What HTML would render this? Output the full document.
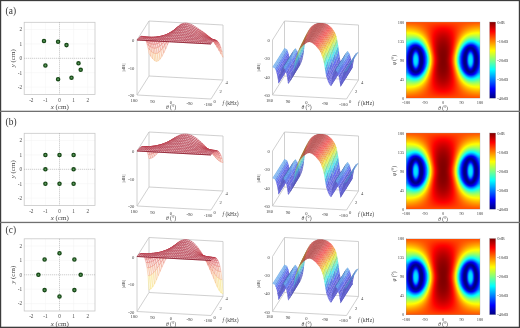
<!DOCTYPE html>
<html><head><meta charset="utf-8"><style>html,body{margin:0;padding:0;background:#fff;overflow:hidden}</style></head><body>
<svg width="520" height="328" viewBox="0 0 520 328" style="display:block;filter:blur(0.3px);font-family:'Liberation Serif',serif" font-size="5.2" fill="#444">
<rect width="520" height="328" fill="#fff"/>
<defs><linearGradient id="h0"><stop offset="0.000" stop-color="#ff5300"/><stop offset="0.027" stop-color="#ff5300"/><stop offset="0.054" stop-color="#ff5300"/><stop offset="0.081" stop-color="#ff5300"/><stop offset="0.108" stop-color="#ff5300"/><stop offset="0.135" stop-color="#ff5300"/><stop offset="0.162" stop-color="#ff5200"/><stop offset="0.189" stop-color="#ff5200"/><stop offset="0.216" stop-color="#ff5200"/><stop offset="0.243" stop-color="#ff5100"/><stop offset="0.270" stop-color="#ff5100"/><stop offset="0.297" stop-color="#ff5100"/><stop offset="0.324" stop-color="#ff5000"/><stop offset="0.351" stop-color="#ff5000"/><stop offset="0.378" stop-color="#ff4f00"/><stop offset="0.405" stop-color="#ff4f00"/><stop offset="0.432" stop-color="#ff4e00"/><stop offset="0.459" stop-color="#ff4d00"/><stop offset="0.486" stop-color="#ff4d00"/><stop offset="0.514" stop-color="#ff4c00"/><stop offset="0.541" stop-color="#ff4c00"/><stop offset="0.568" stop-color="#ff4b00"/><stop offset="0.595" stop-color="#ff4b00"/><stop offset="0.622" stop-color="#ff4a00"/><stop offset="0.649" stop-color="#ff4a00"/><stop offset="0.676" stop-color="#ff4900"/><stop offset="0.703" stop-color="#ff4900"/><stop offset="0.730" stop-color="#ff4800"/><stop offset="0.757" stop-color="#ff4800"/><stop offset="0.784" stop-color="#ff4700"/><stop offset="0.811" stop-color="#ff4700"/><stop offset="0.838" stop-color="#ff4700"/><stop offset="0.865" stop-color="#ff4600"/><stop offset="0.892" stop-color="#ff4600"/><stop offset="0.919" stop-color="#ff4600"/><stop offset="0.946" stop-color="#ff4600"/><stop offset="0.973" stop-color="#ff4600"/><stop offset="1.000" stop-color="#ff4600"/></linearGradient><linearGradient id="h1"><stop offset="0.000" stop-color="#ff6100"/><stop offset="0.027" stop-color="#ff6100"/><stop offset="0.054" stop-color="#ff6100"/><stop offset="0.081" stop-color="#ff6100"/><stop offset="0.108" stop-color="#ff6000"/><stop offset="0.135" stop-color="#ff6000"/><stop offset="0.162" stop-color="#ff5f00"/><stop offset="0.189" stop-color="#ff5e00"/><stop offset="0.216" stop-color="#ff5d00"/><stop offset="0.243" stop-color="#ff5c00"/><stop offset="0.270" stop-color="#ff5b00"/><stop offset="0.297" stop-color="#ff5900"/><stop offset="0.324" stop-color="#ff5800"/><stop offset="0.351" stop-color="#ff5600"/><stop offset="0.378" stop-color="#ff5500"/><stop offset="0.405" stop-color="#ff5300"/><stop offset="0.432" stop-color="#ff5200"/><stop offset="0.459" stop-color="#ff5000"/><stop offset="0.486" stop-color="#ff4e00"/><stop offset="0.514" stop-color="#ff4d00"/><stop offset="0.541" stop-color="#ff4b00"/><stop offset="0.568" stop-color="#ff4900"/><stop offset="0.595" stop-color="#ff4700"/><stop offset="0.622" stop-color="#ff4600"/><stop offset="0.649" stop-color="#ff4400"/><stop offset="0.676" stop-color="#ff4300"/><stop offset="0.703" stop-color="#ff4100"/><stop offset="0.730" stop-color="#ff4000"/><stop offset="0.757" stop-color="#ff3f00"/><stop offset="0.784" stop-color="#ff3e00"/><stop offset="0.811" stop-color="#ff3c00"/><stop offset="0.838" stop-color="#ff3c00"/><stop offset="0.865" stop-color="#ff3b00"/><stop offset="0.892" stop-color="#ff3a00"/><stop offset="0.919" stop-color="#ff3a00"/><stop offset="0.946" stop-color="#ff3900"/><stop offset="0.973" stop-color="#ff3900"/><stop offset="1.000" stop-color="#ff3900"/></linearGradient><linearGradient id="h2"><stop offset="0.000" stop-color="#ff7000"/><stop offset="0.027" stop-color="#ff7000"/><stop offset="0.054" stop-color="#ff6f00"/><stop offset="0.081" stop-color="#ff6f00"/><stop offset="0.108" stop-color="#ff6e00"/><stop offset="0.135" stop-color="#ff6d00"/><stop offset="0.162" stop-color="#ff6c00"/><stop offset="0.189" stop-color="#ff6a00"/><stop offset="0.216" stop-color="#ff6900"/><stop offset="0.243" stop-color="#ff6700"/><stop offset="0.270" stop-color="#ff6500"/><stop offset="0.297" stop-color="#ff6300"/><stop offset="0.324" stop-color="#ff6100"/><stop offset="0.351" stop-color="#ff5e00"/><stop offset="0.378" stop-color="#ff5c00"/><stop offset="0.405" stop-color="#ff5900"/><stop offset="0.432" stop-color="#ff5600"/><stop offset="0.459" stop-color="#ff5300"/><stop offset="0.486" stop-color="#ff5000"/><stop offset="0.514" stop-color="#ff4e00"/><stop offset="0.541" stop-color="#ff4b00"/><stop offset="0.568" stop-color="#ff4800"/><stop offset="0.595" stop-color="#ff4500"/><stop offset="0.622" stop-color="#ff4200"/><stop offset="0.649" stop-color="#ff4000"/><stop offset="0.676" stop-color="#ff3d00"/><stop offset="0.703" stop-color="#ff3b00"/><stop offset="0.730" stop-color="#ff3800"/><stop offset="0.757" stop-color="#ff3600"/><stop offset="0.784" stop-color="#ff3400"/><stop offset="0.811" stop-color="#ff3300"/><stop offset="0.838" stop-color="#ff3100"/><stop offset="0.865" stop-color="#ff3000"/><stop offset="0.892" stop-color="#ff2f00"/><stop offset="0.919" stop-color="#ff2e00"/><stop offset="0.946" stop-color="#ff2d00"/><stop offset="0.973" stop-color="#ff2d00"/><stop offset="1.000" stop-color="#ff2d00"/></linearGradient><linearGradient id="h3"><stop offset="0.000" stop-color="#ff7f00"/><stop offset="0.027" stop-color="#ff7f00"/><stop offset="0.054" stop-color="#ff7e00"/><stop offset="0.081" stop-color="#ff7d00"/><stop offset="0.108" stop-color="#ff7c00"/><stop offset="0.135" stop-color="#ff7b00"/><stop offset="0.162" stop-color="#ff7900"/><stop offset="0.189" stop-color="#ff7800"/><stop offset="0.216" stop-color="#ff7500"/><stop offset="0.243" stop-color="#ff7300"/><stop offset="0.270" stop-color="#ff7000"/><stop offset="0.297" stop-color="#ff6d00"/><stop offset="0.324" stop-color="#ff6a00"/><stop offset="0.351" stop-color="#ff6700"/><stop offset="0.378" stop-color="#ff6300"/><stop offset="0.405" stop-color="#ff5f00"/><stop offset="0.432" stop-color="#ff5c00"/><stop offset="0.459" stop-color="#ff5800"/><stop offset="0.486" stop-color="#ff5400"/><stop offset="0.514" stop-color="#ff4f00"/><stop offset="0.541" stop-color="#ff4b00"/><stop offset="0.568" stop-color="#ff4700"/><stop offset="0.595" stop-color="#ff4300"/><stop offset="0.622" stop-color="#ff3f00"/><stop offset="0.649" stop-color="#ff3c00"/><stop offset="0.676" stop-color="#ff3800"/><stop offset="0.703" stop-color="#ff3500"/><stop offset="0.730" stop-color="#ff3100"/><stop offset="0.757" stop-color="#ff2e00"/><stop offset="0.784" stop-color="#ff2c00"/><stop offset="0.811" stop-color="#ff2900"/><stop offset="0.838" stop-color="#ff2700"/><stop offset="0.865" stop-color="#ff2500"/><stop offset="0.892" stop-color="#ff2400"/><stop offset="0.919" stop-color="#ff2200"/><stop offset="0.946" stop-color="#ff2100"/><stop offset="0.973" stop-color="#ff2100"/><stop offset="1.000" stop-color="#ff2100"/></linearGradient><linearGradient id="h4"><stop offset="0.000" stop-color="#ff8e00"/><stop offset="0.027" stop-color="#ff8e00"/><stop offset="0.054" stop-color="#ff8e00"/><stop offset="0.081" stop-color="#ff8d00"/><stop offset="0.108" stop-color="#ff8b00"/><stop offset="0.135" stop-color="#ff8a00"/><stop offset="0.162" stop-color="#ff8800"/><stop offset="0.189" stop-color="#ff8600"/><stop offset="0.216" stop-color="#ff8300"/><stop offset="0.243" stop-color="#ff8000"/><stop offset="0.270" stop-color="#ff7c00"/><stop offset="0.297" stop-color="#ff7900"/><stop offset="0.324" stop-color="#ff7500"/><stop offset="0.351" stop-color="#ff7000"/><stop offset="0.378" stop-color="#ff6c00"/><stop offset="0.405" stop-color="#ff6700"/><stop offset="0.432" stop-color="#ff6200"/><stop offset="0.459" stop-color="#ff5d00"/><stop offset="0.486" stop-color="#ff5800"/><stop offset="0.514" stop-color="#ff5200"/><stop offset="0.541" stop-color="#ff4d00"/><stop offset="0.568" stop-color="#ff4800"/><stop offset="0.595" stop-color="#ff4200"/><stop offset="0.622" stop-color="#ff3d00"/><stop offset="0.649" stop-color="#ff3800"/><stop offset="0.676" stop-color="#ff3400"/><stop offset="0.703" stop-color="#ff2f00"/><stop offset="0.730" stop-color="#ff2b00"/><stop offset="0.757" stop-color="#ff2700"/><stop offset="0.784" stop-color="#ff2300"/><stop offset="0.811" stop-color="#ff2000"/><stop offset="0.838" stop-color="#ff1d00"/><stop offset="0.865" stop-color="#ff1b00"/><stop offset="0.892" stop-color="#ff1900"/><stop offset="0.919" stop-color="#ff1700"/><stop offset="0.946" stop-color="#ff1600"/><stop offset="0.973" stop-color="#ff1600"/><stop offset="1.000" stop-color="#ff1500"/></linearGradient><linearGradient id="h5"><stop offset="0.000" stop-color="#ff9f00"/><stop offset="0.027" stop-color="#ff9e00"/><stop offset="0.054" stop-color="#ff9e00"/><stop offset="0.081" stop-color="#ff9d00"/><stop offset="0.108" stop-color="#ff9b00"/><stop offset="0.135" stop-color="#ff9900"/><stop offset="0.162" stop-color="#ff9700"/><stop offset="0.189" stop-color="#ff9400"/><stop offset="0.216" stop-color="#ff9100"/><stop offset="0.243" stop-color="#ff8e00"/><stop offset="0.270" stop-color="#ff8a00"/><stop offset="0.297" stop-color="#ff8500"/><stop offset="0.324" stop-color="#ff8000"/><stop offset="0.351" stop-color="#ff7b00"/><stop offset="0.378" stop-color="#ff7500"/><stop offset="0.405" stop-color="#ff6f00"/><stop offset="0.432" stop-color="#ff6900"/><stop offset="0.459" stop-color="#ff6300"/><stop offset="0.486" stop-color="#ff5c00"/><stop offset="0.514" stop-color="#ff5600"/><stop offset="0.541" stop-color="#ff4f00"/><stop offset="0.568" stop-color="#ff4900"/><stop offset="0.595" stop-color="#ff4200"/><stop offset="0.622" stop-color="#ff3c00"/><stop offset="0.649" stop-color="#ff3600"/><stop offset="0.676" stop-color="#ff3000"/><stop offset="0.703" stop-color="#ff2a00"/><stop offset="0.730" stop-color="#ff2500"/><stop offset="0.757" stop-color="#ff2000"/><stop offset="0.784" stop-color="#ff1c00"/><stop offset="0.811" stop-color="#ff1800"/><stop offset="0.838" stop-color="#ff1400"/><stop offset="0.865" stop-color="#ff1100"/><stop offset="0.892" stop-color="#ff0f00"/><stop offset="0.919" stop-color="#ff0d00"/><stop offset="0.946" stop-color="#ff0c00"/><stop offset="0.973" stop-color="#ff0b00"/><stop offset="1.000" stop-color="#ff0b00"/></linearGradient><linearGradient id="h6"><stop offset="0.000" stop-color="#ffaf00"/><stop offset="0.027" stop-color="#ffaf00"/><stop offset="0.054" stop-color="#ffae00"/><stop offset="0.081" stop-color="#ffad00"/><stop offset="0.108" stop-color="#ffac00"/><stop offset="0.135" stop-color="#ffaa00"/><stop offset="0.162" stop-color="#ffa700"/><stop offset="0.189" stop-color="#ffa400"/><stop offset="0.216" stop-color="#ffa100"/><stop offset="0.243" stop-color="#ff9c00"/><stop offset="0.270" stop-color="#ff9800"/><stop offset="0.297" stop-color="#ff9300"/><stop offset="0.324" stop-color="#ff8d00"/><stop offset="0.351" stop-color="#ff8700"/><stop offset="0.378" stop-color="#ff8000"/><stop offset="0.405" stop-color="#ff7900"/><stop offset="0.432" stop-color="#ff7200"/><stop offset="0.459" stop-color="#ff6a00"/><stop offset="0.486" stop-color="#ff6200"/><stop offset="0.514" stop-color="#ff5a00"/><stop offset="0.541" stop-color="#ff5200"/><stop offset="0.568" stop-color="#ff4a00"/><stop offset="0.595" stop-color="#ff4300"/><stop offset="0.622" stop-color="#ff3b00"/><stop offset="0.649" stop-color="#ff3300"/><stop offset="0.676" stop-color="#ff2c00"/><stop offset="0.703" stop-color="#ff2600"/><stop offset="0.730" stop-color="#ff1f00"/><stop offset="0.757" stop-color="#ff1a00"/><stop offset="0.784" stop-color="#ff1400"/><stop offset="0.811" stop-color="#ff1000"/><stop offset="0.838" stop-color="#ff0c00"/><stop offset="0.865" stop-color="#ff0800"/><stop offset="0.892" stop-color="#ff0500"/><stop offset="0.919" stop-color="#ff0300"/><stop offset="0.946" stop-color="#ff0100"/><stop offset="0.973" stop-color="#ff0000"/><stop offset="1.000" stop-color="#ff0000"/></linearGradient><linearGradient id="h7"><stop offset="0.000" stop-color="#ffc100"/><stop offset="0.027" stop-color="#ffc000"/><stop offset="0.054" stop-color="#ffc000"/><stop offset="0.081" stop-color="#ffbf00"/><stop offset="0.108" stop-color="#ffbd00"/><stop offset="0.135" stop-color="#ffbb00"/><stop offset="0.162" stop-color="#ffb800"/><stop offset="0.189" stop-color="#ffb500"/><stop offset="0.216" stop-color="#ffb100"/><stop offset="0.243" stop-color="#ffad00"/><stop offset="0.270" stop-color="#ffa700"/><stop offset="0.297" stop-color="#ffa200"/><stop offset="0.324" stop-color="#ff9b00"/><stop offset="0.351" stop-color="#ff9400"/><stop offset="0.378" stop-color="#ff8c00"/><stop offset="0.405" stop-color="#ff8400"/><stop offset="0.432" stop-color="#ff7b00"/><stop offset="0.459" stop-color="#ff7200"/><stop offset="0.486" stop-color="#ff6900"/><stop offset="0.514" stop-color="#ff6000"/><stop offset="0.541" stop-color="#ff5600"/><stop offset="0.568" stop-color="#ff4d00"/><stop offset="0.595" stop-color="#ff4400"/><stop offset="0.622" stop-color="#ff3b00"/><stop offset="0.649" stop-color="#ff3200"/><stop offset="0.676" stop-color="#ff2a00"/><stop offset="0.703" stop-color="#ff2200"/><stop offset="0.730" stop-color="#ff1a00"/><stop offset="0.757" stop-color="#ff1400"/><stop offset="0.784" stop-color="#ff0e00"/><stop offset="0.811" stop-color="#ff0800"/><stop offset="0.838" stop-color="#ff0400"/><stop offset="0.865" stop-color="#fe0000"/><stop offset="0.892" stop-color="#fb0000"/><stop offset="0.919" stop-color="#f90000"/><stop offset="0.946" stop-color="#f70000"/><stop offset="0.973" stop-color="#f60000"/><stop offset="1.000" stop-color="#f50000"/></linearGradient><linearGradient id="h8"><stop offset="0.000" stop-color="#ffd200"/><stop offset="0.027" stop-color="#ffd200"/><stop offset="0.054" stop-color="#ffd200"/><stop offset="0.081" stop-color="#ffd100"/><stop offset="0.108" stop-color="#ffcf00"/><stop offset="0.135" stop-color="#ffcd00"/><stop offset="0.162" stop-color="#ffca00"/><stop offset="0.189" stop-color="#ffc700"/><stop offset="0.216" stop-color="#ffc300"/><stop offset="0.243" stop-color="#ffbe00"/><stop offset="0.270" stop-color="#ffb800"/><stop offset="0.297" stop-color="#ffb200"/><stop offset="0.324" stop-color="#ffab00"/><stop offset="0.351" stop-color="#ffa200"/><stop offset="0.378" stop-color="#ff9a00"/><stop offset="0.405" stop-color="#ff9000"/><stop offset="0.432" stop-color="#ff8600"/><stop offset="0.459" stop-color="#ff7c00"/><stop offset="0.486" stop-color="#ff7100"/><stop offset="0.514" stop-color="#ff6600"/><stop offset="0.541" stop-color="#ff5b00"/><stop offset="0.568" stop-color="#ff5000"/><stop offset="0.595" stop-color="#ff4500"/><stop offset="0.622" stop-color="#ff3b00"/><stop offset="0.649" stop-color="#ff3100"/><stop offset="0.676" stop-color="#ff2700"/><stop offset="0.703" stop-color="#ff1e00"/><stop offset="0.730" stop-color="#ff1600"/><stop offset="0.757" stop-color="#ff0e00"/><stop offset="0.784" stop-color="#ff0700"/><stop offset="0.811" stop-color="#ff0100"/><stop offset="0.838" stop-color="#fb0000"/><stop offset="0.865" stop-color="#f60000"/><stop offset="0.892" stop-color="#f20000"/><stop offset="0.919" stop-color="#f00000"/><stop offset="0.946" stop-color="#ed0000"/><stop offset="0.973" stop-color="#ec0000"/><stop offset="1.000" stop-color="#ec0000"/></linearGradient><linearGradient id="h9"><stop offset="0.000" stop-color="#ffe500"/><stop offset="0.027" stop-color="#ffe500"/><stop offset="0.054" stop-color="#ffe400"/><stop offset="0.081" stop-color="#ffe300"/><stop offset="0.108" stop-color="#ffe200"/><stop offset="0.135" stop-color="#ffe000"/><stop offset="0.162" stop-color="#ffdd00"/><stop offset="0.189" stop-color="#ffda00"/><stop offset="0.216" stop-color="#ffd600"/><stop offset="0.243" stop-color="#ffd100"/><stop offset="0.270" stop-color="#ffcb00"/><stop offset="0.297" stop-color="#ffc400"/><stop offset="0.324" stop-color="#ffbc00"/><stop offset="0.351" stop-color="#ffb300"/><stop offset="0.378" stop-color="#ffa900"/><stop offset="0.405" stop-color="#ff9e00"/><stop offset="0.432" stop-color="#ff9300"/><stop offset="0.459" stop-color="#ff8700"/><stop offset="0.486" stop-color="#ff7a00"/><stop offset="0.514" stop-color="#ff6e00"/><stop offset="0.541" stop-color="#ff6100"/><stop offset="0.568" stop-color="#ff5400"/><stop offset="0.595" stop-color="#ff4800"/><stop offset="0.622" stop-color="#ff3c00"/><stop offset="0.649" stop-color="#ff3100"/><stop offset="0.676" stop-color="#ff2600"/><stop offset="0.703" stop-color="#ff1b00"/><stop offset="0.730" stop-color="#ff1200"/><stop offset="0.757" stop-color="#ff0900"/><stop offset="0.784" stop-color="#ff0100"/><stop offset="0.811" stop-color="#f90000"/><stop offset="0.838" stop-color="#f30000"/><stop offset="0.865" stop-color="#ee0000"/><stop offset="0.892" stop-color="#ea0000"/><stop offset="0.919" stop-color="#e70000"/><stop offset="0.946" stop-color="#e50000"/><stop offset="0.973" stop-color="#e30000"/><stop offset="1.000" stop-color="#e30000"/></linearGradient><linearGradient id="h10"><stop offset="0.000" stop-color="#fff800"/><stop offset="0.027" stop-color="#fff800"/><stop offset="0.054" stop-color="#fff700"/><stop offset="0.081" stop-color="#fff700"/><stop offset="0.108" stop-color="#fff600"/><stop offset="0.135" stop-color="#fff400"/><stop offset="0.162" stop-color="#fff200"/><stop offset="0.189" stop-color="#ffef00"/><stop offset="0.216" stop-color="#ffeb00"/><stop offset="0.243" stop-color="#ffe500"/><stop offset="0.270" stop-color="#ffdf00"/><stop offset="0.297" stop-color="#ffd700"/><stop offset="0.324" stop-color="#ffcf00"/><stop offset="0.351" stop-color="#ffc500"/><stop offset="0.378" stop-color="#ffb900"/><stop offset="0.405" stop-color="#ffad00"/><stop offset="0.432" stop-color="#ffa000"/><stop offset="0.459" stop-color="#ff9300"/><stop offset="0.486" stop-color="#ff8500"/><stop offset="0.514" stop-color="#ff7600"/><stop offset="0.541" stop-color="#ff6800"/><stop offset="0.568" stop-color="#ff5900"/><stop offset="0.595" stop-color="#ff4b00"/><stop offset="0.622" stop-color="#ff3e00"/><stop offset="0.649" stop-color="#ff3100"/><stop offset="0.676" stop-color="#ff2400"/><stop offset="0.703" stop-color="#ff1900"/><stop offset="0.730" stop-color="#ff0e00"/><stop offset="0.757" stop-color="#ff0400"/><stop offset="0.784" stop-color="#fb0000"/><stop offset="0.811" stop-color="#f30000"/><stop offset="0.838" stop-color="#ed0000"/><stop offset="0.865" stop-color="#e70000"/><stop offset="0.892" stop-color="#e20000"/><stop offset="0.919" stop-color="#df0000"/><stop offset="0.946" stop-color="#dc0000"/><stop offset="0.973" stop-color="#db0000"/><stop offset="1.000" stop-color="#da0000"/></linearGradient><linearGradient id="h11"><stop offset="0.000" stop-color="#f2ff0d"/><stop offset="0.027" stop-color="#f2ff0d"/><stop offset="0.054" stop-color="#f3ff0c"/><stop offset="0.081" stop-color="#f3ff0c"/><stop offset="0.108" stop-color="#f3ff0c"/><stop offset="0.135" stop-color="#f4ff0b"/><stop offset="0.162" stop-color="#f6ff09"/><stop offset="0.189" stop-color="#f9ff06"/><stop offset="0.216" stop-color="#fdff02"/><stop offset="0.243" stop-color="#fffc00"/><stop offset="0.270" stop-color="#fff500"/><stop offset="0.297" stop-color="#ffed00"/><stop offset="0.324" stop-color="#ffe400"/><stop offset="0.351" stop-color="#ffd800"/><stop offset="0.378" stop-color="#ffcc00"/><stop offset="0.405" stop-color="#ffbe00"/><stop offset="0.432" stop-color="#ffb000"/><stop offset="0.459" stop-color="#ffa000"/><stop offset="0.486" stop-color="#ff9000"/><stop offset="0.514" stop-color="#ff8000"/><stop offset="0.541" stop-color="#ff7000"/><stop offset="0.568" stop-color="#ff5f00"/><stop offset="0.595" stop-color="#ff5000"/><stop offset="0.622" stop-color="#ff4000"/><stop offset="0.649" stop-color="#ff3100"/><stop offset="0.676" stop-color="#ff2400"/><stop offset="0.703" stop-color="#ff1700"/><stop offset="0.730" stop-color="#ff0b00"/><stop offset="0.757" stop-color="#ff0000"/><stop offset="0.784" stop-color="#f60000"/><stop offset="0.811" stop-color="#ed0000"/><stop offset="0.838" stop-color="#e60000"/><stop offset="0.865" stop-color="#e00000"/><stop offset="0.892" stop-color="#db0000"/><stop offset="0.919" stop-color="#d70000"/><stop offset="0.946" stop-color="#d40000"/><stop offset="0.973" stop-color="#d30000"/><stop offset="1.000" stop-color="#d20000"/></linearGradient><linearGradient id="h12"><stop offset="0.000" stop-color="#deff21"/><stop offset="0.027" stop-color="#deff21"/><stop offset="0.054" stop-color="#deff21"/><stop offset="0.081" stop-color="#ddff22"/><stop offset="0.108" stop-color="#ddff22"/><stop offset="0.135" stop-color="#deff21"/><stop offset="0.162" stop-color="#dfff20"/><stop offset="0.189" stop-color="#e1ff1e"/><stop offset="0.216" stop-color="#e4ff1b"/><stop offset="0.243" stop-color="#eaff15"/><stop offset="0.270" stop-color="#f0ff0f"/><stop offset="0.297" stop-color="#f9ff06"/><stop offset="0.324" stop-color="#fffb00"/><stop offset="0.351" stop-color="#ffef00"/><stop offset="0.378" stop-color="#ffe100"/><stop offset="0.405" stop-color="#ffd200"/><stop offset="0.432" stop-color="#ffc100"/><stop offset="0.459" stop-color="#ffb000"/><stop offset="0.486" stop-color="#ff9e00"/><stop offset="0.514" stop-color="#ff8b00"/><stop offset="0.541" stop-color="#ff7900"/><stop offset="0.568" stop-color="#ff6600"/><stop offset="0.595" stop-color="#ff5500"/><stop offset="0.622" stop-color="#ff4300"/><stop offset="0.649" stop-color="#ff3300"/><stop offset="0.676" stop-color="#ff2300"/><stop offset="0.703" stop-color="#ff1500"/><stop offset="0.730" stop-color="#ff0800"/><stop offset="0.757" stop-color="#fb0000"/><stop offset="0.784" stop-color="#f10000"/><stop offset="0.811" stop-color="#e80000"/><stop offset="0.838" stop-color="#e00000"/><stop offset="0.865" stop-color="#d90000"/><stop offset="0.892" stop-color="#d40000"/><stop offset="0.919" stop-color="#d00000"/><stop offset="0.946" stop-color="#cd0000"/><stop offset="0.973" stop-color="#cb0000"/><stop offset="1.000" stop-color="#cb0000"/></linearGradient><linearGradient id="h13"><stop offset="0.000" stop-color="#c9ff36"/><stop offset="0.027" stop-color="#c9ff36"/><stop offset="0.054" stop-color="#c8ff37"/><stop offset="0.081" stop-color="#c7ff38"/><stop offset="0.108" stop-color="#c6ff39"/><stop offset="0.135" stop-color="#c6ff39"/><stop offset="0.162" stop-color="#c6ff39"/><stop offset="0.189" stop-color="#c7ff38"/><stop offset="0.216" stop-color="#caff35"/><stop offset="0.243" stop-color="#cfff30"/><stop offset="0.270" stop-color="#d5ff2a"/><stop offset="0.297" stop-color="#deff21"/><stop offset="0.324" stop-color="#eaff15"/><stop offset="0.351" stop-color="#f7ff08"/><stop offset="0.378" stop-color="#fff800"/><stop offset="0.405" stop-color="#ffe700"/><stop offset="0.432" stop-color="#ffd400"/><stop offset="0.459" stop-color="#ffc100"/><stop offset="0.486" stop-color="#ffac00"/><stop offset="0.514" stop-color="#ff9800"/><stop offset="0.541" stop-color="#ff8300"/><stop offset="0.568" stop-color="#ff6e00"/><stop offset="0.595" stop-color="#ff5a00"/><stop offset="0.622" stop-color="#ff4700"/><stop offset="0.649" stop-color="#ff3500"/><stop offset="0.676" stop-color="#ff2400"/><stop offset="0.703" stop-color="#ff1400"/><stop offset="0.730" stop-color="#ff0600"/><stop offset="0.757" stop-color="#f80000"/><stop offset="0.784" stop-color="#ec0000"/><stop offset="0.811" stop-color="#e30000"/><stop offset="0.838" stop-color="#da0000"/><stop offset="0.865" stop-color="#d30000"/><stop offset="0.892" stop-color="#cd0000"/><stop offset="0.919" stop-color="#c90000"/><stop offset="0.946" stop-color="#c60000"/><stop offset="0.973" stop-color="#c40000"/><stop offset="1.000" stop-color="#c40000"/></linearGradient><linearGradient id="h14"><stop offset="0.000" stop-color="#b4ff4b"/><stop offset="0.027" stop-color="#b3ff4c"/><stop offset="0.054" stop-color="#b2ff4d"/><stop offset="0.081" stop-color="#b0ff4f"/><stop offset="0.108" stop-color="#aeff51"/><stop offset="0.135" stop-color="#acff53"/><stop offset="0.162" stop-color="#aaff55"/><stop offset="0.189" stop-color="#abff54"/><stop offset="0.216" stop-color="#adff52"/><stop offset="0.243" stop-color="#b1ff4e"/><stop offset="0.270" stop-color="#b8ff47"/><stop offset="0.297" stop-color="#c1ff3e"/><stop offset="0.324" stop-color="#cdff32"/><stop offset="0.351" stop-color="#dcff23"/><stop offset="0.378" stop-color="#edff12"/><stop offset="0.405" stop-color="#fffe00"/><stop offset="0.432" stop-color="#ffea00"/><stop offset="0.459" stop-color="#ffd400"/><stop offset="0.486" stop-color="#ffbd00"/><stop offset="0.514" stop-color="#ffa600"/><stop offset="0.541" stop-color="#ff8e00"/><stop offset="0.568" stop-color="#ff7800"/><stop offset="0.595" stop-color="#ff6100"/><stop offset="0.622" stop-color="#ff4c00"/><stop offset="0.649" stop-color="#ff3800"/><stop offset="0.676" stop-color="#ff2500"/><stop offset="0.703" stop-color="#ff1300"/><stop offset="0.730" stop-color="#ff0400"/><stop offset="0.757" stop-color="#f50000"/><stop offset="0.784" stop-color="#e80000"/><stop offset="0.811" stop-color="#de0000"/><stop offset="0.838" stop-color="#d50000"/><stop offset="0.865" stop-color="#cd0000"/><stop offset="0.892" stop-color="#c70000"/><stop offset="0.919" stop-color="#c30000"/><stop offset="0.946" stop-color="#bf0000"/><stop offset="0.973" stop-color="#bd0000"/><stop offset="1.000" stop-color="#bd0000"/></linearGradient><linearGradient id="h15"><stop offset="0.000" stop-color="#9eff61"/><stop offset="0.027" stop-color="#9dff62"/><stop offset="0.054" stop-color="#9bff64"/><stop offset="0.081" stop-color="#97ff68"/><stop offset="0.108" stop-color="#94ff6b"/><stop offset="0.135" stop-color="#90ff6f"/><stop offset="0.162" stop-color="#8dff72"/><stop offset="0.189" stop-color="#8cff73"/><stop offset="0.216" stop-color="#8dff72"/><stop offset="0.243" stop-color="#90ff6f"/><stop offset="0.270" stop-color="#97ff68"/><stop offset="0.297" stop-color="#a0ff5f"/><stop offset="0.324" stop-color="#adff52"/><stop offset="0.351" stop-color="#bdff42"/><stop offset="0.378" stop-color="#d0ff2f"/><stop offset="0.405" stop-color="#e5ff1a"/><stop offset="0.432" stop-color="#fdff02"/><stop offset="0.459" stop-color="#ffe900"/><stop offset="0.486" stop-color="#ffcf00"/><stop offset="0.514" stop-color="#ffb500"/><stop offset="0.541" stop-color="#ff9b00"/><stop offset="0.568" stop-color="#ff8200"/><stop offset="0.595" stop-color="#ff6900"/><stop offset="0.622" stop-color="#ff5100"/><stop offset="0.649" stop-color="#ff3b00"/><stop offset="0.676" stop-color="#ff2600"/><stop offset="0.703" stop-color="#ff1300"/><stop offset="0.730" stop-color="#ff0200"/><stop offset="0.757" stop-color="#f20000"/><stop offset="0.784" stop-color="#e50000"/><stop offset="0.811" stop-color="#d90000"/><stop offset="0.838" stop-color="#d00000"/><stop offset="0.865" stop-color="#c80000"/><stop offset="0.892" stop-color="#c10000"/><stop offset="0.919" stop-color="#bd0000"/><stop offset="0.946" stop-color="#b90000"/><stop offset="0.973" stop-color="#b70000"/><stop offset="1.000" stop-color="#b70000"/></linearGradient><linearGradient id="h16"><stop offset="0.000" stop-color="#87ff78"/><stop offset="0.027" stop-color="#86ff79"/><stop offset="0.054" stop-color="#83ff7c"/><stop offset="0.081" stop-color="#7eff81"/><stop offset="0.108" stop-color="#78ff87"/><stop offset="0.135" stop-color="#72ff8d"/><stop offset="0.162" stop-color="#6dff92"/><stop offset="0.189" stop-color="#6aff95"/><stop offset="0.216" stop-color="#69ff96"/><stop offset="0.243" stop-color="#6cff93"/><stop offset="0.270" stop-color="#72ff8d"/><stop offset="0.297" stop-color="#7cff83"/><stop offset="0.324" stop-color="#8aff75"/><stop offset="0.351" stop-color="#9cff63"/><stop offset="0.378" stop-color="#b1ff4e"/><stop offset="0.405" stop-color="#c8ff37"/><stop offset="0.432" stop-color="#e2ff1d"/><stop offset="0.459" stop-color="#feff01"/><stop offset="0.486" stop-color="#ffe400"/><stop offset="0.514" stop-color="#ffc700"/><stop offset="0.541" stop-color="#ffaa00"/><stop offset="0.568" stop-color="#ff8d00"/><stop offset="0.595" stop-color="#ff7200"/><stop offset="0.622" stop-color="#ff5800"/><stop offset="0.649" stop-color="#ff3f00"/><stop offset="0.676" stop-color="#ff2800"/><stop offset="0.703" stop-color="#ff1400"/><stop offset="0.730" stop-color="#ff0100"/><stop offset="0.757" stop-color="#f00000"/><stop offset="0.784" stop-color="#e10000"/><stop offset="0.811" stop-color="#d50000"/><stop offset="0.838" stop-color="#cb0000"/><stop offset="0.865" stop-color="#c20000"/><stop offset="0.892" stop-color="#bc0000"/><stop offset="0.919" stop-color="#b70000"/><stop offset="0.946" stop-color="#b30000"/><stop offset="0.973" stop-color="#b10000"/><stop offset="1.000" stop-color="#b10000"/></linearGradient><linearGradient id="h17"><stop offset="0.000" stop-color="#70ff8f"/><stop offset="0.027" stop-color="#6eff91"/><stop offset="0.054" stop-color="#69ff96"/><stop offset="0.081" stop-color="#62ff9d"/><stop offset="0.108" stop-color="#5affa5"/><stop offset="0.135" stop-color="#51ffae"/><stop offset="0.162" stop-color="#4affb5"/><stop offset="0.189" stop-color="#44ffbb"/><stop offset="0.216" stop-color="#42ffbd"/><stop offset="0.243" stop-color="#43ffbc"/><stop offset="0.270" stop-color="#49ffb6"/><stop offset="0.297" stop-color="#54ffab"/><stop offset="0.324" stop-color="#63ff9c"/><stop offset="0.351" stop-color="#77ff88"/><stop offset="0.378" stop-color="#8eff71"/><stop offset="0.405" stop-color="#a8ff57"/><stop offset="0.432" stop-color="#c5ff3a"/><stop offset="0.459" stop-color="#e4ff1b"/><stop offset="0.486" stop-color="#fffa00"/><stop offset="0.514" stop-color="#ffda00"/><stop offset="0.541" stop-color="#ffba00"/><stop offset="0.568" stop-color="#ff9a00"/><stop offset="0.595" stop-color="#ff7c00"/><stop offset="0.622" stop-color="#ff5f00"/><stop offset="0.649" stop-color="#ff4400"/><stop offset="0.676" stop-color="#ff2b00"/><stop offset="0.703" stop-color="#ff1500"/><stop offset="0.730" stop-color="#ff0100"/><stop offset="0.757" stop-color="#ee0000"/><stop offset="0.784" stop-color="#de0000"/><stop offset="0.811" stop-color="#d10000"/><stop offset="0.838" stop-color="#c70000"/><stop offset="0.865" stop-color="#be0000"/><stop offset="0.892" stop-color="#b70000"/><stop offset="0.919" stop-color="#b20000"/><stop offset="0.946" stop-color="#ae0000"/><stop offset="0.973" stop-color="#ac0000"/><stop offset="1.000" stop-color="#ab0000"/></linearGradient><linearGradient id="h18"><stop offset="0.000" stop-color="#58ffa7"/><stop offset="0.027" stop-color="#55ffaa"/><stop offset="0.054" stop-color="#4fffb0"/><stop offset="0.081" stop-color="#45ffba"/><stop offset="0.108" stop-color="#3affc5"/><stop offset="0.135" stop-color="#2effd1"/><stop offset="0.162" stop-color="#23ffdc"/><stop offset="0.189" stop-color="#1affe5"/><stop offset="0.216" stop-color="#16ffe9"/><stop offset="0.243" stop-color="#16ffe9"/><stop offset="0.270" stop-color="#1cffe3"/><stop offset="0.297" stop-color="#27ffd8"/><stop offset="0.324" stop-color="#38ffc7"/><stop offset="0.351" stop-color="#4effb1"/><stop offset="0.378" stop-color="#68ff97"/><stop offset="0.405" stop-color="#85ff7a"/><stop offset="0.432" stop-color="#a6ff59"/><stop offset="0.459" stop-color="#c8ff37"/><stop offset="0.486" stop-color="#ebff14"/><stop offset="0.514" stop-color="#ffef00"/><stop offset="0.541" stop-color="#ffcb00"/><stop offset="0.568" stop-color="#ffa800"/><stop offset="0.595" stop-color="#ff8700"/><stop offset="0.622" stop-color="#ff6700"/><stop offset="0.649" stop-color="#ff4a00"/><stop offset="0.676" stop-color="#ff2f00"/><stop offset="0.703" stop-color="#ff1600"/><stop offset="0.730" stop-color="#ff0000"/><stop offset="0.757" stop-color="#ec0000"/><stop offset="0.784" stop-color="#dc0000"/><stop offset="0.811" stop-color="#ce0000"/><stop offset="0.838" stop-color="#c20000"/><stop offset="0.865" stop-color="#b90000"/><stop offset="0.892" stop-color="#b20000"/><stop offset="0.919" stop-color="#ad0000"/><stop offset="0.946" stop-color="#a90000"/><stop offset="0.973" stop-color="#a70000"/><stop offset="1.000" stop-color="#a60000"/></linearGradient><linearGradient id="h19"><stop offset="0.000" stop-color="#3fffc0"/><stop offset="0.027" stop-color="#3cffc3"/><stop offset="0.054" stop-color="#34ffcb"/><stop offset="0.081" stop-color="#27ffd8"/><stop offset="0.108" stop-color="#17ffe8"/><stop offset="0.135" stop-color="#07fff8"/><stop offset="0.162" stop-color="#00f6ff"/><stop offset="0.189" stop-color="#00ebff"/><stop offset="0.216" stop-color="#00e4ff"/><stop offset="0.243" stop-color="#00e3ff"/><stop offset="0.270" stop-color="#00e8ff"/><stop offset="0.297" stop-color="#00f4ff"/><stop offset="0.324" stop-color="#08fff7"/><stop offset="0.351" stop-color="#20ffdf"/><stop offset="0.378" stop-color="#3dffc2"/><stop offset="0.405" stop-color="#5effa1"/><stop offset="0.432" stop-color="#83ff7c"/><stop offset="0.459" stop-color="#a9ff56"/><stop offset="0.486" stop-color="#d0ff2f"/><stop offset="0.514" stop-color="#f8ff07"/><stop offset="0.541" stop-color="#ffde00"/><stop offset="0.568" stop-color="#ffb800"/><stop offset="0.595" stop-color="#ff9300"/><stop offset="0.622" stop-color="#ff7100"/><stop offset="0.649" stop-color="#ff5000"/><stop offset="0.676" stop-color="#ff3300"/><stop offset="0.703" stop-color="#ff1800"/><stop offset="0.730" stop-color="#ff0100"/><stop offset="0.757" stop-color="#eb0000"/><stop offset="0.784" stop-color="#da0000"/><stop offset="0.811" stop-color="#cb0000"/><stop offset="0.838" stop-color="#bf0000"/><stop offset="0.865" stop-color="#b50000"/><stop offset="0.892" stop-color="#ae0000"/><stop offset="0.919" stop-color="#a80000"/><stop offset="0.946" stop-color="#a40000"/><stop offset="0.973" stop-color="#a20000"/><stop offset="1.000" stop-color="#a10000"/></linearGradient><linearGradient id="h20"><stop offset="0.000" stop-color="#26ffd9"/><stop offset="0.027" stop-color="#22ffdd"/><stop offset="0.054" stop-color="#17ffe8"/><stop offset="0.081" stop-color="#06fff9"/><stop offset="0.108" stop-color="#00f0ff"/><stop offset="0.135" stop-color="#00daff"/><stop offset="0.162" stop-color="#00c6ff"/><stop offset="0.189" stop-color="#00b6ff"/><stop offset="0.216" stop-color="#00acff"/><stop offset="0.243" stop-color="#00aaff"/><stop offset="0.270" stop-color="#00afff"/><stop offset="0.297" stop-color="#00bdff"/><stop offset="0.324" stop-color="#00d1ff"/><stop offset="0.351" stop-color="#00ecff"/><stop offset="0.378" stop-color="#0efff1"/><stop offset="0.405" stop-color="#34ffcb"/><stop offset="0.432" stop-color="#5cffa3"/><stop offset="0.459" stop-color="#87ff78"/><stop offset="0.486" stop-color="#b3ff4c"/><stop offset="0.514" stop-color="#dfff20"/><stop offset="0.541" stop-color="#fff300"/><stop offset="0.568" stop-color="#ffc900"/><stop offset="0.595" stop-color="#ffa100"/><stop offset="0.622" stop-color="#ff7b00"/><stop offset="0.649" stop-color="#ff5800"/><stop offset="0.676" stop-color="#ff3800"/><stop offset="0.703" stop-color="#ff1b00"/><stop offset="0.730" stop-color="#ff0200"/><stop offset="0.757" stop-color="#eb0000"/><stop offset="0.784" stop-color="#d80000"/><stop offset="0.811" stop-color="#c80000"/><stop offset="0.838" stop-color="#bb0000"/><stop offset="0.865" stop-color="#b10000"/><stop offset="0.892" stop-color="#a90000"/><stop offset="0.919" stop-color="#a40000"/><stop offset="0.946" stop-color="#a00000"/><stop offset="0.973" stop-color="#9e0000"/><stop offset="1.000" stop-color="#9d0000"/></linearGradient><linearGradient id="h21"><stop offset="0.000" stop-color="#0cfff3"/><stop offset="0.027" stop-color="#07fff8"/><stop offset="0.054" stop-color="#00f7ff"/><stop offset="0.081" stop-color="#00e1ff"/><stop offset="0.108" stop-color="#00c6ff"/><stop offset="0.135" stop-color="#00aaff"/><stop offset="0.162" stop-color="#0090ff"/><stop offset="0.189" stop-color="#007bff"/><stop offset="0.216" stop-color="#006eff"/><stop offset="0.243" stop-color="#006aff"/><stop offset="0.270" stop-color="#0070ff"/><stop offset="0.297" stop-color="#007fff"/><stop offset="0.324" stop-color="#0096ff"/><stop offset="0.351" stop-color="#00b5ff"/><stop offset="0.378" stop-color="#00daff"/><stop offset="0.405" stop-color="#05fffa"/><stop offset="0.432" stop-color="#33ffcc"/><stop offset="0.459" stop-color="#62ff9d"/><stop offset="0.486" stop-color="#93ff6c"/><stop offset="0.514" stop-color="#c4ff3b"/><stop offset="0.541" stop-color="#f4ff0b"/><stop offset="0.568" stop-color="#ffdc00"/><stop offset="0.595" stop-color="#ffb000"/><stop offset="0.622" stop-color="#ff8600"/><stop offset="0.649" stop-color="#ff6000"/><stop offset="0.676" stop-color="#ff3e00"/><stop offset="0.703" stop-color="#ff1f00"/><stop offset="0.730" stop-color="#ff0300"/><stop offset="0.757" stop-color="#eb0000"/><stop offset="0.784" stop-color="#d70000"/><stop offset="0.811" stop-color="#c60000"/><stop offset="0.838" stop-color="#b80000"/><stop offset="0.865" stop-color="#ae0000"/><stop offset="0.892" stop-color="#a60000"/><stop offset="0.919" stop-color="#a00000"/><stop offset="0.946" stop-color="#9c0000"/><stop offset="0.973" stop-color="#9a0000"/><stop offset="1.000" stop-color="#990000"/></linearGradient><linearGradient id="h22"><stop offset="0.000" stop-color="#00f0ff"/><stop offset="0.027" stop-color="#00e9ff"/><stop offset="0.054" stop-color="#00d6ff"/><stop offset="0.081" stop-color="#00baff"/><stop offset="0.108" stop-color="#0097ff"/><stop offset="0.135" stop-color="#0073ff"/><stop offset="0.162" stop-color="#0052ff"/><stop offset="0.189" stop-color="#0038ff"/><stop offset="0.216" stop-color="#0028ff"/><stop offset="0.243" stop-color="#0022ff"/><stop offset="0.270" stop-color="#0028ff"/><stop offset="0.297" stop-color="#003aff"/><stop offset="0.324" stop-color="#0055ff"/><stop offset="0.351" stop-color="#0078ff"/><stop offset="0.378" stop-color="#00a2ff"/><stop offset="0.405" stop-color="#00d2ff"/><stop offset="0.432" stop-color="#06fff9"/><stop offset="0.459" stop-color="#3bffc4"/><stop offset="0.486" stop-color="#71ff8e"/><stop offset="0.514" stop-color="#a7ff58"/><stop offset="0.541" stop-color="#dcff23"/><stop offset="0.568" stop-color="#fff000"/><stop offset="0.595" stop-color="#ffc000"/><stop offset="0.622" stop-color="#ff9300"/><stop offset="0.649" stop-color="#ff6a00"/><stop offset="0.676" stop-color="#ff4400"/><stop offset="0.703" stop-color="#ff2300"/><stop offset="0.730" stop-color="#ff0500"/><stop offset="0.757" stop-color="#eb0000"/><stop offset="0.784" stop-color="#d60000"/><stop offset="0.811" stop-color="#c40000"/><stop offset="0.838" stop-color="#b60000"/><stop offset="0.865" stop-color="#ab0000"/><stop offset="0.892" stop-color="#a20000"/><stop offset="0.919" stop-color="#9c0000"/><stop offset="0.946" stop-color="#980000"/><stop offset="0.973" stop-color="#960000"/><stop offset="1.000" stop-color="#950000"/></linearGradient><linearGradient id="h23"><stop offset="0.000" stop-color="#00d5ff"/><stop offset="0.027" stop-color="#00ccff"/><stop offset="0.054" stop-color="#00b4ff"/><stop offset="0.081" stop-color="#008eff"/><stop offset="0.108" stop-color="#0062ff"/><stop offset="0.135" stop-color="#0035ff"/><stop offset="0.162" stop-color="#000cff"/><stop offset="0.189" stop-color="#0000ed"/><stop offset="0.216" stop-color="#0000dd"/><stop offset="0.243" stop-color="#0000d5"/><stop offset="0.270" stop-color="#0000d8"/><stop offset="0.297" stop-color="#0000ec"/><stop offset="0.324" stop-color="#000dff"/><stop offset="0.351" stop-color="#0035ff"/><stop offset="0.378" stop-color="#0065ff"/><stop offset="0.405" stop-color="#009bff"/><stop offset="0.432" stop-color="#00d4ff"/><stop offset="0.459" stop-color="#11ffee"/><stop offset="0.486" stop-color="#4cffb3"/><stop offset="0.514" stop-color="#88ff77"/><stop offset="0.541" stop-color="#c1ff3e"/><stop offset="0.568" stop-color="#f9ff06"/><stop offset="0.595" stop-color="#ffd100"/><stop offset="0.622" stop-color="#ffa100"/><stop offset="0.649" stop-color="#ff7400"/><stop offset="0.676" stop-color="#ff4c00"/><stop offset="0.703" stop-color="#ff2800"/><stop offset="0.730" stop-color="#ff0800"/><stop offset="0.757" stop-color="#ec0000"/><stop offset="0.784" stop-color="#d50000"/><stop offset="0.811" stop-color="#c20000"/><stop offset="0.838" stop-color="#b30000"/><stop offset="0.865" stop-color="#a80000"/><stop offset="0.892" stop-color="#9f0000"/><stop offset="0.919" stop-color="#990000"/><stop offset="0.946" stop-color="#950000"/><stop offset="0.973" stop-color="#930000"/><stop offset="1.000" stop-color="#920000"/></linearGradient><linearGradient id="h24"><stop offset="0.000" stop-color="#00b9ff"/><stop offset="0.027" stop-color="#00aeff"/><stop offset="0.054" stop-color="#008eff"/><stop offset="0.081" stop-color="#005eff"/><stop offset="0.108" stop-color="#0028ff"/><stop offset="0.135" stop-color="#0003ff"/><stop offset="0.162" stop-color="#0000e2"/><stop offset="0.189" stop-color="#0000c9"/><stop offset="0.216" stop-color="#0000b9"/><stop offset="0.243" stop-color="#0000b1"/><stop offset="0.270" stop-color="#0000b1"/><stop offset="0.297" stop-color="#0000ba"/><stop offset="0.324" stop-color="#0000cb"/><stop offset="0.351" stop-color="#0000ec"/><stop offset="0.378" stop-color="#0024ff"/><stop offset="0.405" stop-color="#0061ff"/><stop offset="0.432" stop-color="#00a1ff"/><stop offset="0.459" stop-color="#00e2ff"/><stop offset="0.486" stop-color="#25ffda"/><stop offset="0.514" stop-color="#66ff99"/><stop offset="0.541" stop-color="#a5ff5a"/><stop offset="0.568" stop-color="#e1ff1e"/><stop offset="0.595" stop-color="#ffe400"/><stop offset="0.622" stop-color="#ffb000"/><stop offset="0.649" stop-color="#ff7f00"/><stop offset="0.676" stop-color="#ff5400"/><stop offset="0.703" stop-color="#ff2d00"/><stop offset="0.730" stop-color="#ff0c00"/><stop offset="0.757" stop-color="#ee0000"/><stop offset="0.784" stop-color="#d50000"/><stop offset="0.811" stop-color="#c10000"/><stop offset="0.838" stop-color="#b20000"/><stop offset="0.865" stop-color="#a50000"/><stop offset="0.892" stop-color="#9c0000"/><stop offset="0.919" stop-color="#960000"/><stop offset="0.946" stop-color="#920000"/><stop offset="0.973" stop-color="#900000"/><stop offset="1.000" stop-color="#8f0000"/></linearGradient><linearGradient id="h25"><stop offset="0.000" stop-color="#009cff"/><stop offset="0.027" stop-color="#008eff"/><stop offset="0.054" stop-color="#0066ff"/><stop offset="0.081" stop-color="#0036ff"/><stop offset="0.108" stop-color="#000aff"/><stop offset="0.135" stop-color="#0000e2"/><stop offset="0.162" stop-color="#0000c0"/><stop offset="0.189" stop-color="#0000a6"/><stop offset="0.216" stop-color="#000097"/><stop offset="0.243" stop-color="#000090"/><stop offset="0.270" stop-color="#000091"/><stop offset="0.297" stop-color="#000097"/><stop offset="0.324" stop-color="#0000a8"/><stop offset="0.351" stop-color="#0000c3"/><stop offset="0.378" stop-color="#0000e5"/><stop offset="0.405" stop-color="#0022ff"/><stop offset="0.432" stop-color="#006aff"/><stop offset="0.459" stop-color="#00b3ff"/><stop offset="0.486" stop-color="#00fbff"/><stop offset="0.514" stop-color="#43ffbc"/><stop offset="0.541" stop-color="#88ff77"/><stop offset="0.568" stop-color="#c9ff36"/><stop offset="0.595" stop-color="#fff800"/><stop offset="0.622" stop-color="#ffbf00"/><stop offset="0.649" stop-color="#ff8c00"/><stop offset="0.676" stop-color="#ff5d00"/><stop offset="0.703" stop-color="#ff3400"/><stop offset="0.730" stop-color="#ff1000"/><stop offset="0.757" stop-color="#f00000"/><stop offset="0.784" stop-color="#d60000"/><stop offset="0.811" stop-color="#c10000"/><stop offset="0.838" stop-color="#b00000"/><stop offset="0.865" stop-color="#a30000"/><stop offset="0.892" stop-color="#9a0000"/><stop offset="0.919" stop-color="#930000"/><stop offset="0.946" stop-color="#8f0000"/><stop offset="0.973" stop-color="#8d0000"/><stop offset="1.000" stop-color="#8c0000"/></linearGradient><linearGradient id="h26"><stop offset="0.000" stop-color="#0080ff"/><stop offset="0.027" stop-color="#0080ff"/><stop offset="0.054" stop-color="#004dff"/><stop offset="0.081" stop-color="#001bff"/><stop offset="0.108" stop-color="#0000ec"/><stop offset="0.135" stop-color="#0000c3"/><stop offset="0.162" stop-color="#00009f"/><stop offset="0.189" stop-color="#000085"/><stop offset="0.216" stop-color="#00008a"/><stop offset="0.243" stop-color="#000093"/><stop offset="0.270" stop-color="#000093"/><stop offset="0.297" stop-color="#00008a"/><stop offset="0.324" stop-color="#000087"/><stop offset="0.351" stop-color="#0000a2"/><stop offset="0.378" stop-color="#0000c6"/><stop offset="0.405" stop-color="#0000f0"/><stop offset="0.432" stop-color="#0031ff"/><stop offset="0.459" stop-color="#0081ff"/><stop offset="0.486" stop-color="#00d1ff"/><stop offset="0.514" stop-color="#1fffe0"/><stop offset="0.541" stop-color="#69ff96"/><stop offset="0.568" stop-color="#b0ff4f"/><stop offset="0.595" stop-color="#f1ff0e"/><stop offset="0.622" stop-color="#ffd000"/><stop offset="0.649" stop-color="#ff9900"/><stop offset="0.676" stop-color="#ff6700"/><stop offset="0.703" stop-color="#ff3b00"/><stop offset="0.730" stop-color="#ff1400"/><stop offset="0.757" stop-color="#f30000"/><stop offset="0.784" stop-color="#d70000"/><stop offset="0.811" stop-color="#c10000"/><stop offset="0.838" stop-color="#af0000"/><stop offset="0.865" stop-color="#a10000"/><stop offset="0.892" stop-color="#980000"/><stop offset="0.919" stop-color="#910000"/><stop offset="0.946" stop-color="#8d0000"/><stop offset="0.973" stop-color="#8a0000"/><stop offset="1.000" stop-color="#8a0000"/></linearGradient><linearGradient id="h27"><stop offset="0.000" stop-color="#0080ff"/><stop offset="0.027" stop-color="#006cff"/><stop offset="0.054" stop-color="#0035ff"/><stop offset="0.081" stop-color="#0001ff"/><stop offset="0.108" stop-color="#0000d0"/><stop offset="0.135" stop-color="#0000a4"/><stop offset="0.162" stop-color="#000080"/><stop offset="0.189" stop-color="#000088"/><stop offset="0.216" stop-color="#00009c"/><stop offset="0.243" stop-color="#0000af"/><stop offset="0.270" stop-color="#0000ae"/><stop offset="0.297" stop-color="#00009a"/><stop offset="0.324" stop-color="#000087"/><stop offset="0.351" stop-color="#000082"/><stop offset="0.378" stop-color="#0000a8"/><stop offset="0.405" stop-color="#0000d4"/><stop offset="0.432" stop-color="#0006ff"/><stop offset="0.459" stop-color="#004eff"/><stop offset="0.486" stop-color="#00a5ff"/><stop offset="0.514" stop-color="#00f9ff"/><stop offset="0.541" stop-color="#4affb5"/><stop offset="0.568" stop-color="#95ff6a"/><stop offset="0.595" stop-color="#dcff23"/><stop offset="0.622" stop-color="#ffe200"/><stop offset="0.649" stop-color="#ffa700"/><stop offset="0.676" stop-color="#ff7200"/><stop offset="0.703" stop-color="#ff4300"/><stop offset="0.730" stop-color="#ff1a00"/><stop offset="0.757" stop-color="#f60000"/><stop offset="0.784" stop-color="#d90000"/><stop offset="0.811" stop-color="#c10000"/><stop offset="0.838" stop-color="#ae0000"/><stop offset="0.865" stop-color="#a00000"/><stop offset="0.892" stop-color="#960000"/><stop offset="0.919" stop-color="#8f0000"/><stop offset="0.946" stop-color="#8b0000"/><stop offset="0.973" stop-color="#880000"/><stop offset="1.000" stop-color="#880000"/></linearGradient><linearGradient id="h28"><stop offset="0.000" stop-color="#0080ff"/><stop offset="0.027" stop-color="#0057ff"/><stop offset="0.054" stop-color="#001fff"/><stop offset="0.081" stop-color="#0000e8"/><stop offset="0.108" stop-color="#0000b5"/><stop offset="0.135" stop-color="#000087"/><stop offset="0.162" stop-color="#000083"/><stop offset="0.189" stop-color="#000095"/><stop offset="0.216" stop-color="#0000bc"/><stop offset="0.243" stop-color="#0000db"/><stop offset="0.270" stop-color="#0000da"/><stop offset="0.297" stop-color="#0000b8"/><stop offset="0.324" stop-color="#000093"/><stop offset="0.351" stop-color="#000082"/><stop offset="0.378" stop-color="#00008b"/><stop offset="0.405" stop-color="#0000ba"/><stop offset="0.432" stop-color="#0000ed"/><stop offset="0.459" stop-color="#0024ff"/><stop offset="0.486" stop-color="#0078ff"/><stop offset="0.514" stop-color="#00d3ff"/><stop offset="0.541" stop-color="#2affd5"/><stop offset="0.568" stop-color="#7bff84"/><stop offset="0.595" stop-color="#c5ff3a"/><stop offset="0.622" stop-color="#fff400"/><stop offset="0.649" stop-color="#ffb500"/><stop offset="0.676" stop-color="#ff7d00"/><stop offset="0.703" stop-color="#ff4b00"/><stop offset="0.730" stop-color="#ff2000"/><stop offset="0.757" stop-color="#fa0000"/><stop offset="0.784" stop-color="#db0000"/><stop offset="0.811" stop-color="#c20000"/><stop offset="0.838" stop-color="#ae0000"/><stop offset="0.865" stop-color="#9f0000"/><stop offset="0.892" stop-color="#940000"/><stop offset="0.919" stop-color="#8d0000"/><stop offset="0.946" stop-color="#890000"/><stop offset="0.973" stop-color="#870000"/><stop offset="1.000" stop-color="#860000"/></linearGradient><linearGradient id="h29"><stop offset="0.000" stop-color="#0080ff"/><stop offset="0.027" stop-color="#0044ff"/><stop offset="0.054" stop-color="#000aff"/><stop offset="0.081" stop-color="#0000d1"/><stop offset="0.108" stop-color="#00009c"/><stop offset="0.135" stop-color="#000080"/><stop offset="0.162" stop-color="#000087"/><stop offset="0.189" stop-color="#0000ac"/><stop offset="0.216" stop-color="#0000e9"/><stop offset="0.243" stop-color="#0015ff"/><stop offset="0.270" stop-color="#0013ff"/><stop offset="0.297" stop-color="#0000e4"/><stop offset="0.324" stop-color="#0000a7"/><stop offset="0.351" stop-color="#000086"/><stop offset="0.378" stop-color="#000080"/><stop offset="0.405" stop-color="#0000a1"/><stop offset="0.432" stop-color="#0000d6"/><stop offset="0.459" stop-color="#000fff"/><stop offset="0.486" stop-color="#004cff"/><stop offset="0.514" stop-color="#00adff"/><stop offset="0.541" stop-color="#0afff5"/><stop offset="0.568" stop-color="#60ff9f"/><stop offset="0.595" stop-color="#afff50"/><stop offset="0.622" stop-color="#f8ff07"/><stop offset="0.649" stop-color="#ffc400"/><stop offset="0.676" stop-color="#ff8900"/><stop offset="0.703" stop-color="#ff5400"/><stop offset="0.730" stop-color="#ff2700"/><stop offset="0.757" stop-color="#fe0000"/><stop offset="0.784" stop-color="#de0000"/><stop offset="0.811" stop-color="#c30000"/><stop offset="0.838" stop-color="#ae0000"/><stop offset="0.865" stop-color="#9e0000"/><stop offset="0.892" stop-color="#930000"/><stop offset="0.919" stop-color="#8c0000"/><stop offset="0.946" stop-color="#870000"/><stop offset="0.973" stop-color="#850000"/><stop offset="1.000" stop-color="#840000"/></linearGradient><linearGradient id="h30"><stop offset="0.000" stop-color="#0070ff"/><stop offset="0.027" stop-color="#0033ff"/><stop offset="0.054" stop-color="#0000f6"/><stop offset="0.081" stop-color="#0000bc"/><stop offset="0.108" stop-color="#000085"/><stop offset="0.135" stop-color="#000080"/><stop offset="0.162" stop-color="#000090"/><stop offset="0.189" stop-color="#0000cc"/><stop offset="0.216" stop-color="#001fff"/><stop offset="0.243" stop-color="#0051ff"/><stop offset="0.270" stop-color="#004fff"/><stop offset="0.297" stop-color="#0019ff"/><stop offset="0.324" stop-color="#0000c5"/><stop offset="0.351" stop-color="#00008d"/><stop offset="0.378" stop-color="#000080"/><stop offset="0.405" stop-color="#000089"/><stop offset="0.432" stop-color="#0000c1"/><stop offset="0.459" stop-color="#0000fb"/><stop offset="0.486" stop-color="#0038ff"/><stop offset="0.514" stop-color="#0088ff"/><stop offset="0.541" stop-color="#00eaff"/><stop offset="0.568" stop-color="#46ffb9"/><stop offset="0.595" stop-color="#99ff66"/><stop offset="0.622" stop-color="#e6ff19"/><stop offset="0.649" stop-color="#ffd300"/><stop offset="0.676" stop-color="#ff9400"/><stop offset="0.703" stop-color="#ff5e00"/><stop offset="0.730" stop-color="#ff2e00"/><stop offset="0.757" stop-color="#ff0500"/><stop offset="0.784" stop-color="#e10000"/><stop offset="0.811" stop-color="#c50000"/><stop offset="0.838" stop-color="#af0000"/><stop offset="0.865" stop-color="#9e0000"/><stop offset="0.892" stop-color="#920000"/><stop offset="0.919" stop-color="#8a0000"/><stop offset="0.946" stop-color="#860000"/><stop offset="0.973" stop-color="#840000"/><stop offset="1.000" stop-color="#830000"/></linearGradient><linearGradient id="h31"><stop offset="0.000" stop-color="#0062ff"/><stop offset="0.027" stop-color="#0023ff"/><stop offset="0.054" stop-color="#0000e5"/><stop offset="0.081" stop-color="#0000a9"/><stop offset="0.108" stop-color="#000080"/><stop offset="0.135" stop-color="#000082"/><stop offset="0.162" stop-color="#00009d"/><stop offset="0.189" stop-color="#0000f3"/><stop offset="0.216" stop-color="#0055ff"/><stop offset="0.243" stop-color="#0087ff"/><stop offset="0.270" stop-color="#0084ff"/><stop offset="0.297" stop-color="#004eff"/><stop offset="0.324" stop-color="#0000ea"/><stop offset="0.351" stop-color="#000099"/><stop offset="0.378" stop-color="#000081"/><stop offset="0.405" stop-color="#000080"/><stop offset="0.432" stop-color="#0000ae"/><stop offset="0.459" stop-color="#0000ea"/><stop offset="0.486" stop-color="#0029ff"/><stop offset="0.514" stop-color="#0068ff"/><stop offset="0.541" stop-color="#00ccff"/><stop offset="0.568" stop-color="#2dffd2"/><stop offset="0.595" stop-color="#84ff7b"/><stop offset="0.622" stop-color="#d5ff2a"/><stop offset="0.649" stop-color="#ffe100"/><stop offset="0.676" stop-color="#ffa000"/><stop offset="0.703" stop-color="#ff6700"/><stop offset="0.730" stop-color="#ff3500"/><stop offset="0.757" stop-color="#ff0a00"/><stop offset="0.784" stop-color="#e50000"/><stop offset="0.811" stop-color="#c70000"/><stop offset="0.838" stop-color="#b00000"/><stop offset="0.865" stop-color="#9e0000"/><stop offset="0.892" stop-color="#910000"/><stop offset="0.919" stop-color="#890000"/><stop offset="0.946" stop-color="#850000"/><stop offset="0.973" stop-color="#830000"/><stop offset="1.000" stop-color="#820000"/></linearGradient><linearGradient id="h32"><stop offset="0.000" stop-color="#0056ff"/><stop offset="0.027" stop-color="#0016ff"/><stop offset="0.054" stop-color="#0000d5"/><stop offset="0.081" stop-color="#000098"/><stop offset="0.108" stop-color="#000080"/><stop offset="0.135" stop-color="#000084"/><stop offset="0.162" stop-color="#0000af"/><stop offset="0.189" stop-color="#001dff"/><stop offset="0.216" stop-color="#0083ff"/><stop offset="0.243" stop-color="#00b0ff"/><stop offset="0.270" stop-color="#00aeff"/><stop offset="0.297" stop-color="#007cff"/><stop offset="0.324" stop-color="#0012ff"/><stop offset="0.351" stop-color="#0000a8"/><stop offset="0.378" stop-color="#000083"/><stop offset="0.405" stop-color="#000080"/><stop offset="0.432" stop-color="#00009d"/><stop offset="0.459" stop-color="#0000db"/><stop offset="0.486" stop-color="#001bff"/><stop offset="0.514" stop-color="#005bff"/><stop offset="0.541" stop-color="#00b1ff"/><stop offset="0.568" stop-color="#15ffea"/><stop offset="0.595" stop-color="#71ff8e"/><stop offset="0.622" stop-color="#c4ff3b"/><stop offset="0.649" stop-color="#ffef00"/><stop offset="0.676" stop-color="#ffab00"/><stop offset="0.703" stop-color="#ff7000"/><stop offset="0.730" stop-color="#ff3c00"/><stop offset="0.757" stop-color="#ff0f00"/><stop offset="0.784" stop-color="#e90000"/><stop offset="0.811" stop-color="#ca0000"/><stop offset="0.838" stop-color="#b10000"/><stop offset="0.865" stop-color="#9f0000"/><stop offset="0.892" stop-color="#910000"/><stop offset="0.919" stop-color="#890000"/><stop offset="0.946" stop-color="#840000"/><stop offset="0.973" stop-color="#820000"/><stop offset="1.000" stop-color="#810000"/></linearGradient><linearGradient id="h33"><stop offset="0.000" stop-color="#004bff"/><stop offset="0.027" stop-color="#000aff"/><stop offset="0.054" stop-color="#0000c8"/><stop offset="0.081" stop-color="#000089"/><stop offset="0.108" stop-color="#000080"/><stop offset="0.135" stop-color="#000086"/><stop offset="0.162" stop-color="#0000c2"/><stop offset="0.189" stop-color="#0042ff"/><stop offset="0.216" stop-color="#00a6ff"/><stop offset="0.243" stop-color="#00cbff"/><stop offset="0.270" stop-color="#00caff"/><stop offset="0.297" stop-color="#00a0ff"/><stop offset="0.324" stop-color="#0037ff"/><stop offset="0.351" stop-color="#0000b9"/><stop offset="0.378" stop-color="#000085"/><stop offset="0.405" stop-color="#000080"/><stop offset="0.432" stop-color="#00008e"/><stop offset="0.459" stop-color="#0000ce"/><stop offset="0.486" stop-color="#0010ff"/><stop offset="0.514" stop-color="#0051ff"/><stop offset="0.541" stop-color="#0098ff"/><stop offset="0.568" stop-color="#01fffe"/><stop offset="0.595" stop-color="#5fffa0"/><stop offset="0.622" stop-color="#b6ff49"/><stop offset="0.649" stop-color="#fffb00"/><stop offset="0.676" stop-color="#ffb600"/><stop offset="0.703" stop-color="#ff7800"/><stop offset="0.730" stop-color="#ff4300"/><stop offset="0.757" stop-color="#ff1500"/><stop offset="0.784" stop-color="#ed0000"/><stop offset="0.811" stop-color="#cd0000"/><stop offset="0.838" stop-color="#b30000"/><stop offset="0.865" stop-color="#a00000"/><stop offset="0.892" stop-color="#920000"/><stop offset="0.919" stop-color="#880000"/><stop offset="0.946" stop-color="#830000"/><stop offset="0.973" stop-color="#810000"/><stop offset="1.000" stop-color="#800000"/></linearGradient><linearGradient id="h34"><stop offset="0.000" stop-color="#0043ff"/><stop offset="0.027" stop-color="#0001ff"/><stop offset="0.054" stop-color="#0000be"/><stop offset="0.081" stop-color="#000080"/><stop offset="0.108" stop-color="#000080"/><stop offset="0.135" stop-color="#00008a"/><stop offset="0.162" stop-color="#0000d5"/><stop offset="0.189" stop-color="#0061ff"/><stop offset="0.216" stop-color="#00bfff"/><stop offset="0.243" stop-color="#00dbff"/><stop offset="0.270" stop-color="#00daff"/><stop offset="0.297" stop-color="#00b9ff"/><stop offset="0.324" stop-color="#0056ff"/><stop offset="0.351" stop-color="#0000cb"/><stop offset="0.378" stop-color="#000087"/><stop offset="0.405" stop-color="#000080"/><stop offset="0.432" stop-color="#000082"/><stop offset="0.459" stop-color="#0000c4"/><stop offset="0.486" stop-color="#0006ff"/><stop offset="0.514" stop-color="#0049ff"/><stop offset="0.541" stop-color="#0083ff"/><stop offset="0.568" stop-color="#00eeff"/><stop offset="0.595" stop-color="#51ffae"/><stop offset="0.622" stop-color="#a9ff56"/><stop offset="0.649" stop-color="#f9ff06"/><stop offset="0.676" stop-color="#ffbe00"/><stop offset="0.703" stop-color="#ff8000"/><stop offset="0.730" stop-color="#ff4900"/><stop offset="0.757" stop-color="#ff1a00"/><stop offset="0.784" stop-color="#f10000"/><stop offset="0.811" stop-color="#d00000"/><stop offset="0.838" stop-color="#b60000"/><stop offset="0.865" stop-color="#a10000"/><stop offset="0.892" stop-color="#920000"/><stop offset="0.919" stop-color="#880000"/><stop offset="0.946" stop-color="#830000"/><stop offset="0.973" stop-color="#810000"/><stop offset="1.000" stop-color="#800000"/></linearGradient><linearGradient id="h35"><stop offset="0.000" stop-color="#003cff"/><stop offset="0.027" stop-color="#0000f8"/><stop offset="0.054" stop-color="#0000b6"/><stop offset="0.081" stop-color="#000080"/><stop offset="0.108" stop-color="#000080"/><stop offset="0.135" stop-color="#00008d"/><stop offset="0.162" stop-color="#0000e6"/><stop offset="0.189" stop-color="#0078ff"/><stop offset="0.216" stop-color="#00ceff"/><stop offset="0.243" stop-color="#00e2ff"/><stop offset="0.270" stop-color="#00e2ff"/><stop offset="0.297" stop-color="#00c9ff"/><stop offset="0.324" stop-color="#006dff"/><stop offset="0.351" stop-color="#0000da"/><stop offset="0.378" stop-color="#00008a"/><stop offset="0.405" stop-color="#000080"/><stop offset="0.432" stop-color="#000080"/><stop offset="0.459" stop-color="#0000bc"/><stop offset="0.486" stop-color="#0000fe"/><stop offset="0.514" stop-color="#0042ff"/><stop offset="0.541" stop-color="#0080ff"/><stop offset="0.568" stop-color="#00e0ff"/><stop offset="0.595" stop-color="#45ffba"/><stop offset="0.622" stop-color="#9fff60"/><stop offset="0.649" stop-color="#f0ff0f"/><stop offset="0.676" stop-color="#ffc500"/><stop offset="0.703" stop-color="#ff8600"/><stop offset="0.730" stop-color="#ff4e00"/><stop offset="0.757" stop-color="#ff1e00"/><stop offset="0.784" stop-color="#f40000"/><stop offset="0.811" stop-color="#d30000"/><stop offset="0.838" stop-color="#b80000"/><stop offset="0.865" stop-color="#a30000"/><stop offset="0.892" stop-color="#930000"/><stop offset="0.919" stop-color="#890000"/><stop offset="0.946" stop-color="#830000"/><stop offset="0.973" stop-color="#800000"/><stop offset="1.000" stop-color="#800000"/></linearGradient><linearGradient id="h36"><stop offset="0.000" stop-color="#0038ff"/><stop offset="0.027" stop-color="#0000f3"/><stop offset="0.054" stop-color="#0000b0"/><stop offset="0.081" stop-color="#000080"/><stop offset="0.108" stop-color="#000080"/><stop offset="0.135" stop-color="#000090"/><stop offset="0.162" stop-color="#0000f2"/><stop offset="0.189" stop-color="#0088ff"/><stop offset="0.216" stop-color="#00d6ff"/><stop offset="0.243" stop-color="#00e5ff"/><stop offset="0.270" stop-color="#00e4ff"/><stop offset="0.297" stop-color="#00d2ff"/><stop offset="0.324" stop-color="#007cff"/><stop offset="0.351" stop-color="#0000e5"/><stop offset="0.378" stop-color="#00008c"/><stop offset="0.405" stop-color="#000080"/><stop offset="0.432" stop-color="#000080"/><stop offset="0.459" stop-color="#0000b6"/><stop offset="0.486" stop-color="#0000f9"/><stop offset="0.514" stop-color="#003eff"/><stop offset="0.541" stop-color="#0080ff"/><stop offset="0.568" stop-color="#00d7ff"/><stop offset="0.595" stop-color="#3dffc2"/><stop offset="0.622" stop-color="#98ff67"/><stop offset="0.649" stop-color="#eaff15"/><stop offset="0.676" stop-color="#ffca00"/><stop offset="0.703" stop-color="#ff8a00"/><stop offset="0.730" stop-color="#ff5100"/><stop offset="0.757" stop-color="#ff2100"/><stop offset="0.784" stop-color="#f70000"/><stop offset="0.811" stop-color="#d50000"/><stop offset="0.838" stop-color="#b90000"/><stop offset="0.865" stop-color="#a40000"/><stop offset="0.892" stop-color="#940000"/><stop offset="0.919" stop-color="#890000"/><stop offset="0.946" stop-color="#830000"/><stop offset="0.973" stop-color="#800000"/><stop offset="1.000" stop-color="#800000"/></linearGradient><linearGradient id="h37"><stop offset="0.000" stop-color="#0036ff"/><stop offset="0.027" stop-color="#0000f1"/><stop offset="0.054" stop-color="#0000ad"/><stop offset="0.081" stop-color="#000080"/><stop offset="0.108" stop-color="#000080"/><stop offset="0.135" stop-color="#000091"/><stop offset="0.162" stop-color="#0000f8"/><stop offset="0.189" stop-color="#008fff"/><stop offset="0.216" stop-color="#00d9ff"/><stop offset="0.243" stop-color="#00e5ff"/><stop offset="0.270" stop-color="#00e5ff"/><stop offset="0.297" stop-color="#00d6ff"/><stop offset="0.324" stop-color="#0084ff"/><stop offset="0.351" stop-color="#0000eb"/><stop offset="0.378" stop-color="#00008e"/><stop offset="0.405" stop-color="#000080"/><stop offset="0.432" stop-color="#000080"/><stop offset="0.459" stop-color="#0000b3"/><stop offset="0.486" stop-color="#0000f7"/><stop offset="0.514" stop-color="#003cff"/><stop offset="0.541" stop-color="#007fff"/><stop offset="0.568" stop-color="#00d2ff"/><stop offset="0.595" stop-color="#39ffc6"/><stop offset="0.622" stop-color="#95ff6a"/><stop offset="0.649" stop-color="#e7ff18"/><stop offset="0.676" stop-color="#ffcd00"/><stop offset="0.703" stop-color="#ff8c00"/><stop offset="0.730" stop-color="#ff5300"/><stop offset="0.757" stop-color="#ff2200"/><stop offset="0.784" stop-color="#f80000"/><stop offset="0.811" stop-color="#d60000"/><stop offset="0.838" stop-color="#ba0000"/><stop offset="0.865" stop-color="#a50000"/><stop offset="0.892" stop-color="#950000"/><stop offset="0.919" stop-color="#8a0000"/><stop offset="0.946" stop-color="#830000"/><stop offset="0.973" stop-color="#800000"/><stop offset="1.000" stop-color="#800000"/></linearGradient><linearGradient id="cb" x1="0" y1="0" x2="0" y2="1"><stop offset="0.000" stop-color="#800000"/><stop offset="0.125" stop-color="#ff0000"/><stop offset="0.250" stop-color="#ff8000"/><stop offset="0.375" stop-color="#ffff00"/><stop offset="0.500" stop-color="#80ff80"/><stop offset="0.625" stop-color="#00ffff"/><stop offset="0.750" stop-color="#0080ff"/><stop offset="0.875" stop-color="#0000ff"/><stop offset="1.000" stop-color="#000080"/></linearGradient></defs>
<g transform="translate(0,0)">
<text x="5.6" y="13.8" font-size="9.4" fill="#333">(a)</text>
<line x1="31.3" y1="22.3" x2="31.3" y2="94.5" stroke="#f3f3f3" stroke-width="0.5"/>
<line x1="24.2" y1="87.1" x2="95" y2="87.1" stroke="#f3f3f3" stroke-width="0.5"/>
<line x1="45.4" y1="22.3" x2="45.4" y2="94.5" stroke="#f3f3f3" stroke-width="0.5"/>
<line x1="24.2" y1="72.7" x2="95" y2="72.7" stroke="#f3f3f3" stroke-width="0.5"/>
<line x1="73.6" y1="22.3" x2="73.6" y2="94.5" stroke="#f3f3f3" stroke-width="0.5"/>
<line x1="24.2" y1="43.9" x2="95" y2="43.9" stroke="#f3f3f3" stroke-width="0.5"/>
<line x1="87.7" y1="22.3" x2="87.7" y2="94.5" stroke="#f3f3f3" stroke-width="0.5"/>
<line x1="24.2" y1="29.5" x2="95" y2="29.5" stroke="#f3f3f3" stroke-width="0.5"/>
<rect x="24.2" y="22.3" width="70.8" height="72.2" fill="none" stroke="#c8c8c8" stroke-width="0.8"/>
<line x1="59.5" y1="22.3" x2="59.5" y2="94.5" stroke="#999" stroke-width="0.6" stroke-dasharray="1 1"/>
<line x1="24.2" y1="58.3" x2="95" y2="58.3" stroke="#999" stroke-width="0.6" stroke-dasharray="1 1"/>
<circle cx="44" cy="41" r="1.6" fill="#5c9c5c" stroke="#184818" stroke-width="1.35"/>
<circle cx="58.1" cy="41.7" r="1.6" fill="#5c9c5c" stroke="#184818" stroke-width="1.35"/>
<circle cx="66.5" cy="45.1" r="1.6" fill="#5c9c5c" stroke="#184818" stroke-width="1.35"/>
<circle cx="45.4" cy="65.5" r="1.6" fill="#5c9c5c" stroke="#184818" stroke-width="1.35"/>
<circle cx="78.5" cy="63.3" r="1.6" fill="#5c9c5c" stroke="#184818" stroke-width="1.35"/>
<circle cx="80.7" cy="69.8" r="1.6" fill="#5c9c5c" stroke="#184818" stroke-width="1.35"/>
<circle cx="71.5" cy="77.7" r="1.6" fill="#5c9c5c" stroke="#184818" stroke-width="1.35"/>
<circle cx="58.1" cy="79.2" r="1.6" fill="#5c9c5c" stroke="#184818" stroke-width="1.35"/>
<text x="31.3" y="101.8" text-anchor="middle">-2</text>
<text x="22" y="88.9" text-anchor="end">-2</text>
<text x="45.4" y="101.8" text-anchor="middle">-1</text>
<text x="22" y="74.5" text-anchor="end">-1</text>
<text x="59.5" y="101.8" text-anchor="middle">0</text>
<text x="22" y="60.1" text-anchor="end">0</text>
<text x="73.6" y="101.8" text-anchor="middle">1</text>
<text x="22" y="45.7" text-anchor="end">1</text>
<text x="87.7" y="101.8" text-anchor="middle">2</text>
<text x="22" y="31.3" text-anchor="end">2</text>
<text x="59.7" y="109" text-anchor="middle" font-size="7"><tspan font-style="italic">x</tspan> (cm)</text>
<text transform="translate(15.2,58.3) rotate(-90)" text-anchor="middle" font-size="7"><tspan font-style="italic">y</tspan> (cm)</text>
<g stroke="#c4c4c4" stroke-width="0.8"><line x1="137" y1="95" x2="137" y2="40"/><line x1="137" y1="95" x2="211" y2="99"/><line x1="211" y1="99" x2="223" y2="80"/><line x1="149" y1="76" x2="149" y2="21"/><line x1="149" y1="21" x2="223" y2="25"/><line x1="223" y1="25" x2="223" y2="80"/><line x1="149" y1="76" x2="223" y2="80"/><line x1="137" y1="95" x2="149" y2="76"/><line x1="137" y1="40" x2="149" y2="21"/></g>
<g font-size="4.6" text-anchor="end">
<text x="134.4" y="42.1">0</text>
<text x="134.4" y="69.6">-10</text>
<text x="134.4" y="97.1">-20</text>
</g><g font-size="4.6" text-anchor="middle">
<text x="134" y="101.6">180</text>
<text x="152.5" y="102.6">90</text>
<text x="171" y="103.6">0</text>
<text x="189.5" y="104.6">-90</text>
<text x="208" y="105.6">-180</text>
<text x="214.6" y="102.6">0</text>
<text x="220.6" y="93.1">2</text>
<text x="226.6" y="83.6">4</text>
</g>
<text x="171" y="109" font-size="5.6" text-anchor="middle"><tspan font-style="italic">θ</tspan> (°)</text>
<text x="222.5" y="105.2" font-size="5.6"><tspan font-style="italic">f</tspan> (kHz)</text>
<text transform="translate(124.5,67.5) rotate(-90)" font-size="5" text-anchor="middle">|dB|</text>
<g stroke-width=".4"><path d="M153.6 53 155.4 53.5 156.4 61.4 154.6 60.7z" fill="#fdf1e3" stroke="#f6c17e"/><path d="M151.7 51.8 153.6 53 154.6 60.7 152.7 58.9z" fill="#fdf0e3" stroke="#f5bc7f"/><path d="M155.4 53.5 157.2 53.3 158.2 60.9 156.4 61.4z" fill="#fdf1e3" stroke="#f6c17e"/><path d="M149.8 50 151.7 51.8 152.7 58.9 150.8 56.3z" fill="#fdeee3" stroke="#f5b480"/><path d="M157.2 53.3 159.1 52.1 160.1 59.2 158.2 60.9z" fill="#fdf0e3" stroke="#f5bc7f"/><path d="M148 47.9 149.8 50 150.8 56.3 149 53.3z" fill="#fdece3" stroke="#f4a982"/><path d="M159.1 52.1 160.9 50.2 161.9 56.4 160.1 59.2z" fill="#fdeee3" stroke="#f5b380"/><path d="M160.9 50.2 162.8 47.8 163.8 52.9 161.9 56.4z" fill="#fcebe3" stroke="#f3a580"/><path d="M162.8 47.8 164.7 44.9 165.7 48.9 163.8 52.9z" fill="#fbe8e1" stroke="#ee9579"/><path d="M164.7 44.9 166.5 41.8 167.5 44.7 165.7 48.9z" fill="#fae4e0" stroke="#e88471"/><path d="M166.5 41.8 168.3 38.7 169.3 40.7 167.5 44.7z" fill="#f9e0de" stroke="#e37269"/><path d="M152.6 47.7 154.4 48.1 155.4 53.5 153.6 53z" fill="#fbe9e2" stroke="#ef9a7b"/><path d="M150.7 46.8 152.6 47.7 153.6 53 151.7 51.8z" fill="#fbe8e2" stroke="#ee9679"/><path d="M148.8 45.5 150.7 46.8 151.7 51.8 149.8 50z" fill="#fbe7e1" stroke="#ec9177"/><path d="M154.4 48.1 156.2 47.9 157.2 53.3 155.4 53.5z" fill="#fbe9e2" stroke="#ef9a7b"/><path d="M147 43.9 148.8 45.5 149.8 50 148 47.9z" fill="#fae5e0" stroke="#ea8974"/><path d="M156.2 47.9 158.1 47.1 159.1 52.1 157.2 53.3z" fill="#fbe8e2" stroke="#ee9679"/><path d="M158.1 47.1 159.9 45.8 160.9 50.2 159.1 52.1z" fill="#fbe6e1" stroke="#ec9076"/><path d="M168.3 38.7 170.2 35.7 171.2 36.8 169.3 40.7z" fill="#f8dcdc" stroke="#de6062"/><path d="M159.9 45.8 161.8 44.1 162.8 47.8 160.9 50.2z" fill="#fae4e0" stroke="#e98672"/><path d="M170.2 35.7 172.1 33 173.1 33.4 171.2 36.8z" fill="#f6d9da" stroke="#d45158"/><path d="M220.1 49.5 222 51.9 223 57.3 221.1 54.1z" fill="#fce9e2" stroke="#f09d7c"/><path d="M161.8 44.1 163.7 42 164.7 44.9 162.8 47.8z" fill="#f9e2df" stroke="#e67a6d"/><path d="M218.3 47.1 220.1 49.5 221.1 54.1 219.3 50.9z" fill="#fbe6e1" stroke="#ec8f76"/><path d="M172.1 33 173.9 30.6 174.9 30.4 173.1 33.4z" fill="#f3d6d8" stroke="#c9444f"/><path d="M163.7 42 165.5 39.7 166.5 41.8 164.7 44.9z" fill="#f9dfde" stroke="#e26d68"/><path d="M216.4 44.7 218.3 47.1 219.3 50.9 217.4 47.7z" fill="#fae4e0" stroke="#e88271"/><path d="M173.9 30.6 175.8 28.6 176.8 27.9 174.9 30.4z" fill="#f1d3d6" stroke="#bf3946"/><path d="M214.6 42.5 216.4 44.7 217.4 47.7 215.6 44.8z" fill="#f9e1de" stroke="#e4766b"/><path d="M165.5 39.7 167.3 37.3 168.3 38.7 166.5 41.8z" fill="#f8dcdc" stroke="#de6062"/><path d="M212.8 40.4 214.6 42.5 215.6 44.8 213.8 42.1z" fill="#f8dedd" stroke="#e16a66"/><path d="M175.8 28.6 177.6 27 178.6 26 176.8 27.9z" fill="#efd1d5" stroke="#b7303f"/><path d="M210.9 38.5 212.8 40.4 213.8 42.1 211.9 39.7z" fill="#f8dcdc" stroke="#de6062"/><path d="M149.7 43.2 151.6 43.9 152.6 47.7 150.7 46.8z" fill="#f9e2df" stroke="#e5796d"/><path d="M151.6 43.9 153.4 44.2 154.4 48.1 152.6 47.7z" fill="#fae2df" stroke="#e67b6e"/><path d="M147.8 42.3 149.7 43.2 150.7 46.8 148.8 45.5z" fill="#f9e1de" stroke="#e4756b"/><path d="M146 41.1 147.8 42.3 148.8 45.5 147 43.9z" fill="#f9dfde" stroke="#e27068"/><path d="M153.4 44.2 155.2 44.1 156.2 47.9 154.4 48.1z" fill="#fae2df" stroke="#e67b6e"/><path d="M167.3 37.3 169.2 35 170.2 35.7 168.3 38.7z" fill="#f6d9db" stroke="#d6535a"/><path d="M209.1 36.9 210.9 38.5 211.9 39.7 210.1 37.7z" fill="#f7dadb" stroke="#d9575d"/><path d="M177.6 27 179.4 25.8 180.4 24.5 178.6 26z" fill="#eed0d4" stroke="#b1283a"/><path d="M207.2 35.4 209.1 36.9 210.1 37.7 208.2 35.9z" fill="#f5d8da" stroke="#d35057"/><path d="M155.2 44.1 157.1 43.6 158.1 47.1 156.2 47.9z" fill="#f9e2df" stroke="#e5796d"/><path d="M205.3 34.1 207.2 35.4 208.2 35.9 206.3 34.3z" fill="#f4d7d9" stroke="#ce4a53"/><path d="M179.4 25.8 181.3 25 182.3 23.6 180.4 24.5z" fill="#edcfd3" stroke="#ad2336"/><path d="M203.5 32.9 205.3 34.1 206.3 34.3 204.5 32.9z" fill="#f3d6d8" stroke="#c9444e"/><path d="M157.1 43.6 158.9 42.6 159.9 45.8 158.1 47.1z" fill="#f9e0de" stroke="#e4746b"/><path d="M201.7 31.8 203.5 32.9 204.5 32.9 202.7 31.5z" fill="#f2d5d7" stroke="#c53f4b"/><path d="M169.2 35 171.1 32.9 172.1 33 170.2 35.7z" fill="#f4d7d9" stroke="#cc4851"/><path d="M181.3 25 183.2 24.6 184.2 23.1 182.3 23.6z" fill="#ecced2" stroke="#aa2033"/><path d="M199.8 30.8 201.7 31.8 202.7 31.5 200.8 30.3z" fill="#f1d4d7" stroke="#c03a47"/><path d="M197.9 29.7 199.8 30.8 200.8 30.3 198.9 29.1z" fill="#f0d3d6" stroke="#bd3644"/><path d="M183.2 24.6 185 24.6 186 23 184.2 23.1z" fill="#ecced2" stroke="#a81e32"/><path d="M196.1 28.7 197.9 29.7 198.9 29.1 197.1 27.9z" fill="#f0d2d5" stroke="#b93140"/><path d="M194.2 27.8 196.1 28.7 197.1 27.9 195.2 26.7z" fill="#efd1d4" stroke="#b52d3d"/><path d="M158.9 42.6 160.8 41.4 161.8 44.1 159.9 45.8z" fill="#f9dfde" stroke="#e26d68"/><path d="M185 24.6 186.8 24.8 187.8 23.3 186 23z" fill="#ecced2" stroke="#a81e32"/><path d="M192.4 26.8 194.2 27.8 195.2 26.7 193.4 25.6z" fill="#eed0d4" stroke="#b1293a"/><path d="M190.6 26 192.4 26.8 193.4 25.6 191.6 24.6z" fill="#edcfd3" stroke="#ae2537"/><path d="M186.8 24.8 188.7 25.3 189.7 23.8 187.8 23.3z" fill="#ecced2" stroke="#a92033"/><path d="M188.7 25.3 190.6 26 191.6 24.6 189.7 23.8z" fill="#edced3" stroke="#ab2235"/><path d="M171.1 32.9 172.9 31 173.9 30.6 172.1 33z" fill="#f2d4d7" stroke="#c33d49"/><path d="M160.8 41.4 162.7 39.8 163.7 42 161.8 44.1z" fill="#f8dddd" stroke="#df6564"/><path d="M219.1 46.2 221 47.9 222 51.9 220.1 49.5z" fill="#fae3df" stroke="#e78070"/><path d="M172.9 31 174.8 29.4 175.8 28.6 173.9 30.6z" fill="#f0d2d6" stroke="#bb3443"/><path d="M217.3 44.4 219.1 46.2 220.1 49.5 218.3 47.1z" fill="#f9e1df" stroke="#e4766b"/><path d="M162.7 39.8 164.5 38.1 165.5 39.7 163.7 42z" fill="#f7dbdc" stroke="#dc5b60"/><path d="M215.4 42.5 217.3 44.4 218.3 47.1 216.4 44.7z" fill="#f9dfde" stroke="#e26d67"/><path d="M174.8 29.4 176.6 28.1 177.6 27 175.8 28.6z" fill="#efd1d4" stroke="#b52d3d"/><path d="M213.6 40.8 215.4 42.5 216.4 44.7 214.6 42.5z" fill="#f8dddd" stroke="#df6363"/><path d="M164.5 38.1 166.3 36.4 167.3 37.3 165.5 39.7z" fill="#f6d9da" stroke="#d55259"/><path d="M176.6 28.1 178.4 27.1 179.4 25.8 177.6 27z" fill="#eecfd3" stroke="#b02739"/><path d="M211.8 39.2 213.6 40.8 214.6 42.5 212.8 40.4z" fill="#f7dbdc" stroke="#dc5a5f"/><path d="M209.9 37.7 211.8 39.2 212.8 40.4 210.9 38.5z" fill="#f6d9db" stroke="#d6535a"/><path d="M178.4 27.1 180.3 26.5 181.3 25 179.4 25.8z" fill="#edced3" stroke="#ac2235"/><path d="M208.1 36.4 209.9 37.7 210.9 38.5 209.1 36.9z" fill="#f5d8da" stroke="#d04c55"/><path d="M166.3 36.4 168.2 34.6 169.2 35 167.3 37.3z" fill="#f4d7d9" stroke="#cd4852"/><path d="M206.2 35.2 208.1 36.4 209.1 36.9 207.2 35.4z" fill="#f4d6d9" stroke="#cb4751"/><path d="M180.3 26.5 182.2 26.2 183.2 24.6 181.3 25z" fill="#ecced2" stroke="#a92033"/><path d="M204.3 34.1 206.2 35.2 207.2 35.4 205.3 34.1z" fill="#f3d5d8" stroke="#c7424d"/><path d="M146.8 39.9 148.7 40.6 149.7 43.2 147.8 42.3z" fill="#f8dcdc" stroke="#de5f61"/><path d="M148.7 40.6 150.6 41.1 151.6 43.9 149.7 43.2z" fill="#f8dcdd" stroke="#de6263"/><path d="M202.5 33.2 204.3 34.1 205.3 34.1 203.5 32.9z" fill="#f2d4d7" stroke="#c33d49"/><path d="M145 39 146.8 39.9 147.8 42.3 146 41.1z" fill="#f7dbdc" stroke="#dc5b5f"/><path d="M182.2 26.2 184 26.2 185 24.6 183.2 24.6z" fill="#ecced2" stroke="#a81e32"/><path d="M150.6 41.1 152.4 41.4 153.4 44.2 151.6 43.9z" fill="#f8dddd" stroke="#df6463"/><path d="M200.7 32.3 202.5 33.2 203.5 32.9 201.7 31.8z" fill="#f1d3d6" stroke="#bf3946"/><path d="M198.8 31.4 200.7 32.3 201.7 31.8 199.8 30.8z" fill="#f0d3d6" stroke="#bc3543"/><path d="M196.9 30.5 198.8 31.4 199.8 30.8 197.9 29.7z" fill="#f0d2d5" stroke="#b93241"/><path d="M184 26.2 185.8 26.4 186.8 24.8 185 24.6z" fill="#ecced2" stroke="#a81e32"/><path d="M152.4 41.4 154.2 41.3 155.2 44.1 153.4 44.2z" fill="#f8dddd" stroke="#df6463"/><path d="M195.1 29.7 196.9 30.5 197.9 29.7 196.1 28.7z" fill="#efd1d5" stroke="#b62e3e"/><path d="M168.2 34.6 170.1 33 171.1 32.9 169.2 35z" fill="#f2d5d7" stroke="#c53f4b"/><path d="M193.2 28.9 195.1 29.7 196.1 28.7 194.2 27.8z" fill="#eed0d4" stroke="#b32a3b"/><path d="M185.8 26.4 187.7 26.8 188.7 25.3 186.8 24.8z" fill="#ecced2" stroke="#a91f33"/><path d="M191.4 28.1 193.2 28.9 194.2 27.8 192.4 26.8z" fill="#eecfd3" stroke="#b02739"/><path d="M187.7 26.8 189.6 27.4 190.6 26 188.7 25.3z" fill="#ecced2" stroke="#ab2134"/><path d="M189.6 27.4 191.4 28.1 192.4 26.8 190.6 26z" fill="#edcfd3" stroke="#ad2436"/><path d="M154.2 41.3 156.1 41 157.1 43.6 155.2 44.1z" fill="#f8dcdd" stroke="#de6262"/><path d="M156.1 41 157.9 40.3 158.9 42.6 157.1 43.6z" fill="#f8dcdc" stroke="#dd5f61"/><path d="M170.1 33 171.9 31.5 172.9 31 171.1 32.9z" fill="#f1d3d6" stroke="#be3745"/><path d="M157.9 40.3 159.8 39.4 160.8 41.4 158.9 42.6z" fill="#f7dbdc" stroke="#dc5a5f"/><path d="M171.9 31.5 173.8 30.2 174.8 29.4 172.9 31z" fill="#efd1d5" stroke="#b8303f"/><path d="M159.8 39.4 161.7 38.3 162.7 39.8 160.8 41.4z" fill="#f6d9db" stroke="#d7545a"/><path d="M173.8 30.2 175.6 29.2 176.6 28.1 174.8 29.4z" fill="#eed0d4" stroke="#b22a3b"/><path d="M218.1 43.8 220 45.1 221 47.9 219.1 46.2z" fill="#f8dedd" stroke="#e06966"/><path d="M161.7 38.3 163.5 37.1 164.5 38.1 162.7 39.8z" fill="#f5d8da" stroke="#d14d56"/><path d="M216.3 42.4 218.1 43.8 219.1 46.2 217.3 44.4z" fill="#f8dcdd" stroke="#de6262"/><path d="M175.6 29.2 177.4 28.5 178.4 27.1 176.6 28.1z" fill="#edcfd3" stroke="#ae2537"/><path d="M214.4 41 216.3 42.4 217.3 44.4 215.4 42.5z" fill="#f7dbdc" stroke="#dc5b5f"/><path d="M177.4 28.5 179.3 28 180.3 26.5 178.4 27.1z" fill="#edced2" stroke="#ab2235"/><path d="M163.5 37.1 165.3 35.8 166.3 36.4 164.5 38.1z" fill="#f4d6d9" stroke="#cb4650"/><path d="M212.6 39.6 214.4 41 215.4 42.5 213.6 40.8z" fill="#f6d9db" stroke="#d7545b"/><path d="M210.8 38.4 212.6 39.6 213.6 40.8 211.8 39.2z" fill="#f5d8da" stroke="#d24e56"/><path d="M179.3 28 181.2 27.8 182.2 26.2 180.3 26.5z" fill="#ecced2" stroke="#a91f33"/><path d="M208.9 37.2 210.8 38.4 211.8 39.2 209.9 37.7z" fill="#f4d7d9" stroke="#cd4852"/><path d="M181.2 27.8 183 27.8 184 26.2 182.2 26.2z" fill="#ecced2" stroke="#a81e32"/><path d="M207.1 36.1 208.9 37.2 209.9 37.7 208.1 36.4z" fill="#f3d6d8" stroke="#c8434e"/><path d="M165.3 35.8 167.2 34.5 168.2 34.6 166.3 36.4z" fill="#f2d5d7" stroke="#c53f4b"/><path d="M183 27.8 184.8 27.9 185.8 26.4 184 26.2z" fill="#ecced2" stroke="#a81e32"/><path d="M205.2 35.2 207.1 36.1 208.1 36.4 206.2 35.2z" fill="#f2d5d7" stroke="#c43f4b"/><path d="M203.3 34.3 205.2 35.2 206.2 35.2 204.3 34.1z" fill="#f1d4d7" stroke="#c13b48"/><path d="M184.8 27.9 186.7 28.3 187.7 26.8 185.8 26.4z" fill="#ecced2" stroke="#a91f33"/><path d="M201.5 33.5 203.3 34.3 204.3 34.1 202.5 33.2z" fill="#f1d3d6" stroke="#be3745"/><path d="M199.7 32.8 201.5 33.5 202.5 33.2 200.7 32.3z" fill="#f0d2d6" stroke="#bb3442"/><path d="M186.7 28.3 188.6 28.8 189.6 27.4 187.7 26.8z" fill="#ecced2" stroke="#aa2134"/><path d="M197.8 32.1 199.7 32.8 200.7 32.3 198.8 31.4z" fill="#efd2d5" stroke="#b83140"/><path d="M195.9 31.4 197.8 32.1 198.8 31.4 196.9 30.5z" fill="#efd1d5" stroke="#b62e3e"/><path d="M188.6 28.8 190.4 29.4 191.4 28.1 189.6 27.4z" fill="#edcfd3" stroke="#ac2336"/><path d="M194.1 30.7 195.9 31.4 196.9 30.5 195.1 29.7z" fill="#eed0d4" stroke="#b32b3c"/><path d="M192.2 30 194.1 30.7 195.1 29.7 193.2 28.9z" fill="#eed0d4" stroke="#b1283a"/><path d="M190.4 29.4 192.2 30 193.2 28.9 191.4 28.1z" fill="#edcfd3" stroke="#ae2537"/><path d="M167.2 34.5 169.1 33.2 170.1 33 168.2 34.6z" fill="#f1d3d6" stroke="#bf3846"/><path d="M144 37.6 145.8 38.3 146.8 39.9 145 39z" fill="#f5d8d9" stroke="#d04c54"/><path d="M145.8 38.3 147.7 38.8 148.7 40.6 146.8 39.9z" fill="#f5d8da" stroke="#d24f56"/><path d="M147.7 38.8 149.6 39.2 150.6 41.1 148.7 40.6z" fill="#f5d9da" stroke="#d45158"/><path d="M149.6 39.2 151.4 39.4 152.4 41.4 150.6 41.1z" fill="#f6d9da" stroke="#d55259"/><path d="M151.4 39.4 153.2 39.4 154.2 41.3 152.4 41.4z" fill="#f6d9da" stroke="#d55259"/><path d="M169.1 33.2 170.9 32.1 171.9 31.5 170.1 33z" fill="#f0d2d5" stroke="#b93241"/><path d="M153.2 39.4 155.1 39.2 156.1 41 154.2 41.3z" fill="#f5d9da" stroke="#d45058"/><path d="M170.9 32.1 172.8 31.2 173.8 30.2 171.9 31.5z" fill="#efd1d4" stroke="#b42c3d"/><path d="M155.1 39.2 156.9 38.7 157.9 40.3 156.1 41z" fill="#f5d8da" stroke="#d24e56"/><path d="M156.9 38.7 158.8 38.1 159.8 39.4 157.9 40.3z" fill="#f4d7d9" stroke="#cf4b54"/><path d="M172.8 31.2 174.6 30.4 175.6 29.2 173.8 30.2z" fill="#eed0d3" stroke="#b02739"/><path d="M158.8 38.1 160.7 37.4 161.7 38.3 159.8 39.4z" fill="#f4d6d9" stroke="#cb4751"/><path d="M174.6 30.4 176.4 29.8 177.4 28.5 175.6 29.2z" fill="#edcfd3" stroke="#ad2436"/><path d="M176.4 29.8 178.3 29.5 179.3 28 177.4 28.5z" fill="#ecced2" stroke="#aa2134"/><path d="M160.7 37.4 162.5 36.5 163.5 37.1 161.7 38.3z" fill="#f3d5d8" stroke="#c7424d"/><path d="M178.3 29.5 180.2 29.3 181.2 27.8 179.3 28z" fill="#ecced2" stroke="#a91f33"/><path d="M217.1 42 219 43 220 45.1 218.1 43.8z" fill="#f7dadb" stroke="#d9575c"/><path d="M180.2 29.3 182 29.3 183 27.8 181.2 27.8z" fill="#ecced2" stroke="#a81e32"/><path d="M215.3 41 217.1 42 218.1 43.8 216.3 42.4z" fill="#f6d9da" stroke="#d55259"/><path d="M162.5 36.5 164.3 35.5 165.3 35.8 163.5 37.1z" fill="#f2d4d7" stroke="#c33d49"/><path d="M213.4 39.9 215.3 41 216.3 42.4 214.4 41z" fill="#f5d8da" stroke="#d14d55"/><path d="M182 29.3 183.8 29.5 184.8 27.9 183 27.8z" fill="#ecced2" stroke="#a81e32"/><path d="M211.6 38.9 213.4 39.9 214.4 41 212.6 39.6z" fill="#f4d7d9" stroke="#cc4852"/><path d="M183.8 29.5 185.7 29.8 186.7 28.3 184.8 27.9z" fill="#ecced2" stroke="#a91f33"/><path d="M185.7 29.8 187.6 30.2 188.6 28.8 186.7 28.3z" fill="#ecced2" stroke="#aa2034"/><path d="M209.8 37.9 211.6 38.9 212.6 39.6 210.8 38.4z" fill="#f3d6d8" stroke="#c8434e"/><path d="M187.6 30.2 189.4 30.7 190.4 29.4 188.6 28.8z" fill="#edced3" stroke="#ab2235"/><path d="M207.9 37 209.8 37.9 210.8 38.4 208.9 37.2z" fill="#f2d5d7" stroke="#c53f4b"/><path d="M189.4 30.7 191.2 31.2 192.2 30 190.4 29.4z" fill="#edcfd3" stroke="#ad2436"/><path d="M191.2 31.2 193.1 31.8 194.1 30.7 192.2 30z" fill="#edcfd3" stroke="#af2638"/><path d="M193.1 31.8 194.9 32.3 195.9 31.4 194.1 30.7z" fill="#eed0d4" stroke="#b1283a"/><path d="M206.1 36.1 207.9 37 208.9 37.2 207.1 36.1z" fill="#f1d4d7" stroke="#c13b48"/><path d="M164.3 35.5 166.2 34.6 167.2 34.5 165.3 35.8z" fill="#f1d3d6" stroke="#be3745"/><path d="M194.9 32.3 196.8 32.9 197.8 32.1 195.9 31.4z" fill="#eed0d4" stroke="#b32b3b"/><path d="M196.8 32.9 198.7 33.5 199.7 32.8 197.8 32.1z" fill="#efd1d4" stroke="#b52d3d"/><path d="M204.2 35.4 206.1 36.1 207.1 36.1 205.2 35.2z" fill="#f1d3d6" stroke="#be3845"/><path d="M198.7 33.5 200.5 34.1 201.5 33.5 199.7 32.8z" fill="#efd1d5" stroke="#b72f3f"/><path d="M202.3 34.7 204.2 35.4 205.2 35.2 203.3 34.3z" fill="#f0d3d6" stroke="#bc3543"/><path d="M200.5 34.1 202.3 34.7 203.3 34.3 201.5 33.5z" fill="#f0d2d5" stroke="#b93241"/><path d="M166.2 34.6 168.1 33.7 169.1 33.2 167.2 34.5z" fill="#f0d2d5" stroke="#ba3241"/><path d="M168.1 33.7 169.9 32.9 170.9 32.1 169.1 33.2z" fill="#efd1d4" stroke="#b52d3e"/><path d="M143 36.7 144.8 37.2 145.8 38.3 144 37.6z" fill="#f2d5d7" stroke="#c5404b"/><path d="M144.8 37.2 146.7 37.7 147.7 38.8 145.8 38.3z" fill="#f3d5d8" stroke="#c7424d"/><path d="M146.7 37.7 148.6 38 149.6 39.2 147.7 38.8z" fill="#f3d6d8" stroke="#c8434e"/><path d="M148.6 38 150.4 38.1 151.4 39.4 149.6 39.2z" fill="#f3d6d8" stroke="#c9444e"/><path d="M169.9 32.9 171.8 32.2 172.8 31.2 170.9 32.1z" fill="#eed0d4" stroke="#b2293a"/><path d="M150.4 38.1 152.2 38.1 153.2 39.4 151.4 39.4z" fill="#f3d6d8" stroke="#c9444e"/><path d="M152.2 38.1 154.1 38 155.1 39.2 153.2 39.4z" fill="#f3d6d8" stroke="#c8434e"/><path d="M171.8 32.2 173.6 31.6 174.6 30.4 172.8 31.2z" fill="#edcfd3" stroke="#ae2538"/><path d="M154.1 38 155.9 37.7 156.9 38.7 155.1 39.2z" fill="#f3d5d8" stroke="#c6414c"/><path d="M173.6 31.6 175.4 31.2 176.4 29.8 174.6 30.4z" fill="#edced3" stroke="#ac2235"/><path d="M155.9 37.7 157.8 37.3 158.8 38.1 156.9 38.7z" fill="#f2d5d7" stroke="#c43f4b"/><path d="M175.4 31.2 177.3 31 178.3 29.5 176.4 29.8z" fill="#ecced2" stroke="#aa2034"/><path d="M157.8 37.3 159.7 36.8 160.7 37.4 158.8 38.1z" fill="#f2d4d7" stroke="#c23c48"/><path d="M177.3 31 179.2 30.9 180.2 29.3 178.3 29.5z" fill="#ecced2" stroke="#a91f33"/><path d="M179.2 30.9 181 30.9 182 29.3 180.2 29.3z" fill="#ecced2" stroke="#a81e32"/><path d="M159.7 36.8 161.5 36.2 162.5 36.5 160.7 37.4z" fill="#f1d3d6" stroke="#bf3846"/><path d="M181 30.9 182.8 31.1 183.8 29.5 182 29.3z" fill="#ecced2" stroke="#a81e32"/><path d="M182.8 31.1 184.7 31.3 185.7 29.8 183.8 29.5z" fill="#ecced2" stroke="#a91f33"/><path d="M184.7 31.3 186.6 31.7 187.6 30.2 185.7 29.8z" fill="#ecced2" stroke="#a92033"/><path d="M186.6 31.7 188.4 32.1 189.4 30.7 187.6 30.2z" fill="#ecced2" stroke="#ab2134"/><path d="M161.5 36.2 163.3 35.6 164.3 35.5 162.5 36.5z" fill="#f0d2d6" stroke="#bc3543"/><path d="M188.4 32.1 190.2 32.5 191.2 31.2 189.4 30.7z" fill="#edced3" stroke="#ac2335"/><path d="M190.2 32.5 192.1 32.9 193.1 31.8 191.2 31.2z" fill="#edcfd3" stroke="#ad2437"/><path d="M192.1 32.9 193.9 33.4 194.9 32.3 193.1 31.8z" fill="#edcfd3" stroke="#af2638"/><path d="M216.1 40.9 218 41.6 219 43 217.1 42z" fill="#f4d7d9" stroke="#cd4952"/><path d="M193.9 33.4 195.8 33.8 196.8 32.9 194.9 32.3z" fill="#eed0d4" stroke="#b02839"/><path d="M214.3 40.1 216.1 40.9 217.1 42 215.3 41z" fill="#f3d6d8" stroke="#ca454f"/><path d="M195.8 33.8 197.7 34.3 198.7 33.5 196.8 32.9z" fill="#eed0d4" stroke="#b22a3b"/><path d="M212.4 39.3 214.3 40.1 215.3 41 213.4 39.9z" fill="#f3d5d8" stroke="#c7424d"/><path d="M197.7 34.3 199.5 34.8 200.5 34.1 198.7 33.5z" fill="#eed0d4" stroke="#b42b3c"/><path d="M210.6 38.5 212.4 39.3 213.4 39.9 211.6 38.9z" fill="#f2d5d7" stroke="#c43e4a"/><path d="M199.5 34.8 201.3 35.3 202.3 34.7 200.5 34.1z" fill="#efd1d4" stroke="#b52d3e"/><path d="M208.8 37.7 210.6 38.5 211.6 38.9 209.8 37.9z" fill="#f1d4d7" stroke="#c13b47"/><path d="M201.3 35.3 203.2 35.8 204.2 35.4 202.3 34.7z" fill="#efd1d5" stroke="#b7303f"/><path d="M163.3 35.6 165.2 35 166.2 34.6 164.3 35.5z" fill="#efd2d5" stroke="#b83140"/><path d="M206.9 37 208.8 37.7 209.8 37.9 207.9 37z" fill="#f1d3d6" stroke="#be3745"/><path d="M203.2 35.8 205.1 36.4 206.1 36.1 204.2 35.4z" fill="#f0d2d5" stroke="#b93241"/><path d="M205.1 36.4 206.9 37 207.9 37 206.1 36.1z" fill="#f0d2d6" stroke="#bc3543"/><path d="M165.2 35 167.1 34.3 168.1 33.7 166.2 34.6z" fill="#efd1d4" stroke="#b52d3d"/><path d="M167.1 34.3 168.9 33.8 169.9 32.9 168.1 33.7z" fill="#eed0d4" stroke="#b2293b"/><path d="M168.9 33.8 170.8 33.3 171.8 32.2 169.9 32.9z" fill="#edcfd3" stroke="#af2638"/><path d="M142 36.3 143.8 36.7 144.8 37.2 143 36.7z" fill="#f0d3d6" stroke="#bc3644"/><path d="M143.8 36.7 145.7 37 146.7 37.7 144.8 37.2z" fill="#f1d3d6" stroke="#be3745"/><path d="M170.8 33.3 172.6 32.9 173.6 31.6 171.8 32.2z" fill="#edcfd3" stroke="#ad2336"/><path d="M145.7 37 147.6 37.2 148.6 38 146.7 37.7z" fill="#f1d3d6" stroke="#be3845"/><path d="M147.6 37.2 149.4 37.4 150.4 38.1 148.6 38z" fill="#f1d3d6" stroke="#bf3846"/><path d="M172.6 32.9 174.4 32.7 175.4 31.2 173.6 31.6z" fill="#ecced2" stroke="#ab2134"/><path d="M149.4 37.4 151.2 37.4 152.2 38.1 150.4 38.1z" fill="#f1d3d6" stroke="#bf3846"/><path d="M151.2 37.4 153.1 37.4 154.1 38 152.2 38.1z" fill="#f1d3d6" stroke="#be3845"/><path d="M174.4 32.7 176.3 32.5 177.3 31 175.4 31.2z" fill="#ecced2" stroke="#a92033"/><path d="M153.1 37.4 154.9 37.2 155.9 37.7 154.1 38z" fill="#f1d3d6" stroke="#bd3745"/><path d="M176.3 32.5 178.2 32.4 179.2 30.9 177.3 31z" fill="#ecced2" stroke="#a91f32"/><path d="M178.2 32.4 180 32.5 181 30.9 179.2 30.9z" fill="#ecced2" stroke="#a81e32"/><path d="M154.9 37.2 156.8 37 157.8 37.3 155.9 37.7z" fill="#f0d3d6" stroke="#bc3543"/><path d="M180 32.5 181.8 32.6 182.8 31.1 181 30.9z" fill="#ecced2" stroke="#a81e32"/><path d="M181.8 32.6 183.7 32.9 184.7 31.3 182.8 31.1z" fill="#ecced2" stroke="#a81f32"/><path d="M156.8 37 158.7 36.7 159.7 36.8 157.8 37.3z" fill="#f0d2d5" stroke="#ba3342"/><path d="M183.7 32.9 185.6 33.1 186.6 31.7 184.7 31.3z" fill="#ecced2" stroke="#a91f33"/><path d="M185.6 33.1 187.4 33.4 188.4 32.1 186.6 31.7z" fill="#ecced2" stroke="#aa2034"/><path d="M158.7 36.7 160.5 36.3 161.5 36.2 159.7 36.8z" fill="#efd2d5" stroke="#b83140"/><path d="M187.4 33.4 189.2 33.8 190.2 32.5 188.4 32.1z" fill="#edced2" stroke="#ab2135"/><path d="M189.2 33.8 191.1 34.1 192.1 32.9 190.2 32.5z" fill="#edcfd3" stroke="#ac2336"/><path d="M191.1 34.1 192.9 34.5 193.9 33.4 192.1 32.9z" fill="#edcfd3" stroke="#ad2436"/><path d="M192.9 34.5 194.8 34.8 195.8 33.8 193.9 33.4z" fill="#edcfd3" stroke="#ae2537"/><path d="M160.5 36.3 162.3 35.9 163.3 35.6 161.5 36.2z" fill="#efd1d5" stroke="#b62e3e"/><path d="M194.8 34.8 196.7 35.2 197.7 34.3 195.8 33.8z" fill="#eecfd3" stroke="#b02739"/><path d="M196.7 35.2 198.5 35.6 199.5 34.8 197.7 34.3z" fill="#eed0d4" stroke="#b1283a"/><path d="M198.5 35.6 200.3 36 201.3 35.3 199.5 34.8z" fill="#eed0d4" stroke="#b22a3b"/><path d="M200.3 36 202.2 36.4 203.2 35.8 201.3 35.3z" fill="#eed0d4" stroke="#b32b3c"/><path d="M202.2 36.4 204.1 36.8 205.1 36.4 203.2 35.8z" fill="#efd1d4" stroke="#b52d3d"/><path d="M162.3 35.9 164.2 35.5 165.2 35 163.3 35.6z" fill="#eed0d4" stroke="#b42b3c"/><path d="M204.1 36.8 205.9 37.3 206.9 37 205.1 36.4z" fill="#efd1d5" stroke="#b62f3f"/><path d="M205.9 37.3 207.8 37.8 208.8 37.7 206.9 37z" fill="#efd2d5" stroke="#b83140"/><path d="M207.8 37.8 209.6 38.4 210.6 38.5 208.8 37.7z" fill="#f0d2d5" stroke="#ba3342"/><path d="M209.6 38.4 211.4 39 212.4 39.3 210.6 38.5z" fill="#f0d3d6" stroke="#bc3644"/><path d="M211.4 39 213.3 39.6 214.3 40.1 212.4 39.3z" fill="#f1d3d6" stroke="#bf3846"/><path d="M213.3 39.6 215.1 40.2 216.1 40.9 214.3 40.1z" fill="#f1d4d7" stroke="#c13b48"/><path d="M215.1 40.2 217 40.7 218 41.6 216.1 40.9z" fill="#f2d4d7" stroke="#c33d4a"/><path d="M164.2 35.5 166.1 35.1 167.1 34.3 165.2 35z" fill="#eed0d4" stroke="#b1293a"/><path d="M166.1 35.1 167.9 34.8 168.9 33.8 167.1 34.3z" fill="#edcfd3" stroke="#af2638"/><path d="M167.9 34.8 169.8 34.5 170.8 33.3 168.9 33.8z" fill="#edcfd3" stroke="#ad2436"/><path d="M169.8 34.5 171.6 34.3 172.6 32.9 170.8 33.3z" fill="#edced3" stroke="#ab2235"/><path d="M141 36.3 142.8 36.6 143.8 36.7 142 36.3z" fill="#efd1d4" stroke="#b62e3e"/><path d="M171.6 34.3 173.4 34.1 174.4 32.7 172.6 32.9z" fill="#ecced2" stroke="#aa2034"/><path d="M142.8 36.6 144.7 36.8 145.7 37 143.8 36.7z" fill="#efd1d5" stroke="#b62e3e"/><path d="M144.7 36.8 146.6 37 147.6 37.2 145.7 37z" fill="#efd1d5" stroke="#b72f3f"/><path d="M173.4 34.1 175.3 34 176.3 32.5 174.4 32.7z" fill="#ecced2" stroke="#a91f33"/><path d="M146.6 37 148.4 37.2 149.4 37.4 147.6 37.2z" fill="#efd1d5" stroke="#b72f3f"/><path d="M175.3 34 177.2 34 178.2 32.4 176.3 32.5z" fill="#ecced2" stroke="#a81e32"/><path d="M148.4 37.2 150.2 37.2 151.2 37.4 149.4 37.4z" fill="#efd1d5" stroke="#b72f3f"/><path d="M177.2 34 179 34.1 180 32.5 178.2 32.4z" fill="#ecced2" stroke="#a81e32"/><path d="M150.2 37.2 152.1 37.2 153.1 37.4 151.2 37.4z" fill="#efd1d5" stroke="#b72f3f"/><path d="M179 34.1 180.8 34.2 181.8 32.6 180 32.5z" fill="#ecced2" stroke="#a81e32"/><path d="M152.1 37.2 153.9 37.2 154.9 37.2 153.1 37.4z" fill="#efd1d5" stroke="#b62e3e"/><path d="M180.8 34.2 182.7 34.4 183.7 32.9 181.8 32.6z" fill="#ecced2" stroke="#a81e32"/><path d="M182.7 34.4 184.6 34.6 185.6 33.1 183.7 32.9z" fill="#ecced2" stroke="#a91f33"/><path d="M153.9 37.2 155.8 37.1 156.8 37 154.9 37.2z" fill="#efd1d4" stroke="#b52d3d"/><path d="M184.6 34.6 186.4 34.9 187.4 33.4 185.6 33.1z" fill="#ecced2" stroke="#a92033"/><path d="M186.4 34.9 188.2 35.1 189.2 33.8 187.4 33.4z" fill="#ecced2" stroke="#aa2034"/><path d="M155.8 37.1 157.7 36.9 158.7 36.7 156.8 37z" fill="#efd1d4" stroke="#b42c3c"/><path d="M188.2 35.1 190.1 35.4 191.1 34.1 189.2 33.8z" fill="#ecced2" stroke="#ab2135"/><path d="M190.1 35.4 191.9 35.7 192.9 34.5 191.1 34.1z" fill="#edced3" stroke="#ac2235"/><path d="M157.7 36.9 159.5 36.7 160.5 36.3 158.7 36.7z" fill="#eed0d4" stroke="#b32a3b"/><path d="M191.9 35.7 193.8 36 194.8 34.8 192.9 34.5z" fill="#edcfd3" stroke="#ad2336"/><path d="M193.8 36 195.7 36.2 196.7 35.2 194.8 34.8z" fill="#edcfd3" stroke="#ad2437"/><path d="M195.7 36.2 197.5 36.5 198.5 35.6 196.7 35.2z" fill="#edcfd3" stroke="#ae2537"/><path d="M159.5 36.7 161.3 36.5 162.3 35.9 160.5 36.3z" fill="#eed0d4" stroke="#b1293a"/><path d="M197.5 36.5 199.3 36.8 200.3 36 198.5 35.6z" fill="#edcfd3" stroke="#af2638"/><path d="M199.3 36.8 201.2 37.1 202.2 36.4 200.3 36z" fill="#eed0d3" stroke="#b02739"/><path d="M201.2 37.1 203.1 37.5 204.1 36.8 202.2 36.4z" fill="#eed0d4" stroke="#b1293a"/><path d="M161.3 36.5 163.2 36.3 164.2 35.5 162.3 35.9z" fill="#eecfd3" stroke="#b02739"/><path d="M203.1 37.5 204.9 37.8 205.9 37.3 204.1 36.8z" fill="#eed0d4" stroke="#b22a3b"/><path d="M204.9 37.8 206.8 38.2 207.8 37.8 205.9 37.3z" fill="#eed0d4" stroke="#b42b3c"/><path d="M206.8 38.2 208.6 38.6 209.6 38.4 207.8 37.8z" fill="#efd1d4" stroke="#b52d3d"/><path d="M208.6 38.6 210.4 39.1 211.4 39 209.6 38.4z" fill="#efd1d5" stroke="#b62f3f"/><path d="M163.2 36.3 165.1 36.1 166.1 35.1 164.2 35.5z" fill="#edcfd3" stroke="#ae2537"/><path d="M210.4 39.1 212.3 39.5 213.3 39.6 211.4 39z" fill="#efd2d5" stroke="#b83140"/><path d="M212.3 39.5 214.1 39.9 215.1 40.2 213.3 39.6z" fill="#f0d2d5" stroke="#ba3241"/><path d="M214.1 39.9 216 40.3 217 40.7 215.1 40.2z" fill="#f0d2d6" stroke="#bb3443"/><path d="M165.1 36.1 166.9 35.9 167.9 34.8 166.1 35.1z" fill="#edcfd3" stroke="#ad2336"/><path d="M166.9 35.9 168.8 35.7 169.8 34.5 167.9 34.8z" fill="#edced3" stroke="#ab2235"/><path d="M168.8 35.7 170.6 35.6 171.6 34.3 169.8 34.5z" fill="#ecced2" stroke="#aa2134"/><path d="M170.6 35.6 172.4 35.6 173.4 34.1 171.6 34.3z" fill="#ecced2" stroke="#a92033"/><path d="M172.4 35.6 174.3 35.6 175.3 34 173.4 34.1z" fill="#ecced2" stroke="#a91f33"/><path d="M140 36.7 141.8 36.9 142.8 36.6 141 36.3z" fill="#eed0d3" stroke="#b02739"/><path d="M174.3 35.6 176.2 35.6 177.2 34 175.3 34z" fill="#ecced2" stroke="#a81e32"/><path d="M141.8 36.9 143.7 37.1 144.7 36.8 142.8 36.6z" fill="#eed0d4" stroke="#b12839"/><path d="M143.7 37.1 145.6 37.3 146.6 37 144.7 36.8z" fill="#eed0d4" stroke="#b1283a"/><path d="M176.2 35.6 178 35.7 179 34.1 177.2 34z" fill="#ecced2" stroke="#a81e32"/><path d="M145.6 37.3 147.4 37.4 148.4 37.2 146.6 37z" fill="#eed0d4" stroke="#b1283a"/><path d="M178 35.7 179.8 35.8 180.8 34.2 179 34.1z" fill="#ecced2" stroke="#a81e32"/><path d="M147.4 37.4 149.2 37.4 150.2 37.2 148.4 37.2z" fill="#eed0d4" stroke="#b1283a"/><path d="M179.8 35.8 181.7 35.9 182.7 34.4 180.8 34.2z" fill="#ecced2" stroke="#a81e32"/><path d="M181.7 35.9 183.6 36.1 184.6 34.6 182.7 34.4z" fill="#ecced2" stroke="#a91f32"/><path d="M149.2 37.4 151.1 37.5 152.1 37.2 150.2 37.2z" fill="#eed0d4" stroke="#b1283a"/><path d="M183.6 36.1 185.4 36.3 186.4 34.9 184.6 34.6z" fill="#ecced2" stroke="#a91f33"/><path d="M151.1 37.5 152.9 37.5 153.9 37.2 152.1 37.2z" fill="#eed0d4" stroke="#b02839"/><path d="M185.4 36.3 187.2 36.5 188.2 35.1 186.4 34.9z" fill="#ecced2" stroke="#a92033"/><path d="M187.2 36.5 189.1 36.7 190.1 35.4 188.2 35.1z" fill="#ecced2" stroke="#aa2034"/><path d="M152.9 37.5 154.8 37.5 155.8 37.1 153.9 37.2z" fill="#eed0d3" stroke="#b02739"/><path d="M189.1 36.7 190.9 36.9 191.9 35.7 190.1 35.4z" fill="#ecced2" stroke="#aa2134"/><path d="M154.8 37.5 156.7 37.5 157.7 36.9 155.8 37.1z" fill="#edcfd3" stroke="#af2638"/><path d="M190.9 36.9 192.8 37.1 193.8 36 191.9 35.7z" fill="#edced2" stroke="#ab2135"/><path d="M192.8 37.1 194.7 37.4 195.7 36.2 193.8 36z" fill="#edced3" stroke="#ac2235"/><path d="M156.7 37.5 158.5 37.4 159.5 36.7 157.7 36.9z" fill="#edcfd3" stroke="#ae2538"/><path d="M194.7 37.4 196.5 37.6 197.5 36.5 195.7 36.2z" fill="#edcfd3" stroke="#ac2336"/><path d="M196.5 37.6 198.3 37.8 199.3 36.8 197.5 36.5z" fill="#edcfd3" stroke="#ad2336"/><path d="M158.5 37.4 160.3 37.3 161.3 36.5 159.5 36.7z" fill="#edcfd3" stroke="#ae2437"/><path d="M198.3 37.8 200.2 38 201.2 37.1 199.3 36.8z" fill="#edcfd3" stroke="#ad2437"/><path d="M200.2 38 202.1 38.3 203.1 37.5 201.2 37.1z" fill="#edcfd3" stroke="#ae2537"/><path d="M160.3 37.3 162.2 37.2 163.2 36.3 161.3 36.5z" fill="#edcfd3" stroke="#ad2336"/><path d="M202.1 38.3 203.9 38.6 204.9 37.8 203.1 37.5z" fill="#edcfd3" stroke="#af2638"/><path d="M203.9 38.6 205.8 38.8 206.8 38.2 204.9 37.8z" fill="#eecfd3" stroke="#b02739"/><path d="M162.2 37.2 164.1 37.2 165.1 36.1 163.2 36.3z" fill="#edced3" stroke="#ac2235"/><path d="M205.8 38.8 207.6 39.1 208.6 38.6 206.8 38.2z" fill="#eed0d4" stroke="#b12839"/><path d="M207.6 39.1 209.4 39.4 210.4 39.1 208.6 38.6z" fill="#eed0d4" stroke="#b2293a"/><path d="M164.1 37.2 165.9 37.1 166.9 35.9 165.1 36.1z" fill="#ecced2" stroke="#ab2134"/><path d="M209.4 39.4 211.3 39.8 212.3 39.5 210.4 39.1z" fill="#eed0d4" stroke="#b32a3b"/><path d="M211.3 39.8 213.1 40.1 214.1 39.9 212.3 39.5z" fill="#eed0d4" stroke="#b42b3c"/><path d="M213.1 40.1 215 40.3 216 40.3 214.1 39.9z" fill="#efd1d4" stroke="#b52d3d"/><path d="M165.9 37.1 167.8 37.1 168.8 35.7 166.9 35.9z" fill="#ecced2" stroke="#aa2034"/><path d="M167.8 37.1 169.6 37.1 170.6 35.6 168.8 35.7z" fill="#ecced2" stroke="#a92033"/><path d="M169.6 37.1 171.4 37.1 172.4 35.6 170.6 35.6z" fill="#ecced2" stroke="#a91f33"/><path d="M171.4 37.1 173.3 37.1 174.3 35.6 172.4 35.6z" fill="#ecced2" stroke="#a81e32"/><path d="M173.3 37.1 175.2 37.2 176.2 35.6 174.3 35.6z" fill="#ecced2" stroke="#a81e32"/><path d="M139 37.5 140.8 37.6 141.8 36.9 140 36.7z" fill="#edcfd3" stroke="#ac2336"/><path d="M175.2 37.2 177 37.2 178 35.7 176.2 35.6z" fill="#ecced2" stroke="#a81e32"/><path d="M140.8 37.6 142.7 37.8 143.7 37.1 141.8 36.9z" fill="#edcfd3" stroke="#ac2336"/><path d="M177 37.2 178.8 37.4 179.8 35.8 178 35.7z" fill="#ecced2" stroke="#a81e32"/><path d="M142.7 37.8 144.6 37.9 145.6 37.3 143.7 37.1z" fill="#edcfd3" stroke="#ad2336"/><path d="M178.8 37.4 180.7 37.5 181.7 35.9 179.8 35.8z" fill="#ecced2" stroke="#a81e32"/><path d="M144.6 37.9 146.4 38 147.4 37.4 145.6 37.3z" fill="#edcfd3" stroke="#ad2336"/><path d="M180.7 37.5 182.6 37.6 183.6 36.1 181.7 35.9z" fill="#ecced2" stroke="#a81e32"/><path d="M146.4 38 148.2 38.1 149.2 37.4 147.4 37.4z" fill="#edcfd3" stroke="#ad2336"/><path d="M182.6 37.6 184.4 37.8 185.4 36.3 183.6 36.1z" fill="#ecced2" stroke="#a91f32"/><path d="M184.4 37.8 186.2 37.9 187.2 36.5 185.4 36.3z" fill="#ecced2" stroke="#a91f33"/><path d="M148.2 38.1 150.1 38.2 151.1 37.5 149.2 37.4z" fill="#edcfd3" stroke="#ad2336"/><path d="M186.2 37.9 188.1 38.1 189.1 36.7 187.2 36.5z" fill="#ecced2" stroke="#a91f33"/><path d="M150.1 38.2 151.9 38.2 152.9 37.5 151.1 37.5z" fill="#edcfd3" stroke="#ac2336"/><path d="M188.1 38.1 189.9 38.3 190.9 36.9 189.1 36.7z" fill="#ecced2" stroke="#aa2033"/><path d="M151.9 38.2 153.8 38.3 154.8 37.5 152.9 37.5z" fill="#edcfd3" stroke="#ac2336"/><path d="M189.9 38.3 191.8 38.4 192.8 37.1 190.9 36.9z" fill="#ecced2" stroke="#aa2034"/><path d="M153.8 38.3 155.7 38.3 156.7 37.5 154.8 37.5z" fill="#edced3" stroke="#ac2235"/><path d="M191.8 38.4 193.7 38.6 194.7 37.4 192.8 37.1z" fill="#ecced2" stroke="#aa2134"/><path d="M193.7 38.6 195.5 38.8 196.5 37.6 194.7 37.4z" fill="#ecced2" stroke="#ab2134"/><path d="M155.7 38.3 157.5 38.3 158.5 37.4 156.7 37.5z" fill="#edced3" stroke="#ab2235"/><path d="M195.5 38.8 197.3 38.9 198.3 37.8 196.5 37.6z" fill="#ecced2" stroke="#ab2134"/><path d="M157.5 38.3 159.3 38.4 160.3 37.3 158.5 37.4z" fill="#ecced2" stroke="#ab2134"/><path d="M197.3 38.9 199.2 39.1 200.2 38 198.3 37.8z" fill="#edced3" stroke="#ab2235"/><path d="M199.2 39.1 201.1 39.3 202.1 38.3 200.2 38z" fill="#edced3" stroke="#ac2235"/><path d="M159.3 38.4 161.2 38.4 162.2 37.2 160.3 37.3z" fill="#ecced2" stroke="#aa2134"/><path d="M201.1 39.3 202.9 39.5 203.9 38.6 202.1 38.3z" fill="#edcfd3" stroke="#ac2336"/><path d="M161.2 38.4 163.1 38.4 164.1 37.2 162.2 37.2z" fill="#ecced2" stroke="#aa2034"/><path d="M202.9 39.5 204.8 39.7 205.8 38.8 203.9 38.6z" fill="#edcfd3" stroke="#ad2336"/><path d="M204.8 39.7 206.6 39.9 207.6 39.1 205.8 38.8z" fill="#edcfd3" stroke="#ad2437"/><path d="M163.1 38.4 164.9 38.4 165.9 37.1 164.1 37.2z" fill="#ecced2" stroke="#a92033"/><path d="M206.6 39.9 208.4 40.1 209.4 39.4 207.6 39.1z" fill="#edcfd3" stroke="#ae2537"/><path d="M164.9 38.4 166.8 38.5 167.8 37.1 165.9 37.1z" fill="#ecced2" stroke="#a91f33"/><path d="M208.4 40.1 210.3 40.3 211.3 39.8 209.4 39.4z" fill="#edcfd3" stroke="#ae2538"/><path d="M210.3 40.3 212.1 40.5 213.1 40.1 211.3 39.8z" fill="#edcfd3" stroke="#af2638"/><path d="M166.8 38.5 168.6 38.5 169.6 37.1 167.8 37.1z" fill="#ecced2" stroke="#a91f33"/><path d="M212.1 40.5 214 40.7 215 40.3 213.1 40.1z" fill="#eecfd3" stroke="#b02739"/><path d="M168.6 38.5 170.4 38.6 171.4 37.1 169.6 37.1z" fill="#ecced2" stroke="#a81f32"/><path d="M170.4 38.6 172.3 38.7 173.3 37.1 171.4 37.1z" fill="#ecced2" stroke="#a81e32"/><path d="M172.3 38.7 174.2 38.7 175.2 37.2 173.3 37.1z" fill="#ecced2" stroke="#a81e32"/><path d="M174.2 38.7 176 38.8 177 37.2 175.2 37.2z" fill="#ecced2" stroke="#a81e32"/><path d="M138 38.6 139.8 38.7 140.8 37.6 139 37.5z" fill="#ecced2" stroke="#aa2033"/><path d="M176 38.8 177.8 38.9 178.8 37.4 177 37.2z" fill="#ecced2" stroke="#a81e32"/><path d="M139.8 38.7 141.7 38.8 142.7 37.8 140.8 37.6z" fill="#ecced2" stroke="#aa2033"/><path d="M177.8 38.9 179.7 39.1 180.7 37.5 178.8 37.4z" fill="#ecced2" stroke="#a81e32"/><path d="M141.7 38.8 143.6 38.9 144.6 37.9 142.7 37.8z" fill="#ecced2" stroke="#aa2034"/><path d="M179.7 39.1 181.6 39.2 182.6 37.6 180.7 37.5z" fill="#ecced2" stroke="#a81e32"/><path d="M143.6 38.9 145.4 39 146.4 38 144.6 37.9z" fill="#ecced2" stroke="#aa2034"/><path d="M181.6 39.2 183.4 39.3 184.4 37.8 182.6 37.6z" fill="#ecced2" stroke="#a81e32"/><path d="M183.4 39.3 185.2 39.4 186.2 37.9 184.4 37.8z" fill="#ecced2" stroke="#a81f32"/><path d="M145.4 39 147.2 39.1 148.2 38.1 146.4 38z" fill="#ecced2" stroke="#aa2034"/><path d="M185.2 39.4 187.1 39.5 188.1 38.1 186.2 37.9z" fill="#ecced2" stroke="#a91f33"/><path d="M147.2 39.1 149.1 39.2 150.1 38.2 148.2 38.1z" fill="#ecced2" stroke="#aa2034"/><path d="M187.1 39.5 188.9 39.7 189.9 38.3 188.1 38.1z" fill="#ecced2" stroke="#a91f33"/><path d="M149.1 39.2 150.9 39.3 151.9 38.2 150.1 38.2z" fill="#ecced2" stroke="#aa2033"/><path d="M188.9 39.7 190.8 39.8 191.8 38.4 189.9 38.3z" fill="#ecced2" stroke="#a91f33"/><path d="M150.9 39.3 152.8 39.4 153.8 38.3 151.9 38.2z" fill="#ecced2" stroke="#aa2033"/><path d="M190.8 39.8 192.7 39.9 193.7 38.6 191.8 38.4z" fill="#ecced2" stroke="#a91f33"/><path d="M152.8 39.4 154.7 39.5 155.7 38.3 153.8 38.3z" fill="#ecced2" stroke="#a92033"/><path d="M192.7 39.9 194.5 40.1 195.5 38.8 193.7 38.6z" fill="#ecced2" stroke="#a92033"/><path d="M154.7 39.5 156.5 39.5 157.5 38.3 155.7 38.3z" fill="#ecced2" stroke="#a91f33"/><path d="M194.5 40.1 196.3 40.2 197.3 38.9 195.5 38.8z" fill="#ecced2" stroke="#a92033"/><path d="M156.5 39.5 158.3 39.6 159.3 38.4 157.5 38.3z" fill="#ecced2" stroke="#a91f33"/><path d="M196.3 40.2 198.2 40.3 199.2 39.1 197.3 38.9z" fill="#ecced2" stroke="#aa2033"/><path d="M158.3 39.6 160.2 39.7 161.2 38.4 159.3 38.4z" fill="#ecced2" stroke="#a91f33"/><path d="M198.2 40.3 200.1 40.5 201.1 39.3 199.2 39.1z" fill="#ecced2" stroke="#aa2034"/><path d="M200.1 40.5 201.9 40.6 202.9 39.5 201.1 39.3z" fill="#ecced2" stroke="#aa2034"/><path d="M160.2 39.7 162.1 39.8 163.1 38.4 161.2 38.4z" fill="#ecced2" stroke="#a91f33"/><path d="M201.9 40.6 203.8 40.7 204.8 39.7 202.9 39.5z" fill="#ecced2" stroke="#aa2134"/><path d="M162.1 39.8 163.9 39.9 164.9 38.4 163.1 38.4z" fill="#ecced2" stroke="#a91f32"/><path d="M203.8 40.7 205.6 40.9 206.6 39.9 204.8 39.7z" fill="#ecced2" stroke="#ab2134"/><path d="M163.9 39.9 165.8 40 166.8 38.5 164.9 38.4z" fill="#ecced2" stroke="#a81e32"/><path d="M205.6 40.9 207.4 41 208.4 40.1 206.6 39.9z" fill="#edced2" stroke="#ab2135"/><path d="M165.8 40 167.6 40 168.6 38.5 166.8 38.5z" fill="#ecced2" stroke="#a81e32"/><path d="M207.4 41 209.3 41.2 210.3 40.3 208.4 40.1z" fill="#edced3" stroke="#ab2235"/><path d="M209.3 41.2 211.1 41.3 212.1 40.5 210.3 40.3z" fill="#edced3" stroke="#ac2235"/><path d="M167.6 40 169.4 40.1 170.4 38.6 168.6 38.5z" fill="#ecced2" stroke="#a81e32"/><path d="M211.1 41.3 213 41.5 214 40.7 212.1 40.5z" fill="#edced3" stroke="#ac2335"/><path d="M169.4 40.1 171.3 40.2 172.3 38.7 170.4 38.6z" fill="#ecced2" stroke="#a81e32"/><path d="M171.3 40.2 173.2 40.3 174.2 38.7 172.3 38.7z" fill="#ecced2" stroke="#a81e32"/><path d="M173.2 40.3 175 40.4 176 38.8 174.2 38.7z" fill="#ecced2" stroke="#a81e32"/><path d="M175 40.4 176.8 40.5 177.8 38.9 176 38.8z" fill="#ecced2" stroke="#a81e32"/><path d="M137 40 138.8 40.1 139.8 38.7 138 38.6z" fill="#ecced2" stroke="#a81e32"/><path d="M176.8 40.5 178.7 40.6 179.7 39.1 177.8 38.9z" fill="#ecced2" stroke="#a81e32"/><path d="M138.8 40.1 140.7 40.2 141.7 38.8 139.8 38.7z" fill="#ecced2" stroke="#a81e32"/><path d="M178.7 40.6 180.6 40.7 181.6 39.2 179.7 39.1z" fill="#ecced2" stroke="#a81e32"/><path d="M140.7 40.2 142.6 40.3 143.6 38.9 141.7 38.8z" fill="#ecced2" stroke="#a81e32"/><path d="M180.6 40.7 182.4 40.8 183.4 39.3 181.6 39.2z" fill="#ecced2" stroke="#a81e32"/><path d="M142.6 40.3 144.4 40.4 145.4 39 143.6 38.9z" fill="#ecced2" stroke="#a81e32"/><path d="M182.4 40.8 184.2 40.9 185.2 39.4 183.4 39.3z" fill="#ecced2" stroke="#a81e32"/><path d="M144.4 40.4 146.2 40.5 147.2 39.1 145.4 39z" fill="#ecced2" stroke="#a81e32"/><path d="M184.2 40.9 186.1 41 187.1 39.5 185.2 39.4z" fill="#ecced2" stroke="#a81e32"/><path d="M146.2 40.5 148.1 40.6 149.1 39.2 147.2 39.1z" fill="#ecced2" stroke="#a81e32"/><path d="M186.1 41 187.9 41.2 188.9 39.7 187.1 39.5z" fill="#ecced2" stroke="#a81e32"/><path d="M148.1 40.6 149.9 40.7 150.9 39.3 149.1 39.2z" fill="#ecced2" stroke="#a81e32"/><path d="M187.9 41.2 189.8 41.3 190.8 39.8 188.9 39.7z" fill="#ecced2" stroke="#a81e32"/><path d="M149.9 40.7 151.8 40.8 152.8 39.4 150.9 39.3z" fill="#ecced2" stroke="#a81e32"/><path d="M189.8 41.3 191.7 41.4 192.7 39.9 190.8 39.8z" fill="#ecced2" stroke="#a81f32"/><path d="M151.8 40.8 153.7 40.9 154.7 39.5 152.8 39.4z" fill="#ecced2" stroke="#a81e32"/><path d="M191.7 41.4 193.5 41.5 194.5 40.1 192.7 39.9z" fill="#ecced2" stroke="#a91f32"/><path d="M153.7 40.9 155.5 41 156.5 39.5 154.7 39.5z" fill="#ecced2" stroke="#a81e32"/><path d="M193.5 41.5 195.3 41.6 196.3 40.2 194.5 40.1z" fill="#ecced2" stroke="#a91f32"/><path d="M155.5 41 157.3 41.1 158.3 39.6 156.5 39.5z" fill="#ecced2" stroke="#a81e32"/><path d="M195.3 41.6 197.2 41.7 198.2 40.3 196.3 40.2z" fill="#ecced2" stroke="#a91f33"/><path d="M157.3 41.1 159.2 41.2 160.2 39.7 158.3 39.6z" fill="#ecced2" stroke="#a81e32"/><path d="M197.2 41.7 199.1 41.8 200.1 40.5 198.2 40.3z" fill="#ecced2" stroke="#a91f33"/><path d="M159.2 41.2 161.1 41.3 162.1 39.8 160.2 39.7z" fill="#ecced2" stroke="#a81e32"/><path d="M199.1 41.8 200.9 41.9 201.9 40.6 200.1 40.5z" fill="#ecced2" stroke="#a91f33"/><path d="M161.1 41.3 162.9 41.4 163.9 39.9 162.1 39.8z" fill="#ecced2" stroke="#a81e32"/><path d="M200.9 41.9 202.8 42 203.8 40.7 201.9 40.6z" fill="#ecced2" stroke="#a91f33"/><path d="M162.9 41.4 164.8 41.5 165.8 40 163.9 39.9z" fill="#ecced2" stroke="#a81e32"/><path d="M202.8 42 204.6 42.1 205.6 40.9 203.8 40.7z" fill="#ecced2" stroke="#a91f33"/><path d="M204.6 42.1 206.4 42.2 207.4 41 205.6 40.9z" fill="#ecced2" stroke="#a91f33"/><path d="M164.8 41.5 166.6 41.6 167.6 40 165.8 40z" fill="#ecced2" stroke="#a81e32"/><path d="M206.4 42.2 208.3 42.4 209.3 41.2 207.4 41z" fill="#ecced2" stroke="#a91f33"/><path d="M166.6 41.6 168.4 41.7 169.4 40.1 167.6 40z" fill="#ecced2" stroke="#a81e32"/><path d="M208.3 42.4 210.1 42.5 211.1 41.3 209.3 41.2z" fill="#ecced2" stroke="#a92033"/><path d="M168.4 41.7 170.3 41.8 171.3 40.2 169.4 40.1z" fill="#ecced2" stroke="#a81e32"/><path d="M210.1 42.5 212 42.6 213 41.5 211.1 41.3z" fill="#ecced2" stroke="#a92033"/><path d="M170.3 41.8 172.2 41.9 173.2 40.3 171.3 40.2z" fill="#ecced2" stroke="#a81e32"/><path d="M172.2 41.9 174 42 175 40.4 173.2 40.3z" fill="#ecced2" stroke="#a81e32"/><path d="M174 42 175.8 42.1 176.8 40.5 175 40.4z" fill="#ecced2" stroke="#a81e32"/><path d="M175.8 42.1 177.7 42.2 178.7 40.6 176.8 40.5z" fill="#ecced2" stroke="#a81e32"/><path d="M177.7 42.2 179.6 42.3 180.6 40.7 178.7 40.6z" fill="#ecced2" stroke="#a81e32"/><path d="M179.6 42.3 181.4 42.4 182.4 40.8 180.6 40.7z" fill="#ecced2" stroke="#a81e32"/><path d="M181.4 42.4 183.2 42.5 184.2 40.9 182.4 40.8z" fill="#ecced2" stroke="#a81e32"/><path d="M183.2 42.5 185.1 42.6 186.1 41 184.2 40.9z" fill="#ecced2" stroke="#a81e32"/><path d="M185.1 42.6 186.9 42.7 187.9 41.2 186.1 41z" fill="#ecced2" stroke="#a81e32"/><path d="M186.9 42.7 188.8 42.8 189.8 41.3 187.9 41.2z" fill="#ecced2" stroke="#a81e32"/><path d="M188.8 42.8 190.7 42.9 191.7 41.4 189.8 41.3z" fill="#ecced2" stroke="#a81e32"/><path d="M190.7 42.9 192.5 43 193.5 41.5 191.7 41.4z" fill="#ecced2" stroke="#a81e32"/><path d="M192.5 43 194.3 43.1 195.3 41.6 193.5 41.5z" fill="#ecced2" stroke="#a81e32"/><path d="M194.3 43.1 196.2 43.2 197.2 41.7 195.3 41.6z" fill="#ecced2" stroke="#a81e32"/><path d="M196.2 43.2 198.1 43.3 199.1 41.8 197.2 41.7z" fill="#ecced2" stroke="#a81e32"/><path d="M198.1 43.3 199.9 43.4 200.9 41.9 199.1 41.8z" fill="#ecced2" stroke="#a81e32"/><path d="M199.9 43.4 201.8 43.5 202.8 42 200.9 41.9z" fill="#ecced2" stroke="#a81e32"/><path d="M201.8 43.5 203.6 43.6 204.6 42.1 202.8 42z" fill="#ecced2" stroke="#a81e32"/><path d="M203.6 43.6 205.4 43.7 206.4 42.2 204.6 42.1z" fill="#ecced2" stroke="#a81e32"/><path d="M205.4 43.7 207.3 43.8 208.3 42.4 206.4 42.2z" fill="#ecced2" stroke="#a81e32"/><path d="M207.3 43.8 209.1 43.9 210.1 42.5 208.3 42.4z" fill="#ecced2" stroke="#a81e32"/><path d="M209.1 43.9 211 44 212 42.6 210.1 42.5z" fill="#ecced2" stroke="#a81e32"/></g>
<line x1="137" y1="40" x2="211" y2="44" stroke="#8a1a2c" stroke-width="1.1" stroke-opacity=".8"/>
<g stroke="#c4c4c4" stroke-width="0.8"><line x1="272.5" y1="95" x2="272.5" y2="40"/><line x1="272.5" y1="95" x2="346.5" y2="99"/><line x1="346.5" y1="99" x2="358.5" y2="80"/><line x1="284.5" y1="76" x2="284.5" y2="21"/><line x1="284.5" y1="21" x2="358.5" y2="25"/><line x1="358.5" y1="25" x2="358.5" y2="80"/><line x1="284.5" y1="76" x2="358.5" y2="80"/><line x1="272.5" y1="95" x2="284.5" y2="76"/><line x1="272.5" y1="40" x2="284.5" y2="21"/></g>
<g font-size="4.6" text-anchor="end">
<text x="269.9" y="42.1">0</text>
<text x="269.9" y="60.4">-20</text>
<text x="269.9" y="78.8">-40</text>
<text x="269.9" y="97.1">-60</text>
</g><g font-size="4.6" text-anchor="middle">
<text x="269.5" y="101.6">180</text>
<text x="288" y="102.6">90</text>
<text x="306.5" y="103.6">0</text>
<text x="325" y="104.6">-90</text>
<text x="343.5" y="105.6">-180</text>
<text x="350.1" y="102.6">0</text>
<text x="356.1" y="93.1">2</text>
<text x="362.1" y="83.6">4</text>
</g>
<text x="306.5" y="109" font-size="5.6" text-anchor="middle"><tspan font-style="italic">θ</tspan> (°)</text>
<text x="358" y="105.2" font-size="5.6"><tspan font-style="italic">f</tspan> (kHz)</text>
<text transform="translate(260,67.5) rotate(-90)" font-size="5" text-anchor="middle">|dB|</text>
<g stroke="#000" stroke-opacity=".07" stroke-width=".3"><path d="M287.5 69.2 287.7 68 290.7 63.2 290.5 64.4z" fill="#5f5fc6"/><path d="M287.1 66.5 287.5 69.2 290.5 64.4 290.1 61.8z" fill="#6e6ee5"/><path d="M287.7 68 288.3 64.5 291.3 59.7 290.7 63.2z" fill="#6767d7"/><path d="M297.1 69.7 297.5 69 300.5 64.2 300.1 64.9z" fill="#5757b6"/><path d="M296.9 68.3 297.1 69.7 300.1 64.9 299.9 63.5z" fill="#6d6de5"/><path d="M286.4 62.6 287.1 66.5 290.1 61.8 289.4 57.8z" fill="#6565d3"/><path d="M297.5 69 298.1 67.9 301.1 63 300.5 64.2z" fill="#5f5fc6"/><path d="M298.1 67.9 298.8 66.4 301.8 61.3 301.1 63z" fill="#5a5abd"/><path d="M296.3 64.1 296.9 68.3 299.9 63.5 299.3 59.4z" fill="#6565d2"/><path d="M288.3 64.5 288.9 61 291.9 56.2 291.3 59.7z" fill="#5f5fc6"/><path d="M285.8 59.3 286.4 62.6 289.4 57.8 288.8 54.5z" fill="#6e6ee6"/><path d="M298.8 66.4 299.4 64.7 302.4 59.2 301.8 61.3z" fill="#6363d0"/><path d="M288.9 61 289.5 58.7 292.5 53.9 291.9 56.2z" fill="#6565d3"/><path d="M285.2 57.4 285.8 59.3 288.8 54.5 288.2 52.7z" fill="#6666e2"/><path d="M295.7 60.6 296.3 64.1 299.3 59.4 298.7 55.8z" fill="#6e6ee6"/><path d="M299.4 64.7 300 62.3 303 56.7 302.4 59.2z" fill="#5d5dc2"/><path d="M284.6 55.6 285.2 57.4 288.2 52.7 287.6 50.8z" fill="#6c83f8"/><path d="M289.5 58.7 290.1 56.3 293.1 51.6 292.5 53.9z" fill="#5a64cd"/><path d="M295.1 58.2 295.7 60.6 298.7 55.8 298.1 53.4z" fill="#6666d9"/><path d="M284 54.2 284.6 55.6 287.6 50.8 287 49.4z" fill="#6590e8"/><path d="M283.4 53.8 284 54.2 287 49.4 286.4 49.1z" fill="#7ab3ff"/><path d="M300 62.3 300.6 60 303.6 53.3 303 56.7z" fill="#6565d4"/><path d="M282.7 53.5 283.4 53.8 286.4 49.1 285.7 48.7z" fill="#71aaf0"/><path d="M282.1 53.1 282.7 53.5 285.7 48.7 285.1 48.4z" fill="#79bbff"/><path d="M281.5 52.8 282.1 53.1 285.1 48.4 284.5 48z" fill="#70b2f0"/><path d="M290.1 56.3 290.8 55 293.8 50.3 293.1 51.6z" fill="#5b7dd6"/><path d="M294.4 55.8 295.1 58.2 298.1 53.4 297.4 51z" fill="#6b83f6"/><path d="M290.8 55 291.4 54.2 294.4 49.5 293.8 50.3z" fill="#4f7bbe"/><path d="M293.8 54.9 294.4 55.8 297.4 51 296.8 50.2z" fill="#6e99ed"/><path d="M291.4 54.2 292 53.5 295 48.7 294.4 49.5z" fill="#558fce"/><path d="M293.2 54.1 293.8 54.9 296.8 50.2 296.2 49.3z" fill="#75b0ff"/><path d="M292.6 53.2 293.2 54.1 296.2 49.3 295.6 48.5z" fill="#6caeed"/><path d="M300.6 60 301.2 55.5 304.2 48.2 303.6 53.3z" fill="#5a77d2"/><path d="M292 53.5 292.4 52.9 295.4 48.2 295 48.7z" fill="#4d8bbe"/><path d="M339.5 71.2 339.9 72 342.9 67.2 342.5 66.4z" fill="#7878f0"/><path d="M292.4 52.9 292.6 53.2 295.6 48.5 295.4 48.2z" fill="#73c3ff"/><path d="M339.9 72 340.1 70.6 343.1 65.9 342.9 67.2z" fill="#5f5fc7"/><path d="M338.9 70.1 339.5 71.2 342.5 66.4 341.9 65.2z" fill="#6f6fde"/><path d="M338.2 68.6 338.9 70.1 341.9 65.2 341.2 63.4z" fill="#7171ec"/><path d="M340.1 70.6 340.7 66.5 343.7 61.8 343.1 65.9z" fill="#6767d8"/><path d="M349.3 71.3 349.5 72.5 352.5 67.8 352.3 66.6z" fill="#6e6ee6"/><path d="M337.6 66.8 338.2 68.6 341.2 63.4 340.6 61.3z" fill="#6767d8"/><path d="M349.5 72.5 349.9 69.9 352.9 65.2 352.5 67.8z" fill="#5f5fc6"/><path d="M301.2 55.5 301.9 50.9 304.9 43.6 304.2 48.2z" fill="#5abfe4"/><path d="M337 64.3 337.6 66.8 340.6 61.3 340 58.7z" fill="#6f6fe9"/><path d="M348.7 67.8 349.3 71.3 352.3 66.6 351.7 63z" fill="#6565d3"/><path d="M340.7 66.5 341.3 63 344.3 58.3 343.7 61.8z" fill="#5f5fc6"/><path d="M349.9 69.9 350.6 66 353.6 61.3 352.9 65.2z" fill="#6767d8"/><path d="M336.4 61.9 337 64.3 340 58.7 339.4 55.2z" fill="#6666d5"/><path d="M348.1 64.2 348.7 67.8 351.7 63 351.1 59.4z" fill="#6e6ee6"/><path d="M301.9 50.9 302.5 47.1 305.5 40.1 304.9 43.6z" fill="#62d0ba"/><path d="M341.3 63 341.9 60.7 344.9 56 344.3 58.3z" fill="#6464d6"/><path d="M350.6 66 351.2 62.8 354.2 58.1 353.6 61.3z" fill="#5e5ec5"/><path d="M335.8 57.4 336.4 61.9 339.4 55.2 338.8 50.1z" fill="#6889f2"/><path d="M347.5 61.8 348.1 64.2 351.1 59.4 350.5 57z" fill="#6666d6"/><path d="M302.5 47.1 303.1 43.7 306.1 36.9 305.5 40.1z" fill="#9be192"/><path d="M341.9 60.7 342.6 58.4 345.6 53.6 344.9 56z" fill="#596dcd"/><path d="M346.9 59.4 347.5 61.8 350.5 57 349.9 54.7z" fill="#6c78f6"/><path d="M351.2 62.8 351.8 61 354.8 56.3 354.2 58.1z" fill="#6262d9"/><path d="M342.6 58.4 343.2 57.6 346.2 52.8 345.6 53.6z" fill="#577fce"/><path d="M346.2 58 346.9 59.4 349.9 54.7 349.2 53.3z" fill="#668ae8"/><path d="M343.2 57.6 343.8 56.8 346.8 52 346.2 52.8z" fill="#4f7ebe"/><path d="M303.1 43.7 303.7 41.1 306.7 34.6 306.1 36.9z" fill="#b5cc59"/><path d="M335.1 52.7 335.8 57.4 338.8 50.1 338.1 45.4z" fill="#58bbdf"/><path d="M351.8 61 352.4 59.2 355.4 54.5 354.8 56.3z" fill="#576bca"/><path d="M345.6 57.2 346.2 58 349.2 53.3 348.6 52.4z" fill="#76acff"/><path d="M343.8 56.8 344.4 56 347.4 51.3 346.8 52z" fill="#5492ce"/><path d="M345 56.3 345.6 57.2 348.6 52.4 348 51.6z" fill="#6caaed"/><path d="M344.6 55.7 345 56.3 348 51.6 347.6 51z" fill="#73c1ff"/><path d="M344.4 56 344.6 55.7 347.6 51 347.4 51.3z" fill="#4d8dbe"/><path d="M352.4 59.2 353 57.9 356 53.2 355.4 54.5z" fill="#5a83d5"/><path d="M303.7 41.1 304.3 39 307.3 32.8 306.7 34.6z" fill="#dcd242"/><path d="M353 57.9 353.6 57.6 356.6 52.9 356 53.2z" fill="#588cd4"/><path d="M353.6 57.6 354.3 57.4 357.3 52.6 356.6 52.9z" fill="#5f9ce6"/><path d="M334.5 48.8 335.1 52.7 338.1 45.4 337.5 41.8z" fill="#73f4da"/><path d="M354.3 57.4 354.9 57.1 357.9 52.3 357.3 52.6z" fill="#5793d4"/><path d="M304.3 39 304.9 37.4 307.9 31.5 307.3 32.8z" fill="#c5a339"/><path d="M354.9 57.1 355.5 56.8 358.5 52 357.9 52.3z" fill="#5ea4e6"/><path d="M284.5 73.9 284.7 72.7 287.7 68 287.5 69.2z" fill="#5f5fc6"/><path d="M284.1 71.3 284.5 73.9 287.5 69.2 287.1 66.5z" fill="#6e6ee5"/><path d="M304.9 37.4 305.6 36.1 308.6 30.3 307.9 31.5z" fill="#d3983b"/><path d="M305.6 36.1 306.2 35 309.2 29.4 308.6 30.3z" fill="#bd7733"/><path d="M333.9 45.4 334.5 48.8 337.5 41.8 336.9 38.6z" fill="#9be192"/><path d="M284.7 72.7 285.3 69.2 288.3 64.5 287.7 68z" fill="#6767d7"/><path d="M294.1 74.4 294.5 73.8 297.5 69 297.1 69.7z" fill="#5656b4"/><path d="M306.2 35 306.8 34.2 309.8 28.6 309.2 29.4z" fill="#ce7236"/><path d="M293.9 73 294.1 74.4 297.1 69.7 296.9 68.3z" fill="#6d6de5"/><path d="M283.4 67.3 284.1 71.3 287.1 66.5 286.4 62.6z" fill="#6565d3"/><path d="M294.5 73.8 295.1 72.9 298.1 67.9 297.5 69z" fill="#5e5ec4"/><path d="M306.8 34.2 307.4 33.4 310.4 27.8 309.8 28.6z" fill="#bf5d31"/><path d="M333.3 42.7 333.9 45.4 336.9 38.6 336.3 36.2z" fill="#daf76b"/><path d="M307.4 33.4 308 32.7 311 27.2 310.4 27.8z" fill="#d25935"/><path d="M295.1 72.9 295.8 71.5 298.8 66.4 298.1 67.9z" fill="#5959bb"/><path d="M293.3 68.9 293.9 73 296.9 68.3 296.3 64.1z" fill="#6565d2"/><path d="M308 32.7 308.6 32 311.6 26.5 311 27.2z" fill="#c44730"/><path d="M285.3 69.2 285.9 65.7 288.9 61 288.3 64.5z" fill="#5f5fc6"/><path d="M332.7 40.5 333.3 42.7 336.3 36.2 335.7 34.4z" fill="#e5db45"/><path d="M282.8 64 283.4 67.3 286.4 62.6 285.8 59.3z" fill="#6e6ee6"/><path d="M308.6 32 309.2 31.4 312.2 25.9 311.6 26.5z" fill="#d64133"/><path d="M295.8 71.5 296.4 70.1 299.4 64.7 298.8 66.4z" fill="#6262cd"/><path d="M309.2 31.4 309.9 30.7 312.9 25.5 312.2 25.9z" fill="#c8322f"/><path d="M332.1 38.9 332.7 40.5 335.7 34.4 335.1 33z" fill="#fcd14d"/><path d="M309.9 30.7 310.5 30.3 313.5 25 312.9 25.5z" fill="#d93434"/><path d="M310.5 30.3 311.1 29.9 314.1 24.6 313.5 25z" fill="#c02f2f"/><path d="M296.4 70.1 297 68 300 62.3 299.4 64.7z" fill="#5c5cc1"/><path d="M285.9 65.7 286.5 63.4 289.5 58.7 288.9 61z" fill="#6565d3"/><path d="M282.2 62.2 282.8 64 285.8 59.3 285.2 57.4z" fill="#6666e2"/><path d="M292.7 65.3 293.3 68.9 296.3 64.1 295.7 60.6z" fill="#6e6ee6"/><path d="M331.4 37.5 332.1 38.9 335.1 33 334.4 31.7z" fill="#eaac49"/><path d="M311.1 29.9 311.7 29.5 314.7 24.3 314.1 24.6z" fill="#cb3333"/><path d="M311.7 29.5 312.3 29.1 315.3 24 314.7 24.3z" fill="#b62f2f"/><path d="M330.8 36.4 331.4 37.5 334.4 31.7 333.8 30.8z" fill="#ffa751"/><path d="M281.6 60.3 282.2 62.2 285.2 57.4 284.6 55.6z" fill="#6c83f8"/><path d="M312.3 29.1 312.9 28.8 315.9 23.7 315.3 24z" fill="#c13333"/><path d="M330.2 35.5 330.8 36.4 333.8 30.8 333.2 29.9z" fill="#ef8e4e"/><path d="M312.9 28.8 313.6 28.5 316.6 23.4 315.9 23.7z" fill="#ad2e2e"/><path d="M297 68 297.6 65.9 300.6 60 300 62.3z" fill="#6464d2"/><path d="M286.5 63.4 287.1 61.1 290.1 56.3 289.5 58.7z" fill="#5a64cd"/><path d="M329.6 34.6 330.2 35.5 333.2 29.9 332.6 29z" fill="#ff8953"/><path d="M313.6 28.5 314.2 28.2 317.2 23.2 316.6 23.4z" fill="#b83232"/><path d="M292.1 62.9 292.7 65.3 295.7 60.6 295.1 58.2z" fill="#6666d9"/><path d="M281 58.9 281.6 60.3 284.6 55.6 284 54.2z" fill="#6590e8"/><path d="M329 33.8 329.6 34.6 332.6 29 332 28.3z" fill="#f0734e"/><path d="M314.2 28.2 314.8 28 317.8 23.1 317.2 23.2z" fill="#aa2f2f"/><path d="M314.8 28 315.4 27.9 318.4 23.1 317.8 23.1z" fill="#bb3434"/><path d="M280.4 58.6 281 58.9 284 54.2 283.4 53.8z" fill="#7ab3ff"/><path d="M328.4 33.1 329 33.8 332 28.3 331.4 27.6z" fill="#ff6e53"/><path d="M279.7 58.2 280.4 58.6 283.4 53.8 282.7 53.5z" fill="#71aaf0"/><path d="M315.4 27.9 316 27.9 319 23.1 318.4 23.1z" fill="#ac3030"/><path d="M279.1 57.9 279.7 58.2 282.7 53.5 282.1 53.1z" fill="#79bbff"/><path d="M278.5 57.5 279.1 57.9 282.1 53.1 281.5 52.8z" fill="#70b2f0"/><path d="M316 27.9 316.6 27.8 319.6 23 319 23.1z" fill="#bc3535"/><path d="M327.8 32.4 328.4 33.1 331.4 27.6 330.8 26.9z" fill="#f15b4e"/><path d="M316.6 27.8 317.3 27.8 320.3 23 319.6 23z" fill="#ad3030"/><path d="M327.1 31.7 327.8 32.4 330.8 26.9 330.1 26.4z" fill="#ff5653"/><path d="M287.1 61.1 287.8 59.8 290.8 55 290.1 56.3z" fill="#5b7dd6"/><path d="M317.3 27.8 317.9 27.8 320.9 23 320.3 23z" fill="#bd3535"/><path d="M326.5 31.2 327.1 31.7 330.1 26.4 329.5 25.9z" fill="#ec4e4e"/><path d="M317.9 27.8 318.5 27.8 321.5 23 320.9 23z" fill="#ae3131"/><path d="M291.4 60.5 292.1 62.9 295.1 58.2 294.4 55.8z" fill="#6b83f6"/><path d="M318.5 27.8 319.1 27.8 322.1 23.1 321.5 23z" fill="#c13838"/><path d="M325.9 30.7 326.5 31.2 329.5 25.9 328.9 25.4z" fill="#f55252"/><path d="M319.1 27.8 319.7 27.9 322.7 23.1 322.1 23.1z" fill="#b33636"/><path d="M325.3 30.2 325.9 30.7 328.9 25.4 328.3 25z" fill="#dd4d4d"/><path d="M319.7 27.9 320.4 28 323.4 23.2 322.7 23.1z" fill="#c33c3c"/><path d="M324.7 29.8 325.3 30.2 328.3 25 327.7 24.6z" fill="#e65050"/><path d="M320.4 28 321 28.1 324 23.3 323.4 23.2z" fill="#b53939"/><path d="M324.1 29.4 324.7 29.8 327.7 24.6 327.1 24.3z" fill="#cf4a4a"/><path d="M321 28.1 321.6 28.2 324.6 23.4 324 23.3z" fill="#c43e3e"/><path d="M297.6 65.9 298.2 62.9 301.2 55.5 300.6 60z" fill="#5c60d1"/><path d="M323.4 29 324.1 29.4 327.1 24.3 326.4 23.9z" fill="#d84e4e"/><path d="M321.6 28.2 322.2 28.4 325.2 23.5 324.6 23.4z" fill="#b63b3b"/><path d="M322.8 28.7 323.4 29 326.4 23.9 325.8 23.7z" fill="#c34848"/><path d="M322.2 28.4 322.8 28.7 325.8 23.7 325.2 23.5z" fill="#ca4545"/><path d="M287.8 59.8 288.4 59 291.4 54.2 290.8 55z" fill="#4f7bbe"/><path d="M290.8 59.7 291.4 60.5 294.4 55.8 293.8 54.9z" fill="#6e99ed"/><path d="M288.4 59 289 58.2 292 53.5 291.4 54.2z" fill="#558fce"/><path d="M290.2 58.8 290.8 59.7 293.8 54.9 293.2 54.1z" fill="#75b0ff"/><path d="M289.6 58 290.2 58.8 293.2 54.1 292.6 53.2z" fill="#6caeed"/><path d="M289 58.2 289.4 57.7 292.4 52.9 292 53.5z" fill="#4d8bbe"/><path d="M336.5 76.1 336.9 76.7 339.9 72 339.5 71.2z" fill="#7a7af1"/><path d="M289.4 57.7 289.6 58 292.6 53.2 292.4 52.9z" fill="#73c3ff"/><path d="M336.9 76.7 337.1 75.4 340.1 70.6 339.9 72z" fill="#5f5fc7"/><path d="M335.9 75.1 336.5 76.1 339.5 71.2 338.9 70.1z" fill="#7272df"/><path d="M335.2 73.7 335.9 75.1 338.9 70.1 338.2 68.6z" fill="#7474ee"/><path d="M298.2 62.9 298.9 58.5 301.9 50.9 301.2 55.5z" fill="#5e9ce4"/><path d="M334.6 72.2 335.2 73.7 338.2 68.6 337.6 66.8z" fill="#6969da"/><path d="M337.1 75.4 337.7 71.3 340.7 66.5 340.1 70.6z" fill="#6767d8"/><path d="M346.3 76.1 346.5 77.3 349.5 72.5 349.3 71.3z" fill="#6e6ee6"/><path d="M346.5 77.3 346.9 74.7 349.9 69.9 349.5 72.5z" fill="#5f5fc6"/><path d="M334 70 334.6 72.2 337.6 66.8 337 64.3z" fill="#7070ea"/><path d="M345.7 72.5 346.3 76.1 349.3 71.3 348.7 67.8z" fill="#6565d3"/><path d="M298.9 58.5 299.5 54.2 302.5 47.1 301.9 50.9z" fill="#50c5d1"/><path d="M333.4 67.8 334 70 337 64.3 336.4 61.9z" fill="#6767d7"/><path d="M337.7 71.3 338.3 67.8 341.3 63 340.7 66.5z" fill="#5f5fc6"/><path d="M346.9 74.7 347.6 70.8 350.6 66 349.9 69.9z" fill="#6767d8"/><path d="M345.1 68.9 345.7 72.5 348.7 67.8 348.1 64.2z" fill="#6e6ee6"/><path d="M332.8 64.7 333.4 67.8 336.4 61.9 335.8 57.4z" fill="#6c70f3"/><path d="M338.3 67.8 338.9 65.5 341.9 60.7 341.3 63z" fill="#6464d6"/><path d="M299.5 54.2 300.1 51 303.1 43.7 302.5 47.1z" fill="#7ae1b7"/><path d="M347.6 70.8 348.2 67.6 351.2 62.8 350.6 66z" fill="#5e5ec5"/><path d="M344.5 66.5 345.1 68.9 348.1 64.2 347.5 61.8z" fill="#6666d6"/><path d="M338.9 65.5 339.6 63.1 342.6 58.4 341.9 60.7z" fill="#596dcd"/><path d="M332.1 60.3 332.8 64.7 335.8 57.4 335.1 52.7z" fill="#5c98df"/><path d="M300.1 51 300.7 47.9 303.7 41.1 303.1 43.7z" fill="#99ce7a"/><path d="M343.9 64.2 344.5 66.5 347.5 61.8 346.9 59.4z" fill="#6c78f6"/><path d="M348.2 67.6 348.8 65.8 351.8 61 351.2 62.8z" fill="#6262d9"/><path d="M339.6 63.1 340.2 62.3 343.2 57.6 342.6 58.4z" fill="#577fce"/><path d="M343.2 62.8 343.9 64.2 346.9 59.4 346.2 58z" fill="#668ae8"/><path d="M340.2 62.3 340.8 61.5 343.8 56.8 343.2 57.6z" fill="#4f7ebe"/><path d="M348.8 65.8 349.4 64 352.4 59.2 351.8 61z" fill="#576bca"/><path d="M342.6 61.9 343.2 62.8 346.2 58 345.6 57.2z" fill="#76acff"/><path d="M300.7 47.9 301.3 45.6 304.3 39 303.7 41.1z" fill="#cbdd57"/><path d="M340.8 61.5 341.4 60.8 344.4 56 343.8 56.8z" fill="#5492ce"/><path d="M342 61.1 342.6 61.9 345.6 57.2 345 56.3z" fill="#6caaed"/><path d="M341.6 60.5 342 61.1 345 56.3 344.6 55.7z" fill="#73c1ff"/><path d="M341.4 60.8 341.6 60.5 344.6 55.7 344.4 56z" fill="#4d8dbe"/><path d="M331.5 55.9 332.1 60.3 335.1 52.7 334.5 48.8z" fill="#5de5f3"/><path d="M349.4 64 350 62.7 353 57.9 352.4 59.2z" fill="#5a83d5"/><path d="M301.3 45.6 301.9 43.6 304.9 37.4 304.3 39z" fill="#c8bb3c"/><path d="M350 62.7 350.6 62.4 353.6 57.6 353 57.9z" fill="#588cd4"/><path d="M350.6 62.4 351.3 62.1 354.3 57.4 353.6 57.6z" fill="#5f9ce6"/><path d="M351.3 62.1 351.9 61.8 354.9 57.1 354.3 57.4z" fill="#5793d4"/><path d="M301.9 43.6 302.6 42.2 305.6 36.1 304.9 37.4z" fill="#d5ad3d"/><path d="M351.9 61.8 352.5 61.5 355.5 56.8 354.9 57.1z" fill="#5ea4e6"/><path d="M330.9 52.7 331.5 55.9 334.5 48.8 333.9 45.4z" fill="#7ae1b7"/><path d="M281.5 78.7 281.7 77.5 284.7 72.7 284.5 73.9z" fill="#5f5fc6"/><path d="M281.1 76 281.5 78.7 284.5 73.9 284.1 71.3z" fill="#6e6ee5"/><path d="M302.6 42.2 303.2 40.9 306.2 35 305.6 36.1z" fill="#c18a35"/><path d="M303.2 40.9 303.8 39.9 306.8 34.2 306.2 35z" fill="#cd8137"/><path d="M281.7 77.5 282.3 74 285.3 69.2 284.7 72.7z" fill="#6767d7"/><path d="M330.3 49.5 330.9 52.7 333.9 45.4 333.3 42.7z" fill="#b6f691"/><path d="M291.1 79.2 291.5 78.6 294.5 73.8 294.1 74.4z" fill="#5555b2"/><path d="M290.9 77.8 291.1 79.2 294.1 74.4 293.9 73z" fill="#6d6de5"/><path d="M303.8 39.9 304.4 39.1 307.4 33.4 306.8 34.2z" fill="#bf6a32"/><path d="M280.4 72.1 281.1 76 284.1 71.3 283.4 67.3z" fill="#6565d3"/><path d="M291.5 78.6 292.1 77.8 295.1 72.9 294.5 73.8z" fill="#5d5dc2"/><path d="M304.4 39.1 305 38.3 308 32.7 307.4 33.4z" fill="#d16636"/><path d="M329.7 47.2 330.3 49.5 333.3 42.7 332.7 40.5z" fill="#d1e45a"/><path d="M292.1 77.8 292.8 76.7 295.8 71.5 295.1 72.9z" fill="#5858b8"/><path d="M305 38.3 305.6 37.6 308.6 32 308 32.7z" fill="#c25331"/><path d="M290.3 73.6 290.9 77.8 293.9 73 293.3 68.9z" fill="#6565d2"/><path d="M282.3 74 282.9 70.5 285.9 65.7 285.3 69.2z" fill="#5f5fc6"/><path d="M305.6 37.6 306.2 36.9 309.2 31.4 308.6 32z" fill="#d54f35"/><path d="M292.8 76.7 293.4 75.4 296.4 70.1 295.8 71.5z" fill="#6161ca"/><path d="M329.1 45.1 329.7 47.2 332.7 40.5 332.1 38.9z" fill="#faea4b"/><path d="M279.8 68.8 280.4 72.1 283.4 67.3 282.8 64z" fill="#6e6ee6"/><path d="M306.2 36.9 306.9 36.3 309.9 30.7 309.2 31.4z" fill="#c53d30"/><path d="M306.9 36.3 307.5 35.7 310.5 30.3 309.9 30.7z" fill="#da3934"/><path d="M328.4 43.6 329.1 45.1 332.1 38.9 331.4 37.5z" fill="#eac049"/><path d="M293.4 75.4 294 73.8 297 68 296.4 70.1z" fill="#5b5bbf"/><path d="M307.5 35.7 308.1 35.2 311.1 29.9 310.5 30.3z" fill="#c83030"/><path d="M282.9 70.5 283.5 68.2 286.5 63.4 285.9 65.7z" fill="#6565d3"/><path d="M279.2 66.9 279.8 68.8 282.8 64 282.2 62.2z" fill="#6666e2"/><path d="M308.1 35.2 308.7 34.8 311.7 29.5 311.1 29.9z" fill="#d23333"/><path d="M289.7 70.1 290.3 73.6 293.3 68.9 292.7 65.3z" fill="#6e6ee6"/><path d="M327.8 42.3 328.4 43.6 331.4 37.5 330.8 36.4z" fill="#ffba50"/><path d="M308.7 34.8 309.3 34.3 312.3 29.1 311.7 29.5z" fill="#bb2f2f"/><path d="M327.2 41.1 327.8 42.3 330.8 36.4 330.2 35.5z" fill="#ed9c4d"/><path d="M309.3 34.3 309.9 33.9 312.9 28.8 312.3 29.1z" fill="#c63333"/><path d="M294 73.8 294.6 71.8 297.6 65.9 297 68z" fill="#6464d1"/><path d="M278.6 65.1 279.2 66.9 282.2 62.2 281.6 60.3z" fill="#6c83f8"/><path d="M326.6 40.3 327.2 41.1 330.2 35.5 329.6 34.6z" fill="#ff9a54"/><path d="M309.9 33.9 310.6 33.6 313.6 28.5 312.9 28.8z" fill="#b22f2f"/><path d="M326 39.4 326.6 40.3 329.6 34.6 329 33.8z" fill="#ef814f"/><path d="M310.6 33.6 311.2 33.3 314.2 28.2 313.6 28.5z" fill="#bb3232"/><path d="M283.5 68.2 284.1 65.8 287.1 61.1 286.5 63.4z" fill="#5a64cd"/><path d="M289.1 67.7 289.7 70.1 292.7 65.3 292.1 62.9z" fill="#6666d9"/><path d="M325.4 38.6 326 39.4 329 33.8 328.4 33.1z" fill="#ff7d54"/><path d="M311.2 33.3 311.8 33 314.8 28 314.2 28.2z" fill="#a92e2e"/><path d="M278 63.7 278.6 65.1 281.6 60.3 281 58.9z" fill="#6590e8"/><path d="M324.8 37.9 325.4 38.6 328.4 33.1 327.8 32.4z" fill="#f1694f"/><path d="M311.8 33 312.4 32.8 315.4 27.9 314.8 28z" fill="#b83333"/><path d="M277.4 63.3 278 63.7 281 58.9 280.4 58.6z" fill="#7ab3ff"/><path d="M276.7 63 277.4 63.3 280.4 58.6 279.7 58.2z" fill="#71aaf0"/><path d="M312.4 32.8 313 32.7 316 27.9 315.4 27.9z" fill="#ac3030"/><path d="M324.1 37.2 324.8 37.9 327.8 32.4 327.1 31.7z" fill="#ff6353"/><path d="M276.1 62.6 276.7 63 279.7 58.2 279.1 57.9z" fill="#79bbff"/><path d="M294.6 71.8 295.2 69.8 298.2 62.9 297.6 65.9z" fill="#5d5dc2"/><path d="M275.5 62.3 276.1 62.6 279.1 57.9 278.5 57.5z" fill="#70b2f0"/><path d="M313 32.7 313.6 32.6 316.6 27.8 316 27.9z" fill="#bb3434"/><path d="M323.5 36.5 324.1 37.2 327.1 31.7 326.5 31.2z" fill="#f1544f"/><path d="M313.6 32.6 314.3 32.6 317.3 27.8 316.6 27.8z" fill="#ac3030"/><path d="M322.9 36 323.5 36.5 326.5 31.2 325.9 30.7z" fill="#ff5353"/><path d="M284.1 65.8 284.8 64.5 287.8 59.8 287.1 61.1z" fill="#5b7dd6"/><path d="M314.3 32.6 314.9 32.5 317.9 27.8 317.3 27.8z" fill="#bc3535"/><path d="M322.3 35.5 322.9 36 325.9 30.7 325.3 30.2z" fill="#e54e4e"/><path d="M314.9 32.5 315.5 32.5 318.5 27.8 317.9 27.8z" fill="#ae3131"/><path d="M288.4 65.3 289.1 67.7 292.1 62.9 291.4 60.5z" fill="#6b83f6"/><path d="M321.7 35 322.3 35.5 325.3 30.2 324.7 29.8z" fill="#ef5151"/><path d="M315.5 32.5 316.1 32.6 319.1 27.8 318.5 27.8z" fill="#c23a3a"/><path d="M316.1 32.6 316.7 32.7 319.7 27.9 319.1 27.8z" fill="#b43838"/><path d="M321.1 34.5 321.7 35 324.7 29.8 324.1 29.4z" fill="#d64c4c"/><path d="M316.7 32.7 317.4 32.8 320.4 28 319.7 27.9z" fill="#c43e3e"/><path d="M320.4 34.1 321.1 34.5 324.1 29.4 323.4 29z" fill="#df4f4f"/><path d="M317.4 32.8 318 33 321 28.1 320.4 28z" fill="#b63a3a"/><path d="M319.8 33.8 320.4 34.1 323.4 29 322.8 28.7z" fill="#c94a4a"/><path d="M318 33 318.6 33.1 321.6 28.2 321 28.1z" fill="#c53f3f"/><path d="M319.2 33.4 319.8 33.8 322.8 28.7 322.2 28.4z" fill="#d24c4c"/><path d="M318.6 33.1 319.2 33.4 322.2 28.4 321.6 28.2z" fill="#bb4242"/><path d="M284.8 64.5 285.4 63.7 288.4 59 287.8 59.8z" fill="#4f7bbe"/><path d="M287.8 64.4 288.4 65.3 291.4 60.5 290.8 59.7z" fill="#6e99ed"/><path d="M285.4 63.7 286 63 289 58.2 288.4 59z" fill="#558fce"/><path d="M287.2 63.6 287.8 64.4 290.8 59.7 290.2 58.8z" fill="#75b0ff"/><path d="M295.2 69.8 295.9 66.3 298.9 58.5 298.2 62.9z" fill="#627ae3"/><path d="M286.6 62.7 287.2 63.6 290.2 58.8 289.6 58z" fill="#6caeed"/><path d="M286 63 286.4 62.4 289.4 57.7 289 58.2z" fill="#4d8bbe"/><path d="M333.5 80.9 333.9 81.5 336.9 76.7 336.5 76.1z" fill="#7c7cf2"/><path d="M286.4 62.4 286.6 62.7 289.6 58 289.4 57.7z" fill="#73c3ff"/><path d="M333.9 81.5 334.1 80.1 337.1 75.4 336.9 76.7z" fill="#5f5fc7"/><path d="M332.9 80 333.5 80.9 336.5 76.1 335.9 75.1z" fill="#7373e0"/><path d="M332.2 78.8 332.9 80 335.9 75.1 335.2 73.7z" fill="#7777f0"/><path d="M331.6 77.5 332.2 78.8 335.2 73.7 334.6 72.2z" fill="#6c6cdc"/><path d="M334.1 80.1 334.7 76 337.7 71.3 337.1 75.4z" fill="#6767d8"/><path d="M343.3 80.8 343.5 82 346.5 77.3 346.3 76.1z" fill="#6e6ee6"/><path d="M295.9 66.3 296.5 62.2 299.5 54.2 298.9 58.5z" fill="#54a0d1"/><path d="M331 75.8 331.6 77.5 334.6 72.2 334 70z" fill="#7070eb"/><path d="M343.5 82 343.9 79.4 346.9 74.7 346.5 77.3z" fill="#5f5fc6"/><path d="M342.7 77.3 343.3 80.8 346.3 76.1 345.7 72.5z" fill="#6565d3"/><path d="M330.4 73.7 331 75.8 334 70 333.4 67.8z" fill="#6767d8"/><path d="M334.7 76 335.3 72.5 338.3 67.8 337.7 71.3z" fill="#5f5fc6"/><path d="M343.9 79.4 344.6 75.5 347.6 70.8 346.9 74.7z" fill="#6767d8"/><path d="M296.5 62.2 297.1 58.4 300.1 51 299.5 54.2z" fill="#56e2e0"/><path d="M329.8 71.7 330.4 73.7 333.4 67.8 332.8 64.7z" fill="#6f6fe9"/><path d="M342.1 73.7 342.7 77.3 345.7 72.5 345.1 68.9z" fill="#6e6ee6"/><path d="M335.3 72.5 335.9 70.2 338.9 65.5 338.3 67.8z" fill="#6464d6"/><path d="M329.1 68.1 329.8 71.7 332.8 64.7 332.1 60.3z" fill="#6178e0"/><path d="M297.1 58.4 297.7 55.5 300.7 47.9 300.1 51z" fill="#78ce9f"/><path d="M344.6 75.5 345.2 72.3 348.2 67.6 347.6 70.8z" fill="#5e5ec5"/><path d="M341.5 71.3 342.1 73.7 345.1 68.9 344.5 66.5z" fill="#6666d6"/><path d="M335.9 70.2 336.6 67.9 339.6 63.1 338.9 65.5z" fill="#596dcd"/><path d="M340.9 68.9 341.5 71.3 344.5 66.5 343.9 64.2z" fill="#6c78f6"/><path d="M345.2 72.3 345.8 70.5 348.8 65.8 348.2 67.6z" fill="#6262d9"/><path d="M297.7 55.5 298.3 52.6 301.3 45.6 300.7 47.9z" fill="#aadf7e"/><path d="M328.5 64 329.1 68.1 332.1 60.3 331.5 55.9z" fill="#62baf3"/><path d="M336.6 67.9 337.2 67.1 340.2 62.3 339.6 63.1z" fill="#577fce"/><path d="M340.2 67.5 340.9 68.9 343.9 64.2 343.2 62.8z" fill="#668ae8"/><path d="M337.2 67.1 337.8 66.3 340.8 61.5 340.2 62.3z" fill="#4f7ebe"/><path d="M345.8 70.5 346.4 68.7 349.4 64 348.8 65.8z" fill="#576bca"/><path d="M339.6 66.7 340.2 67.5 343.2 62.8 342.6 61.9z" fill="#76acff"/><path d="M337.8 66.3 338.4 65.5 341.4 60.8 340.8 61.5z" fill="#5492ce"/><path d="M298.3 52.6 298.9 50.5 301.9 43.6 301.3 45.6z" fill="#bbca4e"/><path d="M339 65.8 339.6 66.7 342.6 61.9 342 61.1z" fill="#6caaed"/><path d="M338.6 65.2 339 65.8 342 61.1 341.6 60.5z" fill="#73c1ff"/><path d="M338.4 65.5 338.6 65.2 341.6 60.5 341.4 60.8z" fill="#4d8dbe"/><path d="M346.4 68.7 347 67.4 350 62.7 349.4 64z" fill="#5a83d5"/><path d="M327.9 60.1 328.5 64 331.5 55.9 330.9 52.7z" fill="#56e1e0"/><path d="M298.9 50.5 299.6 48.5 302.6 42.2 301.9 43.6z" fill="#d8cb41"/><path d="M347 67.4 347.6 67.1 350.6 62.4 350 62.7z" fill="#588cd4"/><path d="M347.6 67.1 348.3 66.9 351.3 62.1 350.6 62.4z" fill="#5f9ce6"/><path d="M348.3 66.9 348.9 66.6 351.9 61.8 351.3 62.1z" fill="#5793d4"/><path d="M348.9 66.6 349.5 66.3 352.5 61.5 351.9 61.8z" fill="#5ea4e6"/><path d="M299.6 48.5 300.2 47.1 303.2 40.9 302.6 42.2z" fill="#c3a038"/><path d="M278.5 83.4 278.7 82.2 281.7 77.5 281.5 78.7z" fill="#5f5fc6"/><path d="M327.3 57.1 327.9 60.1 330.9 52.7 330.3 49.5z" fill="#8ef6bd"/><path d="M278.1 80.8 278.5 83.4 281.5 78.7 281.1 76z" fill="#6e6ee5"/><path d="M300.2 47.1 300.8 46 303.8 39.9 303.2 40.9z" fill="#d0973a"/><path d="M300.8 46 301.4 44.8 304.4 39.1 303.8 39.9z" fill="#bc7933"/><path d="M278.7 82.2 279.3 78.7 282.3 74 281.7 77.5z" fill="#6767d7"/><path d="M288.1 83.9 288.5 83.4 291.5 78.6 291.1 79.2z" fill="#5656b3"/><path d="M326.7 54.1 327.3 57.1 330.3 49.5 329.7 47.2z" fill="#ade381"/><path d="M287.9 82.5 288.1 83.9 291.1 79.2 290.9 77.8z" fill="#6d6de5"/><path d="M301.4 44.8 302 44.1 305 38.3 304.4 39.1z" fill="#d17737"/><path d="M277.4 76.8 278.1 80.8 281.1 76 280.4 72.1z" fill="#6565d3"/><path d="M288.5 83.4 289.1 82.7 292.1 77.8 291.5 78.6z" fill="#5d5dc3"/><path d="M302 44.1 302.6 43.3 305.6 37.6 305 38.3z" fill="#c06132"/><path d="M289.1 82.7 289.8 81.8 292.8 76.7 292.1 77.8z" fill="#5656b4"/><path d="M326.1 51.9 326.7 54.1 329.7 47.2 329.1 45.1z" fill="#e7f960"/><path d="M302.6 43.3 303.2 42.6 306.2 36.9 305.6 37.6z" fill="#d35d35"/><path d="M287.3 78.4 287.9 82.5 290.9 77.8 290.3 73.6z" fill="#6565d2"/><path d="M279.3 78.7 279.9 75.2 282.9 70.5 282.3 74z" fill="#5f5fc6"/><path d="M289.8 81.8 290.4 80.6 293.4 75.4 292.8 76.7z" fill="#6060c8"/><path d="M303.2 42.6 303.9 41.9 306.9 36.3 306.2 36.9z" fill="#c44b31"/><path d="M325.4 49.9 326.1 51.9 329.1 45.1 328.4 43.6z" fill="#e7d947"/><path d="M276.8 73.5 277.4 76.8 280.4 72.1 279.8 68.8z" fill="#6e6ee6"/><path d="M303.9 41.9 304.5 41.3 307.5 35.7 306.9 36.3z" fill="#d64634"/><path d="M290.4 80.6 291 79.5 294 73.8 293.4 75.4z" fill="#5959ba"/><path d="M304.5 41.3 305.1 40.7 308.1 35.2 307.5 35.7z" fill="#c83730"/><path d="M324.8 48.4 325.4 49.9 328.4 43.6 327.8 42.3z" fill="#fed250"/><path d="M305.1 40.7 305.7 40.1 308.7 34.8 308.1 35.2z" fill="#da3434"/><path d="M324.2 47.2 324.8 48.4 327.8 42.3 327.2 41.1z" fill="#ecaf4c"/><path d="M279.9 75.2 280.5 72.9 283.5 68.2 282.9 70.5z" fill="#6565d3"/><path d="M276.2 71.7 276.8 73.5 279.8 68.8 279.2 66.9z" fill="#6666e2"/><path d="M286.7 74.8 287.3 78.4 290.3 73.6 289.7 70.1z" fill="#6e6ee6"/><path d="M305.7 40.1 306.3 39.7 309.3 34.3 308.7 34.8z" fill="#c32f2f"/><path d="M291 79.5 291.6 77.7 294.6 71.8 294 73.8z" fill="#6363cf"/><path d="M323.6 46 324.2 47.2 327.2 41.1 326.6 40.3z" fill="#ffab53"/><path d="M306.3 39.7 306.9 39.2 309.9 33.9 309.3 34.3z" fill="#cd3333"/><path d="M323 45.2 323.6 46 326.6 40.3 326 39.4z" fill="#f09250"/><path d="M306.9 39.2 307.6 38.8 310.6 33.6 309.9 33.9z" fill="#b72f2f"/><path d="M275.6 69.8 276.2 71.7 279.2 66.9 278.6 65.1z" fill="#6c83f8"/><path d="M322.4 44.4 323 45.2 326 39.4 325.4 38.6z" fill="#ff8e55"/><path d="M307.6 38.8 308.2 38.5 311.2 33.3 310.6 33.6z" fill="#c23333"/><path d="M291.6 77.7 292.2 75.9 295.2 69.8 294.6 71.8z" fill="#5b5bbe"/><path d="M321.8 43.6 322.4 44.4 325.4 38.6 324.8 37.9z" fill="#f07850"/><path d="M280.5 72.9 281.1 70.6 284.1 65.8 283.5 68.2z" fill="#5a64cd"/><path d="M308.2 38.5 308.8 38.1 311.8 33 311.2 33.3z" fill="#ac2e2e"/><path d="M286.1 72.4 286.7 74.8 289.7 70.1 289.1 67.7z" fill="#6666d9"/><path d="M321.1 42.8 321.8 43.6 324.8 37.9 324.1 37.2z" fill="#ff7454"/><path d="M275 68.4 275.6 69.8 278.6 65.1 278 63.7z" fill="#6590e8"/><path d="M308.8 38.1 309.4 37.8 312.4 32.8 311.8 33z" fill="#b73232"/><path d="M320.5 42.2 321.1 42.8 324.1 37.2 323.5 36.5z" fill="#f1614f"/><path d="M309.4 37.8 310 37.5 313 32.7 312.4 32.8z" fill="#a92f2f"/><path d="M274.4 68.1 275 68.4 278 63.7 277.4 63.3z" fill="#7ab3ff"/><path d="M273.7 67.7 274.4 68.1 277.4 63.3 276.7 63z" fill="#71aaf0"/><path d="M273.1 67.4 273.7 67.7 276.7 63 276.1 62.6z" fill="#79bbff"/><path d="M319.9 41.5 320.5 42.2 323.5 36.5 322.9 36z" fill="#ff5c54"/><path d="M272.5 67 273.1 67.4 276.1 62.6 275.5 62.3z" fill="#70b2f0"/><path d="M310 37.5 310.6 37.5 313.6 32.6 313 32.7z" fill="#ba3434"/><path d="M319.3 40.9 319.9 41.5 322.9 36 322.3 35.5z" fill="#f04f4f"/><path d="M310.6 37.5 311.3 37.4 314.3 32.6 313.6 32.6z" fill="#ac3030"/><path d="M318.7 40.4 319.3 40.9 322.3 35.5 321.7 35z" fill="#f95353"/><path d="M311.3 37.4 311.9 37.3 314.9 32.5 314.3 32.6z" fill="#bb3434"/><path d="M281.1 70.6 281.8 69.3 284.8 64.5 284.1 65.8z" fill="#5b7dd6"/><path d="M318.1 39.8 318.7 40.4 321.7 35 321.1 34.5z" fill="#e04e4e"/><path d="M311.9 37.3 312.5 37.2 315.5 32.5 314.9 32.5z" fill="#ad3030"/><path d="M317.4 39.3 318.1 39.8 321.1 34.5 320.4 34.1z" fill="#e85151"/><path d="M292.2 75.9 292.9 74.1 295.9 66.3 295.2 69.8z" fill="#6464d7"/><path d="M285.4 70 286.1 72.4 289.1 67.7 288.4 65.3z" fill="#6b83f6"/><path d="M312.5 37.2 313.1 37.4 316.1 32.6 315.5 32.5z" fill="#c33d3d"/><path d="M316.8 38.9 317.4 39.3 320.4 34.1 319.8 33.8z" fill="#d14b4b"/><path d="M313.1 37.4 313.7 37.5 316.7 32.7 316.1 32.6z" fill="#b63b3b"/><path d="M316.2 38.5 316.8 38.9 319.8 33.8 319.2 33.4z" fill="#da4f4f"/><path d="M313.7 37.5 314.4 37.7 317.4 32.8 316.7 32.7z" fill="#c54040"/><path d="M314.4 37.7 315 37.8 318 33 317.4 32.8z" fill="#b73c3c"/><path d="M315.6 38.1 316.2 38.5 319.2 33.4 318.6 33.1z" fill="#c44949"/><path d="M315 37.8 315.6 38.1 318.6 33.1 318 33z" fill="#cb4747"/><path d="M281.8 69.3 282.4 68.5 285.4 63.7 284.8 64.5z" fill="#4f7bbe"/><path d="M284.8 69.2 285.4 70 288.4 65.3 287.8 64.4z" fill="#6e99ed"/><path d="M282.4 68.5 283 67.7 286 63 285.4 63.7z" fill="#558fce"/><path d="M284.2 68.3 284.8 69.2 287.8 64.4 287.2 63.6z" fill="#75b0ff"/><path d="M283.6 67.5 284.2 68.3 287.2 63.6 286.6 62.7z" fill="#6caeed"/><path d="M283 67.7 283.4 67.2 286.4 62.4 286 63z" fill="#4d8bbe"/><path d="M330.5 85.7 330.9 86.2 333.9 81.5 333.5 80.9z" fill="#7e7ef3"/><path d="M283.4 67.2 283.6 67.5 286.6 62.7 286.4 62.4z" fill="#73c3ff"/><path d="M330.9 86.2 331.1 84.9 334.1 80.1 333.9 81.5z" fill="#5f5fc7"/><path d="M329.9 84.9 330.5 85.7 333.5 80.9 332.9 80z" fill="#7575e2"/><path d="M292.9 74.1 293.5 70.4 296.5 62.2 295.9 66.3z" fill="#597ad0"/><path d="M329.2 83.9 329.9 84.9 332.9 80 332.2 78.8z" fill="#7b7bf2"/><path d="M328.6 82.7 329.2 83.9 332.2 78.8 331.6 77.5z" fill="#6e6edd"/><path d="M328 81.5 328.6 82.7 331.6 77.5 331 75.8z" fill="#7575ef"/><path d="M331.1 84.9 331.7 80.8 334.7 76 334.1 80.1z" fill="#6767d8"/><path d="M340.3 85.6 340.5 86.8 343.5 82 343.3 80.8z" fill="#6e6ee6"/><path d="M340.5 86.8 340.9 84.2 343.9 79.4 343.5 82z" fill="#5f5fc6"/><path d="M293.5 70.4 294.1 66.7 297.1 58.4 296.5 62.2z" fill="#5ab6e2"/><path d="M327.4 79.6 328 81.5 331 75.8 330.4 73.7z" fill="#6868d9"/><path d="M339.7 82 340.3 85.6 343.3 80.8 342.7 77.3z" fill="#6565d3"/><path d="M326.8 77.8 327.4 79.6 330.4 73.7 329.8 71.7z" fill="#7171ec"/><path d="M331.7 80.8 332.3 77.3 335.3 72.5 334.7 76z" fill="#5f5fc6"/><path d="M340.9 84.2 341.6 80.3 344.6 75.5 343.9 79.4z" fill="#6767d8"/><path d="M294.1 66.7 294.7 63.2 297.7 55.5 297.1 58.4z" fill="#52cfc9"/><path d="M326.1 75.9 326.8 77.8 329.8 71.7 329.1 68.1z" fill="#6666da"/><path d="M339.1 78.4 339.7 82 342.7 77.3 342.1 73.7z" fill="#6e6ee6"/><path d="M332.3 77.3 332.9 75 335.9 70.2 335.3 72.5z" fill="#6464d6"/><path d="M341.6 80.3 342.2 77.1 345.2 72.3 344.6 75.5z" fill="#5e5ec5"/><path d="M325.5 72.1 326.1 75.9 329.1 68.1 328.5 64z" fill="#688ef4"/><path d="M294.7 63.2 295.3 60.5 298.3 52.6 297.7 55.5z" fill="#82dfab"/><path d="M338.5 76 339.1 78.4 342.1 73.7 341.5 71.3z" fill="#6666d6"/><path d="M332.9 75 333.6 72.6 336.6 67.9 335.9 70.2z" fill="#596dcd"/><path d="M337.9 73.7 338.5 76 341.5 71.3 340.9 68.9z" fill="#6c78f6"/><path d="M342.2 77.1 342.8 75.3 345.8 70.5 345.2 72.3z" fill="#6262d9"/><path d="M295.3 60.5 295.9 57.8 298.9 50.5 298.3 52.6z" fill="#9acc75"/><path d="M333.6 72.6 334.2 71.8 337.2 67.1 336.6 67.9z" fill="#577fce"/><path d="M324.9 68.4 325.5 72.1 328.5 64 327.9 60.1z" fill="#59b5e1"/><path d="M337.2 72.3 337.9 73.7 340.9 68.9 340.2 67.5z" fill="#668ae8"/><path d="M334.2 71.8 334.8 71 337.8 66.3 337.2 67.1z" fill="#4f7ebe"/><path d="M342.8 75.3 343.4 73.5 346.4 68.7 345.8 70.5z" fill="#576bca"/><path d="M336.6 71.4 337.2 72.3 340.2 67.5 339.6 66.7z" fill="#76acff"/><path d="M295.9 57.8 296.6 55.7 299.6 48.5 298.9 50.5z" fill="#c7db59"/><path d="M334.8 71 335.4 70.3 338.4 65.5 337.8 66.3z" fill="#5492ce"/><path d="M336 70.6 336.6 71.4 339.6 66.7 339 65.8z" fill="#6caaed"/><path d="M335.6 70 336 70.6 339 65.8 338.6 65.2z" fill="#73c1ff"/><path d="M335.4 70.3 335.6 70 338.6 65.2 338.4 65.5z" fill="#4d8dbe"/><path d="M343.4 73.5 344 72.2 347 67.4 346.4 68.7z" fill="#5a83d5"/><path d="M324.3 64.8 324.9 68.4 327.9 60.1 327.3 57.1z" fill="#62f5ef"/><path d="M296.6 55.7 297.2 53.8 300.2 47.1 299.6 48.5z" fill="#c6be3c"/><path d="M344 72.2 344.6 71.9 347.6 67.1 347 67.4z" fill="#588cd4"/><path d="M344.6 71.9 345.3 71.6 348.3 66.9 347.6 67.1z" fill="#5f9ce6"/><path d="M345.3 71.6 345.9 71.3 348.9 66.6 348.3 66.9z" fill="#5793d4"/><path d="M297.2 53.8 297.8 52.3 300.8 46 300.2 47.1z" fill="#d4b33e"/><path d="M345.9 71.3 346.5 71 349.5 66.3 348.9 66.6z" fill="#5ea4e6"/><path d="M323.7 62 324.3 64.8 327.3 57.1 326.7 54.1z" fill="#84e3ae"/><path d="M297.8 52.3 298.4 51.2 301.4 44.8 300.8 46z" fill="#bf8f36"/><path d="M298.4 51.2 299 50.1 302 44.1 301.4 44.8z" fill="#cc8838"/><path d="M323.1 59.2 323.7 62 326.7 54.1 326.1 51.9z" fill="#bbf88f"/><path d="M299 50.1 299.6 49.2 302.6 43.3 302 44.1z" fill="#bf7133"/><path d="M299.6 49.2 300.2 48.5 303.2 42.6 302.6 43.3z" fill="#d26f37"/><path d="M322.4 57.1 323.1 59.2 326.1 51.9 325.4 49.9z" fill="#d1e65d"/><path d="M300.2 48.5 300.9 47.7 303.9 41.9 303.2 42.6z" fill="#c35b32"/><path d="M300.9 47.7 301.5 47 304.5 41.3 303.9 41.9z" fill="#d55735"/><path d="M321.8 55.2 322.4 57.1 325.4 49.9 324.8 48.4z" fill="#fcf24f"/><path d="M301.5 47 302.1 46.4 305.1 40.7 304.5 41.3z" fill="#c54530"/><path d="M321.2 53.5 321.8 55.2 324.8 48.4 324.2 47.2z" fill="#eac74a"/><path d="M302.1 46.4 302.7 45.8 305.7 40.1 305.1 40.7z" fill="#d84034"/><path d="M320.6 52.4 321.2 53.5 324.2 47.2 323.6 46z" fill="#ffc353"/><path d="M302.7 45.8 303.3 45.1 306.3 39.7 305.7 40.1z" fill="#c8312f"/><path d="M303.3 45.1 303.9 44.7 306.9 39.2 306.3 39.7z" fill="#d73434"/><path d="M320 51.2 320.6 52.4 323.6 46 323 45.2z" fill="#eea550"/><path d="M303.9 44.7 304.6 44.2 307.6 38.8 306.9 39.2z" fill="#be2f2f"/><path d="M319.4 50.3 320 51.2 323 45.2 322.4 44.4z" fill="#ffa356"/><path d="M318.8 49.5 319.4 50.3 322.4 44.4 321.8 43.6z" fill="#f08b51"/><path d="M304.6 44.2 305.2 43.8 308.2 38.5 307.6 38.8z" fill="#c83333"/><path d="M318.1 48.7 318.8 49.5 321.8 43.6 321.1 42.8z" fill="#ff8756"/><path d="M305.2 43.8 305.8 43.4 308.8 38.1 308.2 38.5z" fill="#b22e2e"/><path d="M317.5 47.9 318.1 48.7 321.1 42.8 320.5 42.2z" fill="#f17250"/><path d="M305.8 43.4 306.4 43 309.4 37.8 308.8 38.1z" fill="#bb3232"/><path d="M316.9 47.2 317.5 47.9 320.5 42.2 319.9 41.5z" fill="#ff6d54"/><path d="M306.4 43 307 42.6 310 37.5 309.4 37.8z" fill="#a72e2e"/><path d="M316.3 46.5 316.9 47.2 319.9 41.5 319.3 40.9z" fill="#f15c50"/><path d="M315.7 45.8 316.3 46.5 319.3 40.9 318.7 40.4z" fill="#ff5653"/><path d="M307 42.6 307.6 42.3 310.6 37.5 310 37.5z" fill="#b63333"/><path d="M315.1 45.3 315.7 45.8 318.7 40.4 318.1 39.8z" fill="#eb4f4f"/><path d="M307.6 42.3 308.3 42.2 311.3 37.4 310.6 37.5z" fill="#ab3030"/><path d="M314.4 44.8 315.1 45.3 318.1 39.8 317.4 39.3z" fill="#f45252"/><path d="M308.3 42.2 308.9 42.1 311.9 37.3 311.3 37.4z" fill="#ba3434"/><path d="M313.8 44.2 314.4 44.8 317.4 39.3 316.8 38.9z" fill="#db4d4d"/><path d="M313.2 43.8 313.8 44.2 316.8 38.9 316.2 38.5z" fill="#e35050"/><path d="M308.9 42.1 309.5 42 312.5 37.2 311.9 37.3z" fill="#ab3030"/><path d="M312.6 43.3 313.2 43.8 316.2 38.5 315.6 38.1z" fill="#cc4b4b"/><path d="M309.5 42 310.1 42.2 313.1 37.4 312.5 37.2z" fill="#c64040"/><path d="M310.1 42.2 310.7 42.3 313.7 37.5 313.1 37.4z" fill="#b73d3d"/><path d="M312 42.9 312.6 43.3 315.6 38.1 315 37.8z" fill="#d44e4e"/><path d="M310.7 42.3 311.4 42.5 314.4 37.7 313.7 37.5z" fill="#c64242"/><path d="M311.4 42.5 312 42.9 315 37.8 314.4 37.7z" fill="#bd4545"/></g>
<g shape-rendering="crispEdges">
<g><rect x="406.3" y="22.00" width="37.15" height="1.80" fill="url(#h0)"/><rect x="406.3" y="23.00" width="37.15" height="1.80" fill="url(#h1)"/><rect x="406.3" y="24.01" width="37.15" height="1.80" fill="url(#h2)"/><rect x="406.3" y="25.01" width="37.15" height="1.80" fill="url(#h3)"/><rect x="406.3" y="26.01" width="37.15" height="1.80" fill="url(#h4)"/><rect x="406.3" y="27.01" width="37.15" height="1.80" fill="url(#h5)"/><rect x="406.3" y="28.02" width="37.15" height="1.80" fill="url(#h6)"/><rect x="406.3" y="29.02" width="37.15" height="1.80" fill="url(#h7)"/><rect x="406.3" y="30.02" width="37.15" height="1.80" fill="url(#h8)"/><rect x="406.3" y="31.02" width="37.15" height="1.80" fill="url(#h9)"/><rect x="406.3" y="32.03" width="37.15" height="1.80" fill="url(#h10)"/><rect x="406.3" y="33.03" width="37.15" height="1.80" fill="url(#h11)"/><rect x="406.3" y="34.03" width="37.15" height="1.80" fill="url(#h12)"/><rect x="406.3" y="35.03" width="37.15" height="1.80" fill="url(#h13)"/><rect x="406.3" y="36.04" width="37.15" height="1.80" fill="url(#h14)"/><rect x="406.3" y="37.04" width="37.15" height="1.80" fill="url(#h15)"/><rect x="406.3" y="38.04" width="37.15" height="1.80" fill="url(#h16)"/><rect x="406.3" y="39.04" width="37.15" height="1.80" fill="url(#h17)"/><rect x="406.3" y="40.05" width="37.15" height="1.80" fill="url(#h18)"/><rect x="406.3" y="41.05" width="37.15" height="1.80" fill="url(#h19)"/><rect x="406.3" y="42.05" width="37.15" height="1.80" fill="url(#h20)"/><rect x="406.3" y="43.06" width="37.15" height="1.80" fill="url(#h21)"/><rect x="406.3" y="44.06" width="37.15" height="1.80" fill="url(#h22)"/><rect x="406.3" y="45.06" width="37.15" height="1.80" fill="url(#h23)"/><rect x="406.3" y="46.06" width="37.15" height="1.80" fill="url(#h24)"/><rect x="406.3" y="47.07" width="37.15" height="1.80" fill="url(#h25)"/><rect x="406.3" y="48.07" width="37.15" height="1.80" fill="url(#h26)"/><rect x="406.3" y="49.07" width="37.15" height="1.80" fill="url(#h27)"/><rect x="406.3" y="50.07" width="37.15" height="1.80" fill="url(#h28)"/><rect x="406.3" y="51.08" width="37.15" height="1.80" fill="url(#h29)"/><rect x="406.3" y="52.08" width="37.15" height="1.80" fill="url(#h30)"/><rect x="406.3" y="53.08" width="37.15" height="1.80" fill="url(#h31)"/><rect x="406.3" y="54.08" width="37.15" height="1.80" fill="url(#h32)"/><rect x="406.3" y="55.09" width="37.15" height="1.80" fill="url(#h33)"/><rect x="406.3" y="56.09" width="37.15" height="1.80" fill="url(#h34)"/><rect x="406.3" y="57.09" width="37.15" height="1.80" fill="url(#h35)"/><rect x="406.3" y="58.09" width="37.15" height="1.80" fill="url(#h36)"/><rect x="406.3" y="59.10" width="37.15" height="1.02" fill="url(#h37)"/></g>
<g transform="translate(886.30,0) scale(-1,1)"><rect x="406.3" y="22.00" width="37.15" height="1.80" fill="url(#h0)"/><rect x="406.3" y="23.00" width="37.15" height="1.80" fill="url(#h1)"/><rect x="406.3" y="24.01" width="37.15" height="1.80" fill="url(#h2)"/><rect x="406.3" y="25.01" width="37.15" height="1.80" fill="url(#h3)"/><rect x="406.3" y="26.01" width="37.15" height="1.80" fill="url(#h4)"/><rect x="406.3" y="27.01" width="37.15" height="1.80" fill="url(#h5)"/><rect x="406.3" y="28.02" width="37.15" height="1.80" fill="url(#h6)"/><rect x="406.3" y="29.02" width="37.15" height="1.80" fill="url(#h7)"/><rect x="406.3" y="30.02" width="37.15" height="1.80" fill="url(#h8)"/><rect x="406.3" y="31.02" width="37.15" height="1.80" fill="url(#h9)"/><rect x="406.3" y="32.03" width="37.15" height="1.80" fill="url(#h10)"/><rect x="406.3" y="33.03" width="37.15" height="1.80" fill="url(#h11)"/><rect x="406.3" y="34.03" width="37.15" height="1.80" fill="url(#h12)"/><rect x="406.3" y="35.03" width="37.15" height="1.80" fill="url(#h13)"/><rect x="406.3" y="36.04" width="37.15" height="1.80" fill="url(#h14)"/><rect x="406.3" y="37.04" width="37.15" height="1.80" fill="url(#h15)"/><rect x="406.3" y="38.04" width="37.15" height="1.80" fill="url(#h16)"/><rect x="406.3" y="39.04" width="37.15" height="1.80" fill="url(#h17)"/><rect x="406.3" y="40.05" width="37.15" height="1.80" fill="url(#h18)"/><rect x="406.3" y="41.05" width="37.15" height="1.80" fill="url(#h19)"/><rect x="406.3" y="42.05" width="37.15" height="1.80" fill="url(#h20)"/><rect x="406.3" y="43.06" width="37.15" height="1.80" fill="url(#h21)"/><rect x="406.3" y="44.06" width="37.15" height="1.80" fill="url(#h22)"/><rect x="406.3" y="45.06" width="37.15" height="1.80" fill="url(#h23)"/><rect x="406.3" y="46.06" width="37.15" height="1.80" fill="url(#h24)"/><rect x="406.3" y="47.07" width="37.15" height="1.80" fill="url(#h25)"/><rect x="406.3" y="48.07" width="37.15" height="1.80" fill="url(#h26)"/><rect x="406.3" y="49.07" width="37.15" height="1.80" fill="url(#h27)"/><rect x="406.3" y="50.07" width="37.15" height="1.80" fill="url(#h28)"/><rect x="406.3" y="51.08" width="37.15" height="1.80" fill="url(#h29)"/><rect x="406.3" y="52.08" width="37.15" height="1.80" fill="url(#h30)"/><rect x="406.3" y="53.08" width="37.15" height="1.80" fill="url(#h31)"/><rect x="406.3" y="54.08" width="37.15" height="1.80" fill="url(#h32)"/><rect x="406.3" y="55.09" width="37.15" height="1.80" fill="url(#h33)"/><rect x="406.3" y="56.09" width="37.15" height="1.80" fill="url(#h34)"/><rect x="406.3" y="57.09" width="37.15" height="1.80" fill="url(#h35)"/><rect x="406.3" y="58.09" width="37.15" height="1.80" fill="url(#h36)"/><rect x="406.3" y="59.10" width="37.15" height="1.02" fill="url(#h37)"/></g>
<g transform="translate(0,120.20) scale(1,-1)"><rect x="406.3" y="22.00" width="37.15" height="1.80" fill="url(#h0)"/><rect x="406.3" y="23.00" width="37.15" height="1.80" fill="url(#h1)"/><rect x="406.3" y="24.01" width="37.15" height="1.80" fill="url(#h2)"/><rect x="406.3" y="25.01" width="37.15" height="1.80" fill="url(#h3)"/><rect x="406.3" y="26.01" width="37.15" height="1.80" fill="url(#h4)"/><rect x="406.3" y="27.01" width="37.15" height="1.80" fill="url(#h5)"/><rect x="406.3" y="28.02" width="37.15" height="1.80" fill="url(#h6)"/><rect x="406.3" y="29.02" width="37.15" height="1.80" fill="url(#h7)"/><rect x="406.3" y="30.02" width="37.15" height="1.80" fill="url(#h8)"/><rect x="406.3" y="31.02" width="37.15" height="1.80" fill="url(#h9)"/><rect x="406.3" y="32.03" width="37.15" height="1.80" fill="url(#h10)"/><rect x="406.3" y="33.03" width="37.15" height="1.80" fill="url(#h11)"/><rect x="406.3" y="34.03" width="37.15" height="1.80" fill="url(#h12)"/><rect x="406.3" y="35.03" width="37.15" height="1.80" fill="url(#h13)"/><rect x="406.3" y="36.04" width="37.15" height="1.80" fill="url(#h14)"/><rect x="406.3" y="37.04" width="37.15" height="1.80" fill="url(#h15)"/><rect x="406.3" y="38.04" width="37.15" height="1.80" fill="url(#h16)"/><rect x="406.3" y="39.04" width="37.15" height="1.80" fill="url(#h17)"/><rect x="406.3" y="40.05" width="37.15" height="1.80" fill="url(#h18)"/><rect x="406.3" y="41.05" width="37.15" height="1.80" fill="url(#h19)"/><rect x="406.3" y="42.05" width="37.15" height="1.80" fill="url(#h20)"/><rect x="406.3" y="43.06" width="37.15" height="1.80" fill="url(#h21)"/><rect x="406.3" y="44.06" width="37.15" height="1.80" fill="url(#h22)"/><rect x="406.3" y="45.06" width="37.15" height="1.80" fill="url(#h23)"/><rect x="406.3" y="46.06" width="37.15" height="1.80" fill="url(#h24)"/><rect x="406.3" y="47.07" width="37.15" height="1.80" fill="url(#h25)"/><rect x="406.3" y="48.07" width="37.15" height="1.80" fill="url(#h26)"/><rect x="406.3" y="49.07" width="37.15" height="1.80" fill="url(#h27)"/><rect x="406.3" y="50.07" width="37.15" height="1.80" fill="url(#h28)"/><rect x="406.3" y="51.08" width="37.15" height="1.80" fill="url(#h29)"/><rect x="406.3" y="52.08" width="37.15" height="1.80" fill="url(#h30)"/><rect x="406.3" y="53.08" width="37.15" height="1.80" fill="url(#h31)"/><rect x="406.3" y="54.08" width="37.15" height="1.80" fill="url(#h32)"/><rect x="406.3" y="55.09" width="37.15" height="1.80" fill="url(#h33)"/><rect x="406.3" y="56.09" width="37.15" height="1.80" fill="url(#h34)"/><rect x="406.3" y="57.09" width="37.15" height="1.80" fill="url(#h35)"/><rect x="406.3" y="58.09" width="37.15" height="1.80" fill="url(#h36)"/><rect x="406.3" y="59.10" width="37.15" height="1.02" fill="url(#h37)"/></g>
<g transform="translate(886.30,120.20) scale(-1,-1)"><rect x="406.3" y="22.00" width="37.15" height="1.80" fill="url(#h0)"/><rect x="406.3" y="23.00" width="37.15" height="1.80" fill="url(#h1)"/><rect x="406.3" y="24.01" width="37.15" height="1.80" fill="url(#h2)"/><rect x="406.3" y="25.01" width="37.15" height="1.80" fill="url(#h3)"/><rect x="406.3" y="26.01" width="37.15" height="1.80" fill="url(#h4)"/><rect x="406.3" y="27.01" width="37.15" height="1.80" fill="url(#h5)"/><rect x="406.3" y="28.02" width="37.15" height="1.80" fill="url(#h6)"/><rect x="406.3" y="29.02" width="37.15" height="1.80" fill="url(#h7)"/><rect x="406.3" y="30.02" width="37.15" height="1.80" fill="url(#h8)"/><rect x="406.3" y="31.02" width="37.15" height="1.80" fill="url(#h9)"/><rect x="406.3" y="32.03" width="37.15" height="1.80" fill="url(#h10)"/><rect x="406.3" y="33.03" width="37.15" height="1.80" fill="url(#h11)"/><rect x="406.3" y="34.03" width="37.15" height="1.80" fill="url(#h12)"/><rect x="406.3" y="35.03" width="37.15" height="1.80" fill="url(#h13)"/><rect x="406.3" y="36.04" width="37.15" height="1.80" fill="url(#h14)"/><rect x="406.3" y="37.04" width="37.15" height="1.80" fill="url(#h15)"/><rect x="406.3" y="38.04" width="37.15" height="1.80" fill="url(#h16)"/><rect x="406.3" y="39.04" width="37.15" height="1.80" fill="url(#h17)"/><rect x="406.3" y="40.05" width="37.15" height="1.80" fill="url(#h18)"/><rect x="406.3" y="41.05" width="37.15" height="1.80" fill="url(#h19)"/><rect x="406.3" y="42.05" width="37.15" height="1.80" fill="url(#h20)"/><rect x="406.3" y="43.06" width="37.15" height="1.80" fill="url(#h21)"/><rect x="406.3" y="44.06" width="37.15" height="1.80" fill="url(#h22)"/><rect x="406.3" y="45.06" width="37.15" height="1.80" fill="url(#h23)"/><rect x="406.3" y="46.06" width="37.15" height="1.80" fill="url(#h24)"/><rect x="406.3" y="47.07" width="37.15" height="1.80" fill="url(#h25)"/><rect x="406.3" y="48.07" width="37.15" height="1.80" fill="url(#h26)"/><rect x="406.3" y="49.07" width="37.15" height="1.80" fill="url(#h27)"/><rect x="406.3" y="50.07" width="37.15" height="1.80" fill="url(#h28)"/><rect x="406.3" y="51.08" width="37.15" height="1.80" fill="url(#h29)"/><rect x="406.3" y="52.08" width="37.15" height="1.80" fill="url(#h30)"/><rect x="406.3" y="53.08" width="37.15" height="1.80" fill="url(#h31)"/><rect x="406.3" y="54.08" width="37.15" height="1.80" fill="url(#h32)"/><rect x="406.3" y="55.09" width="37.15" height="1.80" fill="url(#h33)"/><rect x="406.3" y="56.09" width="37.15" height="1.80" fill="url(#h34)"/><rect x="406.3" y="57.09" width="37.15" height="1.80" fill="url(#h35)"/><rect x="406.3" y="58.09" width="37.15" height="1.80" fill="url(#h36)"/><rect x="406.3" y="59.10" width="37.15" height="1.02" fill="url(#h37)"/></g>
</g>
<rect x="489.6" y="22" width="6.1" height="76.2" fill="url(#cb)"/>
<rect x="489.6" y="22" width="6.1" height="76.2" fill="none" stroke="#999" stroke-width="0.3"/>
<rect x="406.3" y="22" width="73.7" height="76.2" fill="none" stroke="#999" stroke-width="0.3"/>
<g font-size="4.4">
<text x="404.3" y="23.6" text-anchor="end">180</text>
<text x="404.3" y="42.6" text-anchor="end">135</text>
<text x="404.3" y="61.7" text-anchor="end">90</text>
<text x="404.3" y="80.8" text-anchor="end">45</text>
<text x="404.3" y="99.8" text-anchor="end">0</text>
<text x="406.3" y="104" text-anchor="middle">-180</text>
<text x="424.7" y="104" text-anchor="middle">-90</text>
<text x="443.1" y="104" text-anchor="middle">0</text>
<text x="461.6" y="104" text-anchor="middle">90</text>
<text x="480.0" y="104" text-anchor="middle">180</text>
<text x="497.3" y="23.6">0dB</text>
<text x="497.3" y="42.6">-10dB</text>
<text x="497.3" y="61.7">-20dB</text>
<text x="497.3" y="80.8">-30dB</text>
<text x="497.3" y="99.8">-40dB</text>
</g>
<text x="443" y="109.5" font-size="5.4" text-anchor="middle"><tspan font-style="italic">θ</tspan> (°)</text>
<text transform="translate(395.6,60) rotate(-90)" font-size="5.4" text-anchor="middle"><tspan font-style="italic">φ</tspan> (°)</text>
</g>
<g transform="translate(0,111)">
<text x="5.6" y="14.1" font-size="9.4" fill="#333">(b)</text>
<line x1="31.3" y1="22.3" x2="31.3" y2="94.5" stroke="#f3f3f3" stroke-width="0.5"/>
<line x1="24.2" y1="87.1" x2="95" y2="87.1" stroke="#f3f3f3" stroke-width="0.5"/>
<line x1="45.4" y1="22.3" x2="45.4" y2="94.5" stroke="#f3f3f3" stroke-width="0.5"/>
<line x1="24.2" y1="72.7" x2="95" y2="72.7" stroke="#f3f3f3" stroke-width="0.5"/>
<line x1="73.6" y1="22.3" x2="73.6" y2="94.5" stroke="#f3f3f3" stroke-width="0.5"/>
<line x1="24.2" y1="43.9" x2="95" y2="43.9" stroke="#f3f3f3" stroke-width="0.5"/>
<line x1="87.7" y1="22.3" x2="87.7" y2="94.5" stroke="#f3f3f3" stroke-width="0.5"/>
<line x1="24.2" y1="29.5" x2="95" y2="29.5" stroke="#f3f3f3" stroke-width="0.5"/>
<rect x="24.2" y="22.3" width="70.8" height="72.2" fill="none" stroke="#c8c8c8" stroke-width="0.8"/>
<line x1="59.5" y1="22.3" x2="59.5" y2="94.5" stroke="#999" stroke-width="0.6" stroke-dasharray="1 1"/>
<line x1="24.2" y1="58.3" x2="95" y2="58.3" stroke="#999" stroke-width="0.6" stroke-dasharray="1 1"/>
<circle cx="45.4" cy="43.9" r="1.6" fill="#5c9c5c" stroke="#184818" stroke-width="1.35"/>
<circle cx="59.5" cy="43.9" r="1.6" fill="#5c9c5c" stroke="#184818" stroke-width="1.35"/>
<circle cx="73.6" cy="43.9" r="1.6" fill="#5c9c5c" stroke="#184818" stroke-width="1.35"/>
<circle cx="45.4" cy="58.3" r="1.6" fill="#5c9c5c" stroke="#184818" stroke-width="1.35"/>
<circle cx="73.6" cy="58.3" r="1.6" fill="#5c9c5c" stroke="#184818" stroke-width="1.35"/>
<circle cx="45.4" cy="72.7" r="1.6" fill="#5c9c5c" stroke="#184818" stroke-width="1.35"/>
<circle cx="59.5" cy="72.7" r="1.6" fill="#5c9c5c" stroke="#184818" stroke-width="1.35"/>
<circle cx="73.6" cy="72.7" r="1.6" fill="#5c9c5c" stroke="#184818" stroke-width="1.35"/>
<text x="31.3" y="101.8" text-anchor="middle">-2</text>
<text x="22" y="88.9" text-anchor="end">-2</text>
<text x="45.4" y="101.8" text-anchor="middle">-1</text>
<text x="22" y="74.5" text-anchor="end">-1</text>
<text x="59.5" y="101.8" text-anchor="middle">0</text>
<text x="22" y="60.1" text-anchor="end">0</text>
<text x="73.6" y="101.8" text-anchor="middle">1</text>
<text x="22" y="45.7" text-anchor="end">1</text>
<text x="87.7" y="101.8" text-anchor="middle">2</text>
<text x="22" y="31.3" text-anchor="end">2</text>
<text x="59.7" y="109" text-anchor="middle" font-size="7"><tspan font-style="italic">x</tspan> (cm)</text>
<text transform="translate(15.2,58.3) rotate(-90)" text-anchor="middle" font-size="7"><tspan font-style="italic">y</tspan> (cm)</text>
<g stroke="#c4c4c4" stroke-width="0.8"><line x1="137" y1="95" x2="137" y2="40"/><line x1="137" y1="95" x2="211" y2="99"/><line x1="211" y1="99" x2="223" y2="80"/><line x1="149" y1="76" x2="149" y2="21"/><line x1="149" y1="21" x2="223" y2="25"/><line x1="223" y1="25" x2="223" y2="80"/><line x1="149" y1="76" x2="223" y2="80"/><line x1="137" y1="95" x2="149" y2="76"/><line x1="137" y1="40" x2="149" y2="21"/></g>
<g font-size="4.6" text-anchor="end">
<text x="134.4" y="42.1">0</text>
<text x="134.4" y="69.6">-10</text>
<text x="134.4" y="97.1">-20</text>
</g><g font-size="4.6" text-anchor="middle">
<text x="134" y="101.6">180</text>
<text x="152.5" y="102.6">90</text>
<text x="171" y="103.6">0</text>
<text x="189.5" y="104.6">-90</text>
<text x="208" y="105.6">-180</text>
<text x="214.6" y="102.6">0</text>
<text x="220.6" y="93.1">2</text>
<text x="226.6" y="83.6">4</text>
</g>
<text x="171" y="109" font-size="5.6" text-anchor="middle"><tspan font-style="italic">θ</tspan> (°)</text>
<text x="222.5" y="105.2" font-size="5.6"><tspan font-style="italic">f</tspan> (kHz)</text>
<text transform="translate(124.5,67.5) rotate(-90)" font-size="5" text-anchor="middle">|dB|</text>
<g stroke-width=".4"><path d="M148 43.4 149.8 43.2 150.8 47.3 149 47.6z" fill="#fae5e0" stroke="#ea8974"/><path d="M149.8 43.2 151.7 42.7 152.7 46.5 150.8 47.3z" fill="#fae5e0" stroke="#e98773"/><path d="M151.7 42.7 153.6 41.8 154.6 45.1 152.7 46.5z" fill="#fae3e0" stroke="#e88270"/><path d="M153.6 41.8 155.4 40.6 156.4 43.4 154.6 45.1z" fill="#f9e2df" stroke="#e67b6d"/><path d="M155.4 40.6 157.2 39.2 158.2 41.5 156.4 43.4z" fill="#f9e0de" stroke="#e4736a"/><path d="M157.2 39.2 159.1 37.8 160.1 39.6 158.2 41.5z" fill="#f8dedd" stroke="#e16b66"/><path d="M159.1 37.8 160.9 36.4 161.9 37.7 160.1 39.6z" fill="#f8dcdd" stroke="#de6263"/><path d="M160.9 36.4 162.8 35 163.8 35.8 161.9 37.7z" fill="#f7dbdc" stroke="#dc5a5f"/><path d="M162.8 35 164.7 33.5 165.7 34.1 163.8 35.8z" fill="#f6d9db" stroke="#d55259"/><path d="M147 40.4 148.8 40.3 149.8 43.2 148 43.4z" fill="#f9e0de" stroke="#e37169"/><path d="M164.7 33.5 166.5 32.2 167.5 32.4 165.7 34.1z" fill="#f4d7d9" stroke="#cf4b54"/><path d="M148.8 40.3 150.7 40 151.7 42.7 149.8 43.2z" fill="#f9dfde" stroke="#e26f68"/><path d="M150.7 40 152.6 39.4 153.6 41.8 151.7 42.7z" fill="#f8dfdd" stroke="#e16b67"/><path d="M166.5 32.2 168.3 30.9 169.3 30.7 167.5 32.4z" fill="#f3d6d8" stroke="#c9444e"/><path d="M152.6 39.4 154.4 38.6 155.4 40.6 153.6 41.8z" fill="#f8dddd" stroke="#e06764"/><path d="M168.3 30.9 170.2 29.6 171.2 29.2 169.3 30.7z" fill="#f2d4d7" stroke="#c33d49"/><path d="M154.4 38.6 156.2 37.6 157.2 39.2 155.4 40.6z" fill="#f8dcdc" stroke="#de6162"/><path d="M218.3 46.3 220.1 47 221.1 51.1 219.3 50.1z" fill="#fae5e0" stroke="#e98773"/><path d="M220.1 47 222 47.4 223 51.6 221.1 51.1z" fill="#fae5e0" stroke="#ea8974"/><path d="M216.4 45.2 218.3 46.3 219.3 50.1 217.4 48.5z" fill="#fae3e0" stroke="#e88270"/><path d="M170.2 29.6 172.1 28.5 173.1 27.8 171.2 29.2z" fill="#f1d3d6" stroke="#be3745"/><path d="M214.6 43.8 216.4 45.2 217.4 48.5 215.6 46.6z" fill="#f9e2df" stroke="#e67b6d"/><path d="M156.2 37.6 158.1 36.6 159.1 37.8 157.2 39.2z" fill="#f7dbdc" stroke="#dc5b5f"/><path d="M212.8 42.2 214.6 43.8 215.6 46.6 213.8 44.5z" fill="#f9e0de" stroke="#e4736a"/><path d="M172.1 28.5 173.9 27.4 174.9 26.5 173.1 27.8z" fill="#f0d2d5" stroke="#b93140"/><path d="M210.9 40.6 212.8 42.2 213.8 44.5 211.9 42.4z" fill="#f8dedd" stroke="#e16b66"/><path d="M158.1 36.6 159.9 35.5 160.9 36.4 159.1 37.8z" fill="#f6dadb" stroke="#d7555b"/><path d="M209.1 39 210.9 40.6 211.9 42.4 210.1 40.3z" fill="#f8dcdd" stroke="#de6263"/><path d="M173.9 27.4 175.8 26.5 176.8 25.4 174.9 26.5z" fill="#efd1d4" stroke="#b42c3d"/><path d="M159.9 35.5 161.8 34.4 162.8 35 160.9 36.4z" fill="#f5d8da" stroke="#d24f57"/><path d="M207.2 37.4 209.1 39 210.1 40.3 208.2 38.2z" fill="#f7dbdc" stroke="#dc5a5f"/><path d="M175.8 26.5 177.6 25.8 178.6 24.5 176.8 25.4z" fill="#eed0d3" stroke="#b02839"/><path d="M205.3 35.7 207.2 37.4 208.2 38.2 206.3 36.3z" fill="#f6d9db" stroke="#d55259"/><path d="M161.8 34.4 163.7 33.3 164.7 33.5 162.8 35z" fill="#f4d7d9" stroke="#cd4952"/><path d="M203.5 34.2 205.3 35.7 206.3 36.3 204.5 34.4z" fill="#f4d7d9" stroke="#cf4b54"/><path d="M177.6 25.8 179.4 25.2 180.4 23.8 178.6 24.5z" fill="#edcfd3" stroke="#ad2436"/><path d="M201.7 32.7 203.5 34.2 204.5 34.4 202.7 32.5z" fill="#f3d6d8" stroke="#c9444e"/><path d="M179.4 25.2 181.3 24.8 182.3 23.3 180.4 23.8z" fill="#ecced2" stroke="#ab2134"/><path d="M163.7 33.3 165.5 32.2 166.5 32.2 164.7 33.5z" fill="#f3d6d8" stroke="#c8434e"/><path d="M199.8 31.2 201.7 32.7 202.7 32.5 200.8 30.8z" fill="#f2d4d7" stroke="#c33d49"/><path d="M181.3 24.8 183.2 24.6 184.2 23 182.3 23.3z" fill="#ecced2" stroke="#a91f33"/><path d="M197.9 29.9 199.8 31.2 200.8 30.8 198.9 29.2z" fill="#f1d3d6" stroke="#be3745"/><path d="M146 38.3 147.8 38.3 148.8 40.3 147 40.4z" fill="#f7dbdc" stroke="#dd5d60"/><path d="M183.2 24.6 185 24.6 186 23 184.2 23z" fill="#ecced2" stroke="#a81e32"/><path d="M196.1 28.6 197.9 29.9 198.9 29.2 197.1 27.7z" fill="#f0d2d5" stroke="#b93140"/><path d="M165.5 32.2 167.3 31.1 168.3 30.9 166.5 32.2z" fill="#f2d4d7" stroke="#c33d49"/><path d="M147.8 38.3 149.7 38.1 150.7 40 148.8 40.3z" fill="#f7dbdc" stroke="#dc5c60"/><path d="M194.2 27.5 196.1 28.6 197.1 27.7 195.2 26.4z" fill="#efd1d4" stroke="#b42c3d"/><path d="M185 24.6 186.8 24.8 187.8 23.2 186 23z" fill="#ecced2" stroke="#a81e32"/><path d="M192.4 26.6 194.2 27.5 195.2 26.4 193.4 25.3z" fill="#eed0d3" stroke="#b02839"/><path d="M186.8 24.8 188.7 25.2 189.7 23.7 187.8 23.2z" fill="#ecced2" stroke="#a91f33"/><path d="M190.6 25.8 192.4 26.6 193.4 25.3 191.6 24.4z" fill="#edcfd3" stroke="#ad2436"/><path d="M188.7 25.2 190.6 25.8 191.6 24.4 189.7 23.7z" fill="#ecced2" stroke="#ab2134"/><path d="M149.7 38.1 151.6 37.7 152.6 39.4 150.7 40z" fill="#f7dbdc" stroke="#db595e"/><path d="M167.3 31.1 169.2 30.2 170.2 29.6 168.3 30.9z" fill="#f1d3d6" stroke="#be3845"/><path d="M151.6 37.7 153.4 37.1 154.4 38.6 152.6 39.4z" fill="#f7dadb" stroke="#d9565c"/><path d="M169.2 30.2 171.1 29.2 172.1 28.5 170.2 29.6z" fill="#f0d2d5" stroke="#ba3342"/><path d="M153.4 37.1 155.2 36.4 156.2 37.6 154.4 38.6z" fill="#f6d9db" stroke="#d55259"/><path d="M171.1 29.2 172.9 28.4 173.9 27.4 172.1 28.5z" fill="#efd1d5" stroke="#b62e3e"/><path d="M155.2 36.4 157.1 35.7 158.1 36.6 156.2 37.6z" fill="#f5d8da" stroke="#d24e56"/><path d="M217.3 43.6 219.1 44.1 220.1 47 218.3 46.3z" fill="#f9dfde" stroke="#e26f68"/><path d="M215.4 42.8 217.3 43.6 218.3 46.3 216.4 45.2z" fill="#f8dfdd" stroke="#e16b67"/><path d="M219.1 44.1 221 44.4 222 47.4 220.1 47z" fill="#f9e0de" stroke="#e37169"/><path d="M172.9 28.4 174.8 27.7 175.8 26.5 173.9 27.4z" fill="#eed0d4" stroke="#b22a3b"/><path d="M213.6 41.8 215.4 42.8 216.4 45.2 214.6 43.8z" fill="#f8dddd" stroke="#e06764"/><path d="M157.1 35.7 158.9 34.9 159.9 35.5 158.1 36.6z" fill="#f4d7d9" stroke="#ce4a53"/><path d="M211.8 40.6 213.6 41.8 214.6 43.8 212.8 42.2z" fill="#f8dcdc" stroke="#de6162"/><path d="M209.9 39.4 211.8 40.6 212.8 42.2 210.9 40.6z" fill="#f7dbdc" stroke="#dc5b5f"/><path d="M174.8 27.7 176.6 27.1 177.6 25.8 175.8 26.5z" fill="#edcfd3" stroke="#af2638"/><path d="M208.1 38.1 209.9 39.4 210.9 40.6 209.1 39z" fill="#f6dadb" stroke="#d7555b"/><path d="M158.9 34.9 160.8 34 161.8 34.4 159.9 35.5z" fill="#f3d6d8" stroke="#ca454f"/><path d="M206.2 36.8 208.1 38.1 209.1 39 207.2 37.4z" fill="#f5d8da" stroke="#d24f57"/><path d="M176.6 27.1 178.4 26.6 179.4 25.2 177.6 25.8z" fill="#edcfd3" stroke="#ac2336"/><path d="M204.3 35.5 206.2 36.8 207.2 37.4 205.3 35.7z" fill="#f4d7d9" stroke="#cd4952"/><path d="M160.8 34 162.7 33.2 163.7 33.3 161.8 34.4z" fill="#f2d5d8" stroke="#c6414c"/><path d="M178.4 26.6 180.3 26.3 181.3 24.8 179.4 25.2z" fill="#ecced2" stroke="#aa2134"/><path d="M202.5 34.2 204.3 35.5 205.3 35.7 203.5 34.2z" fill="#f3d6d8" stroke="#c8434e"/><path d="M200.7 32.9 202.5 34.2 203.5 34.2 201.7 32.7z" fill="#f2d4d7" stroke="#c33d49"/><path d="M180.3 26.3 182.2 26.1 183.2 24.6 181.3 24.8z" fill="#ecced2" stroke="#a91f33"/><path d="M198.8 31.8 200.7 32.9 201.7 32.7 199.8 31.2z" fill="#f1d3d6" stroke="#be3845"/><path d="M162.7 33.2 164.5 32.4 165.5 32.2 163.7 33.3z" fill="#f2d4d7" stroke="#c23c48"/><path d="M182.2 26.1 184 26.2 185 24.6 183.2 24.6z" fill="#ecced2" stroke="#a81e32"/><path d="M196.9 30.6 198.8 31.8 199.8 31.2 197.9 29.9z" fill="#f0d2d5" stroke="#ba3342"/><path d="M184 26.2 185.8 26.3 186.8 24.8 185 24.6z" fill="#ecced2" stroke="#a81e32"/><path d="M195.1 29.6 196.9 30.6 197.9 29.9 196.1 28.6z" fill="#efd1d5" stroke="#b62e3e"/><path d="M185.8 26.3 187.7 26.7 188.7 25.2 186.8 24.8z" fill="#ecced2" stroke="#a91f33"/><path d="M193.2 28.7 195.1 29.6 196.1 28.6 194.2 27.5z" fill="#eed0d4" stroke="#b22a3b"/><path d="M187.7 26.7 189.6 27.2 190.6 25.8 188.7 25.2z" fill="#ecced2" stroke="#aa2134"/><path d="M191.4 27.9 193.2 28.7 194.2 27.5 192.4 26.6z" fill="#edcfd3" stroke="#af2638"/><path d="M189.6 27.2 191.4 27.9 192.4 26.6 190.6 25.8z" fill="#edcfd3" stroke="#ac2336"/><path d="M164.5 32.4 166.3 31.6 167.3 31.1 165.5 32.2z" fill="#f1d3d6" stroke="#be3745"/><path d="M145 36.9 146.8 36.9 147.8 38.3 146 38.3z" fill="#f5d8da" stroke="#d24e56"/><path d="M166.3 31.6 168.2 30.8 169.2 30.2 167.3 31.1z" fill="#f0d2d5" stroke="#ba3342"/><path d="M146.8 36.9 148.7 36.8 149.7 38.1 147.8 38.3z" fill="#f5d8da" stroke="#d14d55"/><path d="M148.7 36.8 150.6 36.5 151.6 37.7 149.7 38.1z" fill="#f5d8d9" stroke="#d04c54"/><path d="M168.2 30.8 170.1 30.1 171.1 29.2 169.2 30.2z" fill="#efd1d5" stroke="#b72f3f"/><path d="M150.6 36.5 152.4 36.2 153.4 37.1 151.6 37.7z" fill="#f4d7d9" stroke="#ce4a53"/><path d="M170.1 30.1 171.9 29.4 172.9 28.4 171.1 29.2z" fill="#eed0d4" stroke="#b32b3c"/><path d="M152.4 36.2 154.2 35.7 155.2 36.4 153.4 37.1z" fill="#f4d6d9" stroke="#cb4751"/><path d="M171.9 29.4 173.8 28.9 174.8 27.7 172.9 28.4z" fill="#eed0d3" stroke="#b02739"/><path d="M154.2 35.7 156.1 35.2 157.1 35.7 155.2 36.4z" fill="#f3d6d8" stroke="#c9444e"/><path d="M173.8 28.9 175.6 28.4 176.6 27.1 174.8 27.7z" fill="#edcfd3" stroke="#ae2437"/><path d="M156.1 35.2 157.9 34.6 158.9 34.9 157.1 35.7z" fill="#f2d5d8" stroke="#c6404c"/><path d="M175.6 28.4 177.4 28 178.4 26.6 176.6 27.1z" fill="#edced3" stroke="#ab2235"/><path d="M214.4 41.1 216.3 41.7 217.3 43.6 215.4 42.8z" fill="#f7dbdc" stroke="#db595e"/><path d="M212.6 40.3 214.4 41.1 215.4 42.8 213.6 41.8z" fill="#f7dadb" stroke="#d9565c"/><path d="M216.3 41.7 218.1 42.1 219.1 44.1 217.3 43.6z" fill="#f7dbdc" stroke="#dc5c60"/><path d="M210.8 39.4 212.6 40.3 213.6 41.8 211.8 40.6z" fill="#f6d9db" stroke="#d55259"/><path d="M218.1 42.1 220 42.3 221 44.4 219.1 44.1z" fill="#f7dbdc" stroke="#dd5d60"/><path d="M157.9 34.6 159.8 34 160.8 34 158.9 34.9z" fill="#f2d4d7" stroke="#c33d49"/><path d="M177.4 28 179.3 27.8 180.3 26.3 178.4 26.6z" fill="#ecced2" stroke="#aa2034"/><path d="M208.9 38.5 210.8 39.4 211.8 40.6 209.9 39.4z" fill="#f5d8da" stroke="#d24e56"/><path d="M207.1 37.5 208.9 38.5 209.9 39.4 208.1 38.1z" fill="#f4d7d9" stroke="#ce4a53"/><path d="M205.2 36.4 207.1 37.5 208.1 38.1 206.2 36.8z" fill="#f3d6d8" stroke="#ca454f"/><path d="M179.3 27.8 181.2 27.7 182.2 26.1 180.3 26.3z" fill="#ecced2" stroke="#a91f33"/><path d="M203.3 35.4 205.2 36.4 206.2 36.8 204.3 35.5z" fill="#f2d5d8" stroke="#c6414c"/><path d="M159.8 34 161.7 33.4 162.7 33.2 160.8 34z" fill="#f1d4d6" stroke="#c03946"/><path d="M181.2 27.7 183 27.8 184 26.2 182.2 26.1z" fill="#ecced2" stroke="#a81e32"/><path d="M201.5 34.4 203.3 35.4 204.3 35.5 202.5 34.2z" fill="#f2d4d7" stroke="#c23c48"/><path d="M199.7 33.4 201.5 34.4 202.5 34.2 200.7 32.9z" fill="#f1d3d6" stroke="#be3745"/><path d="M183 27.8 184.8 27.9 185.8 26.3 184 26.2z" fill="#ecced2" stroke="#a81e32"/><path d="M197.8 32.4 199.7 33.4 200.7 32.9 198.8 31.8z" fill="#f0d2d5" stroke="#ba3342"/><path d="M184.8 27.9 186.7 28.2 187.7 26.7 185.8 26.3z" fill="#ecced2" stroke="#a91f33"/><path d="M195.9 31.5 197.8 32.4 198.8 31.8 196.9 30.6z" fill="#efd1d5" stroke="#b72f3f"/><path d="M161.7 33.4 163.5 32.7 164.5 32.4 162.7 33.2z" fill="#f0d3d6" stroke="#bd3644"/><path d="M186.7 28.2 188.6 28.6 189.6 27.2 187.7 26.7z" fill="#ecced2" stroke="#aa2034"/><path d="M194.1 30.6 195.9 31.5 196.9 30.6 195.1 29.6z" fill="#eed0d4" stroke="#b32b3c"/><path d="M192.2 29.9 194.1 30.6 195.1 29.6 193.2 28.7z" fill="#eed0d3" stroke="#b02739"/><path d="M188.6 28.6 190.4 29.2 191.4 27.9 189.6 27.2z" fill="#edced3" stroke="#ab2235"/><path d="M190.4 29.2 192.2 29.9 193.2 28.7 191.4 27.9z" fill="#edcfd3" stroke="#ae2437"/><path d="M163.5 32.7 165.3 32.1 166.3 31.6 164.5 32.4z" fill="#f0d2d5" stroke="#b93241"/><path d="M165.3 32.1 167.2 31.6 168.2 30.8 166.3 31.6z" fill="#efd1d5" stroke="#b62f3f"/><path d="M167.2 31.6 169.1 31 170.1 30.1 168.2 30.8z" fill="#eed0d4" stroke="#b42b3c"/><path d="M144 36 145.8 36.1 146.8 36.9 145 36.9z" fill="#f3d5d8" stroke="#c7424d"/><path d="M145.8 36.1 147.7 36 148.7 36.8 146.8 36.9z" fill="#f3d5d8" stroke="#c7424d"/><path d="M169.1 31 170.9 30.5 171.9 29.4 170.1 30.1z" fill="#eed0d4" stroke="#b1283a"/><path d="M147.7 36 149.6 35.9 150.6 36.5 148.7 36.8z" fill="#f2d5d8" stroke="#c6414c"/><path d="M170.9 30.5 172.8 30.1 173.8 28.9 171.9 29.4z" fill="#edcfd3" stroke="#af2638"/><path d="M149.6 35.9 151.4 35.6 152.4 36.2 150.6 36.5z" fill="#f2d5d7" stroke="#c53f4b"/><path d="M172.8 30.1 174.6 29.8 175.6 28.4 173.8 28.9z" fill="#edcfd3" stroke="#ac2336"/><path d="M151.4 35.6 153.2 35.3 154.2 35.7 152.4 36.2z" fill="#f2d4d7" stroke="#c33d49"/><path d="M174.6 29.8 176.4 29.5 177.4 28 175.6 28.4z" fill="#ecced2" stroke="#ab2134"/><path d="M153.2 35.3 155.1 35 156.1 35.2 154.2 35.7z" fill="#f1d4d7" stroke="#c13b48"/><path d="M176.4 29.5 178.3 29.3 179.3 27.8 177.4 28z" fill="#ecced2" stroke="#a92033"/><path d="M155.1 35 156.9 34.6 157.9 34.6 156.1 35.2z" fill="#f1d3d6" stroke="#bf3846"/><path d="M178.3 29.3 180.2 29.3 181.2 27.7 179.3 27.8z" fill="#ecced2" stroke="#a91f32"/><path d="M156.9 34.6 158.8 34.1 159.8 34 157.9 34.6z" fill="#f0d3d6" stroke="#bd3644"/><path d="M180.2 29.3 182 29.3 183 27.8 181.2 27.7z" fill="#ecced2" stroke="#a81e32"/><path d="M182 29.3 183.8 29.5 184.8 27.9 183 27.8z" fill="#ecced2" stroke="#a81e32"/><path d="M209.8 38.7 211.6 39.4 212.6 40.3 210.8 39.4z" fill="#f4d6d9" stroke="#cb4751"/><path d="M211.6 39.4 213.4 39.9 214.4 41.1 212.6 40.3z" fill="#f4d7d9" stroke="#ce4a53"/><path d="M207.9 38 209.8 38.7 210.8 39.4 208.9 38.5z" fill="#f3d6d8" stroke="#c9444e"/><path d="M213.4 39.9 215.3 40.4 216.3 41.7 214.4 41.1z" fill="#f5d8d9" stroke="#d04c54"/><path d="M206.1 37.2 207.9 38 208.9 38.5 207.1 37.5z" fill="#f2d5d8" stroke="#c6404c"/><path d="M215.3 40.4 217.1 40.7 218.1 42.1 216.3 41.7z" fill="#f5d8da" stroke="#d14d55"/><path d="M204.2 36.4 206.1 37.2 207.1 37.5 205.2 36.4z" fill="#f2d4d7" stroke="#c33d49"/><path d="M183.8 29.5 185.7 29.7 186.7 28.2 184.8 27.9z" fill="#ecced2" stroke="#a91f32"/><path d="M158.8 34.1 160.7 33.7 161.7 33.4 159.8 34z" fill="#f0d2d5" stroke="#ba3342"/><path d="M202.3 35.6 204.2 36.4 205.2 36.4 203.3 35.4z" fill="#f1d4d6" stroke="#c03946"/><path d="M200.5 34.7 202.3 35.6 203.3 35.4 201.5 34.4z" fill="#f0d3d6" stroke="#bd3644"/><path d="M217.1 40.7 219 40.9 220 42.3 218.1 42.1z" fill="#f5d8da" stroke="#d24e56"/><path d="M185.7 29.7 187.6 30.1 188.6 28.6 186.7 28.2z" fill="#ecced2" stroke="#a92033"/><path d="M198.7 33.9 200.5 34.7 201.5 34.4 199.7 33.4z" fill="#f0d2d5" stroke="#b93241"/><path d="M187.6 30.1 189.4 30.6 190.4 29.2 188.6 28.6z" fill="#ecced2" stroke="#ab2134"/><path d="M196.8 33.2 198.7 33.9 199.7 33.4 197.8 32.4z" fill="#efd1d5" stroke="#b62f3f"/><path d="M194.9 32.4 196.8 33.2 197.8 32.4 195.9 31.5z" fill="#eed0d4" stroke="#b42b3c"/><path d="M189.4 30.6 191.2 31.1 192.2 29.9 190.4 29.2z" fill="#edcfd3" stroke="#ac2336"/><path d="M193.1 31.7 194.9 32.4 195.9 31.5 194.1 30.6z" fill="#eed0d4" stroke="#b1283a"/><path d="M191.2 31.1 193.1 31.7 194.1 30.6 192.2 29.9z" fill="#edcfd3" stroke="#af2638"/><path d="M160.7 33.7 162.5 33.3 163.5 32.7 161.7 33.4z" fill="#efd2d5" stroke="#b83040"/><path d="M162.5 33.3 164.3 32.8 165.3 32.1 163.5 32.7z" fill="#efd1d4" stroke="#b62e3e"/><path d="M164.3 32.8 166.2 32.4 167.2 31.6 165.3 32.1z" fill="#eed0d4" stroke="#b32b3c"/><path d="M166.2 32.4 168.1 32 169.1 31 167.2 31.6z" fill="#eed0d4" stroke="#b1283a"/><path d="M168.1 32 169.9 31.7 170.9 30.5 169.1 31z" fill="#edcfd3" stroke="#af2638"/><path d="M143 35.6 144.8 35.7 145.8 36.1 144 36z" fill="#f1d3d6" stroke="#bf3946"/><path d="M169.9 31.7 171.8 31.4 172.8 30.1 170.9 30.5z" fill="#edcfd3" stroke="#ad2436"/><path d="M144.8 35.7 146.7 35.7 147.7 36 145.8 36.1z" fill="#f1d3d6" stroke="#bf3846"/><path d="M146.7 35.7 148.6 35.6 149.6 35.9 147.7 36z" fill="#f1d3d6" stroke="#be3745"/><path d="M171.8 31.4 173.6 31.1 174.6 29.8 172.8 30.1z" fill="#edced3" stroke="#ab2235"/><path d="M148.6 35.6 150.4 35.5 151.4 35.6 149.6 35.9z" fill="#f1d3d6" stroke="#bd3644"/><path d="M173.6 31.1 175.4 31 176.4 29.5 174.6 29.8z" fill="#ecced2" stroke="#aa2034"/><path d="M150.4 35.5 152.2 35.3 153.2 35.3 151.4 35.6z" fill="#f0d3d6" stroke="#bc3543"/><path d="M175.4 31 177.3 30.9 178.3 29.3 176.4 29.5z" fill="#ecced2" stroke="#a91f33"/><path d="M152.2 35.3 154.1 35.1 155.1 35 153.2 35.3z" fill="#f0d2d5" stroke="#bb3342"/><path d="M177.3 30.9 179.2 30.9 180.2 29.3 178.3 29.3z" fill="#ecced2" stroke="#a81f32"/><path d="M179.2 30.9 181 30.9 182 29.3 180.2 29.3z" fill="#ecced2" stroke="#a81e32"/><path d="M154.1 35.1 155.9 34.8 156.9 34.6 155.1 35z" fill="#f0d2d5" stroke="#b93241"/><path d="M181 30.9 182.8 31.1 183.8 29.5 182 29.3z" fill="#ecced2" stroke="#a81e32"/><path d="M182.8 31.1 184.7 31.3 185.7 29.7 183.8 29.5z" fill="#ecced2" stroke="#a81f32"/><path d="M155.9 34.8 157.8 34.5 158.8 34.1 156.9 34.6z" fill="#efd1d5" stroke="#b7303f"/><path d="M184.7 31.3 186.6 31.6 187.6 30.1 185.7 29.7z" fill="#ecced2" stroke="#a91f33"/><path d="M186.6 31.6 188.4 31.9 189.4 30.6 187.6 30.1z" fill="#ecced2" stroke="#aa2034"/><path d="M188.4 31.9 190.2 32.4 191.2 31.1 189.4 30.6z" fill="#edced3" stroke="#ab2235"/><path d="M157.8 34.5 159.7 34.2 160.7 33.7 158.8 34.1z" fill="#efd1d4" stroke="#b62e3e"/><path d="M190.2 32.4 192.1 32.9 193.1 31.7 191.2 31.1z" fill="#edcfd3" stroke="#ad2436"/><path d="M192.1 32.9 193.9 33.4 194.9 32.4 193.1 31.7z" fill="#edcfd3" stroke="#af2638"/><path d="M193.9 33.4 195.8 34 196.8 33.2 194.9 32.4z" fill="#eed0d4" stroke="#b1283a"/><path d="M195.8 34 197.7 34.6 198.7 33.9 196.8 33.2z" fill="#eed0d4" stroke="#b32b3c"/><path d="M201.3 35.9 203.2 36.5 204.2 36.4 202.3 35.6z" fill="#f0d2d5" stroke="#ba3342"/><path d="M203.2 36.5 205.1 37.2 206.1 37.2 204.2 36.4z" fill="#f0d3d6" stroke="#bd3644"/><path d="M199.5 35.3 201.3 35.9 202.3 35.6 200.5 34.7z" fill="#efd2d5" stroke="#b83040"/><path d="M197.7 34.6 199.5 35.3 200.5 34.7 198.7 33.9z" fill="#efd1d4" stroke="#b62e3e"/><path d="M205.1 37.2 206.9 37.8 207.9 38 206.1 37.2z" fill="#f1d3d6" stroke="#bf3846"/><path d="M206.9 37.8 208.8 38.3 209.8 38.7 207.9 38z" fill="#f1d4d7" stroke="#c13b48"/><path d="M208.8 38.3 210.6 38.8 211.6 39.4 209.8 38.7z" fill="#f2d4d7" stroke="#c33d49"/><path d="M210.6 38.8 212.4 39.3 213.4 39.9 211.6 39.4z" fill="#f2d5d7" stroke="#c53f4b"/><path d="M212.4 39.3 214.3 39.6 215.3 40.4 213.4 39.9z" fill="#f2d5d8" stroke="#c6414c"/><path d="M159.7 34.2 161.5 33.9 162.5 33.3 160.7 33.7z" fill="#eed1d4" stroke="#b42c3c"/><path d="M214.3 39.6 216.1 39.9 217.1 40.7 215.3 40.4z" fill="#f3d5d8" stroke="#c7424d"/><path d="M216.1 39.9 218 40 219 40.9 217.1 40.7z" fill="#f3d5d8" stroke="#c7424d"/><path d="M161.5 33.9 163.3 33.7 164.3 32.8 162.5 33.3z" fill="#eed0d4" stroke="#b22a3b"/><path d="M163.3 33.7 165.2 33.4 166.2 32.4 164.3 32.8z" fill="#eed0d3" stroke="#b02839"/><path d="M165.2 33.4 167.1 33.1 168.1 32 166.2 32.4z" fill="#edcfd3" stroke="#af2638"/><path d="M167.1 33.1 168.9 32.9 169.9 31.7 168.1 32z" fill="#edcfd3" stroke="#ad2437"/><path d="M168.9 32.9 170.8 32.7 171.8 31.4 169.9 31.7z" fill="#edced3" stroke="#ac2235"/><path d="M142 35.6 143.8 35.6 144.8 35.7 143 35.6z" fill="#efd2d5" stroke="#b83140"/><path d="M170.8 32.7 172.6 32.6 173.6 31.1 171.8 31.4z" fill="#ecced2" stroke="#ab2134"/><path d="M143.8 35.6 145.7 35.7 146.7 35.7 144.8 35.7z" fill="#efd2d5" stroke="#b83040"/><path d="M172.6 32.6 174.4 32.5 175.4 31 173.6 31.1z" fill="#ecced2" stroke="#aa2033"/><path d="M145.7 35.7 147.6 35.7 148.6 35.6 146.7 35.7z" fill="#efd1d5" stroke="#b8303f"/><path d="M174.4 32.5 176.3 32.4 177.3 30.9 175.4 31z" fill="#ecced2" stroke="#a91f33"/><path d="M147.6 35.7 149.4 35.6 150.4 35.5 148.6 35.6z" fill="#efd1d5" stroke="#b72f3f"/><path d="M176.3 32.4 178.2 32.4 179.2 30.9 177.3 30.9z" fill="#ecced2" stroke="#a81e32"/><path d="M149.4 35.6 151.2 35.5 152.2 35.3 150.4 35.5z" fill="#efd1d5" stroke="#b62e3e"/><path d="M178.2 32.4 180 32.5 181 30.9 179.2 30.9z" fill="#ecced2" stroke="#a81e32"/><path d="M180 32.5 181.8 32.6 182.8 31.1 181 30.9z" fill="#ecced2" stroke="#a81e32"/><path d="M151.2 35.5 153.1 35.4 154.1 35.1 152.2 35.3z" fill="#efd1d4" stroke="#b52d3d"/><path d="M181.8 32.6 183.7 32.8 184.7 31.3 182.8 31.1z" fill="#ecced2" stroke="#a81e32"/><path d="M153.1 35.4 154.9 35.3 155.9 34.8 154.1 35.1z" fill="#efd1d4" stroke="#b42c3c"/><path d="M183.7 32.8 185.6 33.1 186.6 31.6 184.7 31.3z" fill="#ecced2" stroke="#a91f33"/><path d="M185.6 33.1 187.4 33.4 188.4 31.9 186.6 31.6z" fill="#ecced2" stroke="#aa2033"/><path d="M187.4 33.4 189.2 33.7 190.2 32.4 188.4 31.9z" fill="#ecced2" stroke="#ab2134"/><path d="M154.9 35.3 156.8 35.1 157.8 34.5 155.9 34.8z" fill="#eed0d4" stroke="#b32b3b"/><path d="M189.2 33.7 191.1 34.1 192.1 32.9 190.2 32.4z" fill="#edced3" stroke="#ac2235"/><path d="M191.1 34.1 192.9 34.5 193.9 33.4 192.1 32.9z" fill="#edcfd3" stroke="#ad2437"/><path d="M192.9 34.5 194.8 35 195.8 34 193.9 33.4z" fill="#edcfd3" stroke="#af2638"/><path d="M194.8 35 196.7 35.5 197.7 34.6 195.8 34z" fill="#eed0d3" stroke="#b02839"/><path d="M156.8 35.1 158.7 34.9 159.7 34.2 157.8 34.5z" fill="#eed0d4" stroke="#b2293a"/><path d="M196.7 35.5 198.5 35.9 199.5 35.3 197.7 34.6z" fill="#eed0d4" stroke="#b22a3b"/><path d="M198.5 35.9 200.3 36.4 201.3 35.9 199.5 35.3z" fill="#eed1d4" stroke="#b42c3c"/><path d="M200.3 36.4 202.2 36.9 203.2 36.5 201.3 35.9z" fill="#efd1d4" stroke="#b62e3e"/><path d="M202.2 36.9 204.1 37.4 205.1 37.2 203.2 36.5z" fill="#efd1d5" stroke="#b7303f"/><path d="M204.1 37.4 205.9 37.9 206.9 37.8 205.1 37.2z" fill="#f0d2d5" stroke="#b93241"/><path d="M158.7 34.9 160.5 34.8 161.5 33.9 159.7 34.2z" fill="#eed0d4" stroke="#b02839"/><path d="M205.9 37.9 207.8 38.3 208.8 38.3 206.9 37.8z" fill="#f0d2d5" stroke="#bb3342"/><path d="M207.8 38.3 209.6 38.7 210.6 38.8 208.8 38.3z" fill="#f0d3d6" stroke="#bc3543"/><path d="M209.6 38.7 211.4 39 212.4 39.3 210.6 38.8z" fill="#f1d3d6" stroke="#bd3644"/><path d="M160.5 34.8 162.3 34.6 163.3 33.7 161.5 33.9z" fill="#edcfd3" stroke="#af2638"/><path d="M211.4 39 213.3 39.3 214.3 39.6 212.4 39.3z" fill="#f1d3d6" stroke="#be3745"/><path d="M213.3 39.3 215.1 39.5 216.1 39.9 214.3 39.6z" fill="#f1d3d6" stroke="#bf3846"/><path d="M162.3 34.6 164.2 34.4 165.2 33.4 163.3 33.7z" fill="#edcfd3" stroke="#ae2537"/><path d="M215.1 39.5 217 39.6 218 40 216.1 39.9z" fill="#f1d3d6" stroke="#bf3946"/><path d="M164.2 34.4 166.1 34.3 167.1 33.1 165.2 33.4z" fill="#edcfd3" stroke="#ad2436"/><path d="M166.1 34.3 167.9 34.2 168.9 32.9 167.1 33.1z" fill="#edced3" stroke="#ac2235"/><path d="M167.9 34.2 169.8 34.1 170.8 32.7 168.9 32.9z" fill="#ecced2" stroke="#ab2134"/><path d="M169.8 34.1 171.6 34 172.6 32.6 170.8 32.7z" fill="#ecced2" stroke="#aa2034"/><path d="M171.6 34 173.4 34 174.4 32.5 172.6 32.6z" fill="#ecced2" stroke="#a91f33"/><path d="M141 35.9 142.8 35.9 143.8 35.6 142 35.6z" fill="#eed0d4" stroke="#b32a3b"/><path d="M173.4 34 175.3 34 176.3 32.4 174.4 32.5z" fill="#ecced2" stroke="#a91f33"/><path d="M142.8 35.9 144.7 36 145.7 35.7 143.8 35.6z" fill="#eed0d4" stroke="#b32a3b"/><path d="M175.3 34 177.2 34 178.2 32.4 176.3 32.4z" fill="#ecced2" stroke="#a81e32"/><path d="M144.7 36 146.6 36 147.6 35.7 145.7 35.7z" fill="#eed0d4" stroke="#b22a3b"/><path d="M177.2 34 179 34.1 180 32.5 178.2 32.4z" fill="#ecced2" stroke="#a81e32"/><path d="M146.6 36 148.4 36 149.4 35.6 147.6 35.7z" fill="#eed0d4" stroke="#b2293b"/><path d="M179 34.1 180.8 34.2 181.8 32.6 180 32.5z" fill="#ecced2" stroke="#a81e32"/><path d="M148.4 36 150.2 36 151.2 35.5 149.4 35.6z" fill="#eed0d4" stroke="#b1293a"/><path d="M180.8 34.2 182.7 34.4 183.7 32.8 181.8 32.6z" fill="#ecced2" stroke="#a81e32"/><path d="M182.7 34.4 184.6 34.6 185.6 33.1 183.7 32.8z" fill="#ecced2" stroke="#a91f33"/><path d="M150.2 36 152.1 36 153.1 35.4 151.2 35.5z" fill="#eed0d4" stroke="#b1283a"/><path d="M184.6 34.6 186.4 34.8 187.4 33.4 185.6 33.1z" fill="#ecced2" stroke="#a91f33"/><path d="M152.1 36 153.9 35.9 154.9 35.3 153.1 35.4z" fill="#eed0d3" stroke="#b02739"/><path d="M186.4 34.8 188.2 35.1 189.2 33.7 187.4 33.4z" fill="#ecced2" stroke="#aa2034"/><path d="M188.2 35.1 190.1 35.4 191.1 34.1 189.2 33.7z" fill="#ecced2" stroke="#ab2134"/><path d="M190.1 35.4 191.9 35.7 192.9 34.5 191.1 34.1z" fill="#edced3" stroke="#ac2235"/><path d="M153.9 35.9 155.8 35.9 156.8 35.1 154.9 35.3z" fill="#edcfd3" stroke="#af2638"/><path d="M191.9 35.7 193.8 36 194.8 35 192.9 34.5z" fill="#edcfd3" stroke="#ad2436"/><path d="M193.8 36 195.7 36.4 196.7 35.5 194.8 35z" fill="#edcfd3" stroke="#ae2537"/><path d="M155.8 35.9 157.7 35.8 158.7 34.9 156.8 35.1z" fill="#edcfd3" stroke="#ae2538"/><path d="M195.7 36.4 197.5 36.8 198.5 35.9 196.7 35.5z" fill="#edcfd3" stroke="#af2638"/><path d="M197.5 36.8 199.3 37.1 200.3 36.4 198.5 35.9z" fill="#eed0d4" stroke="#b02839"/><path d="M199.3 37.1 201.2 37.5 202.2 36.9 200.3 36.4z" fill="#eed0d4" stroke="#b2293a"/><path d="M157.7 35.8 159.5 35.7 160.5 34.8 158.7 34.9z" fill="#edcfd3" stroke="#ae2537"/><path d="M201.2 37.5 203.1 37.9 204.1 37.4 202.2 36.9z" fill="#eed0d4" stroke="#b32b3b"/><path d="M203.1 37.9 204.9 38.2 205.9 37.9 204.1 37.4z" fill="#efd1d4" stroke="#b42c3c"/><path d="M204.9 38.2 206.8 38.5 207.8 38.3 205.9 37.9z" fill="#efd1d4" stroke="#b52d3d"/><path d="M159.5 35.7 161.3 35.7 162.3 34.6 160.5 34.8z" fill="#edcfd3" stroke="#ad2436"/><path d="M206.8 38.5 208.6 38.8 209.6 38.7 207.8 38.3z" fill="#efd1d5" stroke="#b62e3e"/><path d="M208.6 38.8 210.4 39.1 211.4 39 209.6 38.7z" fill="#efd1d5" stroke="#b72f3f"/><path d="M161.3 35.7 163.2 35.6 164.2 34.4 162.3 34.6z" fill="#edcfd3" stroke="#ac2335"/><path d="M210.4 39.1 212.3 39.3 213.3 39.3 211.4 39z" fill="#efd1d5" stroke="#b8303f"/><path d="M163.2 35.6 165.1 35.6 166.1 34.3 164.2 34.4z" fill="#edced3" stroke="#ab2235"/><path d="M212.3 39.3 214.1 39.4 215.1 39.5 213.3 39.3z" fill="#efd2d5" stroke="#b83040"/><path d="M214.1 39.4 216 39.6 217 39.6 215.1 39.5z" fill="#efd2d5" stroke="#b83140"/><path d="M165.1 35.6 166.9 35.5 167.9 34.2 166.1 34.3z" fill="#ecced2" stroke="#aa2134"/><path d="M166.9 35.5 168.8 35.5 169.8 34.1 167.9 34.2z" fill="#ecced2" stroke="#aa2034"/><path d="M168.8 35.5 170.6 35.5 171.6 34 169.8 34.1z" fill="#ecced2" stroke="#a91f33"/><path d="M170.6 35.5 172.4 35.5 173.4 34 171.6 34z" fill="#ecced2" stroke="#a91f33"/><path d="M172.4 35.5 174.3 35.5 175.3 34 173.4 34z" fill="#ecced2" stroke="#a81e32"/><path d="M140 36.5 141.8 36.6 142.8 35.9 141 35.9z" fill="#edcfd3" stroke="#ae2538"/><path d="M174.3 35.5 176.2 35.6 177.2 34 175.3 34z" fill="#ecced2" stroke="#a81e32"/><path d="M141.8 36.6 143.7 36.6 144.7 36 142.8 35.9z" fill="#edcfd3" stroke="#ae2537"/><path d="M176.2 35.6 178 35.7 179 34.1 177.2 34z" fill="#ecced2" stroke="#a81e32"/><path d="M143.7 36.6 145.6 36.7 146.6 36 144.7 36z" fill="#edcfd3" stroke="#ae2537"/><path d="M178 35.7 179.8 35.8 180.8 34.2 179 34.1z" fill="#ecced2" stroke="#a81e32"/><path d="M179.8 35.8 181.7 35.9 182.7 34.4 180.8 34.2z" fill="#ecced2" stroke="#a81e32"/><path d="M145.6 36.7 147.4 36.7 148.4 36 146.6 36z" fill="#edcfd3" stroke="#ae2537"/><path d="M181.7 35.9 183.6 36.1 184.6 34.6 182.7 34.4z" fill="#ecced2" stroke="#a81e32"/><path d="M147.4 36.7 149.2 36.8 150.2 36 148.4 36z" fill="#edcfd3" stroke="#ae2537"/><path d="M183.6 36.1 185.4 36.3 186.4 34.8 184.6 34.6z" fill="#ecced2" stroke="#a91f33"/><path d="M149.2 36.8 151.1 36.8 152.1 36 150.2 36z" fill="#edcfd3" stroke="#ad2437"/><path d="M185.4 36.3 187.2 36.5 188.2 35.1 186.4 34.8z" fill="#ecced2" stroke="#a91f33"/><path d="M187.2 36.5 189.1 36.7 190.1 35.4 188.2 35.1z" fill="#ecced2" stroke="#aa2034"/><path d="M151.1 36.8 152.9 36.8 153.9 35.9 152.1 36z" fill="#edcfd3" stroke="#ad2436"/><path d="M189.1 36.7 190.9 37 191.9 35.7 190.1 35.4z" fill="#ecced2" stroke="#aa2134"/><path d="M190.9 37 192.8 37.2 193.8 36 191.9 35.7z" fill="#edced3" stroke="#ab2235"/><path d="M152.9 36.8 154.8 36.8 155.8 35.9 153.9 35.9z" fill="#edcfd3" stroke="#ac2336"/><path d="M192.8 37.2 194.7 37.5 195.7 36.4 193.8 36z" fill="#edcfd3" stroke="#ac2335"/><path d="M154.8 36.8 156.7 36.8 157.7 35.8 155.8 35.9z" fill="#edced3" stroke="#ac2335"/><path d="M194.7 37.5 196.5 37.7 197.5 36.8 195.7 36.4z" fill="#edcfd3" stroke="#ad2436"/><path d="M196.5 37.7 198.3 38 199.3 37.1 197.5 36.8z" fill="#edcfd3" stroke="#ae2537"/><path d="M156.7 36.8 158.5 36.9 159.5 35.7 157.7 35.8z" fill="#edced3" stroke="#ab2235"/><path d="M198.3 38 200.2 38.3 201.2 37.5 199.3 37.1z" fill="#edcfd3" stroke="#ae2538"/><path d="M200.2 38.3 202.1 38.5 203.1 37.9 201.2 37.5z" fill="#edcfd3" stroke="#af2638"/><path d="M158.5 36.9 160.3 36.9 161.3 35.7 159.5 35.7z" fill="#edced2" stroke="#ab2135"/><path d="M202.1 38.5 203.9 38.8 204.9 38.2 203.1 37.9z" fill="#eed0d3" stroke="#b02739"/><path d="M203.9 38.8 205.8 39 206.8 38.5 204.9 38.2z" fill="#eed0d4" stroke="#b1283a"/><path d="M160.3 36.9 162.2 36.9 163.2 35.6 161.3 35.7z" fill="#ecced2" stroke="#aa2134"/><path d="M205.8 39 207.6 39.2 208.6 38.8 206.8 38.5z" fill="#eed0d4" stroke="#b1293a"/><path d="M162.2 36.9 164.1 36.9 165.1 35.6 163.2 35.6z" fill="#ecced2" stroke="#aa2034"/><path d="M207.6 39.2 209.4 39.4 210.4 39.1 208.6 38.8z" fill="#eed0d4" stroke="#b2293b"/><path d="M209.4 39.4 211.3 39.6 212.3 39.3 210.4 39.1z" fill="#eed0d4" stroke="#b22a3b"/><path d="M164.1 36.9 165.9 36.9 166.9 35.5 165.1 35.6z" fill="#ecced2" stroke="#aa2033"/><path d="M211.3 39.6 213.1 39.7 214.1 39.4 212.3 39.3z" fill="#eed0d4" stroke="#b32a3b"/><path d="M165.9 36.9 167.8 36.9 168.8 35.5 166.9 35.5z" fill="#ecced2" stroke="#a91f33"/><path d="M213.1 39.7 215 39.9 216 39.6 214.1 39.4z" fill="#eed0d4" stroke="#b32a3b"/><path d="M167.8 36.9 169.6 37 170.6 35.5 168.8 35.5z" fill="#ecced2" stroke="#a91f33"/><path d="M169.6 37 171.4 37 172.4 35.5 170.6 35.5z" fill="#ecced2" stroke="#a81f32"/><path d="M171.4 37 173.3 37.1 174.3 35.5 172.4 35.5z" fill="#ecced2" stroke="#a81e32"/><path d="M173.3 37.1 175.2 37.2 176.2 35.6 174.3 35.5z" fill="#ecced2" stroke="#a81e32"/><path d="M175.2 37.2 177 37.2 178 35.7 176.2 35.6z" fill="#ecced2" stroke="#a81e32"/><path d="M139 37.4 140.8 37.5 141.8 36.6 140 36.5z" fill="#edced3" stroke="#ab2235"/><path d="M177 37.2 178.8 37.4 179.8 35.8 178 35.7z" fill="#ecced2" stroke="#a81e32"/><path d="M140.8 37.5 142.7 37.6 143.7 36.6 141.8 36.6z" fill="#edced3" stroke="#ab2235"/><path d="M178.8 37.4 180.7 37.5 181.7 35.9 179.8 35.8z" fill="#ecced2" stroke="#a81e32"/><path d="M142.7 37.6 144.6 37.6 145.6 36.7 143.7 36.6z" fill="#edced3" stroke="#ab2235"/><path d="M180.7 37.5 182.6 37.6 183.6 36.1 181.7 35.9z" fill="#ecced2" stroke="#a81e32"/><path d="M144.6 37.6 146.4 37.7 147.4 36.7 145.6 36.7z" fill="#edced2" stroke="#ab2235"/><path d="M182.6 37.6 184.4 37.8 185.4 36.3 183.6 36.1z" fill="#ecced2" stroke="#a81f32"/><path d="M146.4 37.7 148.2 37.8 149.2 36.8 147.4 36.7z" fill="#edced2" stroke="#ab2135"/><path d="M184.4 37.8 186.2 37.9 187.2 36.5 185.4 36.3z" fill="#ecced2" stroke="#a91f33"/><path d="M148.2 37.8 150.1 37.9 151.1 36.8 149.2 36.8z" fill="#ecced2" stroke="#ab2134"/><path d="M186.2 37.9 188.1 38.1 189.1 36.7 187.2 36.5z" fill="#ecced2" stroke="#a91f33"/><path d="M188.1 38.1 189.9 38.3 190.9 37 189.1 36.7z" fill="#ecced2" stroke="#aa2033"/><path d="M150.1 37.9 151.9 37.9 152.9 36.8 151.1 36.8z" fill="#ecced2" stroke="#ab2134"/><path d="M189.9 38.3 191.8 38.5 192.8 37.2 190.9 37z" fill="#ecced2" stroke="#aa2034"/><path d="M151.9 37.9 153.8 38 154.8 36.8 152.9 36.8z" fill="#ecced2" stroke="#aa2134"/><path d="M191.8 38.5 193.7 38.7 194.7 37.5 192.8 37.2z" fill="#ecced2" stroke="#aa2134"/><path d="M153.8 38 155.7 38 156.7 36.8 154.8 36.8z" fill="#ecced2" stroke="#aa2034"/><path d="M193.7 38.7 195.5 38.9 196.5 37.7 194.7 37.5z" fill="#edced2" stroke="#ab2135"/><path d="M195.5 38.9 197.3 39 198.3 38 196.5 37.7z" fill="#edced3" stroke="#ab2235"/><path d="M155.7 38 157.5 38.1 158.5 36.9 156.7 36.8z" fill="#ecced2" stroke="#aa2034"/><path d="M197.3 39 199.2 39.2 200.2 38.3 198.3 38z" fill="#edced3" stroke="#ac2335"/><path d="M157.5 38.1 159.3 38.2 160.3 36.9 158.5 36.9z" fill="#ecced2" stroke="#aa2033"/><path d="M199.2 39.2 201.1 39.4 202.1 38.5 200.2 38.3z" fill="#edcfd3" stroke="#ac2336"/><path d="M201.1 39.4 202.9 39.6 203.9 38.8 202.1 38.5z" fill="#edcfd3" stroke="#ad2436"/><path d="M159.3 38.2 161.2 38.2 162.2 36.9 160.3 36.9z" fill="#ecced2" stroke="#a91f33"/><path d="M202.9 39.6 204.8 39.8 205.8 39 203.9 38.8z" fill="#edcfd3" stroke="#ad2437"/><path d="M161.2 38.2 163.1 38.3 164.1 36.9 162.2 36.9z" fill="#ecced2" stroke="#a91f33"/><path d="M204.8 39.8 206.6 39.9 207.6 39.2 205.8 39z" fill="#edcfd3" stroke="#ae2537"/><path d="M163.1 38.3 164.9 38.3 165.9 36.9 164.1 36.9z" fill="#ecced2" stroke="#a91f33"/><path d="M206.6 39.9 208.4 40.1 209.4 39.4 207.6 39.2z" fill="#edcfd3" stroke="#ae2537"/><path d="M164.9 38.3 166.8 38.4 167.8 36.9 165.9 36.9z" fill="#ecced2" stroke="#a91f33"/><path d="M208.4 40.1 210.3 40.2 211.3 39.6 209.4 39.4z" fill="#edcfd3" stroke="#ae2537"/><path d="M210.3 40.2 212.1 40.4 213.1 39.7 211.3 39.6z" fill="#edcfd3" stroke="#ae2537"/><path d="M166.8 38.4 168.6 38.5 169.6 37 167.8 36.9z" fill="#ecced2" stroke="#a81e32"/><path d="M212.1 40.4 214 40.5 215 39.9 213.1 39.7z" fill="#edcfd3" stroke="#ae2538"/><path d="M168.6 38.5 170.4 38.6 171.4 37 169.6 37z" fill="#ecced2" stroke="#a81e32"/><path d="M170.4 38.6 172.3 38.6 173.3 37.1 171.4 37z" fill="#ecced2" stroke="#a81e32"/><path d="M172.3 38.6 174.2 38.7 175.2 37.2 173.3 37.1z" fill="#ecced2" stroke="#a81e32"/><path d="M174.2 38.7 176 38.8 177 37.2 175.2 37.2z" fill="#ecced2" stroke="#a81e32"/><path d="M176 38.8 177.8 38.9 178.8 37.4 177 37.2z" fill="#ecced2" stroke="#a81e32"/><path d="M138 38.6 139.8 38.6 140.8 37.5 139 37.4z" fill="#ecced2" stroke="#a91f33"/><path d="M177.8 38.9 179.7 39 180.7 37.5 178.8 37.4z" fill="#ecced2" stroke="#a81e32"/><path d="M139.8 38.6 141.7 38.7 142.7 37.6 140.8 37.5z" fill="#ecced2" stroke="#a91f33"/><path d="M179.7 39 181.6 39.2 182.6 37.6 180.7 37.5z" fill="#ecced2" stroke="#a81e32"/><path d="M141.7 38.7 143.6 38.8 144.6 37.6 142.7 37.6z" fill="#ecced2" stroke="#a91f33"/><path d="M181.6 39.2 183.4 39.3 184.4 37.8 182.6 37.6z" fill="#ecced2" stroke="#a81e32"/><path d="M143.6 38.8 145.4 38.9 146.4 37.7 144.6 37.6z" fill="#ecced2" stroke="#a91f33"/><path d="M183.4 39.3 185.2 39.4 186.2 37.9 184.4 37.8z" fill="#ecced2" stroke="#a81e32"/><path d="M145.4 38.9 147.2 39 148.2 37.8 146.4 37.7z" fill="#ecced2" stroke="#a91f33"/><path d="M185.2 39.4 187.1 39.5 188.1 38.1 186.2 37.9z" fill="#ecced2" stroke="#a91f33"/><path d="M147.2 39 149.1 39.1 150.1 37.9 148.2 37.8z" fill="#ecced2" stroke="#a91f33"/><path d="M187.1 39.5 188.9 39.7 189.9 38.3 188.1 38.1z" fill="#ecced2" stroke="#a91f33"/><path d="M149.1 39.1 150.9 39.2 151.9 37.9 150.1 37.9z" fill="#ecced2" stroke="#a91f33"/><path d="M188.9 39.7 190.8 39.8 191.8 38.5 189.9 38.3z" fill="#ecced2" stroke="#a91f33"/><path d="M150.9 39.2 152.8 39.3 153.8 38 151.9 37.9z" fill="#ecced2" stroke="#a91f33"/><path d="M190.8 39.8 192.7 40 193.7 38.7 191.8 38.5z" fill="#ecced2" stroke="#a91f33"/><path d="M152.8 39.3 154.7 39.4 155.7 38 153.8 38z" fill="#ecced2" stroke="#a91f33"/><path d="M192.7 40 194.5 40.1 195.5 38.9 193.7 38.7z" fill="#ecced2" stroke="#aa2033"/><path d="M194.5 40.1 196.3 40.2 197.3 39 195.5 38.9z" fill="#ecced2" stroke="#aa2034"/><path d="M154.7 39.4 156.5 39.5 157.5 38.1 155.7 38z" fill="#ecced2" stroke="#a91f33"/><path d="M196.3 40.2 198.2 40.4 199.2 39.2 197.3 39z" fill="#ecced2" stroke="#aa2034"/><path d="M156.5 39.5 158.3 39.6 159.3 38.2 157.5 38.1z" fill="#ecced2" stroke="#a91f33"/><path d="M198.2 40.4 200.1 40.5 201.1 39.4 199.2 39.2z" fill="#ecced2" stroke="#aa2134"/><path d="M158.3 39.6 160.2 39.7 161.2 38.2 159.3 38.2z" fill="#ecced2" stroke="#a81f32"/><path d="M200.1 40.5 201.9 40.7 202.9 39.6 201.1 39.4z" fill="#ecced2" stroke="#ab2134"/><path d="M160.2 39.7 162.1 39.8 163.1 38.3 161.2 38.2z" fill="#ecced2" stroke="#a81e32"/><path d="M201.9 40.7 203.8 40.8 204.8 39.8 202.9 39.6z" fill="#ecced2" stroke="#ab2134"/><path d="M162.1 39.8 163.9 39.8 164.9 38.3 163.1 38.3z" fill="#ecced2" stroke="#a81e32"/><path d="M203.8 40.8 205.6 40.9 206.6 39.9 204.8 39.8z" fill="#edced2" stroke="#ab2135"/><path d="M163.9 39.8 165.8 39.9 166.8 38.4 164.9 38.3z" fill="#ecced2" stroke="#a81e32"/><path d="M205.6 40.9 207.4 41 208.4 40.1 206.6 39.9z" fill="#edced2" stroke="#ab2235"/><path d="M165.8 39.9 167.6 40 168.6 38.5 166.8 38.4z" fill="#ecced2" stroke="#a81e32"/><path d="M207.4 41 209.3 41.2 210.3 40.2 208.4 40.1z" fill="#edced3" stroke="#ab2235"/><path d="M167.6 40 169.4 40.1 170.4 38.6 168.6 38.5z" fill="#ecced2" stroke="#a81e32"/><path d="M209.3 41.2 211.1 41.3 212.1 40.4 210.3 40.2z" fill="#edced3" stroke="#ab2235"/><path d="M169.4 40.1 171.3 40.2 172.3 38.6 170.4 38.6z" fill="#ecced2" stroke="#a81e32"/><path d="M211.1 41.3 213 41.4 214 40.5 212.1 40.4z" fill="#edced3" stroke="#ab2235"/><path d="M171.3 40.2 173.2 40.3 174.2 38.7 172.3 38.6z" fill="#ecced2" stroke="#a81e32"/><path d="M173.2 40.3 175 40.4 176 38.8 174.2 38.7z" fill="#ecced2" stroke="#a81e32"/><path d="M175 40.4 176.8 40.5 177.8 38.9 176 38.8z" fill="#ecced2" stroke="#a81e32"/><path d="M137 40 138.8 40.1 139.8 38.6 138 38.6z" fill="#ecced2" stroke="#a81e32"/><path d="M176.8 40.5 178.7 40.6 179.7 39 177.8 38.9z" fill="#ecced2" stroke="#a81e32"/><path d="M138.8 40.1 140.7 40.2 141.7 38.7 139.8 38.6z" fill="#ecced2" stroke="#a81e32"/><path d="M178.7 40.6 180.6 40.7 181.6 39.2 179.7 39z" fill="#ecced2" stroke="#a81e32"/><path d="M140.7 40.2 142.6 40.3 143.6 38.8 141.7 38.7z" fill="#ecced2" stroke="#a81e32"/><path d="M180.6 40.7 182.4 40.8 183.4 39.3 181.6 39.2z" fill="#ecced2" stroke="#a81e32"/><path d="M142.6 40.3 144.4 40.4 145.4 38.9 143.6 38.8z" fill="#ecced2" stroke="#a81e32"/><path d="M182.4 40.8 184.2 40.9 185.2 39.4 183.4 39.3z" fill="#ecced2" stroke="#a81e32"/><path d="M144.4 40.4 146.2 40.5 147.2 39 145.4 38.9z" fill="#ecced2" stroke="#a81e32"/><path d="M184.2 40.9 186.1 41 187.1 39.5 185.2 39.4z" fill="#ecced2" stroke="#a81e32"/><path d="M146.2 40.5 148.1 40.6 149.1 39.1 147.2 39z" fill="#ecced2" stroke="#a81e32"/><path d="M186.1 41 187.9 41.2 188.9 39.7 187.1 39.5z" fill="#ecced2" stroke="#a81e32"/><path d="M148.1 40.6 149.9 40.7 150.9 39.2 149.1 39.1z" fill="#ecced2" stroke="#a81e32"/><path d="M187.9 41.2 189.8 41.3 190.8 39.8 188.9 39.7z" fill="#ecced2" stroke="#a81e32"/><path d="M149.9 40.7 151.8 40.8 152.8 39.3 150.9 39.2z" fill="#ecced2" stroke="#a81e32"/><path d="M189.8 41.3 191.7 41.4 192.7 40 190.8 39.8z" fill="#ecced2" stroke="#a81f32"/><path d="M151.8 40.8 153.7 40.9 154.7 39.4 152.8 39.3z" fill="#ecced2" stroke="#a81e32"/><path d="M191.7 41.4 193.5 41.5 194.5 40.1 192.7 40z" fill="#ecced2" stroke="#a91f33"/><path d="M153.7 40.9 155.5 41 156.5 39.5 154.7 39.4z" fill="#ecced2" stroke="#a81e32"/><path d="M193.5 41.5 195.3 41.6 196.3 40.2 194.5 40.1z" fill="#ecced2" stroke="#a91f33"/><path d="M155.5 41 157.3 41.1 158.3 39.6 156.5 39.5z" fill="#ecced2" stroke="#a81e32"/><path d="M195.3 41.6 197.2 41.7 198.2 40.4 196.3 40.2z" fill="#ecced2" stroke="#a91f33"/><path d="M157.3 41.1 159.2 41.2 160.2 39.7 158.3 39.6z" fill="#ecced2" stroke="#a81e32"/><path d="M197.2 41.7 199.1 41.8 200.1 40.5 198.2 40.4z" fill="#ecced2" stroke="#a91f33"/><path d="M159.2 41.2 161.1 41.3 162.1 39.8 160.2 39.7z" fill="#ecced2" stroke="#a81e32"/><path d="M199.1 41.8 200.9 41.9 201.9 40.7 200.1 40.5z" fill="#ecced2" stroke="#a91f33"/><path d="M161.1 41.3 162.9 41.4 163.9 39.8 162.1 39.8z" fill="#ecced2" stroke="#a81e32"/><path d="M200.9 41.9 202.8 42 203.8 40.8 201.9 40.7z" fill="#ecced2" stroke="#a91f33"/><path d="M202.8 42 204.6 42.1 205.6 40.9 203.8 40.8z" fill="#ecced2" stroke="#a91f33"/><path d="M162.9 41.4 164.8 41.5 165.8 39.9 163.9 39.8z" fill="#ecced2" stroke="#a81e32"/><path d="M204.6 42.1 206.4 42.2 207.4 41 205.6 40.9z" fill="#ecced2" stroke="#a91f33"/><path d="M164.8 41.5 166.6 41.6 167.6 40 165.8 39.9z" fill="#ecced2" stroke="#a81e32"/><path d="M206.4 42.2 208.3 42.3 209.3 41.2 207.4 41z" fill="#ecced2" stroke="#a91f33"/><path d="M166.6 41.6 168.4 41.7 169.4 40.1 167.6 40z" fill="#ecced2" stroke="#a81e32"/><path d="M208.3 42.3 210.1 42.4 211.1 41.3 209.3 41.2z" fill="#ecced2" stroke="#a91f33"/><path d="M168.4 41.7 170.3 41.8 171.3 40.2 169.4 40.1z" fill="#ecced2" stroke="#a81e32"/><path d="M210.1 42.4 212 42.6 213 41.4 211.1 41.3z" fill="#ecced2" stroke="#a91f33"/><path d="M170.3 41.8 172.2 41.9 173.2 40.3 171.3 40.2z" fill="#ecced2" stroke="#a81e32"/><path d="M172.2 41.9 174 42 175 40.4 173.2 40.3z" fill="#ecced2" stroke="#a81e32"/><path d="M174 42 175.8 42.1 176.8 40.5 175 40.4z" fill="#ecced2" stroke="#a81e32"/><path d="M175.8 42.1 177.7 42.2 178.7 40.6 176.8 40.5z" fill="#ecced2" stroke="#a81e32"/><path d="M177.7 42.2 179.6 42.3 180.6 40.7 178.7 40.6z" fill="#ecced2" stroke="#a81e32"/><path d="M179.6 42.3 181.4 42.4 182.4 40.8 180.6 40.7z" fill="#ecced2" stroke="#a81e32"/><path d="M181.4 42.4 183.2 42.5 184.2 40.9 182.4 40.8z" fill="#ecced2" stroke="#a81e32"/><path d="M183.2 42.5 185.1 42.6 186.1 41 184.2 40.9z" fill="#ecced2" stroke="#a81e32"/><path d="M185.1 42.6 186.9 42.7 187.9 41.2 186.1 41z" fill="#ecced2" stroke="#a81e32"/><path d="M186.9 42.7 188.8 42.8 189.8 41.3 187.9 41.2z" fill="#ecced2" stroke="#a81e32"/><path d="M188.8 42.8 190.7 42.9 191.7 41.4 189.8 41.3z" fill="#ecced2" stroke="#a81e32"/><path d="M190.7 42.9 192.5 43 193.5 41.5 191.7 41.4z" fill="#ecced2" stroke="#a81e32"/><path d="M192.5 43 194.3 43.1 195.3 41.6 193.5 41.5z" fill="#ecced2" stroke="#a81e32"/><path d="M194.3 43.1 196.2 43.2 197.2 41.7 195.3 41.6z" fill="#ecced2" stroke="#a81e32"/><path d="M196.2 43.2 198.1 43.3 199.1 41.8 197.2 41.7z" fill="#ecced2" stroke="#a81e32"/><path d="M198.1 43.3 199.9 43.4 200.9 41.9 199.1 41.8z" fill="#ecced2" stroke="#a81e32"/><path d="M199.9 43.4 201.8 43.5 202.8 42 200.9 41.9z" fill="#ecced2" stroke="#a81e32"/><path d="M201.8 43.5 203.6 43.6 204.6 42.1 202.8 42z" fill="#ecced2" stroke="#a81e32"/><path d="M203.6 43.6 205.4 43.7 206.4 42.2 204.6 42.1z" fill="#ecced2" stroke="#a81e32"/><path d="M205.4 43.7 207.3 43.8 208.3 42.3 206.4 42.2z" fill="#ecced2" stroke="#a81e32"/><path d="M207.3 43.8 209.1 43.9 210.1 42.4 208.3 42.3z" fill="#ecced2" stroke="#a81e32"/><path d="M209.1 43.9 211 44 212 42.6 210.1 42.4z" fill="#ecced2" stroke="#a81e32"/></g>
<line x1="137" y1="40" x2="211" y2="44" stroke="#8a1a2c" stroke-width="1.1" stroke-opacity=".8"/>
<g stroke="#c4c4c4" stroke-width="0.8"><line x1="272.5" y1="95" x2="272.5" y2="40"/><line x1="272.5" y1="95" x2="346.5" y2="99"/><line x1="346.5" y1="99" x2="358.5" y2="80"/><line x1="284.5" y1="76" x2="284.5" y2="21"/><line x1="284.5" y1="21" x2="358.5" y2="25"/><line x1="358.5" y1="25" x2="358.5" y2="80"/><line x1="284.5" y1="76" x2="358.5" y2="80"/><line x1="272.5" y1="95" x2="284.5" y2="76"/><line x1="272.5" y1="40" x2="284.5" y2="21"/></g>
<g font-size="4.6" text-anchor="end">
<text x="269.9" y="42.1">0</text>
<text x="269.9" y="60.4">-20</text>
<text x="269.9" y="78.8">-40</text>
<text x="269.9" y="97.1">-60</text>
</g><g font-size="4.6" text-anchor="middle">
<text x="269.5" y="101.6">180</text>
<text x="288" y="102.6">90</text>
<text x="306.5" y="103.6">0</text>
<text x="325" y="104.6">-90</text>
<text x="343.5" y="105.6">-180</text>
<text x="350.1" y="102.6">0</text>
<text x="356.1" y="93.1">2</text>
<text x="362.1" y="83.6">4</text>
</g>
<text x="306.5" y="109" font-size="5.6" text-anchor="middle"><tspan font-style="italic">θ</tspan> (°)</text>
<text x="358" y="105.2" font-size="5.6"><tspan font-style="italic">f</tspan> (kHz)</text>
<text transform="translate(260,67.5) rotate(-90)" font-size="5" text-anchor="middle">|dB|</text>
<g stroke="#000" stroke-opacity=".07" stroke-width=".3"><path d="M287.5 69.2 287.7 68 290.7 63.2 290.5 64.4z" fill="#5f5fc6"/><path d="M287.1 66.5 287.5 69.2 290.5 64.4 290.1 61.8z" fill="#6e6ee5"/><path d="M287.7 68 288.3 64.5 291.3 59.7 290.7 63.2z" fill="#6767d7"/><path d="M297.1 69.7 297.5 69 300.5 64.2 300.1 64.9z" fill="#5757b6"/><path d="M296.9 68.3 297.1 69.7 300.1 64.9 299.9 63.5z" fill="#6d6de5"/><path d="M286.4 62.6 287.1 66.5 290.1 61.8 289.4 57.8z" fill="#6565d3"/><path d="M297.5 69 298.1 67.9 301.1 63 300.5 64.2z" fill="#5f5fc6"/><path d="M298.1 67.9 298.8 66.4 301.8 61.3 301.1 63z" fill="#5a5abd"/><path d="M296.3 64.1 296.9 68.3 299.9 63.5 299.3 59.4z" fill="#6565d2"/><path d="M288.3 64.5 288.9 61 291.9 56.2 291.3 59.7z" fill="#5f5fc6"/><path d="M285.8 59.3 286.4 62.6 289.4 57.8 288.8 54.5z" fill="#6e6ee6"/><path d="M298.8 66.4 299.4 64.7 302.4 59.2 301.8 61.3z" fill="#6363d0"/><path d="M288.9 61 289.5 58.7 292.5 53.9 291.9 56.2z" fill="#6565d3"/><path d="M285.2 57.4 285.8 59.3 288.8 54.5 288.2 52.7z" fill="#6666e2"/><path d="M295.7 60.6 296.3 64.1 299.3 59.4 298.7 55.8z" fill="#6e6ee6"/><path d="M299.4 64.7 300 62.3 303 56.7 302.4 59.2z" fill="#5d5dc2"/><path d="M284.6 55.6 285.2 57.4 288.2 52.7 287.6 50.8z" fill="#6c83f8"/><path d="M289.5 58.7 290.1 56.3 293.1 51.6 292.5 53.9z" fill="#5a64cd"/><path d="M295.1 58.2 295.7 60.6 298.7 55.8 298.1 53.4z" fill="#6666d9"/><path d="M284 54.2 284.6 55.6 287.6 50.8 287 49.4z" fill="#6590e8"/><path d="M283.4 53.8 284 54.2 287 49.4 286.4 49.1z" fill="#7ab3ff"/><path d="M300 62.3 300.6 60 303.6 53.3 303 56.7z" fill="#6565d4"/><path d="M282.7 53.5 283.4 53.8 286.4 49.1 285.7 48.7z" fill="#71aaf0"/><path d="M282.1 53.1 282.7 53.5 285.7 48.7 285.1 48.4z" fill="#79bbff"/><path d="M281.5 52.8 282.1 53.1 285.1 48.4 284.5 48z" fill="#70b2f0"/><path d="M290.1 56.3 290.8 55 293.8 50.3 293.1 51.6z" fill="#5b7dd6"/><path d="M294.4 55.8 295.1 58.2 298.1 53.4 297.4 51z" fill="#6b83f6"/><path d="M290.8 55 291.4 54.2 294.4 49.5 293.8 50.3z" fill="#4f7bbe"/><path d="M293.8 54.9 294.4 55.8 297.4 51 296.8 50.2z" fill="#6e99ed"/><path d="M291.4 54.2 292 53.5 295 48.7 294.4 49.5z" fill="#558fce"/><path d="M293.2 54.1 293.8 54.9 296.8 50.2 296.2 49.3z" fill="#75b0ff"/><path d="M292.6 53.2 293.2 54.1 296.2 49.3 295.6 48.5z" fill="#6caeed"/><path d="M300.6 60 301.2 55.5 304.2 48.2 303.6 53.3z" fill="#5a77d2"/><path d="M292 53.5 292.4 52.9 295.4 48.2 295 48.7z" fill="#4d8bbe"/><path d="M339.5 71.2 339.9 72 342.9 67.2 342.5 66.4z" fill="#7878f0"/><path d="M292.4 52.9 292.6 53.2 295.6 48.5 295.4 48.2z" fill="#73c3ff"/><path d="M339.9 72 340.1 70.6 343.1 65.9 342.9 67.2z" fill="#5f5fc7"/><path d="M338.9 70.1 339.5 71.2 342.5 66.4 341.9 65.2z" fill="#6f6fde"/><path d="M338.2 68.6 338.9 70.1 341.9 65.2 341.2 63.4z" fill="#7171ec"/><path d="M340.1 70.6 340.7 66.5 343.7 61.8 343.1 65.9z" fill="#6767d8"/><path d="M349.3 71.3 349.5 72.5 352.5 67.8 352.3 66.6z" fill="#6e6ee6"/><path d="M337.6 66.8 338.2 68.6 341.2 63.4 340.6 61.3z" fill="#6767d8"/><path d="M349.5 72.5 349.9 69.9 352.9 65.2 352.5 67.8z" fill="#5f5fc6"/><path d="M301.2 55.5 301.9 50.9 304.9 43.6 304.2 48.2z" fill="#5abfe4"/><path d="M337 64.3 337.6 66.8 340.6 61.3 340 58.7z" fill="#6f6fe9"/><path d="M348.7 67.8 349.3 71.3 352.3 66.6 351.7 63z" fill="#6565d3"/><path d="M340.7 66.5 341.3 63 344.3 58.3 343.7 61.8z" fill="#5f5fc6"/><path d="M349.9 69.9 350.6 66 353.6 61.3 352.9 65.2z" fill="#6767d8"/><path d="M336.4 61.9 337 64.3 340 58.7 339.4 55.2z" fill="#6666d5"/><path d="M348.1 64.2 348.7 67.8 351.7 63 351.1 59.4z" fill="#6e6ee6"/><path d="M301.9 50.9 302.5 47.1 305.5 40.1 304.9 43.6z" fill="#62d0ba"/><path d="M341.3 63 341.9 60.7 344.9 56 344.3 58.3z" fill="#6464d6"/><path d="M350.6 66 351.2 62.8 354.2 58.1 353.6 61.3z" fill="#5e5ec5"/><path d="M335.8 57.4 336.4 61.9 339.4 55.2 338.8 50.1z" fill="#6889f2"/><path d="M347.5 61.8 348.1 64.2 351.1 59.4 350.5 57z" fill="#6666d6"/><path d="M302.5 47.1 303.1 43.7 306.1 36.9 305.5 40.1z" fill="#9be192"/><path d="M341.9 60.7 342.6 58.4 345.6 53.6 344.9 56z" fill="#596dcd"/><path d="M346.9 59.4 347.5 61.8 350.5 57 349.9 54.7z" fill="#6c78f6"/><path d="M351.2 62.8 351.8 61 354.8 56.3 354.2 58.1z" fill="#6262d9"/><path d="M342.6 58.4 343.2 57.6 346.2 52.8 345.6 53.6z" fill="#577fce"/><path d="M346.2 58 346.9 59.4 349.9 54.7 349.2 53.3z" fill="#668ae8"/><path d="M343.2 57.6 343.8 56.8 346.8 52 346.2 52.8z" fill="#4f7ebe"/><path d="M303.1 43.7 303.7 41.1 306.7 34.6 306.1 36.9z" fill="#b5cc59"/><path d="M335.1 52.7 335.8 57.4 338.8 50.1 338.1 45.4z" fill="#58bbdf"/><path d="M351.8 61 352.4 59.2 355.4 54.5 354.8 56.3z" fill="#576bca"/><path d="M345.6 57.2 346.2 58 349.2 53.3 348.6 52.4z" fill="#76acff"/><path d="M343.8 56.8 344.4 56 347.4 51.3 346.8 52z" fill="#5492ce"/><path d="M345 56.3 345.6 57.2 348.6 52.4 348 51.6z" fill="#6caaed"/><path d="M344.6 55.7 345 56.3 348 51.6 347.6 51z" fill="#73c1ff"/><path d="M344.4 56 344.6 55.7 347.6 51 347.4 51.3z" fill="#4d8dbe"/><path d="M352.4 59.2 353 57.9 356 53.2 355.4 54.5z" fill="#5a83d5"/><path d="M303.7 41.1 304.3 39 307.3 32.8 306.7 34.6z" fill="#dcd242"/><path d="M353 57.9 353.6 57.6 356.6 52.9 356 53.2z" fill="#588cd4"/><path d="M353.6 57.6 354.3 57.4 357.3 52.6 356.6 52.9z" fill="#5f9ce6"/><path d="M334.5 48.8 335.1 52.7 338.1 45.4 337.5 41.8z" fill="#73f4da"/><path d="M354.3 57.4 354.9 57.1 357.9 52.3 357.3 52.6z" fill="#5793d4"/><path d="M304.3 39 304.9 37.4 307.9 31.5 307.3 32.8z" fill="#c5a339"/><path d="M354.9 57.1 355.5 56.8 358.5 52 357.9 52.3z" fill="#5ea4e6"/><path d="M284.5 73.9 284.7 72.7 287.7 68 287.5 69.2z" fill="#5f5fc6"/><path d="M284.1 71.3 284.5 73.9 287.5 69.2 287.1 66.5z" fill="#6e6ee5"/><path d="M304.9 37.4 305.6 36.1 308.6 30.3 307.9 31.5z" fill="#d3983b"/><path d="M305.6 36.1 306.2 35 309.2 29.4 308.6 30.3z" fill="#bd7733"/><path d="M333.9 45.4 334.5 48.8 337.5 41.8 336.9 38.6z" fill="#9be192"/><path d="M284.7 72.7 285.3 69.2 288.3 64.5 287.7 68z" fill="#6767d7"/><path d="M294.1 74.4 294.5 73.8 297.5 69 297.1 69.7z" fill="#5656b4"/><path d="M306.2 35 306.8 34.2 309.8 28.6 309.2 29.4z" fill="#ce7236"/><path d="M293.9 73 294.1 74.4 297.1 69.7 296.9 68.3z" fill="#6d6de5"/><path d="M283.4 67.3 284.1 71.3 287.1 66.5 286.4 62.6z" fill="#6565d3"/><path d="M294.5 73.8 295.1 72.9 298.1 67.9 297.5 69z" fill="#5e5ec4"/><path d="M306.8 34.2 307.4 33.4 310.4 27.8 309.8 28.6z" fill="#bf5d31"/><path d="M333.3 42.7 333.9 45.4 336.9 38.6 336.3 36.2z" fill="#daf76b"/><path d="M307.4 33.4 308 32.7 311 27.2 310.4 27.8z" fill="#d25935"/><path d="M295.1 72.9 295.8 71.5 298.8 66.4 298.1 67.9z" fill="#5959bb"/><path d="M293.3 68.9 293.9 73 296.9 68.3 296.3 64.1z" fill="#6565d2"/><path d="M308 32.7 308.6 32 311.6 26.5 311 27.2z" fill="#c44730"/><path d="M285.3 69.2 285.9 65.7 288.9 61 288.3 64.5z" fill="#5f5fc6"/><path d="M332.7 40.5 333.3 42.7 336.3 36.2 335.7 34.4z" fill="#e5db45"/><path d="M282.8 64 283.4 67.3 286.4 62.6 285.8 59.3z" fill="#6e6ee6"/><path d="M308.6 32 309.2 31.4 312.2 25.9 311.6 26.5z" fill="#d64133"/><path d="M295.8 71.5 296.4 70.1 299.4 64.7 298.8 66.4z" fill="#6262cd"/><path d="M309.2 31.4 309.9 30.7 312.9 25.5 312.2 25.9z" fill="#c8322f"/><path d="M332.1 38.9 332.7 40.5 335.7 34.4 335.1 33z" fill="#fcd14d"/><path d="M309.9 30.7 310.5 30.3 313.5 25 312.9 25.5z" fill="#d93434"/><path d="M310.5 30.3 311.1 29.9 314.1 24.6 313.5 25z" fill="#c02f2f"/><path d="M296.4 70.1 297 68 300 62.3 299.4 64.7z" fill="#5c5cc1"/><path d="M285.9 65.7 286.5 63.4 289.5 58.7 288.9 61z" fill="#6565d3"/><path d="M282.2 62.2 282.8 64 285.8 59.3 285.2 57.4z" fill="#6666e2"/><path d="M292.7 65.3 293.3 68.9 296.3 64.1 295.7 60.6z" fill="#6e6ee6"/><path d="M331.4 37.5 332.1 38.9 335.1 33 334.4 31.7z" fill="#eaac49"/><path d="M311.1 29.9 311.7 29.5 314.7 24.3 314.1 24.6z" fill="#cb3333"/><path d="M311.7 29.5 312.3 29.1 315.3 24 314.7 24.3z" fill="#b62f2f"/><path d="M330.8 36.4 331.4 37.5 334.4 31.7 333.8 30.8z" fill="#ffa751"/><path d="M281.6 60.3 282.2 62.2 285.2 57.4 284.6 55.6z" fill="#6c83f8"/><path d="M312.3 29.1 312.9 28.8 315.9 23.7 315.3 24z" fill="#c13333"/><path d="M330.2 35.5 330.8 36.4 333.8 30.8 333.2 29.9z" fill="#ef8e4e"/><path d="M312.9 28.8 313.6 28.5 316.6 23.4 315.9 23.7z" fill="#ad2e2e"/><path d="M297 68 297.6 65.9 300.6 60 300 62.3z" fill="#6464d2"/><path d="M286.5 63.4 287.1 61.1 290.1 56.3 289.5 58.7z" fill="#5a64cd"/><path d="M329.6 34.6 330.2 35.5 333.2 29.9 332.6 29z" fill="#ff8953"/><path d="M313.6 28.5 314.2 28.2 317.2 23.2 316.6 23.4z" fill="#b83232"/><path d="M292.1 62.9 292.7 65.3 295.7 60.6 295.1 58.2z" fill="#6666d9"/><path d="M281 58.9 281.6 60.3 284.6 55.6 284 54.2z" fill="#6590e8"/><path d="M329 33.8 329.6 34.6 332.6 29 332 28.3z" fill="#f0734e"/><path d="M314.2 28.2 314.8 28 317.8 23.1 317.2 23.2z" fill="#aa2f2f"/><path d="M314.8 28 315.4 27.9 318.4 23.1 317.8 23.1z" fill="#bb3434"/><path d="M280.4 58.6 281 58.9 284 54.2 283.4 53.8z" fill="#7ab3ff"/><path d="M328.4 33.1 329 33.8 332 28.3 331.4 27.6z" fill="#ff6e53"/><path d="M279.7 58.2 280.4 58.6 283.4 53.8 282.7 53.5z" fill="#71aaf0"/><path d="M315.4 27.9 316 27.9 319 23.1 318.4 23.1z" fill="#ac3030"/><path d="M279.1 57.9 279.7 58.2 282.7 53.5 282.1 53.1z" fill="#79bbff"/><path d="M278.5 57.5 279.1 57.9 282.1 53.1 281.5 52.8z" fill="#70b2f0"/><path d="M316 27.9 316.6 27.8 319.6 23 319 23.1z" fill="#bc3535"/><path d="M327.8 32.4 328.4 33.1 331.4 27.6 330.8 26.9z" fill="#f15b4e"/><path d="M316.6 27.8 317.3 27.8 320.3 23 319.6 23z" fill="#ad3030"/><path d="M327.1 31.7 327.8 32.4 330.8 26.9 330.1 26.4z" fill="#ff5653"/><path d="M287.1 61.1 287.8 59.8 290.8 55 290.1 56.3z" fill="#5b7dd6"/><path d="M317.3 27.8 317.9 27.8 320.9 23 320.3 23z" fill="#bd3535"/><path d="M326.5 31.2 327.1 31.7 330.1 26.4 329.5 25.9z" fill="#ec4e4e"/><path d="M317.9 27.8 318.5 27.8 321.5 23 320.9 23z" fill="#ae3131"/><path d="M291.4 60.5 292.1 62.9 295.1 58.2 294.4 55.8z" fill="#6b83f6"/><path d="M318.5 27.8 319.1 27.8 322.1 23.1 321.5 23z" fill="#c13838"/><path d="M325.9 30.7 326.5 31.2 329.5 25.9 328.9 25.4z" fill="#f55252"/><path d="M319.1 27.8 319.7 27.9 322.7 23.1 322.1 23.1z" fill="#b33636"/><path d="M325.3 30.2 325.9 30.7 328.9 25.4 328.3 25z" fill="#dd4d4d"/><path d="M319.7 27.9 320.4 28 323.4 23.2 322.7 23.1z" fill="#c33c3c"/><path d="M324.7 29.8 325.3 30.2 328.3 25 327.7 24.6z" fill="#e65050"/><path d="M320.4 28 321 28.1 324 23.3 323.4 23.2z" fill="#b53939"/><path d="M324.1 29.4 324.7 29.8 327.7 24.6 327.1 24.3z" fill="#cf4a4a"/><path d="M321 28.1 321.6 28.2 324.6 23.4 324 23.3z" fill="#c43e3e"/><path d="M297.6 65.9 298.2 62.9 301.2 55.5 300.6 60z" fill="#5c60d1"/><path d="M323.4 29 324.1 29.4 327.1 24.3 326.4 23.9z" fill="#d84e4e"/><path d="M321.6 28.2 322.2 28.4 325.2 23.5 324.6 23.4z" fill="#b63b3b"/><path d="M322.8 28.7 323.4 29 326.4 23.9 325.8 23.7z" fill="#c34848"/><path d="M322.2 28.4 322.8 28.7 325.8 23.7 325.2 23.5z" fill="#ca4545"/><path d="M287.8 59.8 288.4 59 291.4 54.2 290.8 55z" fill="#4f7bbe"/><path d="M290.8 59.7 291.4 60.5 294.4 55.8 293.8 54.9z" fill="#6e99ed"/><path d="M288.4 59 289 58.2 292 53.5 291.4 54.2z" fill="#558fce"/><path d="M290.2 58.8 290.8 59.7 293.8 54.9 293.2 54.1z" fill="#75b0ff"/><path d="M289.6 58 290.2 58.8 293.2 54.1 292.6 53.2z" fill="#6caeed"/><path d="M289 58.2 289.4 57.7 292.4 52.9 292 53.5z" fill="#4d8bbe"/><path d="M336.5 76.1 336.9 76.7 339.9 72 339.5 71.2z" fill="#7a7af1"/><path d="M289.4 57.7 289.6 58 292.6 53.2 292.4 52.9z" fill="#73c3ff"/><path d="M336.9 76.7 337.1 75.4 340.1 70.6 339.9 72z" fill="#5f5fc7"/><path d="M335.9 75.1 336.5 76.1 339.5 71.2 338.9 70.1z" fill="#7272df"/><path d="M335.2 73.7 335.9 75.1 338.9 70.1 338.2 68.6z" fill="#7474ee"/><path d="M298.2 62.9 298.9 58.5 301.9 50.9 301.2 55.5z" fill="#5e9ce4"/><path d="M334.6 72.2 335.2 73.7 338.2 68.6 337.6 66.8z" fill="#6969da"/><path d="M337.1 75.4 337.7 71.3 340.7 66.5 340.1 70.6z" fill="#6767d8"/><path d="M346.3 76.1 346.5 77.3 349.5 72.5 349.3 71.3z" fill="#6e6ee6"/><path d="M346.5 77.3 346.9 74.7 349.9 69.9 349.5 72.5z" fill="#5f5fc6"/><path d="M334 70 334.6 72.2 337.6 66.8 337 64.3z" fill="#7070ea"/><path d="M345.7 72.5 346.3 76.1 349.3 71.3 348.7 67.8z" fill="#6565d3"/><path d="M298.9 58.5 299.5 54.2 302.5 47.1 301.9 50.9z" fill="#50c5d1"/><path d="M333.4 67.8 334 70 337 64.3 336.4 61.9z" fill="#6767d7"/><path d="M337.7 71.3 338.3 67.8 341.3 63 340.7 66.5z" fill="#5f5fc6"/><path d="M346.9 74.7 347.6 70.8 350.6 66 349.9 69.9z" fill="#6767d8"/><path d="M345.1 68.9 345.7 72.5 348.7 67.8 348.1 64.2z" fill="#6e6ee6"/><path d="M332.8 64.7 333.4 67.8 336.4 61.9 335.8 57.4z" fill="#6c70f3"/><path d="M338.3 67.8 338.9 65.5 341.9 60.7 341.3 63z" fill="#6464d6"/><path d="M299.5 54.2 300.1 51 303.1 43.7 302.5 47.1z" fill="#7ae1b7"/><path d="M347.6 70.8 348.2 67.6 351.2 62.8 350.6 66z" fill="#5e5ec5"/><path d="M344.5 66.5 345.1 68.9 348.1 64.2 347.5 61.8z" fill="#6666d6"/><path d="M338.9 65.5 339.6 63.1 342.6 58.4 341.9 60.7z" fill="#596dcd"/><path d="M332.1 60.3 332.8 64.7 335.8 57.4 335.1 52.7z" fill="#5c98df"/><path d="M300.1 51 300.7 47.9 303.7 41.1 303.1 43.7z" fill="#99ce7a"/><path d="M343.9 64.2 344.5 66.5 347.5 61.8 346.9 59.4z" fill="#6c78f6"/><path d="M348.2 67.6 348.8 65.8 351.8 61 351.2 62.8z" fill="#6262d9"/><path d="M339.6 63.1 340.2 62.3 343.2 57.6 342.6 58.4z" fill="#577fce"/><path d="M343.2 62.8 343.9 64.2 346.9 59.4 346.2 58z" fill="#668ae8"/><path d="M340.2 62.3 340.8 61.5 343.8 56.8 343.2 57.6z" fill="#4f7ebe"/><path d="M348.8 65.8 349.4 64 352.4 59.2 351.8 61z" fill="#576bca"/><path d="M342.6 61.9 343.2 62.8 346.2 58 345.6 57.2z" fill="#76acff"/><path d="M300.7 47.9 301.3 45.6 304.3 39 303.7 41.1z" fill="#cbdd57"/><path d="M340.8 61.5 341.4 60.8 344.4 56 343.8 56.8z" fill="#5492ce"/><path d="M342 61.1 342.6 61.9 345.6 57.2 345 56.3z" fill="#6caaed"/><path d="M341.6 60.5 342 61.1 345 56.3 344.6 55.7z" fill="#73c1ff"/><path d="M341.4 60.8 341.6 60.5 344.6 55.7 344.4 56z" fill="#4d8dbe"/><path d="M331.5 55.9 332.1 60.3 335.1 52.7 334.5 48.8z" fill="#5de5f3"/><path d="M349.4 64 350 62.7 353 57.9 352.4 59.2z" fill="#5a83d5"/><path d="M301.3 45.6 301.9 43.6 304.9 37.4 304.3 39z" fill="#c8bb3c"/><path d="M350 62.7 350.6 62.4 353.6 57.6 353 57.9z" fill="#588cd4"/><path d="M350.6 62.4 351.3 62.1 354.3 57.4 353.6 57.6z" fill="#5f9ce6"/><path d="M351.3 62.1 351.9 61.8 354.9 57.1 354.3 57.4z" fill="#5793d4"/><path d="M301.9 43.6 302.6 42.2 305.6 36.1 304.9 37.4z" fill="#d5ad3d"/><path d="M351.9 61.8 352.5 61.5 355.5 56.8 354.9 57.1z" fill="#5ea4e6"/><path d="M330.9 52.7 331.5 55.9 334.5 48.8 333.9 45.4z" fill="#7ae1b7"/><path d="M281.5 78.7 281.7 77.5 284.7 72.7 284.5 73.9z" fill="#5f5fc6"/><path d="M281.1 76 281.5 78.7 284.5 73.9 284.1 71.3z" fill="#6e6ee5"/><path d="M302.6 42.2 303.2 40.9 306.2 35 305.6 36.1z" fill="#c18a35"/><path d="M303.2 40.9 303.8 39.9 306.8 34.2 306.2 35z" fill="#cd8137"/><path d="M281.7 77.5 282.3 74 285.3 69.2 284.7 72.7z" fill="#6767d7"/><path d="M330.3 49.5 330.9 52.7 333.9 45.4 333.3 42.7z" fill="#b6f691"/><path d="M291.1 79.2 291.5 78.6 294.5 73.8 294.1 74.4z" fill="#5555b2"/><path d="M290.9 77.8 291.1 79.2 294.1 74.4 293.9 73z" fill="#6d6de5"/><path d="M303.8 39.9 304.4 39.1 307.4 33.4 306.8 34.2z" fill="#bf6a32"/><path d="M280.4 72.1 281.1 76 284.1 71.3 283.4 67.3z" fill="#6565d3"/><path d="M291.5 78.6 292.1 77.8 295.1 72.9 294.5 73.8z" fill="#5d5dc2"/><path d="M304.4 39.1 305 38.3 308 32.7 307.4 33.4z" fill="#d16636"/><path d="M329.7 47.2 330.3 49.5 333.3 42.7 332.7 40.5z" fill="#d1e45a"/><path d="M292.1 77.8 292.8 76.7 295.8 71.5 295.1 72.9z" fill="#5858b8"/><path d="M305 38.3 305.6 37.6 308.6 32 308 32.7z" fill="#c25331"/><path d="M290.3 73.6 290.9 77.8 293.9 73 293.3 68.9z" fill="#6565d2"/><path d="M282.3 74 282.9 70.5 285.9 65.7 285.3 69.2z" fill="#5f5fc6"/><path d="M305.6 37.6 306.2 36.9 309.2 31.4 308.6 32z" fill="#d54f35"/><path d="M292.8 76.7 293.4 75.4 296.4 70.1 295.8 71.5z" fill="#6161ca"/><path d="M329.1 45.1 329.7 47.2 332.7 40.5 332.1 38.9z" fill="#faea4b"/><path d="M279.8 68.8 280.4 72.1 283.4 67.3 282.8 64z" fill="#6e6ee6"/><path d="M306.2 36.9 306.9 36.3 309.9 30.7 309.2 31.4z" fill="#c53d30"/><path d="M306.9 36.3 307.5 35.7 310.5 30.3 309.9 30.7z" fill="#da3934"/><path d="M328.4 43.6 329.1 45.1 332.1 38.9 331.4 37.5z" fill="#eac049"/><path d="M293.4 75.4 294 73.8 297 68 296.4 70.1z" fill="#5b5bbf"/><path d="M307.5 35.7 308.1 35.2 311.1 29.9 310.5 30.3z" fill="#c83030"/><path d="M282.9 70.5 283.5 68.2 286.5 63.4 285.9 65.7z" fill="#6565d3"/><path d="M279.2 66.9 279.8 68.8 282.8 64 282.2 62.2z" fill="#6666e2"/><path d="M308.1 35.2 308.7 34.8 311.7 29.5 311.1 29.9z" fill="#d23333"/><path d="M289.7 70.1 290.3 73.6 293.3 68.9 292.7 65.3z" fill="#6e6ee6"/><path d="M327.8 42.3 328.4 43.6 331.4 37.5 330.8 36.4z" fill="#ffba50"/><path d="M308.7 34.8 309.3 34.3 312.3 29.1 311.7 29.5z" fill="#bb2f2f"/><path d="M327.2 41.1 327.8 42.3 330.8 36.4 330.2 35.5z" fill="#ed9c4d"/><path d="M309.3 34.3 309.9 33.9 312.9 28.8 312.3 29.1z" fill="#c63333"/><path d="M294 73.8 294.6 71.8 297.6 65.9 297 68z" fill="#6464d1"/><path d="M278.6 65.1 279.2 66.9 282.2 62.2 281.6 60.3z" fill="#6c83f8"/><path d="M326.6 40.3 327.2 41.1 330.2 35.5 329.6 34.6z" fill="#ff9a54"/><path d="M309.9 33.9 310.6 33.6 313.6 28.5 312.9 28.8z" fill="#b22f2f"/><path d="M326 39.4 326.6 40.3 329.6 34.6 329 33.8z" fill="#ef814f"/><path d="M310.6 33.6 311.2 33.3 314.2 28.2 313.6 28.5z" fill="#bb3232"/><path d="M283.5 68.2 284.1 65.8 287.1 61.1 286.5 63.4z" fill="#5a64cd"/><path d="M289.1 67.7 289.7 70.1 292.7 65.3 292.1 62.9z" fill="#6666d9"/><path d="M325.4 38.6 326 39.4 329 33.8 328.4 33.1z" fill="#ff7d54"/><path d="M311.2 33.3 311.8 33 314.8 28 314.2 28.2z" fill="#a92e2e"/><path d="M278 63.7 278.6 65.1 281.6 60.3 281 58.9z" fill="#6590e8"/><path d="M324.8 37.9 325.4 38.6 328.4 33.1 327.8 32.4z" fill="#f1694f"/><path d="M311.8 33 312.4 32.8 315.4 27.9 314.8 28z" fill="#b83333"/><path d="M277.4 63.3 278 63.7 281 58.9 280.4 58.6z" fill="#7ab3ff"/><path d="M276.7 63 277.4 63.3 280.4 58.6 279.7 58.2z" fill="#71aaf0"/><path d="M312.4 32.8 313 32.7 316 27.9 315.4 27.9z" fill="#ac3030"/><path d="M324.1 37.2 324.8 37.9 327.8 32.4 327.1 31.7z" fill="#ff6353"/><path d="M276.1 62.6 276.7 63 279.7 58.2 279.1 57.9z" fill="#79bbff"/><path d="M294.6 71.8 295.2 69.8 298.2 62.9 297.6 65.9z" fill="#5d5dc2"/><path d="M275.5 62.3 276.1 62.6 279.1 57.9 278.5 57.5z" fill="#70b2f0"/><path d="M313 32.7 313.6 32.6 316.6 27.8 316 27.9z" fill="#bb3434"/><path d="M323.5 36.5 324.1 37.2 327.1 31.7 326.5 31.2z" fill="#f1544f"/><path d="M313.6 32.6 314.3 32.6 317.3 27.8 316.6 27.8z" fill="#ac3030"/><path d="M322.9 36 323.5 36.5 326.5 31.2 325.9 30.7z" fill="#ff5353"/><path d="M284.1 65.8 284.8 64.5 287.8 59.8 287.1 61.1z" fill="#5b7dd6"/><path d="M314.3 32.6 314.9 32.5 317.9 27.8 317.3 27.8z" fill="#bc3535"/><path d="M322.3 35.5 322.9 36 325.9 30.7 325.3 30.2z" fill="#e54e4e"/><path d="M314.9 32.5 315.5 32.5 318.5 27.8 317.9 27.8z" fill="#ae3131"/><path d="M288.4 65.3 289.1 67.7 292.1 62.9 291.4 60.5z" fill="#6b83f6"/><path d="M321.7 35 322.3 35.5 325.3 30.2 324.7 29.8z" fill="#ef5151"/><path d="M315.5 32.5 316.1 32.6 319.1 27.8 318.5 27.8z" fill="#c23a3a"/><path d="M316.1 32.6 316.7 32.7 319.7 27.9 319.1 27.8z" fill="#b43838"/><path d="M321.1 34.5 321.7 35 324.7 29.8 324.1 29.4z" fill="#d64c4c"/><path d="M316.7 32.7 317.4 32.8 320.4 28 319.7 27.9z" fill="#c43e3e"/><path d="M320.4 34.1 321.1 34.5 324.1 29.4 323.4 29z" fill="#df4f4f"/><path d="M317.4 32.8 318 33 321 28.1 320.4 28z" fill="#b63a3a"/><path d="M319.8 33.8 320.4 34.1 323.4 29 322.8 28.7z" fill="#c94a4a"/><path d="M318 33 318.6 33.1 321.6 28.2 321 28.1z" fill="#c53f3f"/><path d="M319.2 33.4 319.8 33.8 322.8 28.7 322.2 28.4z" fill="#d24c4c"/><path d="M318.6 33.1 319.2 33.4 322.2 28.4 321.6 28.2z" fill="#bb4242"/><path d="M284.8 64.5 285.4 63.7 288.4 59 287.8 59.8z" fill="#4f7bbe"/><path d="M287.8 64.4 288.4 65.3 291.4 60.5 290.8 59.7z" fill="#6e99ed"/><path d="M285.4 63.7 286 63 289 58.2 288.4 59z" fill="#558fce"/><path d="M287.2 63.6 287.8 64.4 290.8 59.7 290.2 58.8z" fill="#75b0ff"/><path d="M295.2 69.8 295.9 66.3 298.9 58.5 298.2 62.9z" fill="#627ae3"/><path d="M286.6 62.7 287.2 63.6 290.2 58.8 289.6 58z" fill="#6caeed"/><path d="M286 63 286.4 62.4 289.4 57.7 289 58.2z" fill="#4d8bbe"/><path d="M333.5 80.9 333.9 81.5 336.9 76.7 336.5 76.1z" fill="#7c7cf2"/><path d="M286.4 62.4 286.6 62.7 289.6 58 289.4 57.7z" fill="#73c3ff"/><path d="M333.9 81.5 334.1 80.1 337.1 75.4 336.9 76.7z" fill="#5f5fc7"/><path d="M332.9 80 333.5 80.9 336.5 76.1 335.9 75.1z" fill="#7373e0"/><path d="M332.2 78.8 332.9 80 335.9 75.1 335.2 73.7z" fill="#7777f0"/><path d="M331.6 77.5 332.2 78.8 335.2 73.7 334.6 72.2z" fill="#6c6cdc"/><path d="M334.1 80.1 334.7 76 337.7 71.3 337.1 75.4z" fill="#6767d8"/><path d="M343.3 80.8 343.5 82 346.5 77.3 346.3 76.1z" fill="#6e6ee6"/><path d="M295.9 66.3 296.5 62.2 299.5 54.2 298.9 58.5z" fill="#54a0d1"/><path d="M331 75.8 331.6 77.5 334.6 72.2 334 70z" fill="#7070eb"/><path d="M343.5 82 343.9 79.4 346.9 74.7 346.5 77.3z" fill="#5f5fc6"/><path d="M342.7 77.3 343.3 80.8 346.3 76.1 345.7 72.5z" fill="#6565d3"/><path d="M330.4 73.7 331 75.8 334 70 333.4 67.8z" fill="#6767d8"/><path d="M334.7 76 335.3 72.5 338.3 67.8 337.7 71.3z" fill="#5f5fc6"/><path d="M343.9 79.4 344.6 75.5 347.6 70.8 346.9 74.7z" fill="#6767d8"/><path d="M296.5 62.2 297.1 58.4 300.1 51 299.5 54.2z" fill="#56e2e0"/><path d="M329.8 71.7 330.4 73.7 333.4 67.8 332.8 64.7z" fill="#6f6fe9"/><path d="M342.1 73.7 342.7 77.3 345.7 72.5 345.1 68.9z" fill="#6e6ee6"/><path d="M335.3 72.5 335.9 70.2 338.9 65.5 338.3 67.8z" fill="#6464d6"/><path d="M329.1 68.1 329.8 71.7 332.8 64.7 332.1 60.3z" fill="#6178e0"/><path d="M297.1 58.4 297.7 55.5 300.7 47.9 300.1 51z" fill="#78ce9f"/><path d="M344.6 75.5 345.2 72.3 348.2 67.6 347.6 70.8z" fill="#5e5ec5"/><path d="M341.5 71.3 342.1 73.7 345.1 68.9 344.5 66.5z" fill="#6666d6"/><path d="M335.9 70.2 336.6 67.9 339.6 63.1 338.9 65.5z" fill="#596dcd"/><path d="M340.9 68.9 341.5 71.3 344.5 66.5 343.9 64.2z" fill="#6c78f6"/><path d="M345.2 72.3 345.8 70.5 348.8 65.8 348.2 67.6z" fill="#6262d9"/><path d="M297.7 55.5 298.3 52.6 301.3 45.6 300.7 47.9z" fill="#aadf7e"/><path d="M328.5 64 329.1 68.1 332.1 60.3 331.5 55.9z" fill="#62baf3"/><path d="M336.6 67.9 337.2 67.1 340.2 62.3 339.6 63.1z" fill="#577fce"/><path d="M340.2 67.5 340.9 68.9 343.9 64.2 343.2 62.8z" fill="#668ae8"/><path d="M337.2 67.1 337.8 66.3 340.8 61.5 340.2 62.3z" fill="#4f7ebe"/><path d="M345.8 70.5 346.4 68.7 349.4 64 348.8 65.8z" fill="#576bca"/><path d="M339.6 66.7 340.2 67.5 343.2 62.8 342.6 61.9z" fill="#76acff"/><path d="M337.8 66.3 338.4 65.5 341.4 60.8 340.8 61.5z" fill="#5492ce"/><path d="M298.3 52.6 298.9 50.5 301.9 43.6 301.3 45.6z" fill="#bbca4e"/><path d="M339 65.8 339.6 66.7 342.6 61.9 342 61.1z" fill="#6caaed"/><path d="M338.6 65.2 339 65.8 342 61.1 341.6 60.5z" fill="#73c1ff"/><path d="M338.4 65.5 338.6 65.2 341.6 60.5 341.4 60.8z" fill="#4d8dbe"/><path d="M346.4 68.7 347 67.4 350 62.7 349.4 64z" fill="#5a83d5"/><path d="M327.9 60.1 328.5 64 331.5 55.9 330.9 52.7z" fill="#56e1e0"/><path d="M298.9 50.5 299.6 48.5 302.6 42.2 301.9 43.6z" fill="#d8cb41"/><path d="M347 67.4 347.6 67.1 350.6 62.4 350 62.7z" fill="#588cd4"/><path d="M347.6 67.1 348.3 66.9 351.3 62.1 350.6 62.4z" fill="#5f9ce6"/><path d="M348.3 66.9 348.9 66.6 351.9 61.8 351.3 62.1z" fill="#5793d4"/><path d="M348.9 66.6 349.5 66.3 352.5 61.5 351.9 61.8z" fill="#5ea4e6"/><path d="M299.6 48.5 300.2 47.1 303.2 40.9 302.6 42.2z" fill="#c3a038"/><path d="M278.5 83.4 278.7 82.2 281.7 77.5 281.5 78.7z" fill="#5f5fc6"/><path d="M327.3 57.1 327.9 60.1 330.9 52.7 330.3 49.5z" fill="#8ef6bd"/><path d="M278.1 80.8 278.5 83.4 281.5 78.7 281.1 76z" fill="#6e6ee5"/><path d="M300.2 47.1 300.8 46 303.8 39.9 303.2 40.9z" fill="#d0973a"/><path d="M300.8 46 301.4 44.8 304.4 39.1 303.8 39.9z" fill="#bc7933"/><path d="M278.7 82.2 279.3 78.7 282.3 74 281.7 77.5z" fill="#6767d7"/><path d="M288.1 83.9 288.5 83.4 291.5 78.6 291.1 79.2z" fill="#5656b3"/><path d="M326.7 54.1 327.3 57.1 330.3 49.5 329.7 47.2z" fill="#ade381"/><path d="M287.9 82.5 288.1 83.9 291.1 79.2 290.9 77.8z" fill="#6d6de5"/><path d="M301.4 44.8 302 44.1 305 38.3 304.4 39.1z" fill="#d17737"/><path d="M277.4 76.8 278.1 80.8 281.1 76 280.4 72.1z" fill="#6565d3"/><path d="M288.5 83.4 289.1 82.7 292.1 77.8 291.5 78.6z" fill="#5d5dc3"/><path d="M302 44.1 302.6 43.3 305.6 37.6 305 38.3z" fill="#c06132"/><path d="M289.1 82.7 289.8 81.8 292.8 76.7 292.1 77.8z" fill="#5656b4"/><path d="M326.1 51.9 326.7 54.1 329.7 47.2 329.1 45.1z" fill="#e7f960"/><path d="M302.6 43.3 303.2 42.6 306.2 36.9 305.6 37.6z" fill="#d35d35"/><path d="M287.3 78.4 287.9 82.5 290.9 77.8 290.3 73.6z" fill="#6565d2"/><path d="M279.3 78.7 279.9 75.2 282.9 70.5 282.3 74z" fill="#5f5fc6"/><path d="M289.8 81.8 290.4 80.6 293.4 75.4 292.8 76.7z" fill="#6060c8"/><path d="M303.2 42.6 303.9 41.9 306.9 36.3 306.2 36.9z" fill="#c44b31"/><path d="M325.4 49.9 326.1 51.9 329.1 45.1 328.4 43.6z" fill="#e7d947"/><path d="M276.8 73.5 277.4 76.8 280.4 72.1 279.8 68.8z" fill="#6e6ee6"/><path d="M303.9 41.9 304.5 41.3 307.5 35.7 306.9 36.3z" fill="#d64634"/><path d="M290.4 80.6 291 79.5 294 73.8 293.4 75.4z" fill="#5959ba"/><path d="M304.5 41.3 305.1 40.7 308.1 35.2 307.5 35.7z" fill="#c83730"/><path d="M324.8 48.4 325.4 49.9 328.4 43.6 327.8 42.3z" fill="#fed250"/><path d="M305.1 40.7 305.7 40.1 308.7 34.8 308.1 35.2z" fill="#da3434"/><path d="M324.2 47.2 324.8 48.4 327.8 42.3 327.2 41.1z" fill="#ecaf4c"/><path d="M279.9 75.2 280.5 72.9 283.5 68.2 282.9 70.5z" fill="#6565d3"/><path d="M276.2 71.7 276.8 73.5 279.8 68.8 279.2 66.9z" fill="#6666e2"/><path d="M286.7 74.8 287.3 78.4 290.3 73.6 289.7 70.1z" fill="#6e6ee6"/><path d="M305.7 40.1 306.3 39.7 309.3 34.3 308.7 34.8z" fill="#c32f2f"/><path d="M291 79.5 291.6 77.7 294.6 71.8 294 73.8z" fill="#6363cf"/><path d="M323.6 46 324.2 47.2 327.2 41.1 326.6 40.3z" fill="#ffab53"/><path d="M306.3 39.7 306.9 39.2 309.9 33.9 309.3 34.3z" fill="#cd3333"/><path d="M323 45.2 323.6 46 326.6 40.3 326 39.4z" fill="#f09250"/><path d="M306.9 39.2 307.6 38.8 310.6 33.6 309.9 33.9z" fill="#b72f2f"/><path d="M275.6 69.8 276.2 71.7 279.2 66.9 278.6 65.1z" fill="#6c83f8"/><path d="M322.4 44.4 323 45.2 326 39.4 325.4 38.6z" fill="#ff8e55"/><path d="M307.6 38.8 308.2 38.5 311.2 33.3 310.6 33.6z" fill="#c23333"/><path d="M291.6 77.7 292.2 75.9 295.2 69.8 294.6 71.8z" fill="#5b5bbe"/><path d="M321.8 43.6 322.4 44.4 325.4 38.6 324.8 37.9z" fill="#f07850"/><path d="M280.5 72.9 281.1 70.6 284.1 65.8 283.5 68.2z" fill="#5a64cd"/><path d="M308.2 38.5 308.8 38.1 311.8 33 311.2 33.3z" fill="#ac2e2e"/><path d="M286.1 72.4 286.7 74.8 289.7 70.1 289.1 67.7z" fill="#6666d9"/><path d="M321.1 42.8 321.8 43.6 324.8 37.9 324.1 37.2z" fill="#ff7454"/><path d="M275 68.4 275.6 69.8 278.6 65.1 278 63.7z" fill="#6590e8"/><path d="M308.8 38.1 309.4 37.8 312.4 32.8 311.8 33z" fill="#b73232"/><path d="M320.5 42.2 321.1 42.8 324.1 37.2 323.5 36.5z" fill="#f1614f"/><path d="M309.4 37.8 310 37.5 313 32.7 312.4 32.8z" fill="#a92f2f"/><path d="M274.4 68.1 275 68.4 278 63.7 277.4 63.3z" fill="#7ab3ff"/><path d="M273.7 67.7 274.4 68.1 277.4 63.3 276.7 63z" fill="#71aaf0"/><path d="M273.1 67.4 273.7 67.7 276.7 63 276.1 62.6z" fill="#79bbff"/><path d="M319.9 41.5 320.5 42.2 323.5 36.5 322.9 36z" fill="#ff5c54"/><path d="M272.5 67 273.1 67.4 276.1 62.6 275.5 62.3z" fill="#70b2f0"/><path d="M310 37.5 310.6 37.5 313.6 32.6 313 32.7z" fill="#ba3434"/><path d="M319.3 40.9 319.9 41.5 322.9 36 322.3 35.5z" fill="#f04f4f"/><path d="M310.6 37.5 311.3 37.4 314.3 32.6 313.6 32.6z" fill="#ac3030"/><path d="M318.7 40.4 319.3 40.9 322.3 35.5 321.7 35z" fill="#f95353"/><path d="M311.3 37.4 311.9 37.3 314.9 32.5 314.3 32.6z" fill="#bb3434"/><path d="M281.1 70.6 281.8 69.3 284.8 64.5 284.1 65.8z" fill="#5b7dd6"/><path d="M318.1 39.8 318.7 40.4 321.7 35 321.1 34.5z" fill="#e04e4e"/><path d="M311.9 37.3 312.5 37.2 315.5 32.5 314.9 32.5z" fill="#ad3030"/><path d="M317.4 39.3 318.1 39.8 321.1 34.5 320.4 34.1z" fill="#e85151"/><path d="M292.2 75.9 292.9 74.1 295.9 66.3 295.2 69.8z" fill="#6464d7"/><path d="M285.4 70 286.1 72.4 289.1 67.7 288.4 65.3z" fill="#6b83f6"/><path d="M312.5 37.2 313.1 37.4 316.1 32.6 315.5 32.5z" fill="#c33d3d"/><path d="M316.8 38.9 317.4 39.3 320.4 34.1 319.8 33.8z" fill="#d14b4b"/><path d="M313.1 37.4 313.7 37.5 316.7 32.7 316.1 32.6z" fill="#b63b3b"/><path d="M316.2 38.5 316.8 38.9 319.8 33.8 319.2 33.4z" fill="#da4f4f"/><path d="M313.7 37.5 314.4 37.7 317.4 32.8 316.7 32.7z" fill="#c54040"/><path d="M314.4 37.7 315 37.8 318 33 317.4 32.8z" fill="#b73c3c"/><path d="M315.6 38.1 316.2 38.5 319.2 33.4 318.6 33.1z" fill="#c44949"/><path d="M315 37.8 315.6 38.1 318.6 33.1 318 33z" fill="#cb4747"/><path d="M281.8 69.3 282.4 68.5 285.4 63.7 284.8 64.5z" fill="#4f7bbe"/><path d="M284.8 69.2 285.4 70 288.4 65.3 287.8 64.4z" fill="#6e99ed"/><path d="M282.4 68.5 283 67.7 286 63 285.4 63.7z" fill="#558fce"/><path d="M284.2 68.3 284.8 69.2 287.8 64.4 287.2 63.6z" fill="#75b0ff"/><path d="M283.6 67.5 284.2 68.3 287.2 63.6 286.6 62.7z" fill="#6caeed"/><path d="M283 67.7 283.4 67.2 286.4 62.4 286 63z" fill="#4d8bbe"/><path d="M330.5 85.7 330.9 86.2 333.9 81.5 333.5 80.9z" fill="#7e7ef3"/><path d="M283.4 67.2 283.6 67.5 286.6 62.7 286.4 62.4z" fill="#73c3ff"/><path d="M330.9 86.2 331.1 84.9 334.1 80.1 333.9 81.5z" fill="#5f5fc7"/><path d="M329.9 84.9 330.5 85.7 333.5 80.9 332.9 80z" fill="#7575e2"/><path d="M292.9 74.1 293.5 70.4 296.5 62.2 295.9 66.3z" fill="#597ad0"/><path d="M329.2 83.9 329.9 84.9 332.9 80 332.2 78.8z" fill="#7b7bf2"/><path d="M328.6 82.7 329.2 83.9 332.2 78.8 331.6 77.5z" fill="#6e6edd"/><path d="M328 81.5 328.6 82.7 331.6 77.5 331 75.8z" fill="#7575ef"/><path d="M331.1 84.9 331.7 80.8 334.7 76 334.1 80.1z" fill="#6767d8"/><path d="M340.3 85.6 340.5 86.8 343.5 82 343.3 80.8z" fill="#6e6ee6"/><path d="M340.5 86.8 340.9 84.2 343.9 79.4 343.5 82z" fill="#5f5fc6"/><path d="M293.5 70.4 294.1 66.7 297.1 58.4 296.5 62.2z" fill="#5ab6e2"/><path d="M327.4 79.6 328 81.5 331 75.8 330.4 73.7z" fill="#6868d9"/><path d="M339.7 82 340.3 85.6 343.3 80.8 342.7 77.3z" fill="#6565d3"/><path d="M326.8 77.8 327.4 79.6 330.4 73.7 329.8 71.7z" fill="#7171ec"/><path d="M331.7 80.8 332.3 77.3 335.3 72.5 334.7 76z" fill="#5f5fc6"/><path d="M340.9 84.2 341.6 80.3 344.6 75.5 343.9 79.4z" fill="#6767d8"/><path d="M294.1 66.7 294.7 63.2 297.7 55.5 297.1 58.4z" fill="#52cfc9"/><path d="M326.1 75.9 326.8 77.8 329.8 71.7 329.1 68.1z" fill="#6666da"/><path d="M339.1 78.4 339.7 82 342.7 77.3 342.1 73.7z" fill="#6e6ee6"/><path d="M332.3 77.3 332.9 75 335.9 70.2 335.3 72.5z" fill="#6464d6"/><path d="M341.6 80.3 342.2 77.1 345.2 72.3 344.6 75.5z" fill="#5e5ec5"/><path d="M325.5 72.1 326.1 75.9 329.1 68.1 328.5 64z" fill="#688ef4"/><path d="M294.7 63.2 295.3 60.5 298.3 52.6 297.7 55.5z" fill="#82dfab"/><path d="M338.5 76 339.1 78.4 342.1 73.7 341.5 71.3z" fill="#6666d6"/><path d="M332.9 75 333.6 72.6 336.6 67.9 335.9 70.2z" fill="#596dcd"/><path d="M337.9 73.7 338.5 76 341.5 71.3 340.9 68.9z" fill="#6c78f6"/><path d="M342.2 77.1 342.8 75.3 345.8 70.5 345.2 72.3z" fill="#6262d9"/><path d="M295.3 60.5 295.9 57.8 298.9 50.5 298.3 52.6z" fill="#9acc75"/><path d="M333.6 72.6 334.2 71.8 337.2 67.1 336.6 67.9z" fill="#577fce"/><path d="M324.9 68.4 325.5 72.1 328.5 64 327.9 60.1z" fill="#59b5e1"/><path d="M337.2 72.3 337.9 73.7 340.9 68.9 340.2 67.5z" fill="#668ae8"/><path d="M334.2 71.8 334.8 71 337.8 66.3 337.2 67.1z" fill="#4f7ebe"/><path d="M342.8 75.3 343.4 73.5 346.4 68.7 345.8 70.5z" fill="#576bca"/><path d="M336.6 71.4 337.2 72.3 340.2 67.5 339.6 66.7z" fill="#76acff"/><path d="M295.9 57.8 296.6 55.7 299.6 48.5 298.9 50.5z" fill="#c7db59"/><path d="M334.8 71 335.4 70.3 338.4 65.5 337.8 66.3z" fill="#5492ce"/><path d="M336 70.6 336.6 71.4 339.6 66.7 339 65.8z" fill="#6caaed"/><path d="M335.6 70 336 70.6 339 65.8 338.6 65.2z" fill="#73c1ff"/><path d="M335.4 70.3 335.6 70 338.6 65.2 338.4 65.5z" fill="#4d8dbe"/><path d="M343.4 73.5 344 72.2 347 67.4 346.4 68.7z" fill="#5a83d5"/><path d="M324.3 64.8 324.9 68.4 327.9 60.1 327.3 57.1z" fill="#62f5ef"/><path d="M296.6 55.7 297.2 53.8 300.2 47.1 299.6 48.5z" fill="#c6be3c"/><path d="M344 72.2 344.6 71.9 347.6 67.1 347 67.4z" fill="#588cd4"/><path d="M344.6 71.9 345.3 71.6 348.3 66.9 347.6 67.1z" fill="#5f9ce6"/><path d="M345.3 71.6 345.9 71.3 348.9 66.6 348.3 66.9z" fill="#5793d4"/><path d="M297.2 53.8 297.8 52.3 300.8 46 300.2 47.1z" fill="#d4b33e"/><path d="M345.9 71.3 346.5 71 349.5 66.3 348.9 66.6z" fill="#5ea4e6"/><path d="M323.7 62 324.3 64.8 327.3 57.1 326.7 54.1z" fill="#84e3ae"/><path d="M297.8 52.3 298.4 51.2 301.4 44.8 300.8 46z" fill="#bf8f36"/><path d="M298.4 51.2 299 50.1 302 44.1 301.4 44.8z" fill="#cc8838"/><path d="M323.1 59.2 323.7 62 326.7 54.1 326.1 51.9z" fill="#bbf88f"/><path d="M299 50.1 299.6 49.2 302.6 43.3 302 44.1z" fill="#bf7133"/><path d="M299.6 49.2 300.2 48.5 303.2 42.6 302.6 43.3z" fill="#d26f37"/><path d="M322.4 57.1 323.1 59.2 326.1 51.9 325.4 49.9z" fill="#d1e65d"/><path d="M300.2 48.5 300.9 47.7 303.9 41.9 303.2 42.6z" fill="#c35b32"/><path d="M300.9 47.7 301.5 47 304.5 41.3 303.9 41.9z" fill="#d55735"/><path d="M321.8 55.2 322.4 57.1 325.4 49.9 324.8 48.4z" fill="#fcf24f"/><path d="M301.5 47 302.1 46.4 305.1 40.7 304.5 41.3z" fill="#c54530"/><path d="M321.2 53.5 321.8 55.2 324.8 48.4 324.2 47.2z" fill="#eac74a"/><path d="M302.1 46.4 302.7 45.8 305.7 40.1 305.1 40.7z" fill="#d84034"/><path d="M320.6 52.4 321.2 53.5 324.2 47.2 323.6 46z" fill="#ffc353"/><path d="M302.7 45.8 303.3 45.1 306.3 39.7 305.7 40.1z" fill="#c8312f"/><path d="M303.3 45.1 303.9 44.7 306.9 39.2 306.3 39.7z" fill="#d73434"/><path d="M320 51.2 320.6 52.4 323.6 46 323 45.2z" fill="#eea550"/><path d="M303.9 44.7 304.6 44.2 307.6 38.8 306.9 39.2z" fill="#be2f2f"/><path d="M319.4 50.3 320 51.2 323 45.2 322.4 44.4z" fill="#ffa356"/><path d="M318.8 49.5 319.4 50.3 322.4 44.4 321.8 43.6z" fill="#f08b51"/><path d="M304.6 44.2 305.2 43.8 308.2 38.5 307.6 38.8z" fill="#c83333"/><path d="M318.1 48.7 318.8 49.5 321.8 43.6 321.1 42.8z" fill="#ff8756"/><path d="M305.2 43.8 305.8 43.4 308.8 38.1 308.2 38.5z" fill="#b22e2e"/><path d="M317.5 47.9 318.1 48.7 321.1 42.8 320.5 42.2z" fill="#f17250"/><path d="M305.8 43.4 306.4 43 309.4 37.8 308.8 38.1z" fill="#bb3232"/><path d="M316.9 47.2 317.5 47.9 320.5 42.2 319.9 41.5z" fill="#ff6d54"/><path d="M306.4 43 307 42.6 310 37.5 309.4 37.8z" fill="#a72e2e"/><path d="M316.3 46.5 316.9 47.2 319.9 41.5 319.3 40.9z" fill="#f15c50"/><path d="M315.7 45.8 316.3 46.5 319.3 40.9 318.7 40.4z" fill="#ff5653"/><path d="M307 42.6 307.6 42.3 310.6 37.5 310 37.5z" fill="#b63333"/><path d="M315.1 45.3 315.7 45.8 318.7 40.4 318.1 39.8z" fill="#eb4f4f"/><path d="M307.6 42.3 308.3 42.2 311.3 37.4 310.6 37.5z" fill="#ab3030"/><path d="M314.4 44.8 315.1 45.3 318.1 39.8 317.4 39.3z" fill="#f45252"/><path d="M308.3 42.2 308.9 42.1 311.9 37.3 311.3 37.4z" fill="#ba3434"/><path d="M313.8 44.2 314.4 44.8 317.4 39.3 316.8 38.9z" fill="#db4d4d"/><path d="M313.2 43.8 313.8 44.2 316.8 38.9 316.2 38.5z" fill="#e35050"/><path d="M308.9 42.1 309.5 42 312.5 37.2 311.9 37.3z" fill="#ab3030"/><path d="M312.6 43.3 313.2 43.8 316.2 38.5 315.6 38.1z" fill="#cc4b4b"/><path d="M309.5 42 310.1 42.2 313.1 37.4 312.5 37.2z" fill="#c64040"/><path d="M310.1 42.2 310.7 42.3 313.7 37.5 313.1 37.4z" fill="#b73d3d"/><path d="M312 42.9 312.6 43.3 315.6 38.1 315 37.8z" fill="#d44e4e"/><path d="M310.7 42.3 311.4 42.5 314.4 37.7 313.7 37.5z" fill="#c64242"/><path d="M311.4 42.5 312 42.9 315 37.8 314.4 37.7z" fill="#bd4545"/></g>
<g shape-rendering="crispEdges">
<g><rect x="406.3" y="22.00" width="37.15" height="1.80" fill="url(#h0)"/><rect x="406.3" y="23.00" width="37.15" height="1.80" fill="url(#h1)"/><rect x="406.3" y="24.01" width="37.15" height="1.80" fill="url(#h2)"/><rect x="406.3" y="25.01" width="37.15" height="1.80" fill="url(#h3)"/><rect x="406.3" y="26.01" width="37.15" height="1.80" fill="url(#h4)"/><rect x="406.3" y="27.01" width="37.15" height="1.80" fill="url(#h5)"/><rect x="406.3" y="28.02" width="37.15" height="1.80" fill="url(#h6)"/><rect x="406.3" y="29.02" width="37.15" height="1.80" fill="url(#h7)"/><rect x="406.3" y="30.02" width="37.15" height="1.80" fill="url(#h8)"/><rect x="406.3" y="31.02" width="37.15" height="1.80" fill="url(#h9)"/><rect x="406.3" y="32.03" width="37.15" height="1.80" fill="url(#h10)"/><rect x="406.3" y="33.03" width="37.15" height="1.80" fill="url(#h11)"/><rect x="406.3" y="34.03" width="37.15" height="1.80" fill="url(#h12)"/><rect x="406.3" y="35.03" width="37.15" height="1.80" fill="url(#h13)"/><rect x="406.3" y="36.04" width="37.15" height="1.80" fill="url(#h14)"/><rect x="406.3" y="37.04" width="37.15" height="1.80" fill="url(#h15)"/><rect x="406.3" y="38.04" width="37.15" height="1.80" fill="url(#h16)"/><rect x="406.3" y="39.04" width="37.15" height="1.80" fill="url(#h17)"/><rect x="406.3" y="40.05" width="37.15" height="1.80" fill="url(#h18)"/><rect x="406.3" y="41.05" width="37.15" height="1.80" fill="url(#h19)"/><rect x="406.3" y="42.05" width="37.15" height="1.80" fill="url(#h20)"/><rect x="406.3" y="43.06" width="37.15" height="1.80" fill="url(#h21)"/><rect x="406.3" y="44.06" width="37.15" height="1.80" fill="url(#h22)"/><rect x="406.3" y="45.06" width="37.15" height="1.80" fill="url(#h23)"/><rect x="406.3" y="46.06" width="37.15" height="1.80" fill="url(#h24)"/><rect x="406.3" y="47.07" width="37.15" height="1.80" fill="url(#h25)"/><rect x="406.3" y="48.07" width="37.15" height="1.80" fill="url(#h26)"/><rect x="406.3" y="49.07" width="37.15" height="1.80" fill="url(#h27)"/><rect x="406.3" y="50.07" width="37.15" height="1.80" fill="url(#h28)"/><rect x="406.3" y="51.08" width="37.15" height="1.80" fill="url(#h29)"/><rect x="406.3" y="52.08" width="37.15" height="1.80" fill="url(#h30)"/><rect x="406.3" y="53.08" width="37.15" height="1.80" fill="url(#h31)"/><rect x="406.3" y="54.08" width="37.15" height="1.80" fill="url(#h32)"/><rect x="406.3" y="55.09" width="37.15" height="1.80" fill="url(#h33)"/><rect x="406.3" y="56.09" width="37.15" height="1.80" fill="url(#h34)"/><rect x="406.3" y="57.09" width="37.15" height="1.80" fill="url(#h35)"/><rect x="406.3" y="58.09" width="37.15" height="1.80" fill="url(#h36)"/><rect x="406.3" y="59.10" width="37.15" height="1.02" fill="url(#h37)"/></g>
<g transform="translate(886.30,0) scale(-1,1)"><rect x="406.3" y="22.00" width="37.15" height="1.80" fill="url(#h0)"/><rect x="406.3" y="23.00" width="37.15" height="1.80" fill="url(#h1)"/><rect x="406.3" y="24.01" width="37.15" height="1.80" fill="url(#h2)"/><rect x="406.3" y="25.01" width="37.15" height="1.80" fill="url(#h3)"/><rect x="406.3" y="26.01" width="37.15" height="1.80" fill="url(#h4)"/><rect x="406.3" y="27.01" width="37.15" height="1.80" fill="url(#h5)"/><rect x="406.3" y="28.02" width="37.15" height="1.80" fill="url(#h6)"/><rect x="406.3" y="29.02" width="37.15" height="1.80" fill="url(#h7)"/><rect x="406.3" y="30.02" width="37.15" height="1.80" fill="url(#h8)"/><rect x="406.3" y="31.02" width="37.15" height="1.80" fill="url(#h9)"/><rect x="406.3" y="32.03" width="37.15" height="1.80" fill="url(#h10)"/><rect x="406.3" y="33.03" width="37.15" height="1.80" fill="url(#h11)"/><rect x="406.3" y="34.03" width="37.15" height="1.80" fill="url(#h12)"/><rect x="406.3" y="35.03" width="37.15" height="1.80" fill="url(#h13)"/><rect x="406.3" y="36.04" width="37.15" height="1.80" fill="url(#h14)"/><rect x="406.3" y="37.04" width="37.15" height="1.80" fill="url(#h15)"/><rect x="406.3" y="38.04" width="37.15" height="1.80" fill="url(#h16)"/><rect x="406.3" y="39.04" width="37.15" height="1.80" fill="url(#h17)"/><rect x="406.3" y="40.05" width="37.15" height="1.80" fill="url(#h18)"/><rect x="406.3" y="41.05" width="37.15" height="1.80" fill="url(#h19)"/><rect x="406.3" y="42.05" width="37.15" height="1.80" fill="url(#h20)"/><rect x="406.3" y="43.06" width="37.15" height="1.80" fill="url(#h21)"/><rect x="406.3" y="44.06" width="37.15" height="1.80" fill="url(#h22)"/><rect x="406.3" y="45.06" width="37.15" height="1.80" fill="url(#h23)"/><rect x="406.3" y="46.06" width="37.15" height="1.80" fill="url(#h24)"/><rect x="406.3" y="47.07" width="37.15" height="1.80" fill="url(#h25)"/><rect x="406.3" y="48.07" width="37.15" height="1.80" fill="url(#h26)"/><rect x="406.3" y="49.07" width="37.15" height="1.80" fill="url(#h27)"/><rect x="406.3" y="50.07" width="37.15" height="1.80" fill="url(#h28)"/><rect x="406.3" y="51.08" width="37.15" height="1.80" fill="url(#h29)"/><rect x="406.3" y="52.08" width="37.15" height="1.80" fill="url(#h30)"/><rect x="406.3" y="53.08" width="37.15" height="1.80" fill="url(#h31)"/><rect x="406.3" y="54.08" width="37.15" height="1.80" fill="url(#h32)"/><rect x="406.3" y="55.09" width="37.15" height="1.80" fill="url(#h33)"/><rect x="406.3" y="56.09" width="37.15" height="1.80" fill="url(#h34)"/><rect x="406.3" y="57.09" width="37.15" height="1.80" fill="url(#h35)"/><rect x="406.3" y="58.09" width="37.15" height="1.80" fill="url(#h36)"/><rect x="406.3" y="59.10" width="37.15" height="1.02" fill="url(#h37)"/></g>
<g transform="translate(0,120.20) scale(1,-1)"><rect x="406.3" y="22.00" width="37.15" height="1.80" fill="url(#h0)"/><rect x="406.3" y="23.00" width="37.15" height="1.80" fill="url(#h1)"/><rect x="406.3" y="24.01" width="37.15" height="1.80" fill="url(#h2)"/><rect x="406.3" y="25.01" width="37.15" height="1.80" fill="url(#h3)"/><rect x="406.3" y="26.01" width="37.15" height="1.80" fill="url(#h4)"/><rect x="406.3" y="27.01" width="37.15" height="1.80" fill="url(#h5)"/><rect x="406.3" y="28.02" width="37.15" height="1.80" fill="url(#h6)"/><rect x="406.3" y="29.02" width="37.15" height="1.80" fill="url(#h7)"/><rect x="406.3" y="30.02" width="37.15" height="1.80" fill="url(#h8)"/><rect x="406.3" y="31.02" width="37.15" height="1.80" fill="url(#h9)"/><rect x="406.3" y="32.03" width="37.15" height="1.80" fill="url(#h10)"/><rect x="406.3" y="33.03" width="37.15" height="1.80" fill="url(#h11)"/><rect x="406.3" y="34.03" width="37.15" height="1.80" fill="url(#h12)"/><rect x="406.3" y="35.03" width="37.15" height="1.80" fill="url(#h13)"/><rect x="406.3" y="36.04" width="37.15" height="1.80" fill="url(#h14)"/><rect x="406.3" y="37.04" width="37.15" height="1.80" fill="url(#h15)"/><rect x="406.3" y="38.04" width="37.15" height="1.80" fill="url(#h16)"/><rect x="406.3" y="39.04" width="37.15" height="1.80" fill="url(#h17)"/><rect x="406.3" y="40.05" width="37.15" height="1.80" fill="url(#h18)"/><rect x="406.3" y="41.05" width="37.15" height="1.80" fill="url(#h19)"/><rect x="406.3" y="42.05" width="37.15" height="1.80" fill="url(#h20)"/><rect x="406.3" y="43.06" width="37.15" height="1.80" fill="url(#h21)"/><rect x="406.3" y="44.06" width="37.15" height="1.80" fill="url(#h22)"/><rect x="406.3" y="45.06" width="37.15" height="1.80" fill="url(#h23)"/><rect x="406.3" y="46.06" width="37.15" height="1.80" fill="url(#h24)"/><rect x="406.3" y="47.07" width="37.15" height="1.80" fill="url(#h25)"/><rect x="406.3" y="48.07" width="37.15" height="1.80" fill="url(#h26)"/><rect x="406.3" y="49.07" width="37.15" height="1.80" fill="url(#h27)"/><rect x="406.3" y="50.07" width="37.15" height="1.80" fill="url(#h28)"/><rect x="406.3" y="51.08" width="37.15" height="1.80" fill="url(#h29)"/><rect x="406.3" y="52.08" width="37.15" height="1.80" fill="url(#h30)"/><rect x="406.3" y="53.08" width="37.15" height="1.80" fill="url(#h31)"/><rect x="406.3" y="54.08" width="37.15" height="1.80" fill="url(#h32)"/><rect x="406.3" y="55.09" width="37.15" height="1.80" fill="url(#h33)"/><rect x="406.3" y="56.09" width="37.15" height="1.80" fill="url(#h34)"/><rect x="406.3" y="57.09" width="37.15" height="1.80" fill="url(#h35)"/><rect x="406.3" y="58.09" width="37.15" height="1.80" fill="url(#h36)"/><rect x="406.3" y="59.10" width="37.15" height="1.02" fill="url(#h37)"/></g>
<g transform="translate(886.30,120.20) scale(-1,-1)"><rect x="406.3" y="22.00" width="37.15" height="1.80" fill="url(#h0)"/><rect x="406.3" y="23.00" width="37.15" height="1.80" fill="url(#h1)"/><rect x="406.3" y="24.01" width="37.15" height="1.80" fill="url(#h2)"/><rect x="406.3" y="25.01" width="37.15" height="1.80" fill="url(#h3)"/><rect x="406.3" y="26.01" width="37.15" height="1.80" fill="url(#h4)"/><rect x="406.3" y="27.01" width="37.15" height="1.80" fill="url(#h5)"/><rect x="406.3" y="28.02" width="37.15" height="1.80" fill="url(#h6)"/><rect x="406.3" y="29.02" width="37.15" height="1.80" fill="url(#h7)"/><rect x="406.3" y="30.02" width="37.15" height="1.80" fill="url(#h8)"/><rect x="406.3" y="31.02" width="37.15" height="1.80" fill="url(#h9)"/><rect x="406.3" y="32.03" width="37.15" height="1.80" fill="url(#h10)"/><rect x="406.3" y="33.03" width="37.15" height="1.80" fill="url(#h11)"/><rect x="406.3" y="34.03" width="37.15" height="1.80" fill="url(#h12)"/><rect x="406.3" y="35.03" width="37.15" height="1.80" fill="url(#h13)"/><rect x="406.3" y="36.04" width="37.15" height="1.80" fill="url(#h14)"/><rect x="406.3" y="37.04" width="37.15" height="1.80" fill="url(#h15)"/><rect x="406.3" y="38.04" width="37.15" height="1.80" fill="url(#h16)"/><rect x="406.3" y="39.04" width="37.15" height="1.80" fill="url(#h17)"/><rect x="406.3" y="40.05" width="37.15" height="1.80" fill="url(#h18)"/><rect x="406.3" y="41.05" width="37.15" height="1.80" fill="url(#h19)"/><rect x="406.3" y="42.05" width="37.15" height="1.80" fill="url(#h20)"/><rect x="406.3" y="43.06" width="37.15" height="1.80" fill="url(#h21)"/><rect x="406.3" y="44.06" width="37.15" height="1.80" fill="url(#h22)"/><rect x="406.3" y="45.06" width="37.15" height="1.80" fill="url(#h23)"/><rect x="406.3" y="46.06" width="37.15" height="1.80" fill="url(#h24)"/><rect x="406.3" y="47.07" width="37.15" height="1.80" fill="url(#h25)"/><rect x="406.3" y="48.07" width="37.15" height="1.80" fill="url(#h26)"/><rect x="406.3" y="49.07" width="37.15" height="1.80" fill="url(#h27)"/><rect x="406.3" y="50.07" width="37.15" height="1.80" fill="url(#h28)"/><rect x="406.3" y="51.08" width="37.15" height="1.80" fill="url(#h29)"/><rect x="406.3" y="52.08" width="37.15" height="1.80" fill="url(#h30)"/><rect x="406.3" y="53.08" width="37.15" height="1.80" fill="url(#h31)"/><rect x="406.3" y="54.08" width="37.15" height="1.80" fill="url(#h32)"/><rect x="406.3" y="55.09" width="37.15" height="1.80" fill="url(#h33)"/><rect x="406.3" y="56.09" width="37.15" height="1.80" fill="url(#h34)"/><rect x="406.3" y="57.09" width="37.15" height="1.80" fill="url(#h35)"/><rect x="406.3" y="58.09" width="37.15" height="1.80" fill="url(#h36)"/><rect x="406.3" y="59.10" width="37.15" height="1.02" fill="url(#h37)"/></g>
</g>
<rect x="489.6" y="22" width="6.1" height="76.2" fill="url(#cb)"/>
<rect x="489.6" y="22" width="6.1" height="76.2" fill="none" stroke="#999" stroke-width="0.3"/>
<rect x="406.3" y="22" width="73.7" height="76.2" fill="none" stroke="#999" stroke-width="0.3"/>
<g font-size="4.4">
<text x="404.3" y="23.6" text-anchor="end">180</text>
<text x="404.3" y="42.6" text-anchor="end">135</text>
<text x="404.3" y="61.7" text-anchor="end">90</text>
<text x="404.3" y="80.8" text-anchor="end">45</text>
<text x="404.3" y="99.8" text-anchor="end">0</text>
<text x="406.3" y="104" text-anchor="middle">-180</text>
<text x="424.7" y="104" text-anchor="middle">-90</text>
<text x="443.1" y="104" text-anchor="middle">0</text>
<text x="461.6" y="104" text-anchor="middle">90</text>
<text x="480.0" y="104" text-anchor="middle">180</text>
<text x="497.3" y="23.6">0dB</text>
<text x="497.3" y="42.6">-10dB</text>
<text x="497.3" y="61.7">-20dB</text>
<text x="497.3" y="80.8">-30dB</text>
<text x="497.3" y="99.8">-40dB</text>
</g>
<text x="443" y="109.5" font-size="5.4" text-anchor="middle"><tspan font-style="italic">θ</tspan> (°)</text>
<text transform="translate(395.6,60) rotate(-90)" font-size="5.4" text-anchor="middle"><tspan font-style="italic">φ</tspan> (°)</text>
</g>
<g transform="translate(0,216.5)">
<text x="5.6" y="16.8" font-size="9.4" fill="#333">(c)</text>
<line x1="31.3" y1="22.3" x2="31.3" y2="94.5" stroke="#f3f3f3" stroke-width="0.5"/>
<line x1="24.2" y1="87.1" x2="95" y2="87.1" stroke="#f3f3f3" stroke-width="0.5"/>
<line x1="45.4" y1="22.3" x2="45.4" y2="94.5" stroke="#f3f3f3" stroke-width="0.5"/>
<line x1="24.2" y1="72.7" x2="95" y2="72.7" stroke="#f3f3f3" stroke-width="0.5"/>
<line x1="73.6" y1="22.3" x2="73.6" y2="94.5" stroke="#f3f3f3" stroke-width="0.5"/>
<line x1="24.2" y1="43.9" x2="95" y2="43.9" stroke="#f3f3f3" stroke-width="0.5"/>
<line x1="87.7" y1="22.3" x2="87.7" y2="94.5" stroke="#f3f3f3" stroke-width="0.5"/>
<line x1="24.2" y1="29.5" x2="95" y2="29.5" stroke="#f3f3f3" stroke-width="0.5"/>
<rect x="24.2" y="22.3" width="70.8" height="72.2" fill="none" stroke="#c8c8c8" stroke-width="0.8"/>
<line x1="59.5" y1="22.3" x2="59.5" y2="94.5" stroke="#999" stroke-width="0.6" stroke-dasharray="1 1"/>
<line x1="24.2" y1="58.3" x2="95" y2="58.3" stroke="#999" stroke-width="0.6" stroke-dasharray="1 1"/>
<circle cx="59.5" cy="36.7" r="1.6" fill="#5c9c5c" stroke="#184818" stroke-width="1.35"/>
<circle cx="74.4" cy="43" r="1.6" fill="#5c9c5c" stroke="#184818" stroke-width="1.35"/>
<circle cx="80.7" cy="58.3" r="1.6" fill="#5c9c5c" stroke="#184818" stroke-width="1.35"/>
<circle cx="74.4" cy="73.6" r="1.6" fill="#5c9c5c" stroke="#184818" stroke-width="1.35"/>
<circle cx="59.5" cy="79.9" r="1.6" fill="#5c9c5c" stroke="#184818" stroke-width="1.35"/>
<circle cx="44.6" cy="73.6" r="1.6" fill="#5c9c5c" stroke="#184818" stroke-width="1.35"/>
<circle cx="38.4" cy="58.3" r="1.6" fill="#5c9c5c" stroke="#184818" stroke-width="1.35"/>
<circle cx="44.6" cy="43" r="1.6" fill="#5c9c5c" stroke="#184818" stroke-width="1.35"/>
<text x="31.3" y="101.8" text-anchor="middle">-2</text>
<text x="22" y="88.9" text-anchor="end">-2</text>
<text x="45.4" y="101.8" text-anchor="middle">-1</text>
<text x="22" y="74.5" text-anchor="end">-1</text>
<text x="59.5" y="101.8" text-anchor="middle">0</text>
<text x="22" y="60.1" text-anchor="end">0</text>
<text x="73.6" y="101.8" text-anchor="middle">1</text>
<text x="22" y="45.7" text-anchor="end">1</text>
<text x="87.7" y="101.8" text-anchor="middle">2</text>
<text x="22" y="31.3" text-anchor="end">2</text>
<text x="59.7" y="109" text-anchor="middle" font-size="7"><tspan font-style="italic">x</tspan> (cm)</text>
<text transform="translate(15.2,58.3) rotate(-90)" text-anchor="middle" font-size="7"><tspan font-style="italic">y</tspan> (cm)</text>
<g stroke="#c4c4c4" stroke-width="0.8"><line x1="137" y1="95" x2="137" y2="40"/><line x1="137" y1="95" x2="211" y2="99"/><line x1="211" y1="99" x2="223" y2="80"/><line x1="149" y1="76" x2="149" y2="21"/><line x1="149" y1="21" x2="223" y2="25"/><line x1="223" y1="25" x2="223" y2="80"/><line x1="149" y1="76" x2="223" y2="80"/><line x1="137" y1="95" x2="149" y2="76"/><line x1="137" y1="40" x2="149" y2="21"/></g>
<g font-size="4.6" text-anchor="end">
<text x="134.4" y="42.1">0</text>
<text x="134.4" y="69.6">-10</text>
<text x="134.4" y="97.1">-20</text>
</g><g font-size="4.6" text-anchor="middle">
<text x="134" y="101.6">180</text>
<text x="152.5" y="102.6">90</text>
<text x="171" y="103.6">0</text>
<text x="189.5" y="104.6">-90</text>
<text x="208" y="105.6">-180</text>
<text x="214.6" y="102.6">0</text>
<text x="220.6" y="93.1">2</text>
<text x="226.6" y="83.6">4</text>
</g>
<text x="171" y="109" font-size="5.6" text-anchor="middle"><tspan font-style="italic">θ</tspan> (°)</text>
<text x="222.5" y="105.2" font-size="5.6"><tspan font-style="italic">f</tspan> (kHz)</text>
<text transform="translate(124.5,67.5) rotate(-90)" font-size="5" text-anchor="middle">|dB|</text>
<g stroke-width=".4"><path d="M148 59.2 149.8 58.9 150.8 72.6 149 73.3z" fill="#fdf8e0" stroke="#f6e174"/><path d="M149.8 58.9 151.7 57.9 152.7 70.5 150.8 72.6z" fill="#fdf8e1" stroke="#f7e075"/><path d="M151.7 57.9 153.6 56.2 154.6 67.3 152.7 70.5z" fill="#fdf7e1" stroke="#f8dc78"/><path d="M153.6 56.2 155.4 54 156.4 63.4 154.6 67.3z" fill="#fdf4e2" stroke="#f7cf7b"/><path d="M155.4 54 157.2 51.5 158.2 59.2 156.4 63.4z" fill="#fdf1e3" stroke="#f6bf7e"/><path d="M157.2 51.5 159.1 48.7 160.1 54.9 158.2 59.2z" fill="#fdede3" stroke="#f4af81"/><path d="M159.1 48.7 160.9 45.9 161.9 50.7 160.1 54.9z" fill="#fce9e2" stroke="#f09d7c"/><path d="M220.1 62.7 222 63.2 223 77.3 221.1 76.4z" fill="#fdf8e0" stroke="#f6e174"/><path d="M160.9 45.9 162.8 43.1 163.8 46.7 161.9 50.7z" fill="#fbe6e1" stroke="#eb8c75"/><path d="M218.3 61.5 220.1 62.7 221.1 76.4 219.3 74.1z" fill="#fdf8e1" stroke="#f7e075"/><path d="M147 51.2 148.8 51.1 149.8 58.9 148 59.2z" fill="#fdeee3" stroke="#f5b181"/><path d="M216.4 59.6 218.3 61.5 219.3 74.1 217.4 70.7z" fill="#fdf7e1" stroke="#f8dc78"/><path d="M148.8 51.1 150.7 50.5 151.7 57.9 149.8 58.9z" fill="#fdede3" stroke="#f4ae81"/><path d="M150.7 50.5 152.6 49.5 153.6 56.2 151.7 57.9z" fill="#fcece3" stroke="#f3a881"/><path d="M214.6 57.2 216.4 59.6 217.4 70.7 215.6 66.6z" fill="#fdf4e2" stroke="#f7cf7b"/><path d="M162.8 43.1 164.7 40.3 165.7 42.9 163.8 46.7z" fill="#f9e2df" stroke="#e67b6e"/><path d="M152.6 49.5 154.4 48.1 155.4 54 153.6 56.2z" fill="#fceae3" stroke="#f1a07e"/><path d="M212.8 54.5 214.6 57.2 215.6 66.6 213.8 62.2z" fill="#fdf1e3" stroke="#f6bf7e"/><path d="M164.7 40.3 166.5 37.7 167.5 39.5 165.7 42.9z" fill="#f8dfdd" stroke="#e16c67"/><path d="M154.4 48.1 156.2 46.4 157.2 51.5 155.4 54z" fill="#fbe8e2" stroke="#ee9679"/><path d="M210.9 51.5 212.8 54.5 213.8 62.2 211.9 57.7z" fill="#fdede3" stroke="#f4af81"/><path d="M166.5 37.7 168.3 35.3 169.3 36.3 167.5 39.5z" fill="#f7dbdc" stroke="#dd5d60"/><path d="M156.2 46.4 158.1 44.5 159.1 48.7 157.2 51.5z" fill="#fbe5e1" stroke="#eb8b74"/><path d="M209.1 48.5 210.9 51.5 211.9 57.7 210.1 53.3z" fill="#fce9e2" stroke="#f09d7c"/><path d="M158.1 44.5 159.9 42.5 160.9 45.9 159.1 48.7z" fill="#fae3df" stroke="#e77f6f"/><path d="M168.3 35.3 170.2 33 171.2 33.4 169.3 36.3z" fill="#f5d9da" stroke="#d45058"/><path d="M207.2 45.5 209.1 48.5 210.1 53.3 208.2 49.1z" fill="#fbe6e1" stroke="#eb8c75"/><path d="M159.9 42.5 161.8 40.5 162.8 43.1 160.9 45.9z" fill="#f9e0de" stroke="#e3736a"/><path d="M170.2 33 172.1 31 173.1 30.9 171.2 33.4z" fill="#f3d6d8" stroke="#ca4650"/><path d="M205.3 42.5 207.2 45.5 208.2 49.1 206.3 45.1z" fill="#f9e2df" stroke="#e67b6e"/><path d="M172.1 31 173.9 29.3 174.9 28.8 173.1 30.9z" fill="#f2d4d7" stroke="#c23c48"/><path d="M203.5 39.7 205.3 42.5 206.3 45.1 204.5 41.5z" fill="#f8dfdd" stroke="#e16c67"/><path d="M161.8 40.5 163.7 38.5 164.7 40.3 162.8 43.1z" fill="#f8dddd" stroke="#e06765"/><path d="M146 46 147.8 46 148.8 51.1 147 51.2z" fill="#fae5e0" stroke="#ea8a74"/><path d="M147.8 46 149.7 45.6 150.7 50.5 148.8 51.1z" fill="#fae5e0" stroke="#ea8873"/><path d="M201.7 37.1 203.5 39.7 204.5 41.5 202.7 38.1z" fill="#f7dbdc" stroke="#dd5d60"/><path d="M173.9 29.3 175.8 27.8 176.8 26.9 174.9 28.8z" fill="#f0d2d5" stroke="#bb3442"/><path d="M149.7 45.6 151.6 44.9 152.6 49.5 150.7 50.5z" fill="#fae4e0" stroke="#e98471"/><path d="M163.7 38.5 165.5 36.5 166.5 37.7 164.7 40.3z" fill="#f7dbdc" stroke="#dc5b5f"/><path d="M217.3 54.1 219.1 54.9 220.1 62.7 218.3 61.5z" fill="#fdede3" stroke="#f4ae81"/><path d="M219.1 54.9 221 55.2 222 63.2 220.1 62.7z" fill="#fdeee3" stroke="#f5b181"/><path d="M199.8 34.6 201.7 37.1 202.7 38.1 200.8 35z" fill="#f5d9da" stroke="#d45058"/><path d="M175.8 27.8 177.6 26.6 178.6 25.4 176.8 26.9z" fill="#efd1d4" stroke="#b52d3d"/><path d="M215.4 52.9 217.3 54.1 218.3 61.5 216.4 59.6z" fill="#fcece3" stroke="#f3a881"/><path d="M151.6 44.9 153.4 44 154.4 48.1 152.6 49.5z" fill="#fae3df" stroke="#e77f6f"/><path d="M213.6 51.3 215.4 52.9 216.4 59.6 214.6 57.2z" fill="#fceae3" stroke="#f1a07e"/><path d="M165.5 36.5 167.3 34.6 168.3 35.3 166.5 37.7z" fill="#f6d9da" stroke="#d45158"/><path d="M197.9 32.4 199.8 34.6 200.8 35 198.9 32.3z" fill="#f3d6d8" stroke="#ca4650"/><path d="M177.6 26.6 179.4 25.6 180.4 24.3 178.6 25.4z" fill="#eecfd3" stroke="#b02739"/><path d="M153.4 44 155.2 42.8 156.2 46.4 154.4 48.1z" fill="#f9e1df" stroke="#e5786c"/><path d="M211.8 49.4 213.6 51.3 214.6 57.2 212.8 54.5z" fill="#fbe8e2" stroke="#ee9679"/><path d="M196.1 30.5 197.9 32.4 198.9 32.3 197.1 30z" fill="#f2d4d7" stroke="#c23c48"/><path d="M179.4 25.6 181.3 25 182.3 23.5 180.4 24.3z" fill="#edcfd3" stroke="#ac2335"/><path d="M209.9 47.3 211.8 49.4 212.8 54.5 210.9 51.5z" fill="#fbe5e1" stroke="#eb8b74"/><path d="M167.3 34.6 169.2 32.9 170.2 33 168.3 35.3z" fill="#f4d7d9" stroke="#cc4751"/><path d="M155.2 42.8 157.1 41.5 158.1 44.5 156.2 46.4z" fill="#f9e0de" stroke="#e37069"/><path d="M194.2 28.8 196.1 30.5 197.1 30 195.2 27.9z" fill="#f0d2d5" stroke="#bb3442"/><path d="M181.3 25 183.2 24.6 184.2 23.1 182.3 23.5z" fill="#ecced2" stroke="#aa2033"/><path d="M192.4 27.4 194.2 28.8 195.2 27.9 193.4 26.2z" fill="#efd1d4" stroke="#b52d3d"/><path d="M183.2 24.6 185 24.6 186 23 184.2 23.1z" fill="#ecced2" stroke="#a81e32"/><path d="M208.1 45.1 209.9 47.3 210.9 51.5 209.1 48.5z" fill="#fae3df" stroke="#e77f6f"/><path d="M190.6 26.2 192.4 27.4 193.4 26.2 191.6 24.9z" fill="#eecfd3" stroke="#b02739"/><path d="M185 24.6 186.8 24.8 187.8 23.3 186 23z" fill="#ecced2" stroke="#a81e32"/><path d="M188.7 25.4 190.6 26.2 191.6 24.9 189.7 23.9z" fill="#edcfd3" stroke="#ac2335"/><path d="M186.8 24.8 188.7 25.4 189.7 23.9 187.8 23.3z" fill="#ecced2" stroke="#aa2033"/><path d="M157.1 41.5 158.9 40.1 159.9 42.5 158.1 44.5z" fill="#f8dedd" stroke="#e06865"/><path d="M169.2 32.9 171.1 31.3 172.1 31 170.2 33z" fill="#f2d5d7" stroke="#c43e4a"/><path d="M206.2 42.9 208.1 45.1 209.1 48.5 207.2 45.5z" fill="#f9e0de" stroke="#e3736a"/><path d="M158.9 40.1 160.8 38.7 161.8 40.5 159.9 42.5z" fill="#f8dcdc" stroke="#dd5f61"/><path d="M171.1 31.3 172.9 29.9 173.9 29.3 172.1 31z" fill="#f1d3d6" stroke="#bd3744"/><path d="M204.3 40.7 206.2 42.9 207.2 45.5 205.3 42.5z" fill="#f8dddd" stroke="#e06765"/><path d="M172.9 29.9 174.8 28.7 175.8 27.8 173.9 29.3z" fill="#efd1d5" stroke="#b7303f"/><path d="M202.5 38.5 204.3 40.7 205.3 42.5 203.5 39.7z" fill="#f7dbdc" stroke="#dc5b5f"/><path d="M160.8 38.7 162.7 37.2 163.7 38.5 161.8 40.5z" fill="#f7dadb" stroke="#d9565c"/><path d="M200.7 36.4 202.5 38.5 203.5 39.7 201.7 37.1z" fill="#f6d9da" stroke="#d45158"/><path d="M174.8 28.7 176.6 27.7 177.6 26.6 175.8 27.8z" fill="#eed0d4" stroke="#b22a3b"/><path d="M162.7 37.2 164.5 35.7 165.5 36.5 163.7 38.5z" fill="#f5d8da" stroke="#d24e56"/><path d="M145 42.4 146.8 42.4 147.8 46 146 46z" fill="#f9dfde" stroke="#e26d67"/><path d="M198.8 34.5 200.7 36.4 201.7 37.1 199.8 34.6z" fill="#f4d7d9" stroke="#cc4751"/><path d="M176.6 27.7 178.4 27 179.4 25.6 177.6 26.6z" fill="#edcfd3" stroke="#ae2538"/><path d="M146.8 42.4 148.7 42.2 149.7 45.6 147.8 46z" fill="#f8dfdd" stroke="#e16b67"/><path d="M196.9 32.7 198.8 34.5 199.8 34.6 197.9 32.4z" fill="#f2d5d7" stroke="#c43e4a"/><path d="M178.4 27 180.3 26.5 181.3 25 179.4 25.6z" fill="#edced3" stroke="#ab2235"/><path d="M164.5 35.7 166.3 34.3 167.3 34.6 165.5 36.5z" fill="#f4d6d9" stroke="#cb4650"/><path d="M148.7 42.2 150.6 41.8 151.6 44.9 149.7 45.6z" fill="#f8dedd" stroke="#e06966"/><path d="M195.1 31.1 196.9 32.7 197.9 32.4 196.1 30.5z" fill="#f1d3d6" stroke="#bd3744"/><path d="M180.3 26.5 182.2 26.2 183.2 24.6 181.3 25z" fill="#ecced2" stroke="#a91f33"/><path d="M150.6 41.8 152.4 41.1 153.4 44 151.6 44.9z" fill="#f8dddd" stroke="#df6564"/><path d="M193.2 29.7 195.1 31.1 196.1 30.5 194.2 28.8z" fill="#efd1d5" stroke="#b7303f"/><path d="M182.2 26.2 184 26.2 185 24.6 183.2 24.6z" fill="#ecced2" stroke="#a81e32"/><path d="M166.3 34.3 168.2 32.9 169.2 32.9 167.3 34.6z" fill="#f2d5d7" stroke="#c53f4b"/><path d="M191.4 28.5 193.2 29.7 194.2 28.8 192.4 27.4z" fill="#eed0d4" stroke="#b22a3b"/><path d="M184 26.2 185.8 26.4 186.8 24.8 185 24.6z" fill="#ecced2" stroke="#a81e32"/><path d="M189.6 27.6 191.4 28.5 192.4 27.4 190.6 26.2z" fill="#edcfd3" stroke="#ae2538"/><path d="M185.8 26.4 187.7 26.9 188.7 25.4 186.8 24.8z" fill="#ecced2" stroke="#a91f33"/><path d="M187.7 26.9 189.6 27.6 190.6 26.2 188.7 25.4z" fill="#edced3" stroke="#ab2235"/><path d="M152.4 41.1 154.2 40.4 155.2 42.8 153.4 44z" fill="#f8dcdc" stroke="#de6162"/><path d="M216.3 49.2 218.1 49.8 219.1 54.9 217.3 54.1z" fill="#fae5e0" stroke="#ea8873"/><path d="M214.4 48.3 216.3 49.2 217.3 54.1 215.4 52.9z" fill="#fae4e0" stroke="#e98471"/><path d="M218.1 49.8 220 50 221 55.2 219.1 54.9z" fill="#fae5e0" stroke="#ea8a74"/><path d="M212.6 47.2 214.4 48.3 215.4 52.9 213.6 51.3z" fill="#fae3df" stroke="#e77f6f"/><path d="M168.2 32.9 170.1 31.7 171.1 31.3 169.2 32.9z" fill="#f1d3d6" stroke="#bf3846"/><path d="M210.8 45.8 212.6 47.2 213.6 51.3 211.8 49.4z" fill="#f9e1df" stroke="#e5786c"/><path d="M154.2 40.4 156.1 39.5 157.1 41.5 155.2 42.8z" fill="#f7dbdc" stroke="#dc5b5f"/><path d="M208.9 44.3 210.8 45.8 211.8 49.4 209.9 47.3z" fill="#f9e0de" stroke="#e37069"/><path d="M170.1 31.7 171.9 30.6 172.9 29.9 171.1 31.3z" fill="#f0d2d5" stroke="#b93241"/><path d="M156.1 39.5 157.9 38.5 158.9 40.1 157.1 41.5z" fill="#f6dadb" stroke="#d8555c"/><path d="M207.1 42.7 208.9 44.3 209.9 47.3 208.1 45.1z" fill="#f8dedd" stroke="#e06865"/><path d="M205.2 41.1 207.1 42.7 208.1 45.1 206.2 42.9z" fill="#f8dcdc" stroke="#dd5f61"/><path d="M171.9 30.6 173.8 29.7 174.8 28.7 172.9 29.9z" fill="#efd1d4" stroke="#b52c3d"/><path d="M157.9 38.5 159.8 37.4 160.8 38.7 158.9 40.1z" fill="#f5d8da" stroke="#d35057"/><path d="M203.3 39.4 205.2 41.1 206.2 42.9 204.3 40.7z" fill="#f7dadb" stroke="#d9565c"/><path d="M173.8 29.7 175.6 28.9 176.6 27.7 174.8 28.7z" fill="#eed0d4" stroke="#b12839"/><path d="M201.5 37.7 203.3 39.4 204.3 40.7 202.5 38.5z" fill="#f5d8da" stroke="#d24e56"/><path d="M159.8 37.4 161.7 36.3 162.7 37.2 160.8 38.7z" fill="#f4d7d9" stroke="#ce4a53"/><path d="M175.6 28.9 177.4 28.3 178.4 27 176.6 27.7z" fill="#edcfd3" stroke="#ad2437"/><path d="M199.7 36.1 201.5 37.7 202.5 38.5 200.7 36.4z" fill="#f4d6d9" stroke="#cb4650"/><path d="M161.7 36.3 163.5 35.2 164.5 35.7 162.7 37.2z" fill="#f3d6d8" stroke="#c9444e"/><path d="M177.4 28.3 179.3 27.9 180.3 26.5 178.4 27z" fill="#ecced2" stroke="#ab2134"/><path d="M197.8 34.5 199.7 36.1 200.7 36.4 198.8 34.5z" fill="#f2d5d7" stroke="#c53f4b"/><path d="M195.9 33.1 197.8 34.5 198.8 34.5 196.9 32.7z" fill="#f1d3d6" stroke="#bf3846"/><path d="M179.3 27.9 181.2 27.7 182.2 26.2 180.3 26.5z" fill="#ecced2" stroke="#a91f33"/><path d="M194.1 31.8 195.9 33.1 196.9 32.7 195.1 31.1z" fill="#f0d2d5" stroke="#b93241"/><path d="M181.2 27.7 183 27.8 184 26.2 182.2 26.2z" fill="#ecced2" stroke="#a81e32"/><path d="M163.5 35.2 165.3 34.2 166.3 34.3 164.5 35.7z" fill="#f2d4d7" stroke="#c33e4a"/><path d="M192.2 30.7 194.1 31.8 195.1 31.1 193.2 29.7z" fill="#efd1d4" stroke="#b52c3d"/><path d="M183 27.8 184.8 27.9 185.8 26.4 184 26.2z" fill="#ecced2" stroke="#a81e32"/><path d="M144 40 145.8 40 146.8 42.4 145 42.4z" fill="#f7dadb" stroke="#d9575d"/><path d="M190.4 29.7 192.2 30.7 193.2 29.7 191.4 28.5z" fill="#eed0d4" stroke="#b12839"/><path d="M184.8 27.9 186.7 28.3 187.7 26.9 185.8 26.4z" fill="#ecced2" stroke="#a91f33"/><path d="M188.6 28.9 190.4 29.7 191.4 28.5 189.6 27.6z" fill="#edcfd3" stroke="#ad2437"/><path d="M186.7 28.3 188.6 28.9 189.6 27.6 187.7 26.9z" fill="#ecced2" stroke="#ab2134"/><path d="M145.8 40 147.7 39.9 148.7 42.2 146.8 42.4z" fill="#f7dadb" stroke="#d9565c"/><path d="M165.3 34.2 167.2 33.2 168.2 32.9 166.3 34.3z" fill="#f1d3d6" stroke="#be3845"/><path d="M147.7 39.9 149.6 39.6 150.6 41.8 148.7 42.2z" fill="#f6d9db" stroke="#d7545b"/><path d="M167.2 33.2 169.1 32.3 170.1 31.7 168.2 32.9z" fill="#f0d2d5" stroke="#ba3341"/><path d="M149.6 39.6 151.4 39.2 152.4 41.1 150.6 41.8z" fill="#f6d9da" stroke="#d55259"/><path d="M151.4 39.2 153.2 38.7 154.2 40.4 152.4 41.1z" fill="#f5d8da" stroke="#d34f57"/><path d="M169.1 32.3 170.9 31.5 171.9 30.6 170.1 31.7z" fill="#efd1d5" stroke="#b62e3e"/><path d="M153.2 38.7 155.1 38.1 156.1 39.5 154.2 40.4z" fill="#f5d8d9" stroke="#d04c54"/><path d="M170.9 31.5 172.8 30.7 173.8 29.7 171.9 30.6z" fill="#eed0d4" stroke="#b2293b"/><path d="M213.4 45.2 215.3 45.8 216.3 49.2 214.4 48.3z" fill="#f8dedd" stroke="#e06966"/><path d="M215.3 45.8 217.1 46.2 218.1 49.8 216.3 49.2z" fill="#f8dfdd" stroke="#e16b67"/><path d="M211.6 44.3 213.4 45.2 214.4 48.3 212.6 47.2z" fill="#f8dddd" stroke="#df6564"/><path d="M217.1 46.2 219 46.4 220 50 218.1 49.8z" fill="#f9dfde" stroke="#e26d67"/><path d="M209.8 43.4 211.6 44.3 212.6 47.2 210.8 45.8z" fill="#f8dcdc" stroke="#de6162"/><path d="M155.1 38.1 156.9 37.4 157.9 38.5 156.1 39.5z" fill="#f4d7d9" stroke="#cc4851"/><path d="M207.9 42.3 209.8 43.4 210.8 45.8 208.9 44.3z" fill="#f7dbdc" stroke="#dc5b5f"/><path d="M172.8 30.7 174.6 30.2 175.6 28.9 173.8 29.7z" fill="#edcfd3" stroke="#af2638"/><path d="M206.1 41.1 207.9 42.3 208.9 44.3 207.1 42.7z" fill="#f6dadb" stroke="#d8555c"/><path d="M204.2 39.8 206.1 41.1 207.1 42.7 205.2 41.1z" fill="#f5d8da" stroke="#d35057"/><path d="M156.9 37.4 158.8 36.6 159.8 37.4 157.9 38.5z" fill="#f3d6d8" stroke="#c8434e"/><path d="M174.6 30.2 176.4 29.7 177.4 28.3 175.6 28.9z" fill="#edcfd3" stroke="#ac2336"/><path d="M202.3 38.5 204.2 39.8 205.2 41.1 203.3 39.4z" fill="#f4d7d9" stroke="#ce4a53"/><path d="M176.4 29.7 178.3 29.4 179.3 27.9 177.4 28.3z" fill="#ecced2" stroke="#aa2134"/><path d="M200.5 37.2 202.3 38.5 203.3 39.4 201.5 37.7z" fill="#f3d6d8" stroke="#c9444e"/><path d="M158.8 36.6 160.7 35.9 161.7 36.3 159.8 37.4z" fill="#f2d5d7" stroke="#c53f4b"/><path d="M198.7 36 200.5 37.2 201.5 37.7 199.7 36.1z" fill="#f2d4d7" stroke="#c33e4a"/><path d="M178.3 29.4 180.2 29.3 181.2 27.7 179.3 27.9z" fill="#ecced2" stroke="#a91f33"/><path d="M196.8 34.8 198.7 36 199.7 36.1 197.8 34.5z" fill="#f1d3d6" stroke="#be3845"/><path d="M180.2 29.3 182 29.3 183 27.8 181.2 27.7z" fill="#ecced2" stroke="#a81e32"/><path d="M160.7 35.9 162.5 35.1 163.5 35.2 161.7 36.3z" fill="#f1d4d7" stroke="#c13b47"/><path d="M194.9 33.7 196.8 34.8 197.8 34.5 195.9 33.1z" fill="#f0d2d5" stroke="#ba3341"/><path d="M182 29.3 183.8 29.5 184.8 27.9 183 27.8z" fill="#ecced2" stroke="#a81e32"/><path d="M193.1 32.7 194.9 33.7 195.9 33.1 194.1 31.8z" fill="#efd1d5" stroke="#b62e3e"/><path d="M183.8 29.5 185.7 29.8 186.7 28.3 184.8 27.9z" fill="#ecced2" stroke="#a91f33"/><path d="M191.2 31.7 193.1 32.7 194.1 31.8 192.2 30.7z" fill="#eed0d4" stroke="#b2293b"/><path d="M185.7 29.8 187.6 30.3 188.6 28.9 186.7 28.3z" fill="#ecced2" stroke="#aa2134"/><path d="M189.4 31 191.2 31.7 192.2 30.7 190.4 29.7z" fill="#edcfd3" stroke="#af2638"/><path d="M187.6 30.3 189.4 31 190.4 29.7 188.6 28.9z" fill="#edcfd3" stroke="#ac2336"/><path d="M162.5 35.1 164.3 34.3 165.3 34.2 163.5 35.2z" fill="#f0d3d6" stroke="#bd3644"/><path d="M164.3 34.3 166.2 33.6 167.2 33.2 165.3 34.2z" fill="#f0d2d5" stroke="#b93241"/><path d="M143 38.3 144.8 38.4 145.8 40 144 40z" fill="#f4d7d9" stroke="#cc4751"/><path d="M166.2 33.6 168.1 33 169.1 32.3 167.2 33.2z" fill="#efd1d5" stroke="#b62e3e"/><path d="M144.8 38.4 146.7 38.3 147.7 39.9 145.8 40z" fill="#f4d6d9" stroke="#cb4750"/><path d="M146.7 38.3 148.6 38.2 149.6 39.6 147.7 39.9z" fill="#f3d6d8" stroke="#ca4550"/><path d="M168.1 33 169.9 32.4 170.9 31.5 169.1 32.3z" fill="#eed0d4" stroke="#b32a3b"/><path d="M148.6 38.2 150.4 37.9 151.4 39.2 149.6 39.6z" fill="#f3d6d8" stroke="#c9444e"/><path d="M169.9 32.4 171.8 31.9 172.8 30.7 170.9 31.5z" fill="#eecfd3" stroke="#b02739"/><path d="M150.4 37.9 152.2 37.6 153.2 38.7 151.4 39.2z" fill="#f3d5d8" stroke="#c7424d"/><path d="M171.8 31.9 173.6 31.5 174.6 30.2 172.8 30.7z" fill="#edcfd3" stroke="#ad2437"/><path d="M152.2 37.6 154.1 37.2 155.1 38.1 153.2 38.7z" fill="#f2d5d7" stroke="#c53f4b"/><path d="M173.6 31.5 175.4 31.2 176.4 29.7 174.6 30.2z" fill="#edced3" stroke="#ab2235"/><path d="M154.1 37.2 155.9 36.8 156.9 37.4 155.1 38.1z" fill="#f2d4d7" stroke="#c23c49"/><path d="M175.4 31.2 177.3 31 178.3 29.4 176.4 29.7z" fill="#ecced2" stroke="#aa2033"/><path d="M210.6 42.4 212.4 43 213.4 45.2 211.6 44.3z" fill="#f6d9da" stroke="#d55259"/><path d="M208.8 41.7 210.6 42.4 211.6 44.3 209.8 43.4z" fill="#f5d8da" stroke="#d34f57"/><path d="M212.4 43 214.3 43.5 215.3 45.8 213.4 45.2z" fill="#f6d9db" stroke="#d7545b"/><path d="M206.9 40.9 208.8 41.7 209.8 43.4 207.9 42.3z" fill="#f5d8d9" stroke="#d04c54"/><path d="M214.3 43.5 216.1 43.8 217.1 46.2 215.3 45.8z" fill="#f7dadb" stroke="#d9565c"/><path d="M155.9 36.8 157.8 36.3 158.8 36.6 156.9 37.4z" fill="#f1d4d6" stroke="#c03947"/><path d="M205.1 40 206.9 40.9 207.9 42.3 206.1 41.1z" fill="#f4d7d9" stroke="#cc4851"/><path d="M177.3 31 179.2 30.9 180.2 29.3 178.3 29.4z" fill="#ecced2" stroke="#a91f33"/><path d="M216.1 43.8 218 44 219 46.4 217.1 46.2z" fill="#f7dadb" stroke="#d9575d"/><path d="M203.2 39 205.1 40 206.1 41.1 204.2 39.8z" fill="#f3d6d8" stroke="#c8434e"/><path d="M201.3 38.1 203.2 39 204.2 39.8 202.3 38.5z" fill="#f2d5d7" stroke="#c53f4b"/><path d="M179.2 30.9 181 30.9 182 29.3 180.2 29.3z" fill="#ecced2" stroke="#a81e32"/><path d="M199.5 37.1 201.3 38.1 202.3 38.5 200.5 37.2z" fill="#f1d4d7" stroke="#c13b47"/><path d="M157.8 36.3 159.7 35.8 160.7 35.9 158.8 36.6z" fill="#f0d3d6" stroke="#bd3644"/><path d="M181 30.9 182.8 31.1 183.8 29.5 182 29.3z" fill="#ecced2" stroke="#a81e32"/><path d="M197.7 36.1 199.5 37.1 200.5 37.2 198.7 36z" fill="#f0d3d6" stroke="#bd3644"/><path d="M195.8 35.2 197.7 36.1 198.7 36 196.8 34.8z" fill="#f0d2d5" stroke="#b93241"/><path d="M182.8 31.1 184.7 31.4 185.7 29.8 183.8 29.5z" fill="#ecced2" stroke="#a91f33"/><path d="M193.9 34.4 195.8 35.2 196.8 34.8 194.9 33.7z" fill="#efd1d5" stroke="#b62e3e"/><path d="M184.7 31.4 186.6 31.8 187.6 30.3 185.7 29.8z" fill="#ecced2" stroke="#aa2033"/><path d="M192.1 33.6 193.9 34.4 194.9 33.7 193.1 32.7z" fill="#eed0d4" stroke="#b32a3b"/><path d="M186.6 31.8 188.4 32.3 189.4 31 187.6 30.3z" fill="#edced3" stroke="#ab2235"/><path d="M190.2 32.9 192.1 33.6 193.1 32.7 191.2 31.7z" fill="#eecfd3" stroke="#b02739"/><path d="M188.4 32.3 190.2 32.9 191.2 31.7 189.4 31z" fill="#edcfd3" stroke="#ad2437"/><path d="M159.7 35.8 161.5 35.3 162.5 35.1 160.7 35.9z" fill="#f0d2d5" stroke="#ba3342"/><path d="M161.5 35.3 163.3 34.7 164.3 34.3 162.5 35.1z" fill="#efd1d5" stroke="#b8303f"/><path d="M163.3 34.7 165.2 34.3 166.2 33.6 164.3 34.3z" fill="#efd1d4" stroke="#b52d3d"/><path d="M165.2 34.3 167.1 33.8 168.1 33 166.2 33.6z" fill="#eed0d4" stroke="#b22a3b"/><path d="M167.1 33.8 168.9 33.4 169.9 32.4 168.1 33z" fill="#eed0d3" stroke="#b02739"/><path d="M142 37.4 143.8 37.4 144.8 38.4 143 38.3z" fill="#f1d4d7" stroke="#c13b47"/><path d="M143.8 37.4 145.7 37.4 146.7 38.3 144.8 38.4z" fill="#f1d4d7" stroke="#c03a47"/><path d="M168.9 33.4 170.8 33.1 171.8 31.9 169.9 32.4z" fill="#edcfd3" stroke="#ae2537"/><path d="M145.7 37.4 147.6 37.4 148.6 38.2 146.7 38.3z" fill="#f1d4d6" stroke="#c03947"/><path d="M170.8 33.1 172.6 32.8 173.6 31.5 171.8 31.9z" fill="#edcfd3" stroke="#ac2335"/><path d="M147.6 37.4 149.4 37.2 150.4 37.9 148.6 38.2z" fill="#f1d3d6" stroke="#bf3846"/><path d="M172.6 32.8 174.4 32.6 175.4 31.2 173.6 31.5z" fill="#ecced2" stroke="#aa2134"/><path d="M149.4 37.2 151.2 37.1 152.2 37.6 150.4 37.9z" fill="#f1d3d6" stroke="#be3745"/><path d="M174.4 32.6 176.3 32.5 177.3 31 175.4 31.2z" fill="#ecced2" stroke="#a91f33"/><path d="M151.2 37.1 153.1 36.8 154.1 37.2 152.2 37.6z" fill="#f0d3d6" stroke="#bc3543"/><path d="M176.3 32.5 178.2 32.4 179.2 30.9 177.3 31z" fill="#ecced2" stroke="#a81f32"/><path d="M153.1 36.8 154.9 36.6 155.9 36.8 154.1 37.2z" fill="#f0d2d5" stroke="#bb3342"/><path d="M178.2 32.4 180 32.5 181 30.9 179.2 30.9z" fill="#ecced2" stroke="#a81e32"/><path d="M180 32.5 181.8 32.6 182.8 31.1 181 30.9z" fill="#ecced2" stroke="#a81e32"/><path d="M154.9 36.6 156.8 36.3 157.8 36.3 155.9 36.8z" fill="#f0d2d5" stroke="#b93140"/><path d="M181.8 32.6 183.7 32.9 184.7 31.4 182.8 31.1z" fill="#ecced2" stroke="#a81f32"/><path d="M183.7 32.9 185.6 33.2 186.6 31.8 184.7 31.4z" fill="#ecced2" stroke="#a91f33"/><path d="M205.9 40 207.8 40.6 208.8 41.7 206.9 40.9z" fill="#f2d5d7" stroke="#c53f4b"/><path d="M204.1 39.4 205.9 40 206.9 40.9 205.1 40z" fill="#f2d4d7" stroke="#c23c49"/><path d="M207.8 40.6 209.6 41.1 210.6 42.4 208.8 41.7z" fill="#f3d5d8" stroke="#c7424d"/><path d="M202.2 38.7 204.1 39.4 205.1 40 203.2 39z" fill="#f1d4d6" stroke="#c03947"/><path d="M185.6 33.2 187.4 33.6 188.4 32.3 186.6 31.8z" fill="#ecced2" stroke="#aa2134"/><path d="M200.3 38 202.2 38.7 203.2 39 201.3 38.1z" fill="#f0d3d6" stroke="#bd3644"/><path d="M209.6 41.1 211.4 41.6 212.4 43 210.6 42.4z" fill="#f3d6d8" stroke="#c9444e"/><path d="M198.5 37.3 200.3 38 201.3 38.1 199.5 37.1z" fill="#f0d2d5" stroke="#ba3342"/><path d="M156.8 36.3 158.7 36 159.7 35.8 157.8 36.3z" fill="#efd1d5" stroke="#b72f3f"/><path d="M187.4 33.6 189.2 34.1 190.2 32.9 188.4 32.3z" fill="#edcfd3" stroke="#ac2335"/><path d="M196.7 36.5 198.5 37.3 199.5 37.1 197.7 36.1z" fill="#efd1d5" stroke="#b8303f"/><path d="M211.4 41.6 213.3 41.9 214.3 43.5 212.4 43z" fill="#f3d6d8" stroke="#ca4550"/><path d="M189.2 34.1 191.1 34.6 192.1 33.6 190.2 32.9z" fill="#edcfd3" stroke="#ae2537"/><path d="M194.8 35.9 196.7 36.5 197.7 36.1 195.8 35.2z" fill="#efd1d4" stroke="#b52d3d"/><path d="M192.9 35.2 194.8 35.9 195.8 35.2 193.9 34.4z" fill="#eed0d4" stroke="#b22a3b"/><path d="M191.1 34.6 192.9 35.2 193.9 34.4 192.1 33.6z" fill="#eed0d3" stroke="#b02739"/><path d="M213.3 41.9 215.1 42.2 216.1 43.8 214.3 43.5z" fill="#f4d6d9" stroke="#cb4750"/><path d="M215.1 42.2 217 42.3 218 44 216.1 43.8z" fill="#f4d7d9" stroke="#cc4751"/><path d="M158.7 36 160.5 35.7 161.5 35.3 159.7 35.8z" fill="#efd1d4" stroke="#b52d3d"/><path d="M160.5 35.7 162.3 35.3 163.3 34.7 161.5 35.3z" fill="#eed0d4" stroke="#b32b3c"/><path d="M162.3 35.3 164.2 35 165.2 34.3 163.3 34.7z" fill="#eed0d4" stroke="#b1283a"/><path d="M164.2 35 166.1 34.8 167.1 33.8 165.2 34.3z" fill="#edcfd3" stroke="#af2638"/><path d="M166.1 34.8 167.9 34.5 168.9 33.4 167.1 33.8z" fill="#edcfd3" stroke="#ae2437"/><path d="M167.9 34.5 169.8 34.3 170.8 33.1 168.9 33.4z" fill="#edcfd3" stroke="#ac2336"/><path d="M141 37 142.8 37.1 143.8 37.4 142 37.4z" fill="#efd2d5" stroke="#b83140"/><path d="M169.8 34.3 171.6 34.2 172.6 32.8 170.8 33.1z" fill="#ecced2" stroke="#ab2134"/><path d="M142.8 37.1 144.7 37.1 145.7 37.4 143.8 37.4z" fill="#efd2d5" stroke="#b83040"/><path d="M171.6 34.2 173.4 34.1 174.4 32.6 172.6 32.8z" fill="#ecced2" stroke="#aa2034"/><path d="M144.7 37.1 146.6 37.1 147.6 37.4 145.7 37.4z" fill="#efd1d5" stroke="#b83040"/><path d="M173.4 34.1 175.3 34 176.3 32.5 174.4 32.6z" fill="#ecced2" stroke="#a91f33"/><path d="M146.6 37.1 148.4 37.1 149.4 37.2 147.6 37.4z" fill="#efd1d5" stroke="#b72f3f"/><path d="M175.3 34 177.2 34 178.2 32.4 176.3 32.5z" fill="#ecced2" stroke="#a81e32"/><path d="M148.4 37.1 150.2 37 151.2 37.1 149.4 37.2z" fill="#efd1d5" stroke="#b62e3e"/><path d="M177.2 34 179 34.1 180 32.5 178.2 32.4z" fill="#ecced2" stroke="#a81e32"/><path d="M150.2 37 152.1 36.9 153.1 36.8 151.2 37.1z" fill="#efd1d4" stroke="#b52d3e"/><path d="M179 34.1 180.8 34.2 181.8 32.6 180 32.5z" fill="#ecced2" stroke="#a81e32"/><path d="M180.8 34.2 182.7 34.4 183.7 32.9 181.8 32.6z" fill="#ecced2" stroke="#a81e32"/><path d="M152.1 36.9 153.9 36.8 154.9 36.6 153.1 36.8z" fill="#efd1d4" stroke="#b42c3d"/><path d="M182.7 34.4 184.6 34.7 185.6 33.2 183.7 32.9z" fill="#ecced2" stroke="#a91f33"/><path d="M184.6 34.7 186.4 35 187.4 33.6 185.6 33.2z" fill="#ecced2" stroke="#aa2034"/><path d="M186.4 35 188.2 35.3 189.2 34.1 187.4 33.6z" fill="#ecced2" stroke="#ab2134"/><path d="M153.9 36.8 155.8 36.6 156.8 36.3 154.9 36.6z" fill="#eed0d4" stroke="#b32b3c"/><path d="M188.2 35.3 190.1 35.7 191.1 34.6 189.2 34.1z" fill="#edcfd3" stroke="#ac2336"/><path d="M190.1 35.7 191.9 36.2 192.9 35.2 191.1 34.6z" fill="#edcfd3" stroke="#ae2437"/><path d="M191.9 36.2 193.8 36.6 194.8 35.9 192.9 35.2z" fill="#edcfd3" stroke="#af2638"/><path d="M193.8 36.6 195.7 37.1 196.7 36.5 194.8 35.9z" fill="#eed0d4" stroke="#b1283a"/><path d="M195.7 37.1 197.5 37.7 198.5 37.3 196.7 36.5z" fill="#eed0d4" stroke="#b32b3c"/><path d="M155.8 36.6 157.7 36.5 158.7 36 156.8 36.3z" fill="#eed0d4" stroke="#b2293b"/><path d="M197.5 37.7 199.3 38.2 200.3 38 198.5 37.3z" fill="#efd1d4" stroke="#b52d3d"/><path d="M199.3 38.2 201.2 38.7 202.2 38.7 200.3 38z" fill="#efd1d5" stroke="#b72f3f"/><path d="M201.2 38.7 203.1 39.2 204.1 39.4 202.2 38.7z" fill="#f0d2d5" stroke="#b93140"/><path d="M203.1 39.2 204.9 39.6 205.9 40 204.1 39.4z" fill="#f0d2d5" stroke="#bb3342"/><path d="M204.9 39.6 206.8 40.1 207.8 40.6 205.9 40z" fill="#f0d3d6" stroke="#bc3543"/><path d="M206.8 40.1 208.6 40.4 209.6 41.1 207.8 40.6z" fill="#f1d3d6" stroke="#be3745"/><path d="M157.7 36.5 159.5 36.3 160.5 35.7 158.7 36z" fill="#eed0d4" stroke="#b12839"/><path d="M208.6 40.4 210.4 40.8 211.4 41.6 209.6 41.1z" fill="#f1d3d6" stroke="#bf3846"/><path d="M210.4 40.8 212.3 41 213.3 41.9 211.4 41.6z" fill="#f1d4d6" stroke="#c03947"/><path d="M159.5 36.3 161.3 36.1 162.3 35.3 160.5 35.7z" fill="#edcfd3" stroke="#af2638"/><path d="M212.3 41 214.1 41.2 215.1 42.2 213.3 41.9z" fill="#f1d4d7" stroke="#c03a47"/><path d="M214.1 41.2 216 41.4 217 42.3 215.1 42.2z" fill="#f1d4d7" stroke="#c13b47"/><path d="M161.3 36.1 163.2 36 164.2 35 162.3 35.3z" fill="#edcfd3" stroke="#ae2537"/><path d="M163.2 36 165.1 35.8 166.1 34.8 164.2 35z" fill="#edcfd3" stroke="#ad2436"/><path d="M165.1 35.8 166.9 35.7 167.9 34.5 166.1 34.8z" fill="#edced3" stroke="#ac2235"/><path d="M166.9 35.7 168.8 35.6 169.8 34.3 167.9 34.5z" fill="#ecced2" stroke="#ab2134"/><path d="M168.8 35.6 170.6 35.6 171.6 34.2 169.8 34.3z" fill="#ecced2" stroke="#aa2034"/><path d="M170.6 35.6 172.4 35.5 173.4 34.1 171.6 34.2z" fill="#ecced2" stroke="#a91f33"/><path d="M140 37.1 141.8 37.2 142.8 37.1 141 37z" fill="#eed0d4" stroke="#b2293a"/><path d="M172.4 35.5 174.3 35.5 175.3 34 173.4 34.1z" fill="#ecced2" stroke="#a91f33"/><path d="M141.8 37.2 143.7 37.2 144.7 37.1 142.8 37.1z" fill="#eed0d4" stroke="#b2293a"/><path d="M174.3 35.5 176.2 35.6 177.2 34 175.3 34z" fill="#ecced2" stroke="#a81e32"/><path d="M143.7 37.2 145.6 37.3 146.6 37.1 144.7 37.1z" fill="#eed0d4" stroke="#b1293a"/><path d="M176.2 35.6 178 35.7 179 34.1 177.2 34z" fill="#ecced2" stroke="#a81e32"/><path d="M145.6 37.3 147.4 37.3 148.4 37.1 146.6 37.1z" fill="#eed0d4" stroke="#b1283a"/><path d="M178 35.7 179.8 35.8 180.8 34.2 179 34.1z" fill="#ecced2" stroke="#a81e32"/><path d="M179.8 35.8 181.7 35.9 182.7 34.4 180.8 34.2z" fill="#ecced2" stroke="#a81e32"/><path d="M147.4 37.3 149.2 37.3 150.2 37 148.4 37.1z" fill="#eed0d4" stroke="#b12839"/><path d="M181.7 35.9 183.6 36.1 184.6 34.7 182.7 34.4z" fill="#ecced2" stroke="#a91f33"/><path d="M149.2 37.3 151.1 37.3 152.1 36.9 150.2 37z" fill="#eed0d3" stroke="#b02739"/><path d="M183.6 36.1 185.4 36.4 186.4 35 184.6 34.7z" fill="#ecced2" stroke="#a91f33"/><path d="M185.4 36.4 187.2 36.6 188.2 35.3 186.4 35z" fill="#ecced2" stroke="#aa2034"/><path d="M151.1 37.3 152.9 37.3 153.9 36.8 152.1 36.9z" fill="#edcfd3" stroke="#af2638"/><path d="M187.2 36.6 189.1 36.9 190.1 35.7 188.2 35.3z" fill="#ecced2" stroke="#ab2134"/><path d="M189.1 36.9 190.9 37.2 191.9 36.2 190.1 35.7z" fill="#edced3" stroke="#ac2235"/><path d="M152.9 37.3 154.8 37.2 155.8 36.6 153.9 36.8z" fill="#edcfd3" stroke="#af2638"/><path d="M190.9 37.2 192.8 37.6 193.8 36.6 191.9 36.2z" fill="#edcfd3" stroke="#ad2436"/><path d="M192.8 37.6 194.7 37.9 195.7 37.1 193.8 36.6z" fill="#edcfd3" stroke="#ae2537"/><path d="M194.7 37.9 196.5 38.3 197.5 37.7 195.7 37.1z" fill="#edcfd3" stroke="#af2638"/><path d="M154.8 37.2 156.7 37.2 157.7 36.5 155.8 36.6z" fill="#edcfd3" stroke="#ae2537"/><path d="M196.5 38.3 198.3 38.7 199.3 38.2 197.5 37.7z" fill="#eed0d4" stroke="#b12839"/><path d="M198.3 38.7 200.2 39 201.2 38.7 199.3 38.2z" fill="#eed0d4" stroke="#b2293b"/><path d="M200.2 39 202.1 39.4 203.1 39.2 201.2 38.7z" fill="#eed0d4" stroke="#b32b3c"/><path d="M156.7 37.2 158.5 37.2 159.5 36.3 157.7 36.5z" fill="#edcfd3" stroke="#ad2436"/><path d="M202.1 39.4 203.9 39.7 204.9 39.6 203.1 39.2z" fill="#efd1d4" stroke="#b42c3d"/><path d="M203.9 39.7 205.8 40 206.8 40.1 204.9 39.6z" fill="#efd1d4" stroke="#b52d3e"/><path d="M158.5 37.2 160.3 37.1 161.3 36.1 159.5 36.3z" fill="#edcfd3" stroke="#ac2336"/><path d="M205.8 40 207.6 40.3 208.6 40.4 206.8 40.1z" fill="#efd1d5" stroke="#b62e3e"/><path d="M207.6 40.3 209.4 40.5 210.4 40.8 208.6 40.4z" fill="#efd1d5" stroke="#b72f3f"/><path d="M160.3 37.1 162.2 37.1 163.2 36 161.3 36.1z" fill="#edced3" stroke="#ac2235"/><path d="M209.4 40.5 211.3 40.7 212.3 41 210.4 40.8z" fill="#efd1d5" stroke="#b83040"/><path d="M211.3 40.7 213.1 40.9 214.1 41.2 212.3 41z" fill="#efd2d5" stroke="#b83040"/><path d="M162.2 37.1 164.1 37 165.1 35.8 163.2 36z" fill="#edced2" stroke="#ab2135"/><path d="M213.1 40.9 215 41 216 41.4 214.1 41.2z" fill="#efd2d5" stroke="#b83140"/><path d="M164.1 37 165.9 37 166.9 35.7 165.1 35.8z" fill="#ecced2" stroke="#aa2134"/><path d="M165.9 37 167.8 37 168.8 35.6 166.9 35.7z" fill="#ecced2" stroke="#aa2033"/><path d="M167.8 37 169.6 37 170.6 35.6 168.8 35.6z" fill="#ecced2" stroke="#a91f33"/><path d="M169.6 37 171.4 37 172.4 35.5 170.6 35.6z" fill="#ecced2" stroke="#a91f33"/><path d="M171.4 37 173.3 37.1 174.3 35.5 172.4 35.5z" fill="#ecced2" stroke="#a81e32"/><path d="M173.3 37.1 175.2 37.2 176.2 35.6 174.3 35.5z" fill="#ecced2" stroke="#a81e32"/><path d="M139 37.6 140.8 37.7 141.8 37.2 140 37.1z" fill="#edcfd3" stroke="#ad2436"/><path d="M175.2 37.2 177 37.2 178 35.7 176.2 35.6z" fill="#ecced2" stroke="#a81e32"/><path d="M140.8 37.7 142.7 37.8 143.7 37.2 141.8 37.2z" fill="#edcfd3" stroke="#ad2436"/><path d="M177 37.2 178.8 37.4 179.8 35.8 178 35.7z" fill="#ecced2" stroke="#a81e32"/><path d="M142.7 37.8 144.6 37.9 145.6 37.3 143.7 37.2z" fill="#edcfd3" stroke="#ad2436"/><path d="M178.8 37.4 180.7 37.5 181.7 35.9 179.8 35.8z" fill="#ecced2" stroke="#a81e32"/><path d="M144.6 37.9 146.4 38 147.4 37.3 145.6 37.3z" fill="#edcfd3" stroke="#ad2336"/><path d="M180.7 37.5 182.6 37.6 183.6 36.1 181.7 35.9z" fill="#ecced2" stroke="#a81e32"/><path d="M182.6 37.6 184.4 37.8 185.4 36.4 183.6 36.1z" fill="#ecced2" stroke="#a91f33"/><path d="M146.4 38 148.2 38 149.2 37.3 147.4 37.3z" fill="#edcfd3" stroke="#ac2336"/><path d="M184.4 37.8 186.2 38 187.2 36.6 185.4 36.4z" fill="#ecced2" stroke="#a91f33"/><path d="M148.2 38 150.1 38.1 151.1 37.3 149.2 37.3z" fill="#edcfd3" stroke="#ac2336"/><path d="M186.2 38 188.1 38.2 189.1 36.9 187.2 36.6z" fill="#ecced2" stroke="#aa2033"/><path d="M150.1 38.1 151.9 38.1 152.9 37.3 151.1 37.3z" fill="#edced3" stroke="#ac2235"/><path d="M188.1 38.2 189.9 38.4 190.9 37.2 189.1 36.9z" fill="#ecced2" stroke="#aa2134"/><path d="M189.9 38.4 191.8 38.7 192.8 37.6 190.9 37.2z" fill="#edced2" stroke="#ab2135"/><path d="M151.9 38.1 153.8 38.2 154.8 37.2 152.9 37.3z" fill="#edced3" stroke="#ab2235"/><path d="M191.8 38.7 193.7 38.9 194.7 37.9 192.8 37.6z" fill="#edced3" stroke="#ac2235"/><path d="M193.7 38.9 195.5 39.2 196.5 38.3 194.7 37.9z" fill="#edcfd3" stroke="#ac2336"/><path d="M153.8 38.2 155.7 38.2 156.7 37.2 154.8 37.2z" fill="#edced2" stroke="#ab2235"/><path d="M195.5 39.2 197.3 39.4 198.3 38.7 196.5 38.3z" fill="#edcfd3" stroke="#ad2436"/><path d="M155.7 38.2 157.5 38.2 158.5 37.2 156.7 37.2z" fill="#ecced2" stroke="#ab2134"/><path d="M197.3 39.4 199.2 39.6 200.2 39 198.3 38.7z" fill="#edcfd3" stroke="#ae2537"/><path d="M199.2 39.6 201.1 39.9 202.1 39.4 200.2 39z" fill="#edcfd3" stroke="#af2638"/><path d="M157.5 38.2 159.3 38.3 160.3 37.1 158.5 37.2z" fill="#ecced2" stroke="#aa2134"/><path d="M201.1 39.9 202.9 40.1 203.9 39.7 202.1 39.4z" fill="#edcfd3" stroke="#af2638"/><path d="M202.9 40.1 204.8 40.3 205.8 40 203.9 39.7z" fill="#eed0d3" stroke="#b02739"/><path d="M159.3 38.3 161.2 38.3 162.2 37.1 160.3 37.1z" fill="#ecced2" stroke="#aa2034"/><path d="M204.8 40.3 206.6 40.5 207.6 40.3 205.8 40z" fill="#eed0d4" stroke="#b12839"/><path d="M161.2 38.3 163.1 38.4 164.1 37 162.2 37.1z" fill="#ecced2" stroke="#aa2033"/><path d="M206.6 40.5 208.4 40.7 209.4 40.5 207.6 40.3z" fill="#eed0d4" stroke="#b1283a"/><path d="M208.4 40.7 210.3 40.8 211.3 40.7 209.4 40.5z" fill="#eed0d4" stroke="#b1293a"/><path d="M163.1 38.4 164.9 38.4 165.9 37 164.1 37z" fill="#ecced2" stroke="#a91f33"/><path d="M210.3 40.8 212.1 41 213.1 40.9 211.3 40.7z" fill="#eed0d4" stroke="#b2293a"/><path d="M164.9 38.4 166.8 38.5 167.8 37 165.9 37z" fill="#ecced2" stroke="#a91f33"/><path d="M212.1 41 214 41.1 215 41 213.1 40.9z" fill="#eed0d4" stroke="#b2293a"/><path d="M166.8 38.5 168.6 38.5 169.6 37 167.8 37z" fill="#ecced2" stroke="#a91f33"/><path d="M168.6 38.5 170.4 38.6 171.4 37 169.6 37z" fill="#ecced2" stroke="#a81e32"/><path d="M170.4 38.6 172.3 38.7 173.3 37.1 171.4 37z" fill="#ecced2" stroke="#a81e32"/><path d="M172.3 38.7 174.2 38.7 175.2 37.2 173.3 37.1z" fill="#ecced2" stroke="#a81e32"/><path d="M174.2 38.7 176 38.8 177 37.2 175.2 37.2z" fill="#ecced2" stroke="#a81e32"/><path d="M138 38.6 139.8 38.7 140.8 37.7 139 37.6z" fill="#ecced2" stroke="#aa2034"/><path d="M176 38.8 177.8 38.9 178.8 37.4 177 37.2z" fill="#ecced2" stroke="#a81e32"/><path d="M139.8 38.7 141.7 38.8 142.7 37.8 140.8 37.7z" fill="#ecced2" stroke="#aa2034"/><path d="M177.8 38.9 179.7 39.1 180.7 37.5 178.8 37.4z" fill="#ecced2" stroke="#a81e32"/><path d="M141.7 38.8 143.6 38.9 144.6 37.9 142.7 37.8z" fill="#ecced2" stroke="#aa2034"/><path d="M179.7 39.1 181.6 39.2 182.6 37.6 180.7 37.5z" fill="#ecced2" stroke="#a81e32"/><path d="M143.6 38.9 145.4 39 146.4 38 144.6 37.9z" fill="#ecced2" stroke="#aa2034"/><path d="M181.6 39.2 183.4 39.3 184.4 37.8 182.6 37.6z" fill="#ecced2" stroke="#a81e32"/><path d="M183.4 39.3 185.2 39.5 186.2 38 184.4 37.8z" fill="#ecced2" stroke="#a91f33"/><path d="M145.4 39 147.2 39.1 148.2 38 146.4 38z" fill="#ecced2" stroke="#aa2033"/><path d="M185.2 39.5 187.1 39.6 188.1 38.2 186.2 38z" fill="#ecced2" stroke="#a91f33"/><path d="M147.2 39.1 149.1 39.2 150.1 38.1 148.2 38z" fill="#ecced2" stroke="#aa2033"/><path d="M187.1 39.6 188.9 39.8 189.9 38.4 188.1 38.2z" fill="#ecced2" stroke="#a91f33"/><path d="M149.1 39.2 150.9 39.3 151.9 38.1 150.1 38.1z" fill="#ecced2" stroke="#a92033"/><path d="M188.9 39.8 190.8 39.9 191.8 38.7 189.9 38.4z" fill="#ecced2" stroke="#aa2033"/><path d="M150.9 39.3 152.8 39.3 153.8 38.2 151.9 38.1z" fill="#ecced2" stroke="#a92033"/><path d="M190.8 39.9 192.7 40.1 193.7 38.9 191.8 38.7z" fill="#ecced2" stroke="#aa2034"/><path d="M192.7 40.1 194.5 40.2 195.5 39.2 193.7 38.9z" fill="#ecced2" stroke="#aa2134"/><path d="M152.8 39.3 154.7 39.4 155.7 38.2 153.8 38.2z" fill="#ecced2" stroke="#a91f33"/><path d="M194.5 40.2 196.3 40.4 197.3 39.4 195.5 39.2z" fill="#ecced2" stroke="#ab2134"/><path d="M154.7 39.4 156.5 39.5 157.5 38.2 155.7 38.2z" fill="#ecced2" stroke="#a91f33"/><path d="M196.3 40.4 198.2 40.6 199.2 39.6 197.3 39.4z" fill="#edced2" stroke="#ab2235"/><path d="M156.5 39.5 158.3 39.6 159.3 38.3 157.5 38.2z" fill="#ecced2" stroke="#a91f33"/><path d="M198.2 40.6 200.1 40.7 201.1 39.9 199.2 39.6z" fill="#edced3" stroke="#ab2235"/><path d="M158.3 39.6 160.2 39.7 161.2 38.3 159.3 38.3z" fill="#ecced2" stroke="#a91f33"/><path d="M200.1 40.7 201.9 40.9 202.9 40.1 201.1 39.9z" fill="#edced3" stroke="#ac2235"/><path d="M201.9 40.9 203.8 41 204.8 40.3 202.9 40.1z" fill="#edcfd3" stroke="#ac2336"/><path d="M160.2 39.7 162.1 39.8 163.1 38.4 161.2 38.3z" fill="#ecced2" stroke="#a91f33"/><path d="M203.8 41 205.6 41.2 206.6 40.5 204.8 40.3z" fill="#edcfd3" stroke="#ac2336"/><path d="M162.1 39.8 163.9 39.9 164.9 38.4 163.1 38.4z" fill="#ecced2" stroke="#a81f32"/><path d="M205.6 41.2 207.4 41.3 208.4 40.7 206.6 40.5z" fill="#edcfd3" stroke="#ad2336"/><path d="M163.9 39.9 165.8 39.9 166.8 38.5 164.9 38.4z" fill="#ecced2" stroke="#a81e32"/><path d="M207.4 41.3 209.3 41.4 210.3 40.8 208.4 40.7z" fill="#edcfd3" stroke="#ad2436"/><path d="M165.8 39.9 167.6 40 168.6 38.5 166.8 38.5z" fill="#ecced2" stroke="#a81e32"/><path d="M209.3 41.4 211.1 41.5 212.1 41 210.3 40.8z" fill="#edcfd3" stroke="#ad2436"/><path d="M167.6 40 169.4 40.1 170.4 38.6 168.6 38.5z" fill="#ecced2" stroke="#a81e32"/><path d="M211.1 41.5 213 41.6 214 41.1 212.1 41z" fill="#edcfd3" stroke="#ad2436"/><path d="M169.4 40.1 171.3 40.2 172.3 38.7 170.4 38.6z" fill="#ecced2" stroke="#a81e32"/><path d="M171.3 40.2 173.2 40.3 174.2 38.7 172.3 38.7z" fill="#ecced2" stroke="#a81e32"/><path d="M173.2 40.3 175 40.4 176 38.8 174.2 38.7z" fill="#ecced2" stroke="#a81e32"/><path d="M175 40.4 176.8 40.5 177.8 38.9 176 38.8z" fill="#ecced2" stroke="#a81e32"/><path d="M137 40 138.8 40.1 139.8 38.7 138 38.6z" fill="#ecced2" stroke="#a81e32"/><path d="M176.8 40.5 178.7 40.6 179.7 39.1 177.8 38.9z" fill="#ecced2" stroke="#a81e32"/><path d="M138.8 40.1 140.7 40.2 141.7 38.8 139.8 38.7z" fill="#ecced2" stroke="#a81e32"/><path d="M178.7 40.6 180.6 40.7 181.6 39.2 179.7 39.1z" fill="#ecced2" stroke="#a81e32"/><path d="M140.7 40.2 142.6 40.3 143.6 38.9 141.7 38.8z" fill="#ecced2" stroke="#a81e32"/><path d="M180.6 40.7 182.4 40.8 183.4 39.3 181.6 39.2z" fill="#ecced2" stroke="#a81e32"/><path d="M142.6 40.3 144.4 40.4 145.4 39 143.6 38.9z" fill="#ecced2" stroke="#a81e32"/><path d="M182.4 40.8 184.2 40.9 185.2 39.5 183.4 39.3z" fill="#ecced2" stroke="#a81e32"/><path d="M144.4 40.4 146.2 40.5 147.2 39.1 145.4 39z" fill="#ecced2" stroke="#a81e32"/><path d="M184.2 40.9 186.1 41.1 187.1 39.6 185.2 39.5z" fill="#ecced2" stroke="#a81e32"/><path d="M146.2 40.5 148.1 40.6 149.1 39.2 147.2 39.1z" fill="#ecced2" stroke="#a81e32"/><path d="M186.1 41.1 187.9 41.2 188.9 39.8 187.1 39.6z" fill="#ecced2" stroke="#a81f32"/><path d="M148.1 40.6 149.9 40.7 150.9 39.3 149.1 39.2z" fill="#ecced2" stroke="#a81e32"/><path d="M187.9 41.2 189.8 41.3 190.8 39.9 188.9 39.8z" fill="#ecced2" stroke="#a91f33"/><path d="M149.9 40.7 151.8 40.8 152.8 39.3 150.9 39.3z" fill="#ecced2" stroke="#a81e32"/><path d="M189.8 41.3 191.7 41.4 192.7 40.1 190.8 39.9z" fill="#ecced2" stroke="#a91f33"/><path d="M151.8 40.8 153.7 40.9 154.7 39.4 152.8 39.3z" fill="#ecced2" stroke="#a81e32"/><path d="M191.7 41.4 193.5 41.5 194.5 40.2 192.7 40.1z" fill="#ecced2" stroke="#a91f33"/><path d="M153.7 40.9 155.5 41 156.5 39.5 154.7 39.4z" fill="#ecced2" stroke="#a81e32"/><path d="M193.5 41.5 195.3 41.6 196.3 40.4 194.5 40.2z" fill="#ecced2" stroke="#a91f33"/><path d="M155.5 41 157.3 41.1 158.3 39.6 156.5 39.5z" fill="#ecced2" stroke="#a81e32"/><path d="M195.3 41.6 197.2 41.7 198.2 40.6 196.3 40.4z" fill="#ecced2" stroke="#a91f33"/><path d="M197.2 41.7 199.1 41.9 200.1 40.7 198.2 40.6z" fill="#ecced2" stroke="#a92033"/><path d="M157.3 41.1 159.2 41.2 160.2 39.7 158.3 39.6z" fill="#ecced2" stroke="#a81e32"/><path d="M199.1 41.9 200.9 42 201.9 40.9 200.1 40.7z" fill="#ecced2" stroke="#a92033"/><path d="M159.2 41.2 161.1 41.3 162.1 39.8 160.2 39.7z" fill="#ecced2" stroke="#a81e32"/><path d="M200.9 42 202.8 42.1 203.8 41 201.9 40.9z" fill="#ecced2" stroke="#aa2033"/><path d="M161.1 41.3 162.9 41.4 163.9 39.9 162.1 39.8z" fill="#ecced2" stroke="#a81e32"/><path d="M202.8 42.1 204.6 42.2 205.6 41.2 203.8 41z" fill="#ecced2" stroke="#aa2033"/><path d="M162.9 41.4 164.8 41.5 165.8 39.9 163.9 39.9z" fill="#ecced2" stroke="#a81e32"/><path d="M204.6 42.2 206.4 42.3 207.4 41.3 205.6 41.2z" fill="#ecced2" stroke="#aa2034"/><path d="M164.8 41.5 166.6 41.6 167.6 40 165.8 39.9z" fill="#ecced2" stroke="#a81e32"/><path d="M206.4 42.3 208.3 42.4 209.3 41.4 207.4 41.3z" fill="#ecced2" stroke="#aa2034"/><path d="M166.6 41.6 168.4 41.7 169.4 40.1 167.6 40z" fill="#ecced2" stroke="#a81e32"/><path d="M208.3 42.4 210.1 42.5 211.1 41.5 209.3 41.4z" fill="#ecced2" stroke="#aa2034"/><path d="M168.4 41.7 170.3 41.8 171.3 40.2 169.4 40.1z" fill="#ecced2" stroke="#a81e32"/><path d="M210.1 42.5 212 42.6 213 41.6 211.1 41.5z" fill="#ecced2" stroke="#aa2034"/><path d="M170.3 41.8 172.2 41.9 173.2 40.3 171.3 40.2z" fill="#ecced2" stroke="#a81e32"/><path d="M172.2 41.9 174 42 175 40.4 173.2 40.3z" fill="#ecced2" stroke="#a81e32"/><path d="M174 42 175.8 42.1 176.8 40.5 175 40.4z" fill="#ecced2" stroke="#a81e32"/><path d="M175.8 42.1 177.7 42.2 178.7 40.6 176.8 40.5z" fill="#ecced2" stroke="#a81e32"/><path d="M177.7 42.2 179.6 42.3 180.6 40.7 178.7 40.6z" fill="#ecced2" stroke="#a81e32"/><path d="M179.6 42.3 181.4 42.4 182.4 40.8 180.6 40.7z" fill="#ecced2" stroke="#a81e32"/><path d="M181.4 42.4 183.2 42.5 184.2 40.9 182.4 40.8z" fill="#ecced2" stroke="#a81e32"/><path d="M183.2 42.5 185.1 42.6 186.1 41.1 184.2 40.9z" fill="#ecced2" stroke="#a81e32"/><path d="M185.1 42.6 186.9 42.7 187.9 41.2 186.1 41.1z" fill="#ecced2" stroke="#a81e32"/><path d="M186.9 42.7 188.8 42.8 189.8 41.3 187.9 41.2z" fill="#ecced2" stroke="#a81e32"/><path d="M188.8 42.8 190.7 42.9 191.7 41.4 189.8 41.3z" fill="#ecced2" stroke="#a81e32"/><path d="M190.7 42.9 192.5 43 193.5 41.5 191.7 41.4z" fill="#ecced2" stroke="#a81e32"/><path d="M192.5 43 194.3 43.1 195.3 41.6 193.5 41.5z" fill="#ecced2" stroke="#a81e32"/><path d="M194.3 43.1 196.2 43.2 197.2 41.7 195.3 41.6z" fill="#ecced2" stroke="#a81e32"/><path d="M196.2 43.2 198.1 43.3 199.1 41.9 197.2 41.7z" fill="#ecced2" stroke="#a81e32"/><path d="M198.1 43.3 199.9 43.4 200.9 42 199.1 41.9z" fill="#ecced2" stroke="#a81e32"/><path d="M199.9 43.4 201.8 43.5 202.8 42.1 200.9 42z" fill="#ecced2" stroke="#a81e32"/><path d="M201.8 43.5 203.6 43.6 204.6 42.2 202.8 42.1z" fill="#ecced2" stroke="#a81e32"/><path d="M203.6 43.6 205.4 43.7 206.4 42.3 204.6 42.2z" fill="#ecced2" stroke="#a81e32"/><path d="M205.4 43.7 207.3 43.8 208.3 42.4 206.4 42.3z" fill="#ecced2" stroke="#a81e32"/><path d="M207.3 43.8 209.1 43.9 210.1 42.5 208.3 42.4z" fill="#ecced2" stroke="#a81e32"/><path d="M209.1 43.9 211 44 212 42.6 210.1 42.5z" fill="#ecced2" stroke="#a81e32"/></g>
<line x1="137" y1="40" x2="211" y2="44" stroke="#8a1a2c" stroke-width="1.1" stroke-opacity=".8"/>
<g stroke="#c4c4c4" stroke-width="0.8"><line x1="272.5" y1="95" x2="272.5" y2="40"/><line x1="272.5" y1="95" x2="346.5" y2="99"/><line x1="346.5" y1="99" x2="358.5" y2="80"/><line x1="284.5" y1="76" x2="284.5" y2="21"/><line x1="284.5" y1="21" x2="358.5" y2="25"/><line x1="358.5" y1="25" x2="358.5" y2="80"/><line x1="284.5" y1="76" x2="358.5" y2="80"/><line x1="272.5" y1="95" x2="284.5" y2="76"/><line x1="272.5" y1="40" x2="284.5" y2="21"/></g>
<g font-size="4.6" text-anchor="end">
<text x="269.9" y="42.1">0</text>
<text x="269.9" y="60.4">-20</text>
<text x="269.9" y="78.8">-40</text>
<text x="269.9" y="97.1">-60</text>
</g><g font-size="4.6" text-anchor="middle">
<text x="269.5" y="101.6">180</text>
<text x="288" y="102.6">90</text>
<text x="306.5" y="103.6">0</text>
<text x="325" y="104.6">-90</text>
<text x="343.5" y="105.6">-180</text>
<text x="350.1" y="102.6">0</text>
<text x="356.1" y="93.1">2</text>
<text x="362.1" y="83.6">4</text>
</g>
<text x="306.5" y="109" font-size="5.6" text-anchor="middle"><tspan font-style="italic">θ</tspan> (°)</text>
<text x="358" y="105.2" font-size="5.6"><tspan font-style="italic">f</tspan> (kHz)</text>
<text transform="translate(260,67.5) rotate(-90)" font-size="5" text-anchor="middle">|dB|</text>
<g stroke="#000" stroke-opacity=".07" stroke-width=".3"><path d="M287.5 69.2 287.7 68 290.7 63.2 290.5 64.4z" fill="#5f5fc6"/><path d="M287.1 66.5 287.5 69.2 290.5 64.4 290.1 61.8z" fill="#6e6ee5"/><path d="M287.7 68 288.3 64.5 291.3 59.7 290.7 63.2z" fill="#6767d7"/><path d="M297.1 69.7 297.5 69 300.5 64.2 300.1 64.9z" fill="#5757b6"/><path d="M296.9 68.3 297.1 69.7 300.1 64.9 299.9 63.5z" fill="#6d6de5"/><path d="M286.4 62.6 287.1 66.5 290.1 61.8 289.4 57.8z" fill="#6565d3"/><path d="M297.5 69 298.1 67.9 301.1 63 300.5 64.2z" fill="#5f5fc6"/><path d="M298.1 67.9 298.8 66.4 301.8 61.3 301.1 63z" fill="#5a5abd"/><path d="M296.3 64.1 296.9 68.3 299.9 63.5 299.3 59.4z" fill="#6565d2"/><path d="M288.3 64.5 288.9 61 291.9 56.2 291.3 59.7z" fill="#5f5fc6"/><path d="M285.8 59.3 286.4 62.6 289.4 57.8 288.8 54.5z" fill="#6e6ee6"/><path d="M298.8 66.4 299.4 64.7 302.4 59.2 301.8 61.3z" fill="#6363d0"/><path d="M288.9 61 289.5 58.7 292.5 53.9 291.9 56.2z" fill="#6565d3"/><path d="M285.2 57.4 285.8 59.3 288.8 54.5 288.2 52.7z" fill="#6666e2"/><path d="M295.7 60.6 296.3 64.1 299.3 59.4 298.7 55.8z" fill="#6e6ee6"/><path d="M299.4 64.7 300 62.3 303 56.7 302.4 59.2z" fill="#5d5dc2"/><path d="M284.6 55.6 285.2 57.4 288.2 52.7 287.6 50.8z" fill="#6c83f8"/><path d="M289.5 58.7 290.1 56.3 293.1 51.6 292.5 53.9z" fill="#5a64cd"/><path d="M295.1 58.2 295.7 60.6 298.7 55.8 298.1 53.4z" fill="#6666d9"/><path d="M284 54.2 284.6 55.6 287.6 50.8 287 49.4z" fill="#6590e8"/><path d="M283.4 53.8 284 54.2 287 49.4 286.4 49.1z" fill="#7ab3ff"/><path d="M300 62.3 300.6 60 303.6 53.3 303 56.7z" fill="#6565d4"/><path d="M282.7 53.5 283.4 53.8 286.4 49.1 285.7 48.7z" fill="#71aaf0"/><path d="M282.1 53.1 282.7 53.5 285.7 48.7 285.1 48.4z" fill="#79bbff"/><path d="M281.5 52.8 282.1 53.1 285.1 48.4 284.5 48z" fill="#70b2f0"/><path d="M290.1 56.3 290.8 55 293.8 50.3 293.1 51.6z" fill="#5b7dd6"/><path d="M294.4 55.8 295.1 58.2 298.1 53.4 297.4 51z" fill="#6b83f6"/><path d="M290.8 55 291.4 54.2 294.4 49.5 293.8 50.3z" fill="#4f7bbe"/><path d="M293.8 54.9 294.4 55.8 297.4 51 296.8 50.2z" fill="#6e99ed"/><path d="M291.4 54.2 292 53.5 295 48.7 294.4 49.5z" fill="#558fce"/><path d="M293.2 54.1 293.8 54.9 296.8 50.2 296.2 49.3z" fill="#75b0ff"/><path d="M292.6 53.2 293.2 54.1 296.2 49.3 295.6 48.5z" fill="#6caeed"/><path d="M300.6 60 301.2 55.5 304.2 48.2 303.6 53.3z" fill="#5a77d2"/><path d="M292 53.5 292.4 52.9 295.4 48.2 295 48.7z" fill="#4d8bbe"/><path d="M339.5 71.2 339.9 72 342.9 67.2 342.5 66.4z" fill="#7878f0"/><path d="M292.4 52.9 292.6 53.2 295.6 48.5 295.4 48.2z" fill="#73c3ff"/><path d="M339.9 72 340.1 70.6 343.1 65.9 342.9 67.2z" fill="#5f5fc7"/><path d="M338.9 70.1 339.5 71.2 342.5 66.4 341.9 65.2z" fill="#6f6fde"/><path d="M338.2 68.6 338.9 70.1 341.9 65.2 341.2 63.4z" fill="#7171ec"/><path d="M340.1 70.6 340.7 66.5 343.7 61.8 343.1 65.9z" fill="#6767d8"/><path d="M349.3 71.3 349.5 72.5 352.5 67.8 352.3 66.6z" fill="#6e6ee6"/><path d="M337.6 66.8 338.2 68.6 341.2 63.4 340.6 61.3z" fill="#6767d8"/><path d="M349.5 72.5 349.9 69.9 352.9 65.2 352.5 67.8z" fill="#5f5fc6"/><path d="M301.2 55.5 301.9 50.9 304.9 43.6 304.2 48.2z" fill="#5abfe4"/><path d="M337 64.3 337.6 66.8 340.6 61.3 340 58.7z" fill="#6f6fe9"/><path d="M348.7 67.8 349.3 71.3 352.3 66.6 351.7 63z" fill="#6565d3"/><path d="M340.7 66.5 341.3 63 344.3 58.3 343.7 61.8z" fill="#5f5fc6"/><path d="M349.9 69.9 350.6 66 353.6 61.3 352.9 65.2z" fill="#6767d8"/><path d="M336.4 61.9 337 64.3 340 58.7 339.4 55.2z" fill="#6666d5"/><path d="M348.1 64.2 348.7 67.8 351.7 63 351.1 59.4z" fill="#6e6ee6"/><path d="M301.9 50.9 302.5 47.1 305.5 40.1 304.9 43.6z" fill="#62d0ba"/><path d="M341.3 63 341.9 60.7 344.9 56 344.3 58.3z" fill="#6464d6"/><path d="M350.6 66 351.2 62.8 354.2 58.1 353.6 61.3z" fill="#5e5ec5"/><path d="M335.8 57.4 336.4 61.9 339.4 55.2 338.8 50.1z" fill="#6889f2"/><path d="M347.5 61.8 348.1 64.2 351.1 59.4 350.5 57z" fill="#6666d6"/><path d="M302.5 47.1 303.1 43.7 306.1 36.9 305.5 40.1z" fill="#9be192"/><path d="M341.9 60.7 342.6 58.4 345.6 53.6 344.9 56z" fill="#596dcd"/><path d="M346.9 59.4 347.5 61.8 350.5 57 349.9 54.7z" fill="#6c78f6"/><path d="M351.2 62.8 351.8 61 354.8 56.3 354.2 58.1z" fill="#6262d9"/><path d="M342.6 58.4 343.2 57.6 346.2 52.8 345.6 53.6z" fill="#577fce"/><path d="M346.2 58 346.9 59.4 349.9 54.7 349.2 53.3z" fill="#668ae8"/><path d="M343.2 57.6 343.8 56.8 346.8 52 346.2 52.8z" fill="#4f7ebe"/><path d="M303.1 43.7 303.7 41.1 306.7 34.6 306.1 36.9z" fill="#b5cc59"/><path d="M335.1 52.7 335.8 57.4 338.8 50.1 338.1 45.4z" fill="#58bbdf"/><path d="M351.8 61 352.4 59.2 355.4 54.5 354.8 56.3z" fill="#576bca"/><path d="M345.6 57.2 346.2 58 349.2 53.3 348.6 52.4z" fill="#76acff"/><path d="M343.8 56.8 344.4 56 347.4 51.3 346.8 52z" fill="#5492ce"/><path d="M345 56.3 345.6 57.2 348.6 52.4 348 51.6z" fill="#6caaed"/><path d="M344.6 55.7 345 56.3 348 51.6 347.6 51z" fill="#73c1ff"/><path d="M344.4 56 344.6 55.7 347.6 51 347.4 51.3z" fill="#4d8dbe"/><path d="M352.4 59.2 353 57.9 356 53.2 355.4 54.5z" fill="#5a83d5"/><path d="M303.7 41.1 304.3 39 307.3 32.8 306.7 34.6z" fill="#dcd242"/><path d="M353 57.9 353.6 57.6 356.6 52.9 356 53.2z" fill="#588cd4"/><path d="M353.6 57.6 354.3 57.4 357.3 52.6 356.6 52.9z" fill="#5f9ce6"/><path d="M334.5 48.8 335.1 52.7 338.1 45.4 337.5 41.8z" fill="#73f4da"/><path d="M354.3 57.4 354.9 57.1 357.9 52.3 357.3 52.6z" fill="#5793d4"/><path d="M304.3 39 304.9 37.4 307.9 31.5 307.3 32.8z" fill="#c5a339"/><path d="M354.9 57.1 355.5 56.8 358.5 52 357.9 52.3z" fill="#5ea4e6"/><path d="M284.5 73.9 284.7 72.7 287.7 68 287.5 69.2z" fill="#5f5fc6"/><path d="M284.1 71.3 284.5 73.9 287.5 69.2 287.1 66.5z" fill="#6e6ee5"/><path d="M304.9 37.4 305.6 36.1 308.6 30.3 307.9 31.5z" fill="#d3983b"/><path d="M305.6 36.1 306.2 35 309.2 29.4 308.6 30.3z" fill="#bd7733"/><path d="M333.9 45.4 334.5 48.8 337.5 41.8 336.9 38.6z" fill="#9be192"/><path d="M284.7 72.7 285.3 69.2 288.3 64.5 287.7 68z" fill="#6767d7"/><path d="M294.1 74.4 294.5 73.8 297.5 69 297.1 69.7z" fill="#5656b4"/><path d="M306.2 35 306.8 34.2 309.8 28.6 309.2 29.4z" fill="#ce7236"/><path d="M293.9 73 294.1 74.4 297.1 69.7 296.9 68.3z" fill="#6d6de5"/><path d="M283.4 67.3 284.1 71.3 287.1 66.5 286.4 62.6z" fill="#6565d3"/><path d="M294.5 73.8 295.1 72.9 298.1 67.9 297.5 69z" fill="#5e5ec4"/><path d="M306.8 34.2 307.4 33.4 310.4 27.8 309.8 28.6z" fill="#bf5d31"/><path d="M333.3 42.7 333.9 45.4 336.9 38.6 336.3 36.2z" fill="#daf76b"/><path d="M307.4 33.4 308 32.7 311 27.2 310.4 27.8z" fill="#d25935"/><path d="M295.1 72.9 295.8 71.5 298.8 66.4 298.1 67.9z" fill="#5959bb"/><path d="M293.3 68.9 293.9 73 296.9 68.3 296.3 64.1z" fill="#6565d2"/><path d="M308 32.7 308.6 32 311.6 26.5 311 27.2z" fill="#c44730"/><path d="M285.3 69.2 285.9 65.7 288.9 61 288.3 64.5z" fill="#5f5fc6"/><path d="M332.7 40.5 333.3 42.7 336.3 36.2 335.7 34.4z" fill="#e5db45"/><path d="M282.8 64 283.4 67.3 286.4 62.6 285.8 59.3z" fill="#6e6ee6"/><path d="M308.6 32 309.2 31.4 312.2 25.9 311.6 26.5z" fill="#d64133"/><path d="M295.8 71.5 296.4 70.1 299.4 64.7 298.8 66.4z" fill="#6262cd"/><path d="M309.2 31.4 309.9 30.7 312.9 25.5 312.2 25.9z" fill="#c8322f"/><path d="M332.1 38.9 332.7 40.5 335.7 34.4 335.1 33z" fill="#fcd14d"/><path d="M309.9 30.7 310.5 30.3 313.5 25 312.9 25.5z" fill="#d93434"/><path d="M310.5 30.3 311.1 29.9 314.1 24.6 313.5 25z" fill="#c02f2f"/><path d="M296.4 70.1 297 68 300 62.3 299.4 64.7z" fill="#5c5cc1"/><path d="M285.9 65.7 286.5 63.4 289.5 58.7 288.9 61z" fill="#6565d3"/><path d="M282.2 62.2 282.8 64 285.8 59.3 285.2 57.4z" fill="#6666e2"/><path d="M292.7 65.3 293.3 68.9 296.3 64.1 295.7 60.6z" fill="#6e6ee6"/><path d="M331.4 37.5 332.1 38.9 335.1 33 334.4 31.7z" fill="#eaac49"/><path d="M311.1 29.9 311.7 29.5 314.7 24.3 314.1 24.6z" fill="#cb3333"/><path d="M311.7 29.5 312.3 29.1 315.3 24 314.7 24.3z" fill="#b62f2f"/><path d="M330.8 36.4 331.4 37.5 334.4 31.7 333.8 30.8z" fill="#ffa751"/><path d="M281.6 60.3 282.2 62.2 285.2 57.4 284.6 55.6z" fill="#6c83f8"/><path d="M312.3 29.1 312.9 28.8 315.9 23.7 315.3 24z" fill="#c13333"/><path d="M330.2 35.5 330.8 36.4 333.8 30.8 333.2 29.9z" fill="#ef8e4e"/><path d="M312.9 28.8 313.6 28.5 316.6 23.4 315.9 23.7z" fill="#ad2e2e"/><path d="M297 68 297.6 65.9 300.6 60 300 62.3z" fill="#6464d2"/><path d="M286.5 63.4 287.1 61.1 290.1 56.3 289.5 58.7z" fill="#5a64cd"/><path d="M329.6 34.6 330.2 35.5 333.2 29.9 332.6 29z" fill="#ff8953"/><path d="M313.6 28.5 314.2 28.2 317.2 23.2 316.6 23.4z" fill="#b83232"/><path d="M292.1 62.9 292.7 65.3 295.7 60.6 295.1 58.2z" fill="#6666d9"/><path d="M281 58.9 281.6 60.3 284.6 55.6 284 54.2z" fill="#6590e8"/><path d="M329 33.8 329.6 34.6 332.6 29 332 28.3z" fill="#f0734e"/><path d="M314.2 28.2 314.8 28 317.8 23.1 317.2 23.2z" fill="#aa2f2f"/><path d="M314.8 28 315.4 27.9 318.4 23.1 317.8 23.1z" fill="#bb3434"/><path d="M280.4 58.6 281 58.9 284 54.2 283.4 53.8z" fill="#7ab3ff"/><path d="M328.4 33.1 329 33.8 332 28.3 331.4 27.6z" fill="#ff6e53"/><path d="M279.7 58.2 280.4 58.6 283.4 53.8 282.7 53.5z" fill="#71aaf0"/><path d="M315.4 27.9 316 27.9 319 23.1 318.4 23.1z" fill="#ac3030"/><path d="M279.1 57.9 279.7 58.2 282.7 53.5 282.1 53.1z" fill="#79bbff"/><path d="M278.5 57.5 279.1 57.9 282.1 53.1 281.5 52.8z" fill="#70b2f0"/><path d="M316 27.9 316.6 27.8 319.6 23 319 23.1z" fill="#bc3535"/><path d="M327.8 32.4 328.4 33.1 331.4 27.6 330.8 26.9z" fill="#f15b4e"/><path d="M316.6 27.8 317.3 27.8 320.3 23 319.6 23z" fill="#ad3030"/><path d="M327.1 31.7 327.8 32.4 330.8 26.9 330.1 26.4z" fill="#ff5653"/><path d="M287.1 61.1 287.8 59.8 290.8 55 290.1 56.3z" fill="#5b7dd6"/><path d="M317.3 27.8 317.9 27.8 320.9 23 320.3 23z" fill="#bd3535"/><path d="M326.5 31.2 327.1 31.7 330.1 26.4 329.5 25.9z" fill="#ec4e4e"/><path d="M317.9 27.8 318.5 27.8 321.5 23 320.9 23z" fill="#ae3131"/><path d="M291.4 60.5 292.1 62.9 295.1 58.2 294.4 55.8z" fill="#6b83f6"/><path d="M318.5 27.8 319.1 27.8 322.1 23.1 321.5 23z" fill="#c13838"/><path d="M325.9 30.7 326.5 31.2 329.5 25.9 328.9 25.4z" fill="#f55252"/><path d="M319.1 27.8 319.7 27.9 322.7 23.1 322.1 23.1z" fill="#b33636"/><path d="M325.3 30.2 325.9 30.7 328.9 25.4 328.3 25z" fill="#dd4d4d"/><path d="M319.7 27.9 320.4 28 323.4 23.2 322.7 23.1z" fill="#c33c3c"/><path d="M324.7 29.8 325.3 30.2 328.3 25 327.7 24.6z" fill="#e65050"/><path d="M320.4 28 321 28.1 324 23.3 323.4 23.2z" fill="#b53939"/><path d="M324.1 29.4 324.7 29.8 327.7 24.6 327.1 24.3z" fill="#cf4a4a"/><path d="M321 28.1 321.6 28.2 324.6 23.4 324 23.3z" fill="#c43e3e"/><path d="M297.6 65.9 298.2 62.9 301.2 55.5 300.6 60z" fill="#5c60d1"/><path d="M323.4 29 324.1 29.4 327.1 24.3 326.4 23.9z" fill="#d84e4e"/><path d="M321.6 28.2 322.2 28.4 325.2 23.5 324.6 23.4z" fill="#b63b3b"/><path d="M322.8 28.7 323.4 29 326.4 23.9 325.8 23.7z" fill="#c34848"/><path d="M322.2 28.4 322.8 28.7 325.8 23.7 325.2 23.5z" fill="#ca4545"/><path d="M287.8 59.8 288.4 59 291.4 54.2 290.8 55z" fill="#4f7bbe"/><path d="M290.8 59.7 291.4 60.5 294.4 55.8 293.8 54.9z" fill="#6e99ed"/><path d="M288.4 59 289 58.2 292 53.5 291.4 54.2z" fill="#558fce"/><path d="M290.2 58.8 290.8 59.7 293.8 54.9 293.2 54.1z" fill="#75b0ff"/><path d="M289.6 58 290.2 58.8 293.2 54.1 292.6 53.2z" fill="#6caeed"/><path d="M289 58.2 289.4 57.7 292.4 52.9 292 53.5z" fill="#4d8bbe"/><path d="M336.5 76.1 336.9 76.7 339.9 72 339.5 71.2z" fill="#7a7af1"/><path d="M289.4 57.7 289.6 58 292.6 53.2 292.4 52.9z" fill="#73c3ff"/><path d="M336.9 76.7 337.1 75.4 340.1 70.6 339.9 72z" fill="#5f5fc7"/><path d="M335.9 75.1 336.5 76.1 339.5 71.2 338.9 70.1z" fill="#7272df"/><path d="M335.2 73.7 335.9 75.1 338.9 70.1 338.2 68.6z" fill="#7474ee"/><path d="M298.2 62.9 298.9 58.5 301.9 50.9 301.2 55.5z" fill="#5e9ce4"/><path d="M334.6 72.2 335.2 73.7 338.2 68.6 337.6 66.8z" fill="#6969da"/><path d="M337.1 75.4 337.7 71.3 340.7 66.5 340.1 70.6z" fill="#6767d8"/><path d="M346.3 76.1 346.5 77.3 349.5 72.5 349.3 71.3z" fill="#6e6ee6"/><path d="M346.5 77.3 346.9 74.7 349.9 69.9 349.5 72.5z" fill="#5f5fc6"/><path d="M334 70 334.6 72.2 337.6 66.8 337 64.3z" fill="#7070ea"/><path d="M345.7 72.5 346.3 76.1 349.3 71.3 348.7 67.8z" fill="#6565d3"/><path d="M298.9 58.5 299.5 54.2 302.5 47.1 301.9 50.9z" fill="#50c5d1"/><path d="M333.4 67.8 334 70 337 64.3 336.4 61.9z" fill="#6767d7"/><path d="M337.7 71.3 338.3 67.8 341.3 63 340.7 66.5z" fill="#5f5fc6"/><path d="M346.9 74.7 347.6 70.8 350.6 66 349.9 69.9z" fill="#6767d8"/><path d="M345.1 68.9 345.7 72.5 348.7 67.8 348.1 64.2z" fill="#6e6ee6"/><path d="M332.8 64.7 333.4 67.8 336.4 61.9 335.8 57.4z" fill="#6c70f3"/><path d="M338.3 67.8 338.9 65.5 341.9 60.7 341.3 63z" fill="#6464d6"/><path d="M299.5 54.2 300.1 51 303.1 43.7 302.5 47.1z" fill="#7ae1b7"/><path d="M347.6 70.8 348.2 67.6 351.2 62.8 350.6 66z" fill="#5e5ec5"/><path d="M344.5 66.5 345.1 68.9 348.1 64.2 347.5 61.8z" fill="#6666d6"/><path d="M338.9 65.5 339.6 63.1 342.6 58.4 341.9 60.7z" fill="#596dcd"/><path d="M332.1 60.3 332.8 64.7 335.8 57.4 335.1 52.7z" fill="#5c98df"/><path d="M300.1 51 300.7 47.9 303.7 41.1 303.1 43.7z" fill="#99ce7a"/><path d="M343.9 64.2 344.5 66.5 347.5 61.8 346.9 59.4z" fill="#6c78f6"/><path d="M348.2 67.6 348.8 65.8 351.8 61 351.2 62.8z" fill="#6262d9"/><path d="M339.6 63.1 340.2 62.3 343.2 57.6 342.6 58.4z" fill="#577fce"/><path d="M343.2 62.8 343.9 64.2 346.9 59.4 346.2 58z" fill="#668ae8"/><path d="M340.2 62.3 340.8 61.5 343.8 56.8 343.2 57.6z" fill="#4f7ebe"/><path d="M348.8 65.8 349.4 64 352.4 59.2 351.8 61z" fill="#576bca"/><path d="M342.6 61.9 343.2 62.8 346.2 58 345.6 57.2z" fill="#76acff"/><path d="M300.7 47.9 301.3 45.6 304.3 39 303.7 41.1z" fill="#cbdd57"/><path d="M340.8 61.5 341.4 60.8 344.4 56 343.8 56.8z" fill="#5492ce"/><path d="M342 61.1 342.6 61.9 345.6 57.2 345 56.3z" fill="#6caaed"/><path d="M341.6 60.5 342 61.1 345 56.3 344.6 55.7z" fill="#73c1ff"/><path d="M341.4 60.8 341.6 60.5 344.6 55.7 344.4 56z" fill="#4d8dbe"/><path d="M331.5 55.9 332.1 60.3 335.1 52.7 334.5 48.8z" fill="#5de5f3"/><path d="M349.4 64 350 62.7 353 57.9 352.4 59.2z" fill="#5a83d5"/><path d="M301.3 45.6 301.9 43.6 304.9 37.4 304.3 39z" fill="#c8bb3c"/><path d="M350 62.7 350.6 62.4 353.6 57.6 353 57.9z" fill="#588cd4"/><path d="M350.6 62.4 351.3 62.1 354.3 57.4 353.6 57.6z" fill="#5f9ce6"/><path d="M351.3 62.1 351.9 61.8 354.9 57.1 354.3 57.4z" fill="#5793d4"/><path d="M301.9 43.6 302.6 42.2 305.6 36.1 304.9 37.4z" fill="#d5ad3d"/><path d="M351.9 61.8 352.5 61.5 355.5 56.8 354.9 57.1z" fill="#5ea4e6"/><path d="M330.9 52.7 331.5 55.9 334.5 48.8 333.9 45.4z" fill="#7ae1b7"/><path d="M281.5 78.7 281.7 77.5 284.7 72.7 284.5 73.9z" fill="#5f5fc6"/><path d="M281.1 76 281.5 78.7 284.5 73.9 284.1 71.3z" fill="#6e6ee5"/><path d="M302.6 42.2 303.2 40.9 306.2 35 305.6 36.1z" fill="#c18a35"/><path d="M303.2 40.9 303.8 39.9 306.8 34.2 306.2 35z" fill="#cd8137"/><path d="M281.7 77.5 282.3 74 285.3 69.2 284.7 72.7z" fill="#6767d7"/><path d="M330.3 49.5 330.9 52.7 333.9 45.4 333.3 42.7z" fill="#b6f691"/><path d="M291.1 79.2 291.5 78.6 294.5 73.8 294.1 74.4z" fill="#5555b2"/><path d="M290.9 77.8 291.1 79.2 294.1 74.4 293.9 73z" fill="#6d6de5"/><path d="M303.8 39.9 304.4 39.1 307.4 33.4 306.8 34.2z" fill="#bf6a32"/><path d="M280.4 72.1 281.1 76 284.1 71.3 283.4 67.3z" fill="#6565d3"/><path d="M291.5 78.6 292.1 77.8 295.1 72.9 294.5 73.8z" fill="#5d5dc2"/><path d="M304.4 39.1 305 38.3 308 32.7 307.4 33.4z" fill="#d16636"/><path d="M329.7 47.2 330.3 49.5 333.3 42.7 332.7 40.5z" fill="#d1e45a"/><path d="M292.1 77.8 292.8 76.7 295.8 71.5 295.1 72.9z" fill="#5858b8"/><path d="M305 38.3 305.6 37.6 308.6 32 308 32.7z" fill="#c25331"/><path d="M290.3 73.6 290.9 77.8 293.9 73 293.3 68.9z" fill="#6565d2"/><path d="M282.3 74 282.9 70.5 285.9 65.7 285.3 69.2z" fill="#5f5fc6"/><path d="M305.6 37.6 306.2 36.9 309.2 31.4 308.6 32z" fill="#d54f35"/><path d="M292.8 76.7 293.4 75.4 296.4 70.1 295.8 71.5z" fill="#6161ca"/><path d="M329.1 45.1 329.7 47.2 332.7 40.5 332.1 38.9z" fill="#faea4b"/><path d="M279.8 68.8 280.4 72.1 283.4 67.3 282.8 64z" fill="#6e6ee6"/><path d="M306.2 36.9 306.9 36.3 309.9 30.7 309.2 31.4z" fill="#c53d30"/><path d="M306.9 36.3 307.5 35.7 310.5 30.3 309.9 30.7z" fill="#da3934"/><path d="M328.4 43.6 329.1 45.1 332.1 38.9 331.4 37.5z" fill="#eac049"/><path d="M293.4 75.4 294 73.8 297 68 296.4 70.1z" fill="#5b5bbf"/><path d="M307.5 35.7 308.1 35.2 311.1 29.9 310.5 30.3z" fill="#c83030"/><path d="M282.9 70.5 283.5 68.2 286.5 63.4 285.9 65.7z" fill="#6565d3"/><path d="M279.2 66.9 279.8 68.8 282.8 64 282.2 62.2z" fill="#6666e2"/><path d="M308.1 35.2 308.7 34.8 311.7 29.5 311.1 29.9z" fill="#d23333"/><path d="M289.7 70.1 290.3 73.6 293.3 68.9 292.7 65.3z" fill="#6e6ee6"/><path d="M327.8 42.3 328.4 43.6 331.4 37.5 330.8 36.4z" fill="#ffba50"/><path d="M308.7 34.8 309.3 34.3 312.3 29.1 311.7 29.5z" fill="#bb2f2f"/><path d="M327.2 41.1 327.8 42.3 330.8 36.4 330.2 35.5z" fill="#ed9c4d"/><path d="M309.3 34.3 309.9 33.9 312.9 28.8 312.3 29.1z" fill="#c63333"/><path d="M294 73.8 294.6 71.8 297.6 65.9 297 68z" fill="#6464d1"/><path d="M278.6 65.1 279.2 66.9 282.2 62.2 281.6 60.3z" fill="#6c83f8"/><path d="M326.6 40.3 327.2 41.1 330.2 35.5 329.6 34.6z" fill="#ff9a54"/><path d="M309.9 33.9 310.6 33.6 313.6 28.5 312.9 28.8z" fill="#b22f2f"/><path d="M326 39.4 326.6 40.3 329.6 34.6 329 33.8z" fill="#ef814f"/><path d="M310.6 33.6 311.2 33.3 314.2 28.2 313.6 28.5z" fill="#bb3232"/><path d="M283.5 68.2 284.1 65.8 287.1 61.1 286.5 63.4z" fill="#5a64cd"/><path d="M289.1 67.7 289.7 70.1 292.7 65.3 292.1 62.9z" fill="#6666d9"/><path d="M325.4 38.6 326 39.4 329 33.8 328.4 33.1z" fill="#ff7d54"/><path d="M311.2 33.3 311.8 33 314.8 28 314.2 28.2z" fill="#a92e2e"/><path d="M278 63.7 278.6 65.1 281.6 60.3 281 58.9z" fill="#6590e8"/><path d="M324.8 37.9 325.4 38.6 328.4 33.1 327.8 32.4z" fill="#f1694f"/><path d="M311.8 33 312.4 32.8 315.4 27.9 314.8 28z" fill="#b83333"/><path d="M277.4 63.3 278 63.7 281 58.9 280.4 58.6z" fill="#7ab3ff"/><path d="M276.7 63 277.4 63.3 280.4 58.6 279.7 58.2z" fill="#71aaf0"/><path d="M312.4 32.8 313 32.7 316 27.9 315.4 27.9z" fill="#ac3030"/><path d="M324.1 37.2 324.8 37.9 327.8 32.4 327.1 31.7z" fill="#ff6353"/><path d="M276.1 62.6 276.7 63 279.7 58.2 279.1 57.9z" fill="#79bbff"/><path d="M294.6 71.8 295.2 69.8 298.2 62.9 297.6 65.9z" fill="#5d5dc2"/><path d="M275.5 62.3 276.1 62.6 279.1 57.9 278.5 57.5z" fill="#70b2f0"/><path d="M313 32.7 313.6 32.6 316.6 27.8 316 27.9z" fill="#bb3434"/><path d="M323.5 36.5 324.1 37.2 327.1 31.7 326.5 31.2z" fill="#f1544f"/><path d="M313.6 32.6 314.3 32.6 317.3 27.8 316.6 27.8z" fill="#ac3030"/><path d="M322.9 36 323.5 36.5 326.5 31.2 325.9 30.7z" fill="#ff5353"/><path d="M284.1 65.8 284.8 64.5 287.8 59.8 287.1 61.1z" fill="#5b7dd6"/><path d="M314.3 32.6 314.9 32.5 317.9 27.8 317.3 27.8z" fill="#bc3535"/><path d="M322.3 35.5 322.9 36 325.9 30.7 325.3 30.2z" fill="#e54e4e"/><path d="M314.9 32.5 315.5 32.5 318.5 27.8 317.9 27.8z" fill="#ae3131"/><path d="M288.4 65.3 289.1 67.7 292.1 62.9 291.4 60.5z" fill="#6b83f6"/><path d="M321.7 35 322.3 35.5 325.3 30.2 324.7 29.8z" fill="#ef5151"/><path d="M315.5 32.5 316.1 32.6 319.1 27.8 318.5 27.8z" fill="#c23a3a"/><path d="M316.1 32.6 316.7 32.7 319.7 27.9 319.1 27.8z" fill="#b43838"/><path d="M321.1 34.5 321.7 35 324.7 29.8 324.1 29.4z" fill="#d64c4c"/><path d="M316.7 32.7 317.4 32.8 320.4 28 319.7 27.9z" fill="#c43e3e"/><path d="M320.4 34.1 321.1 34.5 324.1 29.4 323.4 29z" fill="#df4f4f"/><path d="M317.4 32.8 318 33 321 28.1 320.4 28z" fill="#b63a3a"/><path d="M319.8 33.8 320.4 34.1 323.4 29 322.8 28.7z" fill="#c94a4a"/><path d="M318 33 318.6 33.1 321.6 28.2 321 28.1z" fill="#c53f3f"/><path d="M319.2 33.4 319.8 33.8 322.8 28.7 322.2 28.4z" fill="#d24c4c"/><path d="M318.6 33.1 319.2 33.4 322.2 28.4 321.6 28.2z" fill="#bb4242"/><path d="M284.8 64.5 285.4 63.7 288.4 59 287.8 59.8z" fill="#4f7bbe"/><path d="M287.8 64.4 288.4 65.3 291.4 60.5 290.8 59.7z" fill="#6e99ed"/><path d="M285.4 63.7 286 63 289 58.2 288.4 59z" fill="#558fce"/><path d="M287.2 63.6 287.8 64.4 290.8 59.7 290.2 58.8z" fill="#75b0ff"/><path d="M295.2 69.8 295.9 66.3 298.9 58.5 298.2 62.9z" fill="#627ae3"/><path d="M286.6 62.7 287.2 63.6 290.2 58.8 289.6 58z" fill="#6caeed"/><path d="M286 63 286.4 62.4 289.4 57.7 289 58.2z" fill="#4d8bbe"/><path d="M333.5 80.9 333.9 81.5 336.9 76.7 336.5 76.1z" fill="#7c7cf2"/><path d="M286.4 62.4 286.6 62.7 289.6 58 289.4 57.7z" fill="#73c3ff"/><path d="M333.9 81.5 334.1 80.1 337.1 75.4 336.9 76.7z" fill="#5f5fc7"/><path d="M332.9 80 333.5 80.9 336.5 76.1 335.9 75.1z" fill="#7373e0"/><path d="M332.2 78.8 332.9 80 335.9 75.1 335.2 73.7z" fill="#7777f0"/><path d="M331.6 77.5 332.2 78.8 335.2 73.7 334.6 72.2z" fill="#6c6cdc"/><path d="M334.1 80.1 334.7 76 337.7 71.3 337.1 75.4z" fill="#6767d8"/><path d="M343.3 80.8 343.5 82 346.5 77.3 346.3 76.1z" fill="#6e6ee6"/><path d="M295.9 66.3 296.5 62.2 299.5 54.2 298.9 58.5z" fill="#54a0d1"/><path d="M331 75.8 331.6 77.5 334.6 72.2 334 70z" fill="#7070eb"/><path d="M343.5 82 343.9 79.4 346.9 74.7 346.5 77.3z" fill="#5f5fc6"/><path d="M342.7 77.3 343.3 80.8 346.3 76.1 345.7 72.5z" fill="#6565d3"/><path d="M330.4 73.7 331 75.8 334 70 333.4 67.8z" fill="#6767d8"/><path d="M334.7 76 335.3 72.5 338.3 67.8 337.7 71.3z" fill="#5f5fc6"/><path d="M343.9 79.4 344.6 75.5 347.6 70.8 346.9 74.7z" fill="#6767d8"/><path d="M296.5 62.2 297.1 58.4 300.1 51 299.5 54.2z" fill="#56e2e0"/><path d="M329.8 71.7 330.4 73.7 333.4 67.8 332.8 64.7z" fill="#6f6fe9"/><path d="M342.1 73.7 342.7 77.3 345.7 72.5 345.1 68.9z" fill="#6e6ee6"/><path d="M335.3 72.5 335.9 70.2 338.9 65.5 338.3 67.8z" fill="#6464d6"/><path d="M329.1 68.1 329.8 71.7 332.8 64.7 332.1 60.3z" fill="#6178e0"/><path d="M297.1 58.4 297.7 55.5 300.7 47.9 300.1 51z" fill="#78ce9f"/><path d="M344.6 75.5 345.2 72.3 348.2 67.6 347.6 70.8z" fill="#5e5ec5"/><path d="M341.5 71.3 342.1 73.7 345.1 68.9 344.5 66.5z" fill="#6666d6"/><path d="M335.9 70.2 336.6 67.9 339.6 63.1 338.9 65.5z" fill="#596dcd"/><path d="M340.9 68.9 341.5 71.3 344.5 66.5 343.9 64.2z" fill="#6c78f6"/><path d="M345.2 72.3 345.8 70.5 348.8 65.8 348.2 67.6z" fill="#6262d9"/><path d="M297.7 55.5 298.3 52.6 301.3 45.6 300.7 47.9z" fill="#aadf7e"/><path d="M328.5 64 329.1 68.1 332.1 60.3 331.5 55.9z" fill="#62baf3"/><path d="M336.6 67.9 337.2 67.1 340.2 62.3 339.6 63.1z" fill="#577fce"/><path d="M340.2 67.5 340.9 68.9 343.9 64.2 343.2 62.8z" fill="#668ae8"/><path d="M337.2 67.1 337.8 66.3 340.8 61.5 340.2 62.3z" fill="#4f7ebe"/><path d="M345.8 70.5 346.4 68.7 349.4 64 348.8 65.8z" fill="#576bca"/><path d="M339.6 66.7 340.2 67.5 343.2 62.8 342.6 61.9z" fill="#76acff"/><path d="M337.8 66.3 338.4 65.5 341.4 60.8 340.8 61.5z" fill="#5492ce"/><path d="M298.3 52.6 298.9 50.5 301.9 43.6 301.3 45.6z" fill="#bbca4e"/><path d="M339 65.8 339.6 66.7 342.6 61.9 342 61.1z" fill="#6caaed"/><path d="M338.6 65.2 339 65.8 342 61.1 341.6 60.5z" fill="#73c1ff"/><path d="M338.4 65.5 338.6 65.2 341.6 60.5 341.4 60.8z" fill="#4d8dbe"/><path d="M346.4 68.7 347 67.4 350 62.7 349.4 64z" fill="#5a83d5"/><path d="M327.9 60.1 328.5 64 331.5 55.9 330.9 52.7z" fill="#56e1e0"/><path d="M298.9 50.5 299.6 48.5 302.6 42.2 301.9 43.6z" fill="#d8cb41"/><path d="M347 67.4 347.6 67.1 350.6 62.4 350 62.7z" fill="#588cd4"/><path d="M347.6 67.1 348.3 66.9 351.3 62.1 350.6 62.4z" fill="#5f9ce6"/><path d="M348.3 66.9 348.9 66.6 351.9 61.8 351.3 62.1z" fill="#5793d4"/><path d="M348.9 66.6 349.5 66.3 352.5 61.5 351.9 61.8z" fill="#5ea4e6"/><path d="M299.6 48.5 300.2 47.1 303.2 40.9 302.6 42.2z" fill="#c3a038"/><path d="M278.5 83.4 278.7 82.2 281.7 77.5 281.5 78.7z" fill="#5f5fc6"/><path d="M327.3 57.1 327.9 60.1 330.9 52.7 330.3 49.5z" fill="#8ef6bd"/><path d="M278.1 80.8 278.5 83.4 281.5 78.7 281.1 76z" fill="#6e6ee5"/><path d="M300.2 47.1 300.8 46 303.8 39.9 303.2 40.9z" fill="#d0973a"/><path d="M300.8 46 301.4 44.8 304.4 39.1 303.8 39.9z" fill="#bc7933"/><path d="M278.7 82.2 279.3 78.7 282.3 74 281.7 77.5z" fill="#6767d7"/><path d="M288.1 83.9 288.5 83.4 291.5 78.6 291.1 79.2z" fill="#5656b3"/><path d="M326.7 54.1 327.3 57.1 330.3 49.5 329.7 47.2z" fill="#ade381"/><path d="M287.9 82.5 288.1 83.9 291.1 79.2 290.9 77.8z" fill="#6d6de5"/><path d="M301.4 44.8 302 44.1 305 38.3 304.4 39.1z" fill="#d17737"/><path d="M277.4 76.8 278.1 80.8 281.1 76 280.4 72.1z" fill="#6565d3"/><path d="M288.5 83.4 289.1 82.7 292.1 77.8 291.5 78.6z" fill="#5d5dc3"/><path d="M302 44.1 302.6 43.3 305.6 37.6 305 38.3z" fill="#c06132"/><path d="M289.1 82.7 289.8 81.8 292.8 76.7 292.1 77.8z" fill="#5656b4"/><path d="M326.1 51.9 326.7 54.1 329.7 47.2 329.1 45.1z" fill="#e7f960"/><path d="M302.6 43.3 303.2 42.6 306.2 36.9 305.6 37.6z" fill="#d35d35"/><path d="M287.3 78.4 287.9 82.5 290.9 77.8 290.3 73.6z" fill="#6565d2"/><path d="M279.3 78.7 279.9 75.2 282.9 70.5 282.3 74z" fill="#5f5fc6"/><path d="M289.8 81.8 290.4 80.6 293.4 75.4 292.8 76.7z" fill="#6060c8"/><path d="M303.2 42.6 303.9 41.9 306.9 36.3 306.2 36.9z" fill="#c44b31"/><path d="M325.4 49.9 326.1 51.9 329.1 45.1 328.4 43.6z" fill="#e7d947"/><path d="M276.8 73.5 277.4 76.8 280.4 72.1 279.8 68.8z" fill="#6e6ee6"/><path d="M303.9 41.9 304.5 41.3 307.5 35.7 306.9 36.3z" fill="#d64634"/><path d="M290.4 80.6 291 79.5 294 73.8 293.4 75.4z" fill="#5959ba"/><path d="M304.5 41.3 305.1 40.7 308.1 35.2 307.5 35.7z" fill="#c83730"/><path d="M324.8 48.4 325.4 49.9 328.4 43.6 327.8 42.3z" fill="#fed250"/><path d="M305.1 40.7 305.7 40.1 308.7 34.8 308.1 35.2z" fill="#da3434"/><path d="M324.2 47.2 324.8 48.4 327.8 42.3 327.2 41.1z" fill="#ecaf4c"/><path d="M279.9 75.2 280.5 72.9 283.5 68.2 282.9 70.5z" fill="#6565d3"/><path d="M276.2 71.7 276.8 73.5 279.8 68.8 279.2 66.9z" fill="#6666e2"/><path d="M286.7 74.8 287.3 78.4 290.3 73.6 289.7 70.1z" fill="#6e6ee6"/><path d="M305.7 40.1 306.3 39.7 309.3 34.3 308.7 34.8z" fill="#c32f2f"/><path d="M291 79.5 291.6 77.7 294.6 71.8 294 73.8z" fill="#6363cf"/><path d="M323.6 46 324.2 47.2 327.2 41.1 326.6 40.3z" fill="#ffab53"/><path d="M306.3 39.7 306.9 39.2 309.9 33.9 309.3 34.3z" fill="#cd3333"/><path d="M323 45.2 323.6 46 326.6 40.3 326 39.4z" fill="#f09250"/><path d="M306.9 39.2 307.6 38.8 310.6 33.6 309.9 33.9z" fill="#b72f2f"/><path d="M275.6 69.8 276.2 71.7 279.2 66.9 278.6 65.1z" fill="#6c83f8"/><path d="M322.4 44.4 323 45.2 326 39.4 325.4 38.6z" fill="#ff8e55"/><path d="M307.6 38.8 308.2 38.5 311.2 33.3 310.6 33.6z" fill="#c23333"/><path d="M291.6 77.7 292.2 75.9 295.2 69.8 294.6 71.8z" fill="#5b5bbe"/><path d="M321.8 43.6 322.4 44.4 325.4 38.6 324.8 37.9z" fill="#f07850"/><path d="M280.5 72.9 281.1 70.6 284.1 65.8 283.5 68.2z" fill="#5a64cd"/><path d="M308.2 38.5 308.8 38.1 311.8 33 311.2 33.3z" fill="#ac2e2e"/><path d="M286.1 72.4 286.7 74.8 289.7 70.1 289.1 67.7z" fill="#6666d9"/><path d="M321.1 42.8 321.8 43.6 324.8 37.9 324.1 37.2z" fill="#ff7454"/><path d="M275 68.4 275.6 69.8 278.6 65.1 278 63.7z" fill="#6590e8"/><path d="M308.8 38.1 309.4 37.8 312.4 32.8 311.8 33z" fill="#b73232"/><path d="M320.5 42.2 321.1 42.8 324.1 37.2 323.5 36.5z" fill="#f1614f"/><path d="M309.4 37.8 310 37.5 313 32.7 312.4 32.8z" fill="#a92f2f"/><path d="M274.4 68.1 275 68.4 278 63.7 277.4 63.3z" fill="#7ab3ff"/><path d="M273.7 67.7 274.4 68.1 277.4 63.3 276.7 63z" fill="#71aaf0"/><path d="M273.1 67.4 273.7 67.7 276.7 63 276.1 62.6z" fill="#79bbff"/><path d="M319.9 41.5 320.5 42.2 323.5 36.5 322.9 36z" fill="#ff5c54"/><path d="M272.5 67 273.1 67.4 276.1 62.6 275.5 62.3z" fill="#70b2f0"/><path d="M310 37.5 310.6 37.5 313.6 32.6 313 32.7z" fill="#ba3434"/><path d="M319.3 40.9 319.9 41.5 322.9 36 322.3 35.5z" fill="#f04f4f"/><path d="M310.6 37.5 311.3 37.4 314.3 32.6 313.6 32.6z" fill="#ac3030"/><path d="M318.7 40.4 319.3 40.9 322.3 35.5 321.7 35z" fill="#f95353"/><path d="M311.3 37.4 311.9 37.3 314.9 32.5 314.3 32.6z" fill="#bb3434"/><path d="M281.1 70.6 281.8 69.3 284.8 64.5 284.1 65.8z" fill="#5b7dd6"/><path d="M318.1 39.8 318.7 40.4 321.7 35 321.1 34.5z" fill="#e04e4e"/><path d="M311.9 37.3 312.5 37.2 315.5 32.5 314.9 32.5z" fill="#ad3030"/><path d="M317.4 39.3 318.1 39.8 321.1 34.5 320.4 34.1z" fill="#e85151"/><path d="M292.2 75.9 292.9 74.1 295.9 66.3 295.2 69.8z" fill="#6464d7"/><path d="M285.4 70 286.1 72.4 289.1 67.7 288.4 65.3z" fill="#6b83f6"/><path d="M312.5 37.2 313.1 37.4 316.1 32.6 315.5 32.5z" fill="#c33d3d"/><path d="M316.8 38.9 317.4 39.3 320.4 34.1 319.8 33.8z" fill="#d14b4b"/><path d="M313.1 37.4 313.7 37.5 316.7 32.7 316.1 32.6z" fill="#b63b3b"/><path d="M316.2 38.5 316.8 38.9 319.8 33.8 319.2 33.4z" fill="#da4f4f"/><path d="M313.7 37.5 314.4 37.7 317.4 32.8 316.7 32.7z" fill="#c54040"/><path d="M314.4 37.7 315 37.8 318 33 317.4 32.8z" fill="#b73c3c"/><path d="M315.6 38.1 316.2 38.5 319.2 33.4 318.6 33.1z" fill="#c44949"/><path d="M315 37.8 315.6 38.1 318.6 33.1 318 33z" fill="#cb4747"/><path d="M281.8 69.3 282.4 68.5 285.4 63.7 284.8 64.5z" fill="#4f7bbe"/><path d="M284.8 69.2 285.4 70 288.4 65.3 287.8 64.4z" fill="#6e99ed"/><path d="M282.4 68.5 283 67.7 286 63 285.4 63.7z" fill="#558fce"/><path d="M284.2 68.3 284.8 69.2 287.8 64.4 287.2 63.6z" fill="#75b0ff"/><path d="M283.6 67.5 284.2 68.3 287.2 63.6 286.6 62.7z" fill="#6caeed"/><path d="M283 67.7 283.4 67.2 286.4 62.4 286 63z" fill="#4d8bbe"/><path d="M330.5 85.7 330.9 86.2 333.9 81.5 333.5 80.9z" fill="#7e7ef3"/><path d="M283.4 67.2 283.6 67.5 286.6 62.7 286.4 62.4z" fill="#73c3ff"/><path d="M330.9 86.2 331.1 84.9 334.1 80.1 333.9 81.5z" fill="#5f5fc7"/><path d="M329.9 84.9 330.5 85.7 333.5 80.9 332.9 80z" fill="#7575e2"/><path d="M292.9 74.1 293.5 70.4 296.5 62.2 295.9 66.3z" fill="#597ad0"/><path d="M329.2 83.9 329.9 84.9 332.9 80 332.2 78.8z" fill="#7b7bf2"/><path d="M328.6 82.7 329.2 83.9 332.2 78.8 331.6 77.5z" fill="#6e6edd"/><path d="M328 81.5 328.6 82.7 331.6 77.5 331 75.8z" fill="#7575ef"/><path d="M331.1 84.9 331.7 80.8 334.7 76 334.1 80.1z" fill="#6767d8"/><path d="M340.3 85.6 340.5 86.8 343.5 82 343.3 80.8z" fill="#6e6ee6"/><path d="M340.5 86.8 340.9 84.2 343.9 79.4 343.5 82z" fill="#5f5fc6"/><path d="M293.5 70.4 294.1 66.7 297.1 58.4 296.5 62.2z" fill="#5ab6e2"/><path d="M327.4 79.6 328 81.5 331 75.8 330.4 73.7z" fill="#6868d9"/><path d="M339.7 82 340.3 85.6 343.3 80.8 342.7 77.3z" fill="#6565d3"/><path d="M326.8 77.8 327.4 79.6 330.4 73.7 329.8 71.7z" fill="#7171ec"/><path d="M331.7 80.8 332.3 77.3 335.3 72.5 334.7 76z" fill="#5f5fc6"/><path d="M340.9 84.2 341.6 80.3 344.6 75.5 343.9 79.4z" fill="#6767d8"/><path d="M294.1 66.7 294.7 63.2 297.7 55.5 297.1 58.4z" fill="#52cfc9"/><path d="M326.1 75.9 326.8 77.8 329.8 71.7 329.1 68.1z" fill="#6666da"/><path d="M339.1 78.4 339.7 82 342.7 77.3 342.1 73.7z" fill="#6e6ee6"/><path d="M332.3 77.3 332.9 75 335.9 70.2 335.3 72.5z" fill="#6464d6"/><path d="M341.6 80.3 342.2 77.1 345.2 72.3 344.6 75.5z" fill="#5e5ec5"/><path d="M325.5 72.1 326.1 75.9 329.1 68.1 328.5 64z" fill="#688ef4"/><path d="M294.7 63.2 295.3 60.5 298.3 52.6 297.7 55.5z" fill="#82dfab"/><path d="M338.5 76 339.1 78.4 342.1 73.7 341.5 71.3z" fill="#6666d6"/><path d="M332.9 75 333.6 72.6 336.6 67.9 335.9 70.2z" fill="#596dcd"/><path d="M337.9 73.7 338.5 76 341.5 71.3 340.9 68.9z" fill="#6c78f6"/><path d="M342.2 77.1 342.8 75.3 345.8 70.5 345.2 72.3z" fill="#6262d9"/><path d="M295.3 60.5 295.9 57.8 298.9 50.5 298.3 52.6z" fill="#9acc75"/><path d="M333.6 72.6 334.2 71.8 337.2 67.1 336.6 67.9z" fill="#577fce"/><path d="M324.9 68.4 325.5 72.1 328.5 64 327.9 60.1z" fill="#59b5e1"/><path d="M337.2 72.3 337.9 73.7 340.9 68.9 340.2 67.5z" fill="#668ae8"/><path d="M334.2 71.8 334.8 71 337.8 66.3 337.2 67.1z" fill="#4f7ebe"/><path d="M342.8 75.3 343.4 73.5 346.4 68.7 345.8 70.5z" fill="#576bca"/><path d="M336.6 71.4 337.2 72.3 340.2 67.5 339.6 66.7z" fill="#76acff"/><path d="M295.9 57.8 296.6 55.7 299.6 48.5 298.9 50.5z" fill="#c7db59"/><path d="M334.8 71 335.4 70.3 338.4 65.5 337.8 66.3z" fill="#5492ce"/><path d="M336 70.6 336.6 71.4 339.6 66.7 339 65.8z" fill="#6caaed"/><path d="M335.6 70 336 70.6 339 65.8 338.6 65.2z" fill="#73c1ff"/><path d="M335.4 70.3 335.6 70 338.6 65.2 338.4 65.5z" fill="#4d8dbe"/><path d="M343.4 73.5 344 72.2 347 67.4 346.4 68.7z" fill="#5a83d5"/><path d="M324.3 64.8 324.9 68.4 327.9 60.1 327.3 57.1z" fill="#62f5ef"/><path d="M296.6 55.7 297.2 53.8 300.2 47.1 299.6 48.5z" fill="#c6be3c"/><path d="M344 72.2 344.6 71.9 347.6 67.1 347 67.4z" fill="#588cd4"/><path d="M344.6 71.9 345.3 71.6 348.3 66.9 347.6 67.1z" fill="#5f9ce6"/><path d="M345.3 71.6 345.9 71.3 348.9 66.6 348.3 66.9z" fill="#5793d4"/><path d="M297.2 53.8 297.8 52.3 300.8 46 300.2 47.1z" fill="#d4b33e"/><path d="M345.9 71.3 346.5 71 349.5 66.3 348.9 66.6z" fill="#5ea4e6"/><path d="M323.7 62 324.3 64.8 327.3 57.1 326.7 54.1z" fill="#84e3ae"/><path d="M297.8 52.3 298.4 51.2 301.4 44.8 300.8 46z" fill="#bf8f36"/><path d="M298.4 51.2 299 50.1 302 44.1 301.4 44.8z" fill="#cc8838"/><path d="M323.1 59.2 323.7 62 326.7 54.1 326.1 51.9z" fill="#bbf88f"/><path d="M299 50.1 299.6 49.2 302.6 43.3 302 44.1z" fill="#bf7133"/><path d="M299.6 49.2 300.2 48.5 303.2 42.6 302.6 43.3z" fill="#d26f37"/><path d="M322.4 57.1 323.1 59.2 326.1 51.9 325.4 49.9z" fill="#d1e65d"/><path d="M300.2 48.5 300.9 47.7 303.9 41.9 303.2 42.6z" fill="#c35b32"/><path d="M300.9 47.7 301.5 47 304.5 41.3 303.9 41.9z" fill="#d55735"/><path d="M321.8 55.2 322.4 57.1 325.4 49.9 324.8 48.4z" fill="#fcf24f"/><path d="M301.5 47 302.1 46.4 305.1 40.7 304.5 41.3z" fill="#c54530"/><path d="M321.2 53.5 321.8 55.2 324.8 48.4 324.2 47.2z" fill="#eac74a"/><path d="M302.1 46.4 302.7 45.8 305.7 40.1 305.1 40.7z" fill="#d84034"/><path d="M320.6 52.4 321.2 53.5 324.2 47.2 323.6 46z" fill="#ffc353"/><path d="M302.7 45.8 303.3 45.1 306.3 39.7 305.7 40.1z" fill="#c8312f"/><path d="M303.3 45.1 303.9 44.7 306.9 39.2 306.3 39.7z" fill="#d73434"/><path d="M320 51.2 320.6 52.4 323.6 46 323 45.2z" fill="#eea550"/><path d="M303.9 44.7 304.6 44.2 307.6 38.8 306.9 39.2z" fill="#be2f2f"/><path d="M319.4 50.3 320 51.2 323 45.2 322.4 44.4z" fill="#ffa356"/><path d="M318.8 49.5 319.4 50.3 322.4 44.4 321.8 43.6z" fill="#f08b51"/><path d="M304.6 44.2 305.2 43.8 308.2 38.5 307.6 38.8z" fill="#c83333"/><path d="M318.1 48.7 318.8 49.5 321.8 43.6 321.1 42.8z" fill="#ff8756"/><path d="M305.2 43.8 305.8 43.4 308.8 38.1 308.2 38.5z" fill="#b22e2e"/><path d="M317.5 47.9 318.1 48.7 321.1 42.8 320.5 42.2z" fill="#f17250"/><path d="M305.8 43.4 306.4 43 309.4 37.8 308.8 38.1z" fill="#bb3232"/><path d="M316.9 47.2 317.5 47.9 320.5 42.2 319.9 41.5z" fill="#ff6d54"/><path d="M306.4 43 307 42.6 310 37.5 309.4 37.8z" fill="#a72e2e"/><path d="M316.3 46.5 316.9 47.2 319.9 41.5 319.3 40.9z" fill="#f15c50"/><path d="M315.7 45.8 316.3 46.5 319.3 40.9 318.7 40.4z" fill="#ff5653"/><path d="M307 42.6 307.6 42.3 310.6 37.5 310 37.5z" fill="#b63333"/><path d="M315.1 45.3 315.7 45.8 318.7 40.4 318.1 39.8z" fill="#eb4f4f"/><path d="M307.6 42.3 308.3 42.2 311.3 37.4 310.6 37.5z" fill="#ab3030"/><path d="M314.4 44.8 315.1 45.3 318.1 39.8 317.4 39.3z" fill="#f45252"/><path d="M308.3 42.2 308.9 42.1 311.9 37.3 311.3 37.4z" fill="#ba3434"/><path d="M313.8 44.2 314.4 44.8 317.4 39.3 316.8 38.9z" fill="#db4d4d"/><path d="M313.2 43.8 313.8 44.2 316.8 38.9 316.2 38.5z" fill="#e35050"/><path d="M308.9 42.1 309.5 42 312.5 37.2 311.9 37.3z" fill="#ab3030"/><path d="M312.6 43.3 313.2 43.8 316.2 38.5 315.6 38.1z" fill="#cc4b4b"/><path d="M309.5 42 310.1 42.2 313.1 37.4 312.5 37.2z" fill="#c64040"/><path d="M310.1 42.2 310.7 42.3 313.7 37.5 313.1 37.4z" fill="#b73d3d"/><path d="M312 42.9 312.6 43.3 315.6 38.1 315 37.8z" fill="#d44e4e"/><path d="M310.7 42.3 311.4 42.5 314.4 37.7 313.7 37.5z" fill="#c64242"/><path d="M311.4 42.5 312 42.9 315 37.8 314.4 37.7z" fill="#bd4545"/></g>
<g shape-rendering="crispEdges">
<g><rect x="406.3" y="22.00" width="37.15" height="1.80" fill="url(#h0)"/><rect x="406.3" y="23.00" width="37.15" height="1.80" fill="url(#h1)"/><rect x="406.3" y="24.01" width="37.15" height="1.80" fill="url(#h2)"/><rect x="406.3" y="25.01" width="37.15" height="1.80" fill="url(#h3)"/><rect x="406.3" y="26.01" width="37.15" height="1.80" fill="url(#h4)"/><rect x="406.3" y="27.01" width="37.15" height="1.80" fill="url(#h5)"/><rect x="406.3" y="28.02" width="37.15" height="1.80" fill="url(#h6)"/><rect x="406.3" y="29.02" width="37.15" height="1.80" fill="url(#h7)"/><rect x="406.3" y="30.02" width="37.15" height="1.80" fill="url(#h8)"/><rect x="406.3" y="31.02" width="37.15" height="1.80" fill="url(#h9)"/><rect x="406.3" y="32.03" width="37.15" height="1.80" fill="url(#h10)"/><rect x="406.3" y="33.03" width="37.15" height="1.80" fill="url(#h11)"/><rect x="406.3" y="34.03" width="37.15" height="1.80" fill="url(#h12)"/><rect x="406.3" y="35.03" width="37.15" height="1.80" fill="url(#h13)"/><rect x="406.3" y="36.04" width="37.15" height="1.80" fill="url(#h14)"/><rect x="406.3" y="37.04" width="37.15" height="1.80" fill="url(#h15)"/><rect x="406.3" y="38.04" width="37.15" height="1.80" fill="url(#h16)"/><rect x="406.3" y="39.04" width="37.15" height="1.80" fill="url(#h17)"/><rect x="406.3" y="40.05" width="37.15" height="1.80" fill="url(#h18)"/><rect x="406.3" y="41.05" width="37.15" height="1.80" fill="url(#h19)"/><rect x="406.3" y="42.05" width="37.15" height="1.80" fill="url(#h20)"/><rect x="406.3" y="43.06" width="37.15" height="1.80" fill="url(#h21)"/><rect x="406.3" y="44.06" width="37.15" height="1.80" fill="url(#h22)"/><rect x="406.3" y="45.06" width="37.15" height="1.80" fill="url(#h23)"/><rect x="406.3" y="46.06" width="37.15" height="1.80" fill="url(#h24)"/><rect x="406.3" y="47.07" width="37.15" height="1.80" fill="url(#h25)"/><rect x="406.3" y="48.07" width="37.15" height="1.80" fill="url(#h26)"/><rect x="406.3" y="49.07" width="37.15" height="1.80" fill="url(#h27)"/><rect x="406.3" y="50.07" width="37.15" height="1.80" fill="url(#h28)"/><rect x="406.3" y="51.08" width="37.15" height="1.80" fill="url(#h29)"/><rect x="406.3" y="52.08" width="37.15" height="1.80" fill="url(#h30)"/><rect x="406.3" y="53.08" width="37.15" height="1.80" fill="url(#h31)"/><rect x="406.3" y="54.08" width="37.15" height="1.80" fill="url(#h32)"/><rect x="406.3" y="55.09" width="37.15" height="1.80" fill="url(#h33)"/><rect x="406.3" y="56.09" width="37.15" height="1.80" fill="url(#h34)"/><rect x="406.3" y="57.09" width="37.15" height="1.80" fill="url(#h35)"/><rect x="406.3" y="58.09" width="37.15" height="1.80" fill="url(#h36)"/><rect x="406.3" y="59.10" width="37.15" height="1.02" fill="url(#h37)"/></g>
<g transform="translate(886.30,0) scale(-1,1)"><rect x="406.3" y="22.00" width="37.15" height="1.80" fill="url(#h0)"/><rect x="406.3" y="23.00" width="37.15" height="1.80" fill="url(#h1)"/><rect x="406.3" y="24.01" width="37.15" height="1.80" fill="url(#h2)"/><rect x="406.3" y="25.01" width="37.15" height="1.80" fill="url(#h3)"/><rect x="406.3" y="26.01" width="37.15" height="1.80" fill="url(#h4)"/><rect x="406.3" y="27.01" width="37.15" height="1.80" fill="url(#h5)"/><rect x="406.3" y="28.02" width="37.15" height="1.80" fill="url(#h6)"/><rect x="406.3" y="29.02" width="37.15" height="1.80" fill="url(#h7)"/><rect x="406.3" y="30.02" width="37.15" height="1.80" fill="url(#h8)"/><rect x="406.3" y="31.02" width="37.15" height="1.80" fill="url(#h9)"/><rect x="406.3" y="32.03" width="37.15" height="1.80" fill="url(#h10)"/><rect x="406.3" y="33.03" width="37.15" height="1.80" fill="url(#h11)"/><rect x="406.3" y="34.03" width="37.15" height="1.80" fill="url(#h12)"/><rect x="406.3" y="35.03" width="37.15" height="1.80" fill="url(#h13)"/><rect x="406.3" y="36.04" width="37.15" height="1.80" fill="url(#h14)"/><rect x="406.3" y="37.04" width="37.15" height="1.80" fill="url(#h15)"/><rect x="406.3" y="38.04" width="37.15" height="1.80" fill="url(#h16)"/><rect x="406.3" y="39.04" width="37.15" height="1.80" fill="url(#h17)"/><rect x="406.3" y="40.05" width="37.15" height="1.80" fill="url(#h18)"/><rect x="406.3" y="41.05" width="37.15" height="1.80" fill="url(#h19)"/><rect x="406.3" y="42.05" width="37.15" height="1.80" fill="url(#h20)"/><rect x="406.3" y="43.06" width="37.15" height="1.80" fill="url(#h21)"/><rect x="406.3" y="44.06" width="37.15" height="1.80" fill="url(#h22)"/><rect x="406.3" y="45.06" width="37.15" height="1.80" fill="url(#h23)"/><rect x="406.3" y="46.06" width="37.15" height="1.80" fill="url(#h24)"/><rect x="406.3" y="47.07" width="37.15" height="1.80" fill="url(#h25)"/><rect x="406.3" y="48.07" width="37.15" height="1.80" fill="url(#h26)"/><rect x="406.3" y="49.07" width="37.15" height="1.80" fill="url(#h27)"/><rect x="406.3" y="50.07" width="37.15" height="1.80" fill="url(#h28)"/><rect x="406.3" y="51.08" width="37.15" height="1.80" fill="url(#h29)"/><rect x="406.3" y="52.08" width="37.15" height="1.80" fill="url(#h30)"/><rect x="406.3" y="53.08" width="37.15" height="1.80" fill="url(#h31)"/><rect x="406.3" y="54.08" width="37.15" height="1.80" fill="url(#h32)"/><rect x="406.3" y="55.09" width="37.15" height="1.80" fill="url(#h33)"/><rect x="406.3" y="56.09" width="37.15" height="1.80" fill="url(#h34)"/><rect x="406.3" y="57.09" width="37.15" height="1.80" fill="url(#h35)"/><rect x="406.3" y="58.09" width="37.15" height="1.80" fill="url(#h36)"/><rect x="406.3" y="59.10" width="37.15" height="1.02" fill="url(#h37)"/></g>
<g transform="translate(0,120.20) scale(1,-1)"><rect x="406.3" y="22.00" width="37.15" height="1.80" fill="url(#h0)"/><rect x="406.3" y="23.00" width="37.15" height="1.80" fill="url(#h1)"/><rect x="406.3" y="24.01" width="37.15" height="1.80" fill="url(#h2)"/><rect x="406.3" y="25.01" width="37.15" height="1.80" fill="url(#h3)"/><rect x="406.3" y="26.01" width="37.15" height="1.80" fill="url(#h4)"/><rect x="406.3" y="27.01" width="37.15" height="1.80" fill="url(#h5)"/><rect x="406.3" y="28.02" width="37.15" height="1.80" fill="url(#h6)"/><rect x="406.3" y="29.02" width="37.15" height="1.80" fill="url(#h7)"/><rect x="406.3" y="30.02" width="37.15" height="1.80" fill="url(#h8)"/><rect x="406.3" y="31.02" width="37.15" height="1.80" fill="url(#h9)"/><rect x="406.3" y="32.03" width="37.15" height="1.80" fill="url(#h10)"/><rect x="406.3" y="33.03" width="37.15" height="1.80" fill="url(#h11)"/><rect x="406.3" y="34.03" width="37.15" height="1.80" fill="url(#h12)"/><rect x="406.3" y="35.03" width="37.15" height="1.80" fill="url(#h13)"/><rect x="406.3" y="36.04" width="37.15" height="1.80" fill="url(#h14)"/><rect x="406.3" y="37.04" width="37.15" height="1.80" fill="url(#h15)"/><rect x="406.3" y="38.04" width="37.15" height="1.80" fill="url(#h16)"/><rect x="406.3" y="39.04" width="37.15" height="1.80" fill="url(#h17)"/><rect x="406.3" y="40.05" width="37.15" height="1.80" fill="url(#h18)"/><rect x="406.3" y="41.05" width="37.15" height="1.80" fill="url(#h19)"/><rect x="406.3" y="42.05" width="37.15" height="1.80" fill="url(#h20)"/><rect x="406.3" y="43.06" width="37.15" height="1.80" fill="url(#h21)"/><rect x="406.3" y="44.06" width="37.15" height="1.80" fill="url(#h22)"/><rect x="406.3" y="45.06" width="37.15" height="1.80" fill="url(#h23)"/><rect x="406.3" y="46.06" width="37.15" height="1.80" fill="url(#h24)"/><rect x="406.3" y="47.07" width="37.15" height="1.80" fill="url(#h25)"/><rect x="406.3" y="48.07" width="37.15" height="1.80" fill="url(#h26)"/><rect x="406.3" y="49.07" width="37.15" height="1.80" fill="url(#h27)"/><rect x="406.3" y="50.07" width="37.15" height="1.80" fill="url(#h28)"/><rect x="406.3" y="51.08" width="37.15" height="1.80" fill="url(#h29)"/><rect x="406.3" y="52.08" width="37.15" height="1.80" fill="url(#h30)"/><rect x="406.3" y="53.08" width="37.15" height="1.80" fill="url(#h31)"/><rect x="406.3" y="54.08" width="37.15" height="1.80" fill="url(#h32)"/><rect x="406.3" y="55.09" width="37.15" height="1.80" fill="url(#h33)"/><rect x="406.3" y="56.09" width="37.15" height="1.80" fill="url(#h34)"/><rect x="406.3" y="57.09" width="37.15" height="1.80" fill="url(#h35)"/><rect x="406.3" y="58.09" width="37.15" height="1.80" fill="url(#h36)"/><rect x="406.3" y="59.10" width="37.15" height="1.02" fill="url(#h37)"/></g>
<g transform="translate(886.30,120.20) scale(-1,-1)"><rect x="406.3" y="22.00" width="37.15" height="1.80" fill="url(#h0)"/><rect x="406.3" y="23.00" width="37.15" height="1.80" fill="url(#h1)"/><rect x="406.3" y="24.01" width="37.15" height="1.80" fill="url(#h2)"/><rect x="406.3" y="25.01" width="37.15" height="1.80" fill="url(#h3)"/><rect x="406.3" y="26.01" width="37.15" height="1.80" fill="url(#h4)"/><rect x="406.3" y="27.01" width="37.15" height="1.80" fill="url(#h5)"/><rect x="406.3" y="28.02" width="37.15" height="1.80" fill="url(#h6)"/><rect x="406.3" y="29.02" width="37.15" height="1.80" fill="url(#h7)"/><rect x="406.3" y="30.02" width="37.15" height="1.80" fill="url(#h8)"/><rect x="406.3" y="31.02" width="37.15" height="1.80" fill="url(#h9)"/><rect x="406.3" y="32.03" width="37.15" height="1.80" fill="url(#h10)"/><rect x="406.3" y="33.03" width="37.15" height="1.80" fill="url(#h11)"/><rect x="406.3" y="34.03" width="37.15" height="1.80" fill="url(#h12)"/><rect x="406.3" y="35.03" width="37.15" height="1.80" fill="url(#h13)"/><rect x="406.3" y="36.04" width="37.15" height="1.80" fill="url(#h14)"/><rect x="406.3" y="37.04" width="37.15" height="1.80" fill="url(#h15)"/><rect x="406.3" y="38.04" width="37.15" height="1.80" fill="url(#h16)"/><rect x="406.3" y="39.04" width="37.15" height="1.80" fill="url(#h17)"/><rect x="406.3" y="40.05" width="37.15" height="1.80" fill="url(#h18)"/><rect x="406.3" y="41.05" width="37.15" height="1.80" fill="url(#h19)"/><rect x="406.3" y="42.05" width="37.15" height="1.80" fill="url(#h20)"/><rect x="406.3" y="43.06" width="37.15" height="1.80" fill="url(#h21)"/><rect x="406.3" y="44.06" width="37.15" height="1.80" fill="url(#h22)"/><rect x="406.3" y="45.06" width="37.15" height="1.80" fill="url(#h23)"/><rect x="406.3" y="46.06" width="37.15" height="1.80" fill="url(#h24)"/><rect x="406.3" y="47.07" width="37.15" height="1.80" fill="url(#h25)"/><rect x="406.3" y="48.07" width="37.15" height="1.80" fill="url(#h26)"/><rect x="406.3" y="49.07" width="37.15" height="1.80" fill="url(#h27)"/><rect x="406.3" y="50.07" width="37.15" height="1.80" fill="url(#h28)"/><rect x="406.3" y="51.08" width="37.15" height="1.80" fill="url(#h29)"/><rect x="406.3" y="52.08" width="37.15" height="1.80" fill="url(#h30)"/><rect x="406.3" y="53.08" width="37.15" height="1.80" fill="url(#h31)"/><rect x="406.3" y="54.08" width="37.15" height="1.80" fill="url(#h32)"/><rect x="406.3" y="55.09" width="37.15" height="1.80" fill="url(#h33)"/><rect x="406.3" y="56.09" width="37.15" height="1.80" fill="url(#h34)"/><rect x="406.3" y="57.09" width="37.15" height="1.80" fill="url(#h35)"/><rect x="406.3" y="58.09" width="37.15" height="1.80" fill="url(#h36)"/><rect x="406.3" y="59.10" width="37.15" height="1.02" fill="url(#h37)"/></g>
</g>
<rect x="489.6" y="22" width="6.1" height="76.2" fill="url(#cb)"/>
<rect x="489.6" y="22" width="6.1" height="76.2" fill="none" stroke="#999" stroke-width="0.3"/>
<rect x="406.3" y="22" width="73.7" height="76.2" fill="none" stroke="#999" stroke-width="0.3"/>
<g font-size="4.4">
<text x="404.3" y="23.6" text-anchor="end">180</text>
<text x="404.3" y="42.6" text-anchor="end">135</text>
<text x="404.3" y="61.7" text-anchor="end">90</text>
<text x="404.3" y="80.8" text-anchor="end">45</text>
<text x="404.3" y="99.8" text-anchor="end">0</text>
<text x="406.3" y="104" text-anchor="middle">-180</text>
<text x="424.7" y="104" text-anchor="middle">-90</text>
<text x="443.1" y="104" text-anchor="middle">0</text>
<text x="461.6" y="104" text-anchor="middle">90</text>
<text x="480.0" y="104" text-anchor="middle">180</text>
<text x="497.3" y="23.6">0dB</text>
<text x="497.3" y="42.6">-10dB</text>
<text x="497.3" y="61.7">-20dB</text>
<text x="497.3" y="80.8">-30dB</text>
<text x="497.3" y="99.8">-40dB</text>
</g>
<text x="443" y="109.5" font-size="5.4" text-anchor="middle"><tspan font-style="italic">θ</tspan> (°)</text>
<text transform="translate(395.6,60) rotate(-90)" font-size="5.4" text-anchor="middle"><tspan font-style="italic">φ</tspan> (°)</text>
</g>
<g fill="#3c3c3c"><rect x="0" y="0" width="520" height="1.15"/><rect x="0" y="0" width="1.2" height="328"/><rect x="518.8" y="0" width="1.2" height="328"/><rect x="0" y="326.7" width="520" height="1.3"/></g>
<g fill="#707070"><rect x="0" y="110.7" width="520" height="1.3"/><rect x="0" y="221.8" width="520" height="1.3"/></g>
</svg>
</body></html>
